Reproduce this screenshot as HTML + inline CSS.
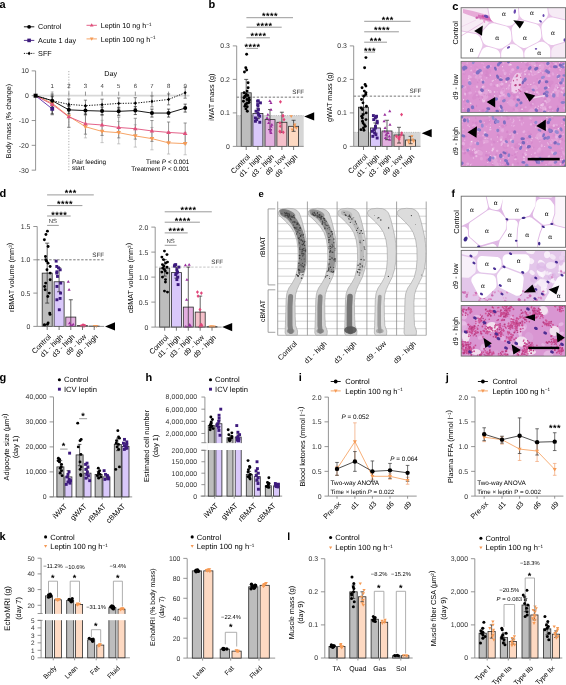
<!DOCTYPE html>
<html><head><meta charset="utf-8"><title>Figure</title>
<style>html,body{margin:0;padding:0;background:#fff;} svg{display:block;}</style></head>
<body><svg width="566" height="685" viewBox="0 0 566 685" font-family="'Liberation Sans', Arial, sans-serif" text-rendering="geometricPrecision">
<defs><filter id="soft" x="-5%" y="-5%" width="110%" height="110%"><feGaussianBlur stdDeviation="0.4"/></filter></defs>
<rect width="566" height="685" fill="#fff"/>
<text x="-0.6" y="7.7" font-size="11" font-weight="bold" fill="#000">a</text>
<line x1="23.9" y1="26.8" x2="34.3" y2="26.8" stroke="#000" stroke-width="0.9"/>
<circle cx="29.1" cy="26.8" r="1.9" fill="#000"/>
<text x="38.1" y="29.4" font-size="7.2">Control</text>
<line x1="23.9" y1="40.4" x2="34.3" y2="40.4" stroke="#3d1a7d" stroke-width="0.9"/>
<rect x="27.3" y="38.6" width="3.6" height="3.6" fill="#3d1a7d"/>
<text x="38.1" y="43" font-size="7.2">Acute 1 day</text>
<line x1="23.9" y1="53.4" x2="34.3" y2="53.4" stroke="#000" stroke-width="0.9" stroke-dasharray="1.2,1.2"/>
<polygon points="29.1,51.6 30.6,53.4 29.1,55.2 27.6,53.4" fill="#000"/>
<text x="38.1" y="56" font-size="7.2">SFF</text>
<line x1="86.5" y1="25.3" x2="96.9" y2="25.3" stroke="#e0507c" stroke-width="0.9"/>
<polygon points="91.7,23.35 93.57,26.57 89.83,26.57" fill="#e0507c"/>
<text x="100.7" y="27.9" font-size="7.2">Leptin 10 ng h<tspan dy="-2.2" font-size="4.6">−1</tspan></text>
<line x1="86.5" y1="38.9" x2="96.9" y2="38.9" stroke="#f59a55" stroke-width="0.9"/>
<polygon points="91.7,40.85 93.57,37.62 89.83,37.62" fill="#f59a55"/>
<text x="100.7" y="41.5" font-size="7.2">Leptin 100 ng h<tspan dy="-2.2" font-size="4.6">−1</tspan></text>
<line x1="35.6" y1="95.7" x2="189.5" y2="95.7" stroke="#d8d8d8" stroke-width="1.7"/>
<line x1="52.22" y1="91.6" x2="52.22" y2="95.7" stroke="#7a7a7a" stroke-width="0.8"/>
<text x="52.22" y="88.3" font-size="6" text-anchor="middle" fill="#333">1</text>
<line x1="68.84" y1="91.6" x2="68.84" y2="95.7" stroke="#7a7a7a" stroke-width="0.8"/>
<text x="68.84" y="88.3" font-size="6" text-anchor="middle" fill="#333">2</text>
<line x1="85.46" y1="91.6" x2="85.46" y2="95.7" stroke="#7a7a7a" stroke-width="0.8"/>
<text x="85.46" y="88.3" font-size="6" text-anchor="middle" fill="#333">3</text>
<line x1="102.08" y1="91.6" x2="102.08" y2="95.7" stroke="#7a7a7a" stroke-width="0.8"/>
<text x="102.08" y="88.3" font-size="6" text-anchor="middle" fill="#333">4</text>
<line x1="118.7" y1="91.6" x2="118.7" y2="95.7" stroke="#7a7a7a" stroke-width="0.8"/>
<text x="118.7" y="88.3" font-size="6" text-anchor="middle" fill="#333">5</text>
<line x1="135.32" y1="91.6" x2="135.32" y2="95.7" stroke="#7a7a7a" stroke-width="0.8"/>
<text x="135.32" y="88.3" font-size="6" text-anchor="middle" fill="#333">6</text>
<line x1="151.94" y1="91.6" x2="151.94" y2="95.7" stroke="#7a7a7a" stroke-width="0.8"/>
<text x="151.94" y="88.3" font-size="6" text-anchor="middle" fill="#333">7</text>
<line x1="168.56" y1="91.6" x2="168.56" y2="95.7" stroke="#7a7a7a" stroke-width="0.8"/>
<text x="168.56" y="88.3" font-size="6" text-anchor="middle" fill="#333">8</text>
<line x1="185.18" y1="91.6" x2="185.18" y2="95.7" stroke="#7a7a7a" stroke-width="0.8"/>
<text x="185.18" y="88.3" font-size="6" text-anchor="middle" fill="#333">9</text>
<text x="110.6" y="75.9" font-size="7.2" text-anchor="middle">Day</text>
<line x1="35.6" y1="70.9" x2="35.6" y2="170.4" stroke="#7a7a7a" stroke-width="0.8"/>
<line x1="31.7" y1="70.88" x2="35.6" y2="70.88" stroke="#7a7a7a" stroke-width="0.8"/>
<text x="28.8" y="73.33" font-size="6.9" text-anchor="end" fill="#333">10</text>
<line x1="31.7" y1="95.7" x2="35.6" y2="95.7" stroke="#7a7a7a" stroke-width="0.8"/>
<text x="28.8" y="98.15" font-size="6.9" text-anchor="end" fill="#333">0</text>
<line x1="31.7" y1="120.52" x2="35.6" y2="120.52" stroke="#7a7a7a" stroke-width="0.8"/>
<text x="28.8" y="122.97" font-size="6.9" text-anchor="end" fill="#333">-10</text>
<line x1="31.7" y1="145.34" x2="35.6" y2="145.34" stroke="#7a7a7a" stroke-width="0.8"/>
<text x="28.8" y="147.79" font-size="6.9" text-anchor="end" fill="#333">-20</text>
<line x1="31.7" y1="170.16" x2="35.6" y2="170.16" stroke="#7a7a7a" stroke-width="0.8"/>
<text x="28.8" y="172.61" font-size="6.9" text-anchor="end" fill="#333">-30</text>
<text x="10.7" y="121" font-size="7.2" text-anchor="middle" transform="rotate(-90 10.7 121)">Body mass (% change)</text>
<line x1="68.84" y1="71" x2="68.84" y2="170.5" stroke="#9a9a9a" stroke-width="0.8" stroke-dasharray="1.2,1.6"/>
<text x="72" y="163.9" font-size="6.4">Pair feeding</text>
<text x="72" y="170.2" font-size="6.4">start</text>
<text x="189.4" y="164" font-size="6.4" text-anchor="end">Time <tspan font-style="italic">P</tspan> &lt; 0.001</text>
<text x="189.4" y="170.8" font-size="6.4" text-anchor="end">Treatment <tspan font-style="italic">P</tspan> &lt; 0.001</text>
<line x1="52.22" y1="114.31" x2="52.22" y2="91.98" stroke="#b0b0b0" stroke-width="0.7"/>
<line x1="50.62" y1="114.31" x2="53.82" y2="114.31" stroke="#b0b0b0" stroke-width="0.7"/>
<line x1="50.62" y1="91.98" x2="53.82" y2="91.98" stroke="#b0b0b0" stroke-width="0.7"/>
<line x1="52.22" y1="114.81" x2="52.22" y2="93.96" stroke="#6a6a6a" stroke-width="0.7"/>
<line x1="50.62" y1="114.81" x2="53.82" y2="114.81" stroke="#6a6a6a" stroke-width="0.7"/>
<line x1="50.62" y1="93.96" x2="53.82" y2="93.96" stroke="#6a6a6a" stroke-width="0.7"/>
<line x1="52.22" y1="106.12" x2="52.22" y2="95.2" stroke="#555" stroke-width="0.7"/>
<line x1="50.62" y1="106.12" x2="53.82" y2="106.12" stroke="#555" stroke-width="0.7"/>
<line x1="50.62" y1="95.2" x2="53.82" y2="95.2" stroke="#555" stroke-width="0.7"/>
<line x1="52.22" y1="104.64" x2="52.22" y2="96.69" stroke="#222" stroke-width="0.7"/>
<line x1="50.62" y1="104.64" x2="53.82" y2="104.64" stroke="#222" stroke-width="0.7"/>
<line x1="50.62" y1="96.69" x2="53.82" y2="96.69" stroke="#222" stroke-width="0.7"/>
<line x1="68.84" y1="127.47" x2="68.84" y2="105.13" stroke="#b0b0b0" stroke-width="0.7"/>
<line x1="67.24" y1="127.47" x2="70.44" y2="127.47" stroke="#b0b0b0" stroke-width="0.7"/>
<line x1="67.24" y1="105.13" x2="70.44" y2="105.13" stroke="#b0b0b0" stroke-width="0.7"/>
<line x1="68.84" y1="127.22" x2="68.84" y2="106.37" stroke="#6a6a6a" stroke-width="0.7"/>
<line x1="67.24" y1="127.22" x2="70.44" y2="127.22" stroke="#6a6a6a" stroke-width="0.7"/>
<line x1="67.24" y1="106.37" x2="70.44" y2="106.37" stroke="#6a6a6a" stroke-width="0.7"/>
<line x1="68.84" y1="109.85" x2="68.84" y2="98.93" stroke="#555" stroke-width="0.7"/>
<line x1="67.24" y1="109.85" x2="70.44" y2="109.85" stroke="#555" stroke-width="0.7"/>
<line x1="67.24" y1="98.93" x2="70.44" y2="98.93" stroke="#555" stroke-width="0.7"/>
<line x1="68.84" y1="113.82" x2="68.84" y2="105.88" stroke="#222" stroke-width="0.7"/>
<line x1="67.24" y1="113.82" x2="70.44" y2="113.82" stroke="#222" stroke-width="0.7"/>
<line x1="67.24" y1="105.88" x2="70.44" y2="105.88" stroke="#222" stroke-width="0.7"/>
<line x1="85.46" y1="137.89" x2="85.46" y2="115.56" stroke="#b0b0b0" stroke-width="0.7"/>
<line x1="83.86" y1="137.89" x2="87.06" y2="137.89" stroke="#b0b0b0" stroke-width="0.7"/>
<line x1="83.86" y1="115.56" x2="87.06" y2="115.56" stroke="#b0b0b0" stroke-width="0.7"/>
<line x1="85.46" y1="134.17" x2="85.46" y2="113.32" stroke="#6a6a6a" stroke-width="0.7"/>
<line x1="83.86" y1="134.17" x2="87.06" y2="134.17" stroke="#6a6a6a" stroke-width="0.7"/>
<line x1="83.86" y1="113.32" x2="87.06" y2="113.32" stroke="#6a6a6a" stroke-width="0.7"/>
<line x1="85.46" y1="111.09" x2="85.46" y2="100.17" stroke="#555" stroke-width="0.7"/>
<line x1="83.86" y1="111.09" x2="87.06" y2="111.09" stroke="#555" stroke-width="0.7"/>
<line x1="83.86" y1="100.17" x2="87.06" y2="100.17" stroke="#555" stroke-width="0.7"/>
<line x1="85.46" y1="114.56" x2="85.46" y2="106.62" stroke="#222" stroke-width="0.7"/>
<line x1="83.86" y1="114.56" x2="87.06" y2="114.56" stroke="#222" stroke-width="0.7"/>
<line x1="83.86" y1="106.62" x2="87.06" y2="106.62" stroke="#222" stroke-width="0.7"/>
<line x1="102.08" y1="142.61" x2="102.08" y2="120.27" stroke="#b0b0b0" stroke-width="0.7"/>
<line x1="100.48" y1="142.61" x2="103.68" y2="142.61" stroke="#b0b0b0" stroke-width="0.7"/>
<line x1="100.48" y1="120.27" x2="103.68" y2="120.27" stroke="#b0b0b0" stroke-width="0.7"/>
<line x1="102.08" y1="135.41" x2="102.08" y2="114.56" stroke="#6a6a6a" stroke-width="0.7"/>
<line x1="100.48" y1="135.41" x2="103.68" y2="135.41" stroke="#6a6a6a" stroke-width="0.7"/>
<line x1="100.48" y1="114.56" x2="103.68" y2="114.56" stroke="#6a6a6a" stroke-width="0.7"/>
<line x1="102.08" y1="110.1" x2="102.08" y2="99.17" stroke="#555" stroke-width="0.7"/>
<line x1="100.48" y1="110.1" x2="103.68" y2="110.1" stroke="#555" stroke-width="0.7"/>
<line x1="100.48" y1="99.17" x2="103.68" y2="99.17" stroke="#555" stroke-width="0.7"/>
<line x1="102.08" y1="115.06" x2="102.08" y2="107.12" stroke="#222" stroke-width="0.7"/>
<line x1="100.48" y1="115.06" x2="103.68" y2="115.06" stroke="#222" stroke-width="0.7"/>
<line x1="100.48" y1="107.12" x2="103.68" y2="107.12" stroke="#222" stroke-width="0.7"/>
<line x1="118.7" y1="143.85" x2="118.7" y2="121.51" stroke="#b0b0b0" stroke-width="0.7"/>
<line x1="117.1" y1="143.85" x2="120.3" y2="143.85" stroke="#b0b0b0" stroke-width="0.7"/>
<line x1="117.1" y1="121.51" x2="120.3" y2="121.51" stroke="#b0b0b0" stroke-width="0.7"/>
<line x1="118.7" y1="137.89" x2="118.7" y2="117.05" stroke="#6a6a6a" stroke-width="0.7"/>
<line x1="117.1" y1="137.89" x2="120.3" y2="137.89" stroke="#6a6a6a" stroke-width="0.7"/>
<line x1="117.1" y1="117.05" x2="120.3" y2="117.05" stroke="#6a6a6a" stroke-width="0.7"/>
<line x1="118.7" y1="108.85" x2="118.7" y2="97.93" stroke="#555" stroke-width="0.7"/>
<line x1="117.1" y1="108.85" x2="120.3" y2="108.85" stroke="#555" stroke-width="0.7"/>
<line x1="117.1" y1="97.93" x2="120.3" y2="97.93" stroke="#555" stroke-width="0.7"/>
<line x1="118.7" y1="115.31" x2="118.7" y2="107.37" stroke="#222" stroke-width="0.7"/>
<line x1="117.1" y1="115.31" x2="120.3" y2="115.31" stroke="#222" stroke-width="0.7"/>
<line x1="117.1" y1="107.37" x2="120.3" y2="107.37" stroke="#222" stroke-width="0.7"/>
<line x1="135.32" y1="147.08" x2="135.32" y2="124.74" stroke="#b0b0b0" stroke-width="0.7"/>
<line x1="133.72" y1="147.08" x2="136.92" y2="147.08" stroke="#b0b0b0" stroke-width="0.7"/>
<line x1="133.72" y1="124.74" x2="136.92" y2="124.74" stroke="#b0b0b0" stroke-width="0.7"/>
<line x1="135.32" y1="139.13" x2="135.32" y2="118.29" stroke="#6a6a6a" stroke-width="0.7"/>
<line x1="133.72" y1="139.13" x2="136.92" y2="139.13" stroke="#6a6a6a" stroke-width="0.7"/>
<line x1="133.72" y1="118.29" x2="136.92" y2="118.29" stroke="#6a6a6a" stroke-width="0.7"/>
<line x1="135.32" y1="108.61" x2="135.32" y2="97.69" stroke="#555" stroke-width="0.7"/>
<line x1="133.72" y1="108.61" x2="136.92" y2="108.61" stroke="#555" stroke-width="0.7"/>
<line x1="133.72" y1="97.69" x2="136.92" y2="97.69" stroke="#555" stroke-width="0.7"/>
<line x1="135.32" y1="114.56" x2="135.32" y2="106.62" stroke="#222" stroke-width="0.7"/>
<line x1="133.72" y1="114.56" x2="136.92" y2="114.56" stroke="#222" stroke-width="0.7"/>
<line x1="133.72" y1="106.62" x2="136.92" y2="106.62" stroke="#222" stroke-width="0.7"/>
<line x1="151.94" y1="149.81" x2="151.94" y2="127.47" stroke="#b0b0b0" stroke-width="0.7"/>
<line x1="150.34" y1="149.81" x2="153.54" y2="149.81" stroke="#b0b0b0" stroke-width="0.7"/>
<line x1="150.34" y1="127.47" x2="153.54" y2="127.47" stroke="#b0b0b0" stroke-width="0.7"/>
<line x1="151.94" y1="141.37" x2="151.94" y2="120.52" stroke="#6a6a6a" stroke-width="0.7"/>
<line x1="150.34" y1="141.37" x2="153.54" y2="141.37" stroke="#6a6a6a" stroke-width="0.7"/>
<line x1="150.34" y1="120.52" x2="153.54" y2="120.52" stroke="#6a6a6a" stroke-width="0.7"/>
<line x1="151.94" y1="106.87" x2="151.94" y2="95.95" stroke="#555" stroke-width="0.7"/>
<line x1="150.34" y1="106.87" x2="153.54" y2="106.87" stroke="#555" stroke-width="0.7"/>
<line x1="150.34" y1="95.95" x2="153.54" y2="95.95" stroke="#555" stroke-width="0.7"/>
<line x1="151.94" y1="117.05" x2="151.94" y2="109.1" stroke="#222" stroke-width="0.7"/>
<line x1="150.34" y1="117.05" x2="153.54" y2="117.05" stroke="#222" stroke-width="0.7"/>
<line x1="150.34" y1="109.1" x2="153.54" y2="109.1" stroke="#222" stroke-width="0.7"/>
<line x1="168.56" y1="154.03" x2="168.56" y2="131.69" stroke="#b0b0b0" stroke-width="0.7"/>
<line x1="166.96" y1="154.03" x2="170.16" y2="154.03" stroke="#b0b0b0" stroke-width="0.7"/>
<line x1="166.96" y1="131.69" x2="170.16" y2="131.69" stroke="#b0b0b0" stroke-width="0.7"/>
<line x1="168.56" y1="142.86" x2="168.56" y2="122.01" stroke="#6a6a6a" stroke-width="0.7"/>
<line x1="166.96" y1="142.86" x2="170.16" y2="142.86" stroke="#6a6a6a" stroke-width="0.7"/>
<line x1="166.96" y1="122.01" x2="170.16" y2="122.01" stroke="#6a6a6a" stroke-width="0.7"/>
<line x1="168.56" y1="104.88" x2="168.56" y2="93.96" stroke="#555" stroke-width="0.7"/>
<line x1="166.96" y1="104.88" x2="170.16" y2="104.88" stroke="#555" stroke-width="0.7"/>
<line x1="166.96" y1="93.96" x2="170.16" y2="93.96" stroke="#555" stroke-width="0.7"/>
<line x1="168.56" y1="117.05" x2="168.56" y2="109.1" stroke="#222" stroke-width="0.7"/>
<line x1="166.96" y1="117.05" x2="170.16" y2="117.05" stroke="#222" stroke-width="0.7"/>
<line x1="166.96" y1="109.1" x2="170.16" y2="109.1" stroke="#222" stroke-width="0.7"/>
<line x1="185.18" y1="154.77" x2="185.18" y2="132.43" stroke="#b0b0b0" stroke-width="0.7"/>
<line x1="183.58" y1="154.77" x2="186.78" y2="154.77" stroke="#b0b0b0" stroke-width="0.7"/>
<line x1="183.58" y1="132.43" x2="186.78" y2="132.43" stroke="#b0b0b0" stroke-width="0.7"/>
<line x1="185.18" y1="143.85" x2="185.18" y2="123" stroke="#6a6a6a" stroke-width="0.7"/>
<line x1="183.58" y1="143.85" x2="186.78" y2="143.85" stroke="#6a6a6a" stroke-width="0.7"/>
<line x1="183.58" y1="123" x2="186.78" y2="123" stroke="#6a6a6a" stroke-width="0.7"/>
<line x1="185.18" y1="98.18" x2="185.18" y2="87.26" stroke="#555" stroke-width="0.7"/>
<line x1="183.58" y1="98.18" x2="186.78" y2="98.18" stroke="#555" stroke-width="0.7"/>
<line x1="183.58" y1="87.26" x2="186.78" y2="87.26" stroke="#555" stroke-width="0.7"/>
<line x1="185.18" y1="112.08" x2="185.18" y2="104.14" stroke="#222" stroke-width="0.7"/>
<line x1="183.58" y1="112.08" x2="186.78" y2="112.08" stroke="#222" stroke-width="0.7"/>
<line x1="183.58" y1="104.14" x2="186.78" y2="104.14" stroke="#222" stroke-width="0.7"/>
<line x1="52.22" y1="113.82" x2="52.22" y2="103.89" stroke="#222" stroke-width="0.7"/>
<line x1="50.62" y1="113.82" x2="53.82" y2="113.82" stroke="#222" stroke-width="0.7"/>
<line x1="50.62" y1="103.89" x2="53.82" y2="103.89" stroke="#222" stroke-width="0.7"/>
<polyline points="35.6,95.7 52.22,103.15 68.84,116.3 85.46,126.73 102.08,131.44 118.7,132.68 135.32,135.91 151.94,138.64 168.56,142.86 185.18,143.6" fill="none" stroke="#f59a55" stroke-width="0.9" stroke-linejoin="round"/>
<polyline points="35.6,95.7 52.22,104.39 68.84,116.8 85.46,123.75 102.08,124.99 118.7,127.47 135.32,128.71 151.94,130.94 168.56,132.43 185.18,133.43" fill="none" stroke="#e0507c" stroke-width="0.9" stroke-linejoin="round"/>
<polyline points="35.6,95.7 52.22,108.85" fill="none" stroke="#5a2aa8" stroke-width="0.9" stroke-linejoin="round"/>
<polyline points="35.6,95.7 52.22,100.66 68.84,104.39 85.46,105.63 102.08,104.64 118.7,103.39 135.32,103.15 151.94,101.41 168.56,99.42 185.18,92.72" fill="none" stroke="#000" stroke-width="0.9" stroke-linejoin="round" stroke-dasharray="1.3,1.3"/>
<polyline points="35.6,95.7 52.22,100.66 68.84,109.85 85.46,110.59 102.08,111.09 118.7,111.34 135.32,110.59 151.94,113.07 168.56,113.07 185.18,108.11" fill="none" stroke="#000" stroke-width="0.9" stroke-linejoin="round"/>
<polygon points="52.22,105.56 54.53,101.57 49.91,101.57" fill="#f59a55"/>
<polygon points="52.22,101.97 54.53,105.96 49.91,105.96" fill="#e0507c"/>
<polygon points="52.22,98.86 53.72,100.66 52.22,102.46 50.72,100.66" fill="#000"/>
<circle cx="52.22" cy="100.66" r="2" fill="#000"/>
<polygon points="68.84,118.72 71.15,114.73 66.53,114.73" fill="#f59a55"/>
<polygon points="68.84,114.38 71.15,118.37 66.53,118.37" fill="#e0507c"/>
<polygon points="68.84,102.59 70.34,104.39 68.84,106.19 67.34,104.39" fill="#000"/>
<circle cx="68.84" cy="109.85" r="2" fill="#000"/>
<polygon points="85.46,129.14 87.77,125.15 83.15,125.15" fill="#f59a55"/>
<polygon points="85.46,121.33 87.77,125.32 83.15,125.32" fill="#e0507c"/>
<polygon points="85.46,103.83 86.96,105.63 85.46,107.43 83.96,105.63" fill="#000"/>
<circle cx="85.46" cy="110.59" r="2" fill="#000"/>
<polygon points="102.08,133.86 104.39,129.87 99.77,129.87" fill="#f59a55"/>
<polygon points="102.08,122.57 104.39,126.56 99.77,126.56" fill="#e0507c"/>
<polygon points="102.08,102.84 103.58,104.64 102.08,106.44 100.58,104.64" fill="#000"/>
<circle cx="102.08" cy="111.09" r="2" fill="#000"/>
<polygon points="118.7,135.1 121.01,131.11 116.39,131.11" fill="#f59a55"/>
<polygon points="118.7,125.05 121.01,129.04 116.39,129.04" fill="#e0507c"/>
<polygon points="118.7,101.59 120.2,103.39 118.7,105.19 117.2,103.39" fill="#000"/>
<circle cx="118.7" cy="111.34" r="2" fill="#000"/>
<polygon points="135.32,138.32 137.63,134.33 133.01,134.33" fill="#f59a55"/>
<polygon points="135.32,126.3 137.63,130.29 133.01,130.29" fill="#e0507c"/>
<polygon points="135.32,101.35 136.82,103.15 135.32,104.95 133.82,103.15" fill="#000"/>
<circle cx="135.32" cy="110.59" r="2" fill="#000"/>
<polygon points="151.94,141.05 154.25,137.06 149.63,137.06" fill="#f59a55"/>
<polygon points="151.94,128.53 154.25,132.52 149.63,132.52" fill="#e0507c"/>
<polygon points="151.94,99.61 153.44,101.41 151.94,103.21 150.44,101.41" fill="#000"/>
<circle cx="151.94" cy="113.07" r="2" fill="#000"/>
<polygon points="168.56,145.27 170.87,141.28 166.25,141.28" fill="#f59a55"/>
<polygon points="168.56,130.02 170.87,134.01 166.25,134.01" fill="#e0507c"/>
<polygon points="168.56,97.62 170.06,99.42 168.56,101.22 167.06,99.42" fill="#000"/>
<circle cx="168.56" cy="113.07" r="2" fill="#000"/>
<polygon points="185.18,146.02 187.49,142.03 182.87,142.03" fill="#f59a55"/>
<polygon points="185.18,131.01 187.49,135 182.87,135" fill="#e0507c"/>
<polygon points="185.18,90.92 186.68,92.72 185.18,94.52 183.68,92.72" fill="#000"/>
<circle cx="185.18" cy="108.11" r="2" fill="#000"/>
<rect x="50.32" y="106.95" width="3.8" height="3.8" fill="#3d1a7d"/>
<rect x="33.6" y="93.7" width="4" height="4" fill="#000"/>
<text x="208.6" y="7.7" font-size="11" font-weight="bold" fill="#000">b</text>
<rect x="236.7" y="115.58" width="67" height="30.82" fill="#d6d6d6"/>
<line x1="236.7" y1="115.58" x2="303.7" y2="115.58" stroke="#8a8a8a" stroke-width="0.7" stroke-dasharray="0.7,1.1"/>
<rect x="241.2" y="92.8" width="10" height="53.6" fill="#bdbdbd" stroke="#2a2a2a" stroke-width="0.8"/>
<rect x="252.9" y="113.57" width="10" height="32.83" fill="#d9c8fa" stroke="#2a2a2a" stroke-width="0.8"/>
<rect x="265" y="119.6" width="10" height="26.8" fill="#e3afe0" stroke="#2a2a2a" stroke-width="0.8"/>
<rect x="276.9" y="122.28" width="10" height="24.12" fill="#f5c0ca" stroke="#2a2a2a" stroke-width="0.8"/>
<rect x="288.6" y="126.3" width="10" height="20.1" fill="#fdd9c2" stroke="#2a2a2a" stroke-width="0.8"/>
<line x1="236.7" y1="97.16" x2="303.7" y2="97.16" stroke="#4a4a4a" stroke-width="0.75" stroke-dasharray="2.4,1.6"/>
<text x="292.3" y="93.95" font-size="6.3" fill="#333">SFF</text>
<line x1="246.2" y1="105.53" x2="246.2" y2="79.4" stroke="#222" stroke-width="0.7"/>
<line x1="244.2" y1="105.53" x2="248.2" y2="105.53" stroke="#222" stroke-width="0.7"/>
<line x1="244.2" y1="79.4" x2="248.2" y2="79.4" stroke="#222" stroke-width="0.7"/>
<circle cx="246.63" cy="54.27" r="1.45" fill="#000"/>
<circle cx="245.77" cy="67.68" r="1.45" fill="#000"/>
<circle cx="246.67" cy="70.02" r="1.45" fill="#000"/>
<circle cx="244.44" cy="72.03" r="1.45" fill="#000"/>
<circle cx="248.08" cy="82.75" r="1.45" fill="#000"/>
<circle cx="248.14" cy="87.78" r="1.45" fill="#000"/>
<circle cx="247.12" cy="91.12" r="1.45" fill="#000"/>
<circle cx="244.16" cy="92.8" r="1.45" fill="#000"/>
<circle cx="246.32" cy="94.48" r="1.45" fill="#000"/>
<circle cx="245.17" cy="96.15" r="1.45" fill="#000"/>
<circle cx="244.7" cy="96.82" r="1.45" fill="#000"/>
<circle cx="248.92" cy="97.83" r="1.45" fill="#000"/>
<circle cx="249.18" cy="99.5" r="1.45" fill="#000"/>
<circle cx="243.47" cy="101.18" r="1.45" fill="#000"/>
<circle cx="248.36" cy="102.85" r="1.45" fill="#000"/>
<circle cx="246.82" cy="103.52" r="1.45" fill="#000"/>
<circle cx="245.49" cy="104.53" r="1.45" fill="#000"/>
<circle cx="244.9" cy="106.2" r="1.45" fill="#000"/>
<circle cx="247.25" cy="106.87" r="1.45" fill="#000"/>
<circle cx="245.94" cy="108.88" r="1.45" fill="#000"/>
<circle cx="247.32" cy="111.23" r="1.45" fill="#000"/>
<circle cx="247.17" cy="99.5" r="1.45" fill="#000"/>
<circle cx="244" cy="97.83" r="1.45" fill="#000"/>
<circle cx="247.81" cy="95.48" r="1.45" fill="#000"/>
<circle cx="249.09" cy="100.17" r="1.45" fill="#000"/>
<circle cx="249.02" cy="102.18" r="1.45" fill="#000"/>
<line x1="257.9" y1="118.59" x2="257.9" y2="108.88" stroke="#222" stroke-width="0.7"/>
<line x1="255.9" y1="118.59" x2="259.9" y2="118.59" stroke="#222" stroke-width="0.7"/>
<line x1="255.9" y1="108.88" x2="259.9" y2="108.88" stroke="#222" stroke-width="0.7"/>
<rect x="256.16" y="99.73" width="2.9" height="2.9" fill="#3d1a7d"/>
<rect x="256.81" y="99.39" width="2.9" height="2.9" fill="#3d1a7d"/>
<rect x="259" y="101.4" width="2.9" height="2.9" fill="#3d1a7d"/>
<rect x="256.24" y="103.08" width="2.9" height="2.9" fill="#3d1a7d"/>
<rect x="256.5" y="104.75" width="2.9" height="2.9" fill="#3d1a7d"/>
<rect x="256.97" y="108.1" width="2.9" height="2.9" fill="#3d1a7d"/>
<rect x="254.56" y="109.78" width="2.9" height="2.9" fill="#3d1a7d"/>
<rect x="256.52" y="111.45" width="2.9" height="2.9" fill="#3d1a7d"/>
<rect x="257.23" y="113.12" width="2.9" height="2.9" fill="#3d1a7d"/>
<rect x="258.21" y="114.8" width="2.9" height="2.9" fill="#3d1a7d"/>
<rect x="254.01" y="116.48" width="2.9" height="2.9" fill="#3d1a7d"/>
<rect x="255.27" y="118.15" width="2.9" height="2.9" fill="#3d1a7d"/>
<rect x="253.99" y="119.83" width="2.9" height="2.9" fill="#3d1a7d"/>
<rect x="258.31" y="120.83" width="2.9" height="2.9" fill="#3d1a7d"/>
<line x1="270" y1="129.65" x2="270" y2="109.55" stroke="#222" stroke-width="0.7"/>
<line x1="268" y1="129.65" x2="272" y2="129.65" stroke="#222" stroke-width="0.7"/>
<line x1="268" y1="109.55" x2="272" y2="109.55" stroke="#222" stroke-width="0.7"/>
<polygon points="269.85,99.17 271.44,101.93 268.25,101.93" fill="#992f9c"/>
<polygon points="270.94,101.18 272.54,103.94 269.35,103.94" fill="#992f9c"/>
<polygon points="271,107.88 272.59,110.64 269.4,110.64" fill="#992f9c"/>
<polygon points="267.86,112.91 269.45,115.66 266.26,115.66" fill="#992f9c"/>
<polygon points="267.07,116.26 268.66,119.01 265.47,119.01" fill="#992f9c"/>
<polygon points="269.25,117.93 270.84,120.69 267.65,120.69" fill="#992f9c"/>
<polygon points="268.64,121.28 270.24,124.04 267.05,124.04" fill="#992f9c"/>
<polygon points="271.86,122.96 273.46,125.71 270.27,125.71" fill="#992f9c"/>
<polygon points="271.14,124.63 272.74,127.39 269.55,127.39" fill="#992f9c"/>
<polygon points="270.61,127.98 272.2,130.74 269.01,130.74" fill="#992f9c"/>
<polygon points="270.35,129.66 271.94,132.41 268.75,132.41" fill="#992f9c"/>
<polygon points="270.97,131.33 272.56,134.09 269.37,134.09" fill="#992f9c"/>
<line x1="281.9" y1="132.33" x2="281.9" y2="112.23" stroke="#222" stroke-width="0.7"/>
<line x1="279.9" y1="132.33" x2="283.9" y2="132.33" stroke="#222" stroke-width="0.7"/>
<line x1="279.9" y1="112.23" x2="283.9" y2="112.23" stroke="#222" stroke-width="0.7"/>
<polygon points="280.45,100.05 281.95,101.84 280.45,103.64 278.95,101.84" fill="#e2457a"/>
<polygon points="283.01,113.78 284.51,115.58 283.01,117.38 281.51,115.58" fill="#e2457a"/>
<polygon points="283,114.45 284.5,116.25 283,118.05 281.5,116.25" fill="#e2457a"/>
<polygon points="284,117.8 285.5,119.6 284,121.4 282.5,119.6" fill="#e2457a"/>
<polygon points="280.01,121.15 281.51,122.95 280.01,124.75 278.51,122.95" fill="#e2457a"/>
<polygon points="280.28,124.5 281.78,126.3 280.28,128.1 278.78,126.3" fill="#e2457a"/>
<polygon points="279.78,129.53 281.28,131.33 279.78,133.13 278.28,131.33" fill="#e2457a"/>
<polygon points="280.25,130.19 281.75,132 280.25,133.8 278.75,132" fill="#e2457a"/>
<polygon points="283.3,130.53 284.8,132.33 283.3,134.13 281.8,132.33" fill="#e2457a"/>
<line x1="293.6" y1="131.33" x2="293.6" y2="120.27" stroke="#222" stroke-width="0.7"/>
<line x1="291.6" y1="131.33" x2="295.6" y2="131.33" stroke="#222" stroke-width="0.7"/>
<line x1="291.6" y1="120.27" x2="295.6" y2="120.27" stroke="#222" stroke-width="0.7"/>
<polygon points="291.24,117.92 292.84,115.16 289.65,115.16" fill="#f59a55"/>
<polygon points="294.82,126.29 296.41,123.54 293.22,123.54" fill="#f59a55"/>
<polygon points="294.51,127.97 296.11,125.21 292.92,125.21" fill="#f59a55"/>
<polygon points="296.24,129.64 297.84,126.89 294.65,126.89" fill="#f59a55"/>
<polygon points="292.23,131.32 293.82,128.56 290.63,128.56" fill="#f59a55"/>
<line x1="236.7" y1="146.4" x2="303.7" y2="146.4" stroke="#7a7a7a" stroke-width="0.8"/>
<line x1="236.7" y1="45.9" x2="236.7" y2="146.4" stroke="#7a7a7a" stroke-width="0.8"/>
<line x1="232.8" y1="45.9" x2="236.7" y2="45.9" stroke="#7a7a7a" stroke-width="0.8"/>
<text x="229.9" y="48.35" font-size="6.9" text-anchor="end" fill="#333">0.3</text>
<line x1="232.8" y1="79.4" x2="236.7" y2="79.4" stroke="#7a7a7a" stroke-width="0.8"/>
<text x="229.9" y="81.85" font-size="6.9" text-anchor="end" fill="#333">0.2</text>
<line x1="232.8" y1="112.9" x2="236.7" y2="112.9" stroke="#7a7a7a" stroke-width="0.8"/>
<text x="229.9" y="115.35" font-size="6.9" text-anchor="end" fill="#333">0.1</text>
<line x1="232.8" y1="146.4" x2="236.7" y2="146.4" stroke="#7a7a7a" stroke-width="0.8"/>
<text x="229.9" y="148.85" font-size="6.9" text-anchor="end" fill="#333">0</text>
<line x1="246.2" y1="146.4" x2="246.2" y2="150" stroke="#555" stroke-width="0.8"/>
<line x1="257.9" y1="146.4" x2="257.9" y2="150" stroke="#555" stroke-width="0.8"/>
<line x1="270" y1="146.4" x2="270" y2="150" stroke="#555" stroke-width="0.8"/>
<line x1="281.9" y1="146.4" x2="281.9" y2="150" stroke="#555" stroke-width="0.8"/>
<line x1="293.6" y1="146.4" x2="293.6" y2="150" stroke="#555" stroke-width="0.8"/>
<text x="214.5" y="97.15" font-size="7.3" text-anchor="middle" transform="rotate(-90 214.5 97.15)">iWAT mass (g)</text>
<polygon points="304.2,116.38 314.2,112.18 314.2,120.58" fill="#000"/>
<line x1="246.4" y1="48.4" x2="258" y2="48.4" stroke="#8e8e8e" stroke-width="0.9"/>
<text x="252.57" y="49.9" font-size="9" text-anchor="middle" font-weight="bold" letter-spacing="0.5">****</text>
<line x1="246.4" y1="37.8" x2="269.9" y2="37.8" stroke="#8e8e8e" stroke-width="0.9"/>
<text x="258.52" y="39.3" font-size="9" text-anchor="middle" font-weight="bold" letter-spacing="0.5">****</text>
<line x1="246.4" y1="27.2" x2="281.7" y2="27.2" stroke="#8e8e8e" stroke-width="0.9"/>
<text x="264.43" y="28.7" font-size="9" text-anchor="middle" font-weight="bold" letter-spacing="0.5">****</text>
<line x1="246.4" y1="17.7" x2="293" y2="17.7" stroke="#8e8e8e" stroke-width="0.9"/>
<text x="270.07" y="19.2" font-size="9" text-anchor="middle" font-weight="bold" letter-spacing="0.5">****</text>
<text x="250.5" y="157.3" font-size="7.4" text-anchor="end" transform="rotate(-45 250.5 157.3)">Control</text>
<text x="262.2" y="157.3" font-size="7.4" text-anchor="end" transform="rotate(-45 262.2 157.3)">d1 - high</text>
<text x="274.3" y="157.3" font-size="7.4" text-anchor="end" transform="rotate(-45 274.3 157.3)">d3 - high</text>
<text x="286.2" y="157.3" font-size="7.4" text-anchor="end" transform="rotate(-45 286.2 157.3)">d9 - low</text>
<text x="297.9" y="157.3" font-size="7.4" text-anchor="end" transform="rotate(-45 297.9 157.3)">d9 - high</text>
<rect x="353.7" y="132.33" width="66.8" height="14.07" fill="#d6d6d6"/>
<line x1="353.7" y1="132.33" x2="420.5" y2="132.33" stroke="#8a8a8a" stroke-width="0.7" stroke-dasharray="0.7,1.1"/>
<rect x="358.5" y="107.21" width="10" height="39.19" fill="#bdbdbd" stroke="#2a2a2a" stroke-width="0.8"/>
<rect x="370.4" y="127.98" width="10" height="18.42" fill="#d9c8fa" stroke="#2a2a2a" stroke-width="0.8"/>
<rect x="382" y="130.99" width="10" height="15.41" fill="#e3afe0" stroke="#2a2a2a" stroke-width="0.8"/>
<rect x="394" y="135.01" width="10" height="11.39" fill="#f5c0ca" stroke="#2a2a2a" stroke-width="0.8"/>
<rect x="405.6" y="140.03" width="10" height="6.37" fill="#fdd9c2" stroke="#2a2a2a" stroke-width="0.8"/>
<line x1="353.7" y1="96.15" x2="420.5" y2="96.15" stroke="#4a4a4a" stroke-width="0.75" stroke-dasharray="2.4,1.6"/>
<text x="409.5" y="92.95" font-size="6.3" fill="#333">SFF</text>
<line x1="363.5" y1="113.57" x2="363.5" y2="95.15" stroke="#222" stroke-width="0.7"/>
<line x1="361.5" y1="113.57" x2="365.5" y2="113.57" stroke="#222" stroke-width="0.7"/>
<line x1="361.5" y1="95.15" x2="365.5" y2="95.15" stroke="#222" stroke-width="0.7"/>
<circle cx="365.93" cy="57.62" r="1.45" fill="#000"/>
<circle cx="364.62" cy="67.68" r="1.45" fill="#000"/>
<circle cx="365.1" cy="84.43" r="1.45" fill="#000"/>
<circle cx="365.93" cy="86.1" r="1.45" fill="#000"/>
<circle cx="362.06" cy="87.78" r="1.45" fill="#000"/>
<circle cx="364.31" cy="91.12" r="1.45" fill="#000"/>
<circle cx="365.93" cy="92.8" r="1.45" fill="#000"/>
<circle cx="365.73" cy="94.48" r="1.45" fill="#000"/>
<circle cx="363.94" cy="96.15" r="1.45" fill="#000"/>
<circle cx="361.52" cy="99.5" r="1.45" fill="#000"/>
<circle cx="362.97" cy="102.85" r="1.45" fill="#000"/>
<circle cx="366.46" cy="106.2" r="1.45" fill="#000"/>
<circle cx="361.12" cy="107.88" r="1.45" fill="#000"/>
<circle cx="362.41" cy="109.55" r="1.45" fill="#000"/>
<circle cx="366.2" cy="112.9" r="1.45" fill="#000"/>
<circle cx="363.2" cy="114.58" r="1.45" fill="#000"/>
<circle cx="361.75" cy="116.25" r="1.45" fill="#000"/>
<circle cx="362.4" cy="117.93" r="1.45" fill="#000"/>
<circle cx="365.95" cy="119.6" r="1.45" fill="#000"/>
<circle cx="362.51" cy="121.28" r="1.45" fill="#000"/>
<circle cx="363.06" cy="122.95" r="1.45" fill="#000"/>
<circle cx="364.27" cy="124.62" r="1.45" fill="#000"/>
<circle cx="365.33" cy="126.3" r="1.45" fill="#000"/>
<circle cx="363.45" cy="127.98" r="1.45" fill="#000"/>
<circle cx="360.99" cy="129.65" r="1.45" fill="#000"/>
<circle cx="363.94" cy="130.32" r="1.45" fill="#000"/>
<line x1="375.4" y1="133" x2="375.4" y2="122.95" stroke="#222" stroke-width="0.7"/>
<line x1="373.4" y1="133" x2="377.4" y2="133" stroke="#222" stroke-width="0.7"/>
<line x1="373.4" y1="122.95" x2="377.4" y2="122.95" stroke="#222" stroke-width="0.7"/>
<rect x="371.94" y="114.13" width="2.9" height="2.9" fill="#3d1a7d"/>
<rect x="375.09" y="114.8" width="2.9" height="2.9" fill="#3d1a7d"/>
<rect x="374.76" y="115.47" width="2.9" height="2.9" fill="#3d1a7d"/>
<rect x="373.82" y="116.48" width="2.9" height="2.9" fill="#3d1a7d"/>
<rect x="372.25" y="118.15" width="2.9" height="2.9" fill="#3d1a7d"/>
<rect x="375.71" y="119.83" width="2.9" height="2.9" fill="#3d1a7d"/>
<rect x="375.8" y="121.5" width="2.9" height="2.9" fill="#3d1a7d"/>
<rect x="374.02" y="124.85" width="2.9" height="2.9" fill="#3d1a7d"/>
<rect x="373.98" y="126.53" width="2.9" height="2.9" fill="#3d1a7d"/>
<rect x="372.37" y="128.2" width="2.9" height="2.9" fill="#3d1a7d"/>
<rect x="370.97" y="129.88" width="2.9" height="2.9" fill="#3d1a7d"/>
<rect x="373.18" y="131.55" width="2.9" height="2.9" fill="#3d1a7d"/>
<rect x="374.46" y="133.23" width="2.9" height="2.9" fill="#3d1a7d"/>
<rect x="371.37" y="134.9" width="2.9" height="2.9" fill="#3d1a7d"/>
<rect x="375.71" y="136.58" width="2.9" height="2.9" fill="#3d1a7d"/>
<line x1="387" y1="139.7" x2="387" y2="120.27" stroke="#222" stroke-width="0.7"/>
<line x1="385" y1="139.7" x2="389" y2="139.7" stroke="#222" stroke-width="0.7"/>
<line x1="385" y1="120.27" x2="389" y2="120.27" stroke="#222" stroke-width="0.7"/>
<polygon points="389.75,109.56 391.34,112.31 388.15,112.31" fill="#992f9c"/>
<polygon points="384.84,112.91 386.44,115.66 383.25,115.66" fill="#992f9c"/>
<polygon points="384.14,119.61 385.74,122.36 382.55,122.36" fill="#992f9c"/>
<polygon points="389.99,122.96 391.59,125.71 388.4,125.71" fill="#992f9c"/>
<polygon points="385.11,126.31 386.7,129.06 383.51,129.06" fill="#992f9c"/>
<polygon points="384.72,129.66 386.32,132.41 383.13,132.41" fill="#992f9c"/>
<polygon points="387.91,131.33 389.5,134.09 386.31,134.09" fill="#992f9c"/>
<polygon points="386.07,133.01 387.67,135.76 384.48,135.76" fill="#992f9c"/>
<polygon points="389.34,134.68 390.93,137.44 387.74,137.44" fill="#992f9c"/>
<polygon points="385.39,136.36 386.99,139.11 383.8,139.11" fill="#992f9c"/>
<polygon points="389.76,138.03 391.35,140.79 388.16,140.79" fill="#992f9c"/>
<line x1="399" y1="143.05" x2="399" y2="127.31" stroke="#222" stroke-width="0.7"/>
<line x1="397" y1="143.05" x2="401" y2="143.05" stroke="#222" stroke-width="0.7"/>
<line x1="397" y1="127.31" x2="401" y2="127.31" stroke="#222" stroke-width="0.7"/>
<polygon points="401.55,112.78 403.05,114.58 401.55,116.38 400.05,114.58" fill="#e2457a"/>
<polygon points="401.69,131.2 403.19,133 401.69,134.8 400.19,133" fill="#e2457a"/>
<polygon points="401.35,132.88 402.85,134.68 401.35,136.48 399.85,134.68" fill="#e2457a"/>
<polygon points="396.5,134.55 398,136.35 396.5,138.15 395,136.35" fill="#e2457a"/>
<polygon points="399.55,135.22 401.05,137.02 399.55,138.82 398.05,137.02" fill="#e2457a"/>
<polygon points="398.54,136.22 400.04,138.03 398.54,139.83 397.04,138.03" fill="#e2457a"/>
<polygon points="399.18,137.23 400.68,139.03 399.18,140.83 397.68,139.03" fill="#e2457a"/>
<line x1="410.6" y1="143.72" x2="410.6" y2="136.35" stroke="#222" stroke-width="0.7"/>
<line x1="408.6" y1="143.72" x2="412.6" y2="143.72" stroke="#222" stroke-width="0.7"/>
<line x1="408.6" y1="136.35" x2="412.6" y2="136.35" stroke="#222" stroke-width="0.7"/>
<polygon points="411.87,138.02 413.47,135.26 410.28,135.26" fill="#f59a55"/>
<polygon points="412.64,141.37 414.23,138.61 411.04,138.61" fill="#f59a55"/>
<polygon points="408.7,142.04 410.29,139.28 407.1,139.28" fill="#f59a55"/>
<polygon points="413.59,143.04 415.18,140.29 411.99,140.29" fill="#f59a55"/>
<polygon points="408.76,144.05 410.36,141.29 407.17,141.29" fill="#f59a55"/>
<line x1="353.7" y1="146.4" x2="420.5" y2="146.4" stroke="#7a7a7a" stroke-width="0.8"/>
<line x1="353.7" y1="45.9" x2="353.7" y2="146.4" stroke="#7a7a7a" stroke-width="0.8"/>
<line x1="349.8" y1="45.9" x2="353.7" y2="45.9" stroke="#7a7a7a" stroke-width="0.8"/>
<text x="346.9" y="48.35" font-size="6.9" text-anchor="end" fill="#333">0.3</text>
<line x1="349.8" y1="79.4" x2="353.7" y2="79.4" stroke="#7a7a7a" stroke-width="0.8"/>
<text x="346.9" y="81.85" font-size="6.9" text-anchor="end" fill="#333">0.2</text>
<line x1="349.8" y1="112.9" x2="353.7" y2="112.9" stroke="#7a7a7a" stroke-width="0.8"/>
<text x="346.9" y="115.35" font-size="6.9" text-anchor="end" fill="#333">0.1</text>
<line x1="349.8" y1="146.4" x2="353.7" y2="146.4" stroke="#7a7a7a" stroke-width="0.8"/>
<text x="346.9" y="148.85" font-size="6.9" text-anchor="end" fill="#333">0</text>
<line x1="363.5" y1="146.4" x2="363.5" y2="150" stroke="#555" stroke-width="0.8"/>
<line x1="375.4" y1="146.4" x2="375.4" y2="150" stroke="#555" stroke-width="0.8"/>
<line x1="387" y1="146.4" x2="387" y2="150" stroke="#555" stroke-width="0.8"/>
<line x1="399" y1="146.4" x2="399" y2="150" stroke="#555" stroke-width="0.8"/>
<line x1="410.6" y1="146.4" x2="410.6" y2="150" stroke="#555" stroke-width="0.8"/>
<text x="331.8" y="97.15" font-size="7.3" text-anchor="middle" transform="rotate(-90 331.8 97.15)">gWAT mass (g)</text>
<polygon points="421.7,133.13 431.7,128.93 431.7,137.33" fill="#000"/>
<line x1="364.2" y1="52.1" x2="375.1" y2="52.1" stroke="#8e8e8e" stroke-width="0.9"/>
<text x="369.9" y="53.6" font-size="9" text-anchor="middle" font-weight="bold" letter-spacing="0.5">***</text>
<line x1="364.2" y1="42.2" x2="387" y2="42.2" stroke="#8e8e8e" stroke-width="0.9"/>
<text x="375.85" y="43.7" font-size="9" text-anchor="middle" font-weight="bold" letter-spacing="0.5">***</text>
<line x1="364.2" y1="31.8" x2="398.9" y2="31.8" stroke="#8e8e8e" stroke-width="0.9"/>
<text x="381.92" y="33.3" font-size="9" text-anchor="middle" font-weight="bold" letter-spacing="0.5">****</text>
<line x1="364.2" y1="21.3" x2="410.6" y2="21.3" stroke="#8e8e8e" stroke-width="0.9"/>
<text x="387.65" y="22.8" font-size="9" text-anchor="middle" font-weight="bold" letter-spacing="0.5">***</text>
<text x="367.8" y="157.3" font-size="7.4" text-anchor="end" transform="rotate(-45 367.8 157.3)">Control</text>
<text x="379.7" y="157.3" font-size="7.4" text-anchor="end" transform="rotate(-45 379.7 157.3)">d1 - high</text>
<text x="391.3" y="157.3" font-size="7.4" text-anchor="end" transform="rotate(-45 391.3 157.3)">d3 - high</text>
<text x="403.3" y="157.3" font-size="7.4" text-anchor="end" transform="rotate(-45 403.3 157.3)">d9 - low</text>
<text x="414.9" y="157.3" font-size="7.4" text-anchor="end" transform="rotate(-45 414.9 157.3)">d9 - high</text>
<text x="452.2" y="9.5" font-size="11" font-weight="bold" fill="#000">c</text>
<clipPath id="cp1"><rect x="461.1" y="7.7" width="104.5" height="50.3"/></clipPath><g clip-path="url(#cp1)"><g filter="url(#soft)">
<rect x="461.1" y="7.7" width="104.5" height="50.3" fill="#e8c4e8"/>
<path d="M475.37,32.96 L476.08,33.05 L476.79,33.06 L477.5,33 L478.2,32.87 L478.88,32.67 L479.54,32.41 L480.17,32.07 L480.76,31.67 L481.31,31.22 L481.81,30.71 L487.51,24.29 L487.95,23.74 L488.33,23.15 L488.65,22.52 L488.91,21.86 L489.1,21.18 L489.22,20.49 L489.27,19.78 L489.25,19.08 L489.15,18.38 L480.95,-26.07 L480.79,-26.75 L480.56,-27.4 L480.28,-28.03 L479.92,-28.63 L479.52,-29.19 L479.05,-29.71 L478.54,-30.18 L477.99,-30.6 L477.4,-30.96 L476.77,-31.26 L476.12,-31.49 L475.45,-31.66 L474.76,-31.77 L474.07,-31.8 L428.6,-31.8 L427.91,-31.77 L427.23,-31.67 L426.57,-31.5 L425.92,-31.27 L425.3,-30.97 L424.71,-30.62 L424.16,-30.21 L423.65,-29.75 L423.19,-29.24 L422.78,-28.69 L422.43,-28.1 L422.13,-27.48 L421.9,-26.83 L421.73,-26.17 L421.63,-25.49 L421.6,-24.8 L421.6,17.69 L421.63,18.39 L421.74,19.08 L421.91,19.76 L422.15,20.41 L422.45,21.04 L422.82,21.64 L423.24,22.19 L423.72,22.71 L424.24,23.17 L424.81,23.57 L425.41,23.92 L426.05,24.21 L426.71,24.43 L427.4,24.59 L475.37,32.96Z " fill="#f7ecf5"/>
<path d="M463,9 C470,10 476,12 482,13.5 C490,15.5 500,18.5 512,21.5 L512,24.5 C502,24 492,22.5 484,20.5 C476,18 469,15 463,13 Z" fill="#e29ad0" opacity="0.8"/>
<path d="M478,14.5 C486,16 496,19 510,22 L510,23.8 C498,22.8 488,21 478,17.5 Z" fill="#cf5eae" opacity="0.75"/>
<ellipse cx="495.93" cy="19.93" rx="1.34" ry="1.3" fill="#e08cc8" opacity="0.8" transform="rotate(133.18 495.93 19.93)"/>
<ellipse cx="476.93" cy="17.72" rx="1.45" ry="1.2" fill="#c54aa2" opacity="0.8" transform="rotate(162.16 476.93 17.72)"/>
<ellipse cx="487.9" cy="20.95" rx="1" ry="0.55" fill="#e08cc8" opacity="0.8" transform="rotate(44.88 487.9 20.95)"/>
<ellipse cx="482.94" cy="16.24" rx="1.43" ry="1.27" fill="#c54aa2" opacity="0.8" transform="rotate(28.73 482.94 16.24)"/>
<ellipse cx="480.44" cy="18.94" rx="0.8" ry="0.4" fill="#c54aa2" opacity="0.8" transform="rotate(156.85 480.44 18.94)"/>
<ellipse cx="500.75" cy="21.68" rx="0.83" ry="0.49" fill="#c54aa2" opacity="0.8" transform="rotate(56.46 500.75 21.68)"/>
<ellipse cx="493.26" cy="19.42" rx="0.86" ry="0.84" fill="#cc5aab" opacity="0.8" transform="rotate(124.32 493.26 19.42)"/>
<ellipse cx="485.56" cy="16.89" rx="0.83" ry="0.48" fill="#cc5aab" opacity="0.8" transform="rotate(11.73 485.56 16.89)"/>
<ellipse cx="502.16" cy="18.69" rx="1.18" ry="1" fill="#cc5aab" opacity="0.8" transform="rotate(11.88 502.16 18.69)"/>
<ellipse cx="502.19" cy="17.85" rx="0.95" ry="0.71" fill="#c54aa2" opacity="0.8" transform="rotate(126.84 502.19 17.85)"/>
<ellipse cx="484.2" cy="21.51" rx="1.46" ry="0.99" fill="#e08cc8" opacity="0.8" transform="rotate(72.77 484.2 21.51)"/>
<ellipse cx="501.21" cy="16.93" rx="1.16" ry="0.59" fill="#c54aa2" opacity="0.8" transform="rotate(8.41 501.21 16.93)"/>
<path d="M489.93,17.09 L490.08,17.73 L490.29,18.36 L490.56,18.97 L490.89,19.54 L491.27,20.09 L491.7,20.59 L492.17,21.06 L492.69,21.47 L493.24,21.84 L493.82,22.15 L494.44,22.4 L495.07,22.6 L506.91,25.65 L507.55,25.78 L508.2,25.86 L508.86,25.87 L509.51,25.82 L510.16,25.71 L510.79,25.54 L511.41,25.31 L512,25.02 L512.56,24.68 L513.09,24.29 L513.57,23.85 L516.42,21.04 L516.88,20.55 L517.28,20.02 L517.63,19.45 L517.93,18.85 L518.16,18.22 L518.34,17.58 L518.45,16.92 L518.5,16.26 L518.49,15.59 L515.74,-25.27 L515.66,-25.97 L515.51,-26.65 L515.29,-27.32 L515,-27.96 L514.66,-28.57 L514.25,-29.14 L513.79,-29.67 L513.27,-30.15 L512.72,-30.57 L512.12,-30.94 L511.49,-31.24 L510.83,-31.49 L510.15,-31.66 L509.46,-31.76 L508.76,-31.8 L489.32,-31.8 L488.64,-31.77 L487.96,-31.67 L487.3,-31.5 L486.66,-31.28 L486.04,-30.99 L485.46,-30.64 L484.91,-30.23 L484.4,-29.78 L483.94,-29.28 L483.53,-28.73 L483.17,-28.15 L482.88,-27.54 L482.64,-26.9 L482.47,-26.24 L482.36,-25.57 L482.32,-24.89 L482.34,-24.2 L482.44,-23.53 L489.93,17.09Z " fill="#fff"/>
<path d="M519.36,13.66 L519.44,14.32 L519.58,14.97 L519.78,15.6 L520.03,16.21 L520.35,16.79 L520.71,17.34 L521.13,17.86 L521.6,18.33 L522.1,18.75 L522.65,19.13 L523.23,19.45 L523.83,19.72 L524.46,19.93 L536.34,23.26 L537.02,23.41 L537.7,23.5 L538.4,23.51 L539.09,23.46 L539.78,23.34 L540.45,23.15 L541.09,22.9 L541.71,22.58 L542.3,22.21 L542.84,21.78 L543.34,21.29 L546.03,18.42 L546.47,17.9 L546.86,17.34 L547.19,16.75 L547.46,16.12 L547.67,15.48 L547.82,14.81 L547.9,14.14 L547.91,13.46 L547.86,12.78 L543.14,-25.65 L543.03,-26.32 L542.85,-26.97 L542.61,-27.6 L542.31,-28.21 L541.95,-28.78 L541.54,-29.32 L541.08,-29.81 L540.58,-30.26 L540.03,-30.66 L539.45,-31 L538.83,-31.28 L538.2,-31.51 L537.54,-31.67 L536.87,-31.77 L536.2,-31.8 L523.79,-31.8 L523.12,-31.77 L522.45,-31.67 L521.79,-31.51 L521.16,-31.29 L520.55,-31 L519.96,-30.66 L519.42,-30.27 L518.91,-29.82 L518.45,-29.33 L518.04,-28.79 L517.68,-28.22 L517.38,-27.62 L517.14,-26.99 L516.96,-26.34 L516.84,-25.68 L516.79,-25 L516.81,-24.33 L519.36,13.66Z " fill="#fff"/>
<path d="M482.68,41.3 L482.97,41.95 L483.33,42.57 L483.75,43.16 L484.22,43.69 L484.75,44.18 L485.32,44.6 L485.94,44.97 L486.59,45.27 L487.26,45.51 L497.36,48.44 L498.02,48.6 L498.68,48.69 L499.35,48.72 L500.02,48.68 L500.68,48.59 L501.33,48.42 L501.96,48.2 L502.57,47.92 L503.15,47.58 L508.33,44.19 L508.89,43.78 L509.41,43.32 L509.88,42.81 L510.3,42.25 L510.66,41.66 L510.96,41.03 L511.19,40.37 L511.36,39.7 L511.47,39.01 L511.5,38.32 L511.46,37.62 L510.93,32.44 L510.83,31.74 L510.65,31.05 L510.4,30.39 L510.09,29.75 L509.71,29.15 L509.28,28.59 L508.79,28.07 L508.25,27.61 L507.67,27.21 L507.05,26.86 L506.39,26.59 L505.72,26.37 L494.62,23.51 L493.94,23.37 L493.25,23.3 L492.55,23.3 L491.85,23.37 L491.17,23.51 L490.5,23.71 L489.86,23.98 L489.24,24.31 L488.67,24.7 L488.13,25.15 L487.64,25.65 L482.81,31.09 L482.37,31.64 L481.99,32.22 L481.67,32.84 L481.42,33.48 L481.23,34.15 L481.1,34.83 L481.05,35.53 L481.06,36.22 L481.14,36.91 L481.29,37.59 L481.51,38.25 L482.68,41.3Z " fill="#fff"/>
<path d="M512.57,38.59 L512.67,39.26 L512.83,39.92 L513.06,40.55 L513.35,41.17 L513.7,41.75 L514.1,42.29 L514.55,42.8 L515.05,43.26 L515.59,43.66 L520.06,46.71 L520.64,47.06 L521.25,47.36 L521.89,47.6 L522.55,47.77 L523.22,47.88 L523.9,47.92 L524.58,47.9 L525.26,47.81 L525.92,47.65 L526.57,47.43 L527.19,47.15 L537.48,41.89 L538.09,41.53 L538.66,41.12 L539.19,40.65 L539.67,40.13 L540.1,39.56 L540.46,38.95 L540.76,38.31 L541,37.65 L541.17,36.96 L541.26,36.26 L541.29,35.55 L541.24,34.84 L540.68,30.02 L540.56,29.34 L540.39,28.68 L540.14,28.03 L539.83,27.41 L539.47,26.83 L539.05,26.28 L538.57,25.78 L538.06,25.33 L537.49,24.93 L536.9,24.59 L536.27,24.31 L535.61,24.09 L523.28,20.64 L522.63,20.49 L521.96,20.4 L521.29,20.38 L520.63,20.42 L519.97,20.52 L519.32,20.69 L518.69,20.92 L518.08,21.21 L517.51,21.55 L516.97,21.95 L516.47,22.4 L513.81,25.02 L513.34,25.54 L512.92,26.09 L512.56,26.69 L512.27,27.31 L512.03,27.97 L511.86,28.64 L511.76,29.33 L511.73,30.02 L511.76,30.72 L512.57,38.59Z " fill="#fff"/>
<path d="M542.47,36.73 L542.58,37.42 L542.77,38.1 L543.02,38.76 L543.34,39.39 L543.72,39.98 L544.16,40.53 L544.65,41.04 L545.19,41.49 L548.01,43.64 L548.56,44.02 L549.13,44.34 L549.74,44.6 L550.36,44.81 L551,44.96 L551.66,45.04 L552.31,45.07 L552.97,45.03 L553.62,44.93 L554.26,44.77 L580.09,37.03 L580.73,36.8 L581.35,36.51 L581.94,36.16 L582.49,35.76 L583,35.3 L583.46,34.8 L583.87,34.25 L584.22,33.67 L584.52,33.06 L584.76,32.42 L584.93,31.76 L585.04,31.08 L585.08,30.4 L585.05,29.72 L584.96,29.04 L584.8,28.38 L584.58,27.73 L584.3,27.11 L583.96,26.52 L583.56,25.97 L583.11,25.45 L582.61,24.99 L582.07,24.57 L581.49,24.21 L580.88,23.91 L580.24,23.66 L579.58,23.48 L552.85,17.6 L552.2,17.49 L551.55,17.44 L550.89,17.46 L550.23,17.53 L549.59,17.67 L548.96,17.86 L548.35,18.12 L547.77,18.43 L547.22,18.79 L546.71,19.2 L546.24,19.66 L543.33,22.77 L542.89,23.28 L542.51,23.84 L542.18,24.43 L541.91,25.04 L541.7,25.68 L541.55,26.34 L541.46,27.01 L541.45,27.69 L541.49,28.36 L542.47,36.73Z " fill="#fff"/>
<path d="M550.25,50.07 L550.21,49.36 L550.1,48.65 L549.92,47.95 L549.67,47.28 L549.35,46.64 L548.97,46.04 L548.53,45.47 L548.03,44.96 L547.49,44.5 L545.79,43.21 L545.2,42.81 L544.58,42.47 L543.92,42.19 L543.23,41.99 L542.53,41.85 L541.82,41.79 L541.11,41.8 L540.4,41.88 L539.7,42.04 L539.02,42.26 L538.37,42.55 L528.11,47.8 L527.52,48.14 L526.96,48.54 L526.45,48.99 L525.98,49.48 L525.56,50.02 L525.2,50.6 L524.89,51.21 L524.65,51.85 L524.47,52.51 L524.35,53.18 L524.3,53.87 L524.32,54.55 L527.02,91.02 L527.11,91.71 L527.26,92.39 L527.48,93.05 L527.77,93.69 L528.12,94.29 L528.53,94.86 L528.99,95.39 L529.5,95.86 L530.06,96.28 L530.65,96.65 L531.28,96.95 L531.94,97.19 L532.61,97.36 L533.3,97.47 L534,97.5 L543.25,97.5 L543.94,97.47 L544.62,97.37 L545.28,97.2 L545.93,96.97 L546.55,96.67 L547.14,96.32 L547.69,95.91 L548.2,95.45 L548.66,94.94 L549.07,94.39 L549.42,93.8 L549.72,93.18 L549.95,92.53 L550.12,91.87 L550.22,91.19 L550.25,90.5 L550.25,50.07Z " fill="#fff"/>
<path d="M481.83,47.59 L482.08,46.95 L482.26,46.28 L482.38,45.61 L482.43,44.92 L482.42,44.23 L482.33,43.55 L482.18,42.88 L481.97,42.23 L480.46,38.32 L480.17,37.66 L479.81,37.03 L479.39,36.45 L478.91,35.91 L478.38,35.42 L477.8,35 L477.18,34.63 L476.52,34.33 L475.84,34.1 L475.13,33.94 L429.8,26.02 L429.13,25.94 L428.45,25.92 L427.78,25.97 L427.11,26.08 L426.45,26.25 L425.82,26.49 L425.21,26.79 L424.64,27.15 L424.1,27.56 L423.6,28.02 L423.15,28.53 L422.75,29.07 L422.41,29.66 L422.12,30.27 L421.89,30.91 L421.73,31.57 L421.63,32.24 L421.6,32.92 L421.6,90.5 L421.63,91.19 L421.73,91.87 L421.9,92.53 L422.13,93.18 L422.43,93.8 L422.78,94.39 L423.19,94.94 L423.65,95.45 L424.16,95.91 L424.71,96.32 L425.3,96.67 L425.92,96.97 L426.57,97.2 L427.23,97.37 L427.91,97.47 L428.6,97.5 L455.1,97.5 L455.77,97.47 L456.43,97.37 L457.09,97.21 L457.72,96.99 L458.33,96.71 L458.91,96.37 L459.46,95.98 L459.96,95.53 L460.42,95.04 L460.83,94.51 L461.19,93.94 L461.49,93.34 L481.83,47.59Z " fill="#fff"/>
<path d="M523.22,53.27 L523.14,52.57 L522.98,51.89 L522.76,51.23 L522.47,50.59 L522.12,49.99 L521.71,49.42 L521.25,48.9 L520.74,48.42 L520.18,48 L516.28,45.34 L515.69,44.98 L515.08,44.69 L514.43,44.45 L513.77,44.28 L513.09,44.17 L512.4,44.13 L511.72,44.16 L511.04,44.25 L510.37,44.41 L509.72,44.64 L509.1,44.92 L508.51,45.27 L504.31,48.01 L503.73,48.43 L503.21,48.91 L502.73,49.44 L502.3,50.01 L501.94,50.62 L501.64,51.27 L501.41,51.94 L501.25,52.63 L501.16,53.34 L501.14,54.05 L502.08,90.68 L502.13,91.35 L502.25,92.02 L502.42,92.67 L502.66,93.3 L502.97,93.91 L503.32,94.48 L503.73,95.02 L504.19,95.51 L504.7,95.96 L505.25,96.36 L505.83,96.7 L506.44,96.98 L507.08,97.21 L507.74,97.37 L508.4,97.47 L509.08,97.5 L518.96,97.5 L519.64,97.47 L520.31,97.37 L520.96,97.21 L521.6,96.98 L522.22,96.7 L522.8,96.35 L523.35,95.96 L523.85,95.51 L524.31,95.01 L524.73,94.47 L525.08,93.9 L525.38,93.29 L525.62,92.66 L525.8,92 L525.91,91.33 L525.96,90.66 L525.94,89.98 L523.22,53.27Z " fill="#fff"/>
<path d="M500.18,55.38 L500.13,54.7 L500.01,54.03 L499.83,53.38 L499.59,52.74 L499.28,52.13 L498.92,51.56 L498.51,51.02 L498.04,50.52 L497.53,50.08 L496.98,49.68 L496.39,49.34 L495.77,49.06 L495.13,48.83 L489.7,47.26 L489.05,47.1 L488.38,47.01 L487.71,46.98 L487.05,47.01 L486.38,47.11 L485.73,47.27 L485.1,47.5 L484.5,47.78 L483.92,48.12 L483.38,48.51 L482.87,48.95 L482.41,49.44 L482.01,49.97 L481.65,50.54 L481.35,51.14 L465.12,87.66 L464.87,88.31 L464.68,88.98 L464.56,89.66 L464.51,90.36 L464.53,91.05 L464.62,91.74 L464.78,92.42 L465.01,93.08 L465.29,93.71 L465.64,94.31 L466.05,94.88 L466.51,95.4 L467.02,95.87 L467.58,96.29 L468.17,96.65 L468.8,96.95 L469.46,97.19 L470.13,97.36 L470.82,97.47 L471.51,97.5 L494.07,97.5 L494.77,97.47 L495.46,97.36 L496.14,97.19 L496.79,96.95 L497.42,96.65 L498.02,96.28 L498.58,95.86 L499.09,95.39 L499.55,94.86 L499.96,94.3 L500.31,93.69 L500.59,93.05 L500.81,92.39 L500.97,91.71 L501.06,91.02 L501.07,90.32 L500.18,55.38Z " fill="#fff"/>
<path d="M556.24,45.23 L555.59,45.46 L554.97,45.75 L554.37,46.1 L553.82,46.51 L553.31,46.97 L552.85,47.48 L552.44,48.03 L552.08,48.62 L551.79,49.25 L551.55,49.89 L551.39,50.56 L551.28,51.24 L551.25,51.93 L551.25,90.5 L551.28,91.19 L551.38,91.87 L551.55,92.53 L551.78,93.18 L552.08,93.8 L552.43,94.39 L552.84,94.94 L553.3,95.45 L553.81,95.91 L554.36,96.32 L554.95,96.67 L555.57,96.97 L556.22,97.2 L556.88,97.37 L557.56,97.47 L558.25,97.5 L598.1,97.5 L598.79,97.47 L599.47,97.37 L600.13,97.2 L600.78,96.97 L601.4,96.67 L601.99,96.32 L602.54,95.91 L603.05,95.45 L603.51,94.94 L603.92,94.39 L604.27,93.8 L604.57,93.18 L604.8,92.53 L604.97,91.87 L605.07,91.19 L605.1,90.5 L605.1,39.98 L605.07,39.29 L604.97,38.61 L604.8,37.95 L604.57,37.3 L604.28,36.68 L603.92,36.09 L603.52,35.54 L603.06,35.03 L602.55,34.57 L602,34.16 L601.41,33.81 L600.79,33.51 L600.15,33.28 L599.48,33.11 L598.8,33.01 L598.12,32.98 L597.43,33.01 L596.75,33.11 L596.09,33.27 L556.24,45.23Z " fill="#f6eaf5"/>
<path d="M548.64,10.87 L548.75,11.52 L548.92,12.16 L549.15,12.78 L549.45,13.38 L549.79,13.94 L550.19,14.47 L550.64,14.96 L551.13,15.41 L551.66,15.81 L552.22,16.15 L552.82,16.44 L553.44,16.68 L554.08,16.85 L596.6,26.2 L597.28,26.32 L597.97,26.37 L598.67,26.34 L599.36,26.25 L600.03,26.1 L600.69,25.87 L601.32,25.58 L601.92,25.23 L602.49,24.82 L603.01,24.36 L603.48,23.85 L603.89,23.3 L604.25,22.7 L604.56,22.08 L604.79,21.42 L604.96,20.75 L605.07,20.06 L605.1,19.37 L605.1,-24.8 L605.07,-25.49 L604.97,-26.17 L604.8,-26.83 L604.57,-27.48 L604.27,-28.1 L603.92,-28.69 L603.51,-29.24 L603.05,-29.75 L602.54,-30.21 L601.99,-30.62 L601.4,-30.97 L600.78,-31.27 L600.13,-31.5 L599.47,-31.67 L598.79,-31.77 L598.1,-31.8 L551.31,-31.8 L550.61,-31.77 L549.92,-31.66 L549.25,-31.49 L548.59,-31.25 L547.97,-30.95 L547.37,-30.59 L546.81,-30.17 L546.3,-29.69 L545.84,-29.17 L545.43,-28.61 L545.08,-28 L544.8,-27.37 L544.57,-26.71 L544.42,-26.03 L544.33,-25.34 L544.31,-24.64 L544.36,-23.95 L548.64,10.87Z " fill="#f6ebf5"/>
<path d="M461,36 L483,22.5" stroke="#e6b8e0" stroke-width="0.8" fill="none"/>
<path d="M461,27 L476,20" stroke="#eed0ea" stroke-width="0.7" fill="none"/>
<ellipse cx="486.2" cy="16.4" rx="2.4" ry="1.5" fill="#6a48b0" transform="rotate(20 486.2 16.4)"/>
<ellipse cx="514.8" cy="11.5" rx="1.2" ry="2.2" fill="#6a48b0" transform="rotate(10 514.8 11.5)"/>
<ellipse cx="540.5" cy="21.3" rx="1.6" ry="1.0" fill="#6a48b0" transform="rotate(40 540.5 21.3)"/>
<ellipse cx="508.5" cy="47.4" rx="1.7" ry="1.1" fill="#6a48b0" transform="rotate(-30 508.5 47.4)"/>
<ellipse cx="543.5" cy="15.5" rx="1.0" ry="1.6" fill="#6a48b0" transform="rotate(0 543.5 15.5)"/>
<ellipse cx="536" cy="48.8" rx="1.2" ry="0.9" fill="#6a48b0" transform="rotate(0 536 48.8)"/>
<ellipse cx="564.5" cy="40" rx="1.0" ry="1.8" fill="#6a48b0" transform="rotate(0 564.5 40)"/>
<text x="503.8" y="16.4" font-size="7.2" text-anchor="middle" font-family="'Liberation Serif', serif">α</text>
<text x="532" y="15.2" font-size="7.2" text-anchor="middle" font-family="'Liberation Serif', serif">α</text>
<text x="497.1" y="40" font-size="7.2" text-anchor="middle" font-family="'Liberation Serif', serif">α</text>
<text x="524.8" y="40" font-size="7.2" text-anchor="middle" font-family="'Liberation Serif', serif">α</text>
<text x="552.8" y="34.9" font-size="7.2" text-anchor="middle" font-family="'Liberation Serif', serif">α</text>
<text x="539.1" y="54.9" font-size="7.2" text-anchor="middle" font-family="'Liberation Serif', serif">α</text>
<text x="471.7" y="51.5" font-size="7.2" text-anchor="middle" font-family="'Liberation Serif', serif">α</text>
<polygon points="474.2,31 482.8,25.5 482,35.8" fill="#000"/>
<polygon points="513.3,20.3 524.2,21.5 519.8,28.5" fill="#000"/>
</g></g>
<rect x="461.1" y="7.7" width="104.5" height="50.3" fill="none" stroke="#6b6b6b" stroke-width="0.9"/>
<clipPath id="cp2"><rect x="461.1" y="61.4" width="104.5" height="51"/></clipPath><g clip-path="url(#cp2)"><g filter="url(#soft)">
<rect x="461.1" y="61.4" width="104.5" height="51" fill="#dc94d2"/>
<ellipse cx="539.19" cy="71.74" rx="2.01" ry="1.61" fill="#d68ccc" opacity="0.4" transform="rotate(10.22 539.19 71.74)"/>
<ellipse cx="465.46" cy="96.25" rx="2.76" ry="2.25" fill="#d68ccc" opacity="0.4" transform="rotate(171.67 465.46 96.25)"/>
<ellipse cx="536.05" cy="71.7" rx="3.23" ry="3" fill="#e8b0e2" opacity="0.4" transform="rotate(120 536.05 71.7)"/>
<ellipse cx="476.17" cy="72.44" rx="2.71" ry="2.39" fill="#e8b0e2" opacity="0.4" transform="rotate(69.96 476.17 72.44)"/>
<ellipse cx="547.59" cy="62.97" rx="3.92" ry="2.54" fill="#eab8e4" opacity="0.4" transform="rotate(97.83 547.59 62.97)"/>
<ellipse cx="514.34" cy="94.26" rx="2.66" ry="2.21" fill="#d282c8" opacity="0.4" transform="rotate(56.45 514.34 94.26)"/>
<ellipse cx="550.04" cy="83" rx="3.62" ry="2.17" fill="#d282c8" opacity="0.4" transform="rotate(158.56 550.04 83)"/>
<ellipse cx="481.73" cy="93.24" rx="3.67" ry="2.95" fill="#eab8e4" opacity="0.4" transform="rotate(28.08 481.73 93.24)"/>
<ellipse cx="468.93" cy="89.19" rx="3.29" ry="1.72" fill="#d282c8" opacity="0.4" transform="rotate(73.22 468.93 89.19)"/>
<ellipse cx="523.4" cy="111.95" rx="3.78" ry="3.51" fill="#d68ccc" opacity="0.4" transform="rotate(58.82 523.4 111.95)"/>
<ellipse cx="543" cy="109.45" rx="3.27" ry="2.58" fill="#eab8e4" opacity="0.4" transform="rotate(7.29 543 109.45)"/>
<ellipse cx="531.69" cy="101.86" rx="3.9" ry="3.28" fill="#d68ccc" opacity="0.4" transform="rotate(49.76 531.69 101.86)"/>
<ellipse cx="497.43" cy="85.35" rx="2.48" ry="1.28" fill="#eab8e4" opacity="0.4" transform="rotate(7.94 497.43 85.35)"/>
<ellipse cx="515.73" cy="110.99" rx="3.05" ry="2.77" fill="#e8b0e2" opacity="0.4" transform="rotate(85.77 515.73 110.99)"/>
<ellipse cx="546.32" cy="63.14" rx="1.55" ry="1.11" fill="#d68ccc" opacity="0.4" transform="rotate(52.6 546.32 63.14)"/>
<ellipse cx="478.23" cy="76.28" rx="3.75" ry="2" fill="#eab8e4" opacity="0.4" transform="rotate(156.29 478.23 76.28)"/>
<ellipse cx="549.35" cy="108.26" rx="2.86" ry="2.59" fill="#d282c8" opacity="0.4" transform="rotate(49.8 549.35 108.26)"/>
<ellipse cx="528.87" cy="89.29" rx="2.49" ry="1.37" fill="#d68ccc" opacity="0.4" transform="rotate(173.85 528.87 89.29)"/>
<ellipse cx="485.96" cy="73.35" rx="3.6" ry="2.7" fill="#d282c8" opacity="0.4" transform="rotate(69.46 485.96 73.35)"/>
<ellipse cx="534.23" cy="87.67" rx="3.13" ry="2.71" fill="#eab8e4" opacity="0.4" transform="rotate(167.1 534.23 87.67)"/>
<ellipse cx="463.58" cy="81.65" rx="2.31" ry="1.39" fill="#d68ccc" opacity="0.4" transform="rotate(58.29 463.58 81.65)"/>
<ellipse cx="483.92" cy="86.87" rx="1.52" ry="1.45" fill="#eab8e4" opacity="0.4" transform="rotate(128.62 483.92 86.87)"/>
<ellipse cx="463.53" cy="72.21" rx="1.75" ry="1.36" fill="#e8b0e2" opacity="0.4" transform="rotate(24.18 463.53 72.21)"/>
<ellipse cx="544.14" cy="109.32" rx="3.96" ry="2.09" fill="#eab8e4" opacity="0.4" transform="rotate(87.22 544.14 109.32)"/>
<ellipse cx="504.68" cy="98.97" rx="2.36" ry="1.45" fill="#d282c8" opacity="0.4" transform="rotate(98.57 504.68 98.97)"/>
<ellipse cx="488.42" cy="71.36" rx="2.81" ry="2.56" fill="#d282c8" opacity="0.4" transform="rotate(129.79 488.42 71.36)"/>
<ellipse cx="562.18" cy="100.24" rx="3.47" ry="3.3" fill="#d68ccc" opacity="0.4" transform="rotate(52.56 562.18 100.24)"/>
<ellipse cx="543.55" cy="103.93" rx="2.51" ry="2.37" fill="#d282c8" opacity="0.4" transform="rotate(140.53 543.55 103.93)"/>
<ellipse cx="480.54" cy="76.53" rx="3.94" ry="3.09" fill="#d68ccc" opacity="0.4" transform="rotate(90.75 480.54 76.53)"/>
<ellipse cx="533.62" cy="62.83" rx="3.27" ry="2.88" fill="#eab8e4" opacity="0.4" transform="rotate(84.23 533.62 62.83)"/>
<ellipse cx="547.97" cy="100.26" rx="2.79" ry="2.56" fill="#eab8e4" opacity="0.4" transform="rotate(155.94 547.97 100.26)"/>
<ellipse cx="475.17" cy="96.23" rx="3.89" ry="2.11" fill="#d282c8" opacity="0.4" transform="rotate(126.03 475.17 96.23)"/>
<ellipse cx="473.46" cy="81.59" rx="3.87" ry="3.18" fill="#d68ccc" opacity="0.4" transform="rotate(34.22 473.46 81.59)"/>
<ellipse cx="487.42" cy="91.87" rx="3.39" ry="2.77" fill="#eab8e4" opacity="0.4" transform="rotate(88.57 487.42 91.87)"/>
<ellipse cx="499.66" cy="85.22" rx="2.17" ry="1.83" fill="#e8b0e2" opacity="0.4" transform="rotate(54.16 499.66 85.22)"/>
<ellipse cx="557.5" cy="94.92" rx="2.38" ry="1.35" fill="#eab8e4" opacity="0.4" transform="rotate(89.54 557.5 94.92)"/>
<ellipse cx="522.63" cy="92.97" rx="1.77" ry="1.31" fill="#d68ccc" opacity="0.4" transform="rotate(40.15 522.63 92.97)"/>
<ellipse cx="538.99" cy="85.97" rx="1.91" ry="1.22" fill="#e8b0e2" opacity="0.4" transform="rotate(107.83 538.99 85.97)"/>
<ellipse cx="541.64" cy="66.81" rx="3.44" ry="2.83" fill="#eab8e4" opacity="0.4" transform="rotate(102.69 541.64 66.81)"/>
<ellipse cx="479.64" cy="79.38" rx="2.53" ry="2.39" fill="#e8b0e2" opacity="0.4" transform="rotate(76.14 479.64 79.38)"/>
<ellipse cx="489.89" cy="96.27" rx="3.88" ry="3.15" fill="#d68ccc" opacity="0.4" transform="rotate(166.04 489.89 96.27)"/>
<ellipse cx="492.25" cy="94.15" rx="1.67" ry="1.66" fill="#eab8e4" opacity="0.4" transform="rotate(90.58 492.25 94.15)"/>
<ellipse cx="559.99" cy="68.85" rx="3.12" ry="3.04" fill="#d68ccc" opacity="0.4" transform="rotate(112.86 559.99 68.85)"/>
<ellipse cx="514.22" cy="90.65" rx="3.68" ry="3.16" fill="#eab8e4" opacity="0.4" transform="rotate(101.83 514.22 90.65)"/>
<ellipse cx="531.5" cy="111.58" rx="3.4" ry="2.91" fill="#eab8e4" opacity="0.4" transform="rotate(133.82 531.5 111.58)"/>
<ellipse cx="499.02" cy="99.04" rx="2.37" ry="1.62" fill="#eab8e4" opacity="0.4" transform="rotate(106.34 499.02 99.04)"/>
<ellipse cx="557.68" cy="91.3" rx="2.38" ry="1.86" fill="#eab8e4" opacity="0.4" transform="rotate(135.53 557.68 91.3)"/>
<ellipse cx="485.49" cy="97.33" rx="3.03" ry="2.26" fill="#eab8e4" opacity="0.4" transform="rotate(140.99 485.49 97.33)"/>
<ellipse cx="545.83" cy="100.44" rx="2.48" ry="1.31" fill="#d282c8" opacity="0.4" transform="rotate(55.6 545.83 100.44)"/>
<ellipse cx="512.63" cy="81.69" rx="2.01" ry="1.46" fill="#e8b0e2" opacity="0.4" transform="rotate(28.84 512.63 81.69)"/>
<ellipse cx="476.65" cy="69.1" rx="3.84" ry="1.96" fill="#d68ccc" opacity="0.4" transform="rotate(63.79 476.65 69.1)"/>
<ellipse cx="526.03" cy="69.63" rx="2.39" ry="2.13" fill="#d68ccc" opacity="0.4" transform="rotate(152.02 526.03 69.63)"/>
<ellipse cx="511.73" cy="76.13" rx="2.56" ry="1.81" fill="#d68ccc" opacity="0.4" transform="rotate(169.24 511.73 76.13)"/>
<ellipse cx="491.02" cy="93.59" rx="3.53" ry="2.71" fill="#d282c8" opacity="0.4" transform="rotate(167.13 491.02 93.59)"/>
<ellipse cx="557.31" cy="86.28" rx="3.23" ry="2.7" fill="#d282c8" opacity="0.4" transform="rotate(106.22 557.31 86.28)"/>
<ellipse cx="502.79" cy="90.86" rx="3.5" ry="2.07" fill="#e8b0e2" opacity="0.4" transform="rotate(118.4 502.79 90.86)"/>
<ellipse cx="510.98" cy="71.71" rx="1.71" ry="1.17" fill="#e8b0e2" opacity="0.4" transform="rotate(27.83 510.98 71.71)"/>
<ellipse cx="511.47" cy="102.96" rx="3.9" ry="3.32" fill="#e8b0e2" opacity="0.4" transform="rotate(45.79 511.47 102.96)"/>
<ellipse cx="514.85" cy="83.19" rx="1.91" ry="1.74" fill="#eab8e4" opacity="0.4" transform="rotate(120.16 514.85 83.19)"/>
<ellipse cx="500.83" cy="110.18" rx="3.55" ry="1.88" fill="#d282c8" opacity="0.4" transform="rotate(127.66 500.83 110.18)"/>
<ellipse cx="478.34" cy="96.58" rx="1.36" ry="1.01" fill="#d282c8" opacity="0.55" transform="rotate(38.88 478.34 96.58)"/>
<ellipse cx="545.52" cy="87.54" rx="1.21" ry="0.75" fill="#f8dcf4" opacity="0.55" transform="rotate(0.57 545.52 87.54)"/>
<ellipse cx="558.58" cy="83.24" rx="0.77" ry="0.68" fill="#f2c4ec" opacity="0.55" transform="rotate(165.87 558.58 83.24)"/>
<ellipse cx="506.75" cy="112.16" rx="1.52" ry="1.07" fill="#f8dcf4" opacity="0.55" transform="rotate(79.53 506.75 112.16)"/>
<ellipse cx="517.55" cy="96.79" rx="1.38" ry="1.34" fill="#f2c4ec" opacity="0.55" transform="rotate(4.18 517.55 96.79)"/>
<ellipse cx="474.15" cy="108.73" rx="1.14" ry="0.89" fill="#d282c8" opacity="0.55" transform="rotate(61.73 474.15 108.73)"/>
<ellipse cx="476.89" cy="95.32" rx="1.16" ry="1.06" fill="#eab4e6" opacity="0.55" transform="rotate(13.43 476.89 95.32)"/>
<ellipse cx="482.89" cy="110.81" rx="1.67" ry="1.47" fill="#cf7cc4" opacity="0.55" transform="rotate(137.3 482.89 110.81)"/>
<ellipse cx="564.43" cy="65.02" rx="1.27" ry="0.99" fill="#f8dcf4" opacity="0.55" transform="rotate(69.84 564.43 65.02)"/>
<ellipse cx="557.57" cy="106.67" rx="1.09" ry="0.75" fill="#d282c8" opacity="0.55" transform="rotate(81.24 557.57 106.67)"/>
<ellipse cx="494.33" cy="86.11" rx="0.92" ry="0.84" fill="#d282c8" opacity="0.55" transform="rotate(28.61 494.33 86.11)"/>
<ellipse cx="461.4" cy="64.98" rx="1.32" ry="1" fill="#f8dcf4" opacity="0.55" transform="rotate(102.87 461.4 64.98)"/>
<ellipse cx="519.25" cy="93.15" rx="0.82" ry="0.48" fill="#f8dcf4" opacity="0.55" transform="rotate(62.68 519.25 93.15)"/>
<ellipse cx="497.32" cy="91.86" rx="0.97" ry="0.53" fill="#eab4e6" opacity="0.55" transform="rotate(11.82 497.32 91.86)"/>
<ellipse cx="542.3" cy="80.52" rx="1.42" ry="1.19" fill="#eab4e6" opacity="0.55" transform="rotate(161.77 542.3 80.52)"/>
<ellipse cx="503.63" cy="111.84" rx="1.75" ry="1.39" fill="#d282c8" opacity="0.55" transform="rotate(158.97 503.63 111.84)"/>
<ellipse cx="513.99" cy="95.41" rx="1.72" ry="1.07" fill="#d282c8" opacity="0.55" transform="rotate(101.13 513.99 95.41)"/>
<ellipse cx="545.25" cy="100.87" rx="1.18" ry="1.08" fill="#f8dcf4" opacity="0.55" transform="rotate(9.39 545.25 100.87)"/>
<ellipse cx="529.91" cy="63.17" rx="0.9" ry="0.63" fill="#eab4e6" opacity="0.55" transform="rotate(156.67 529.91 63.17)"/>
<ellipse cx="563.87" cy="99.44" rx="1.17" ry="0.74" fill="#cf7cc4" opacity="0.55" transform="rotate(172.6 563.87 99.44)"/>
<ellipse cx="556.35" cy="85.83" rx="1.74" ry="1.66" fill="#eab4e6" opacity="0.55" transform="rotate(65.83 556.35 85.83)"/>
<ellipse cx="553.21" cy="92.07" rx="1.11" ry="0.88" fill="#f8dcf4" opacity="0.55" transform="rotate(152.88 553.21 92.07)"/>
<ellipse cx="475.6" cy="91.41" rx="0.77" ry="0.66" fill="#eab4e6" opacity="0.55" transform="rotate(68.83 475.6 91.41)"/>
<ellipse cx="560.79" cy="62.6" rx="1.31" ry="1.08" fill="#cf7cc4" opacity="0.55" transform="rotate(153.3 560.79 62.6)"/>
<ellipse cx="505.1" cy="96.24" rx="1.5" ry="1.36" fill="#eab4e6" opacity="0.55" transform="rotate(24.93 505.1 96.24)"/>
<ellipse cx="471.01" cy="66.19" rx="0.63" ry="0.46" fill="#f2c4ec" opacity="0.55" transform="rotate(25.35 471.01 66.19)"/>
<ellipse cx="529.58" cy="67.85" rx="1.25" ry="0.83" fill="#eab4e6" opacity="0.55" transform="rotate(88.9 529.58 67.85)"/>
<ellipse cx="526.02" cy="70.66" rx="1.63" ry="0.98" fill="#f2c4ec" opacity="0.55" transform="rotate(133.96 526.02 70.66)"/>
<ellipse cx="524.21" cy="87.15" rx="1.49" ry="0.79" fill="#d282c8" opacity="0.55" transform="rotate(167.25 524.21 87.15)"/>
<ellipse cx="509.58" cy="64.64" rx="1.52" ry="0.89" fill="#f8dcf4" opacity="0.55" transform="rotate(128.07 509.58 64.64)"/>
<ellipse cx="561.84" cy="92.26" rx="1.49" ry="0.93" fill="#f8dcf4" opacity="0.55" transform="rotate(28.11 561.84 92.26)"/>
<ellipse cx="546.54" cy="102.36" rx="1.19" ry="0.93" fill="#f2c4ec" opacity="0.55" transform="rotate(98.18 546.54 102.36)"/>
<ellipse cx="514.21" cy="98.86" rx="1.76" ry="1.15" fill="#cf7cc4" opacity="0.55" transform="rotate(125.9 514.21 98.86)"/>
<ellipse cx="540.29" cy="71.07" rx="1.34" ry="0.89" fill="#f2c4ec" opacity="0.55" transform="rotate(36.24 540.29 71.07)"/>
<ellipse cx="494.34" cy="112.05" rx="0.73" ry="0.39" fill="#d282c8" opacity="0.55" transform="rotate(13.2 494.34 112.05)"/>
<ellipse cx="513.88" cy="109.7" rx="1.42" ry="1.21" fill="#cf7cc4" opacity="0.55" transform="rotate(84.76 513.88 109.7)"/>
<ellipse cx="501.79" cy="81.88" rx="0.87" ry="0.46" fill="#eab4e6" opacity="0.55" transform="rotate(78.1 501.79 81.88)"/>
<ellipse cx="489.9" cy="91.46" rx="1.09" ry="0.77" fill="#d282c8" opacity="0.55" transform="rotate(143.57 489.9 91.46)"/>
<ellipse cx="501.38" cy="86.23" rx="1.36" ry="1.33" fill="#d282c8" opacity="0.55" transform="rotate(15.37 501.38 86.23)"/>
<ellipse cx="479.16" cy="80.42" rx="1.33" ry="0.81" fill="#cf7cc4" opacity="0.55" transform="rotate(80.95 479.16 80.42)"/>
<ellipse cx="530.91" cy="105.2" rx="1.44" ry="1.21" fill="#d282c8" opacity="0.55" transform="rotate(44.16 530.91 105.2)"/>
<ellipse cx="501.43" cy="92.75" rx="1.59" ry="1.56" fill="#f2c4ec" opacity="0.55" transform="rotate(178.06 501.43 92.75)"/>
<ellipse cx="478.02" cy="71.7" rx="1.65" ry="1.42" fill="#eab4e6" opacity="0.55" transform="rotate(16.33 478.02 71.7)"/>
<ellipse cx="469.41" cy="76.83" rx="1.73" ry="1.51" fill="#f2c4ec" opacity="0.55" transform="rotate(83.22 469.41 76.83)"/>
<ellipse cx="564.64" cy="69.89" rx="1.12" ry="0.94" fill="#cf7cc4" opacity="0.55" transform="rotate(66.96 564.64 69.89)"/>
<ellipse cx="532.33" cy="74.7" rx="1.74" ry="1.15" fill="#eab4e6" opacity="0.55" transform="rotate(45.76 532.33 74.7)"/>
<ellipse cx="555.12" cy="87.26" rx="0.89" ry="0.75" fill="#eab4e6" opacity="0.55" transform="rotate(128.91 555.12 87.26)"/>
<ellipse cx="559.41" cy="85.22" rx="1.12" ry="0.91" fill="#eab4e6" opacity="0.55" transform="rotate(50.51 559.41 85.22)"/>
<ellipse cx="530.87" cy="93.11" rx="0.72" ry="0.71" fill="#f8dcf4" opacity="0.55" transform="rotate(38.73 530.87 93.11)"/>
<ellipse cx="545.79" cy="109.07" rx="1.45" ry="0.74" fill="#f2c4ec" opacity="0.55" transform="rotate(90.22 545.79 109.07)"/>
<ellipse cx="502.71" cy="83.9" rx="1.14" ry="1.13" fill="#eab4e6" opacity="0.55" transform="rotate(169.48 502.71 83.9)"/>
<ellipse cx="470.98" cy="77.16" rx="1.14" ry="1.08" fill="#eab4e6" opacity="0.55" transform="rotate(66.61 470.98 77.16)"/>
<ellipse cx="520.75" cy="107.91" rx="1.12" ry="1.03" fill="#d282c8" opacity="0.55" transform="rotate(55.56 520.75 107.91)"/>
<ellipse cx="503.21" cy="89.55" rx="0.87" ry="0.78" fill="#d282c8" opacity="0.55" transform="rotate(151.83 503.21 89.55)"/>
<ellipse cx="553.43" cy="62.3" rx="1.3" ry="0.7" fill="#eab4e6" opacity="0.55" transform="rotate(161.94 553.43 62.3)"/>
<ellipse cx="476.99" cy="86.77" rx="1.23" ry="0.95" fill="#f8dcf4" opacity="0.55" transform="rotate(88.45 476.99 86.77)"/>
<ellipse cx="477.06" cy="69.23" rx="0.95" ry="0.78" fill="#f2c4ec" opacity="0.55" transform="rotate(1.66 477.06 69.23)"/>
<ellipse cx="530.92" cy="70.9" rx="0.72" ry="0.66" fill="#f8dcf4" opacity="0.55" transform="rotate(64.83 530.92 70.9)"/>
<ellipse cx="467.24" cy="63.29" rx="1.19" ry="1" fill="#eab4e6" opacity="0.55" transform="rotate(117.57 467.24 63.29)"/>
<ellipse cx="464.49" cy="73.27" rx="1.03" ry="0.64" fill="#eab4e6" opacity="0.55" transform="rotate(35.81 464.49 73.27)"/>
<ellipse cx="537.16" cy="88.15" rx="0.69" ry="0.63" fill="#f2c4ec" opacity="0.55" transform="rotate(38.47 537.16 88.15)"/>
<ellipse cx="537.15" cy="92.34" rx="1.36" ry="1.12" fill="#f8dcf4" opacity="0.55" transform="rotate(3.79 537.15 92.34)"/>
<ellipse cx="512.7" cy="69.66" rx="1.62" ry="1.46" fill="#f2c4ec" opacity="0.55" transform="rotate(163.15 512.7 69.66)"/>
<ellipse cx="483.81" cy="101.06" rx="1.68" ry="1.29" fill="#f8dcf4" opacity="0.55" transform="rotate(163.52 483.81 101.06)"/>
<ellipse cx="501.87" cy="109.43" rx="1.72" ry="1.55" fill="#f8dcf4" opacity="0.55" transform="rotate(2.02 501.87 109.43)"/>
<ellipse cx="479.22" cy="74.92" rx="0.63" ry="0.43" fill="#eab4e6" opacity="0.55" transform="rotate(134.73 479.22 74.92)"/>
<ellipse cx="558.37" cy="88.75" rx="1.66" ry="1" fill="#cf7cc4" opacity="0.55" transform="rotate(179.65 558.37 88.75)"/>
<ellipse cx="490.98" cy="84.35" rx="1.52" ry="1.49" fill="#eab4e6" opacity="0.55" transform="rotate(163.83 490.98 84.35)"/>
<ellipse cx="503.48" cy="70.49" rx="1.25" ry="1.13" fill="#eab4e6" opacity="0.55" transform="rotate(65.2 503.48 70.49)"/>
<ellipse cx="564.99" cy="107.9" rx="1.75" ry="1.53" fill="#eab4e6" opacity="0.55" transform="rotate(177.17 564.99 107.9)"/>
<ellipse cx="538.61" cy="72.25" rx="1.24" ry="0.85" fill="#f8dcf4" opacity="0.55" transform="rotate(178.43 538.61 72.25)"/>
<ellipse cx="473.94" cy="73.64" rx="1.11" ry="0.91" fill="#eab4e6" opacity="0.55" transform="rotate(138.76 473.94 73.64)"/>
<ellipse cx="529.11" cy="74.3" rx="1.12" ry="0.77" fill="#f8dcf4" opacity="0.55" transform="rotate(88.12 529.11 74.3)"/>
<ellipse cx="465.33" cy="105.2" rx="0.85" ry="0.76" fill="#d282c8" opacity="0.55" transform="rotate(60.5 465.33 105.2)"/>
<ellipse cx="544.99" cy="98.96" rx="1.48" ry="1.47" fill="#d282c8" opacity="0.55" transform="rotate(67.84 544.99 98.96)"/>
<ellipse cx="464.52" cy="101.06" rx="1.64" ry="1.06" fill="#d282c8" opacity="0.55" transform="rotate(149.84 464.52 101.06)"/>
<ellipse cx="481.68" cy="72.99" rx="1.48" ry="1.34" fill="#f2c4ec" opacity="0.55" transform="rotate(86.91 481.68 72.99)"/>
<ellipse cx="463.93" cy="108.14" rx="0.76" ry="0.51" fill="#cf7cc4" opacity="0.55" transform="rotate(63.78 463.93 108.14)"/>
<ellipse cx="526.78" cy="91.92" rx="1.43" ry="1.34" fill="#f8dcf4" opacity="0.55" transform="rotate(135.23 526.78 91.92)"/>
<ellipse cx="529.64" cy="98.85" rx="1.15" ry="0.65" fill="#cf7cc4" opacity="0.55" transform="rotate(160.99 529.64 98.85)"/>
<ellipse cx="549.68" cy="106.82" rx="0.69" ry="0.45" fill="#eab4e6" opacity="0.55" transform="rotate(114.06 549.68 106.82)"/>
<ellipse cx="539.65" cy="109.09" rx="0.73" ry="0.59" fill="#cf7cc4" opacity="0.55" transform="rotate(116.28 539.65 109.09)"/>
<ellipse cx="482.73" cy="86.78" rx="1.46" ry="0.89" fill="#f8dcf4" opacity="0.55" transform="rotate(123.55 482.73 86.78)"/>
<ellipse cx="557.39" cy="88.05" rx="0.61" ry="0.56" fill="#f8dcf4" opacity="0.55" transform="rotate(51.07 557.39 88.05)"/>
<ellipse cx="533.87" cy="82.5" rx="0.75" ry="0.7" fill="#f2c4ec" opacity="0.55" transform="rotate(117.86 533.87 82.5)"/>
<ellipse cx="565.22" cy="73.26" rx="1.45" ry="1.08" fill="#cf7cc4" opacity="0.55" transform="rotate(96.75 565.22 73.26)"/>
<ellipse cx="500.17" cy="93.85" rx="1.36" ry="0.93" fill="#d282c8" opacity="0.55" transform="rotate(62.35 500.17 93.85)"/>
<ellipse cx="527.54" cy="84.7" rx="1.22" ry="0.74" fill="#f2c4ec" opacity="0.55" transform="rotate(142.09 527.54 84.7)"/>
<ellipse cx="550.16" cy="107.18" rx="1.61" ry="1.43" fill="#f2c4ec" opacity="0.55" transform="rotate(162.4 550.16 107.18)"/>
<ellipse cx="497.14" cy="69.27" rx="0.62" ry="0.39" fill="#f8dcf4" opacity="0.55" transform="rotate(124.63 497.14 69.27)"/>
<ellipse cx="483.61" cy="63.85" rx="0.82" ry="0.47" fill="#eab4e6" opacity="0.55" transform="rotate(112.35 483.61 63.85)"/>
<ellipse cx="484.2" cy="67.1" rx="1.24" ry="0.69" fill="#f2c4ec" opacity="0.55" transform="rotate(72.94 484.2 67.1)"/>
<ellipse cx="482.33" cy="97.08" rx="1.25" ry="0.68" fill="#cf7cc4" opacity="0.55" transform="rotate(43.66 482.33 97.08)"/>
<ellipse cx="520.46" cy="73.88" rx="1.12" ry="1" fill="#f2c4ec" opacity="0.55" transform="rotate(167.13 520.46 73.88)"/>
<ellipse cx="502.87" cy="110.34" rx="1.57" ry="1.32" fill="#d282c8" opacity="0.55" transform="rotate(159.21 502.87 110.34)"/>
<ellipse cx="464.69" cy="86.82" rx="1.67" ry="1.48" fill="#eab4e6" opacity="0.55" transform="rotate(104.34 464.69 86.82)"/>
<ellipse cx="465.07" cy="94.07" rx="1.53" ry="0.96" fill="#f8dcf4" opacity="0.55" transform="rotate(84.92 465.07 94.07)"/>
<ellipse cx="516.55" cy="69.76" rx="1.01" ry="0.84" fill="#d282c8" opacity="0.55" transform="rotate(118.08 516.55 69.76)"/>
<ellipse cx="556.87" cy="76.34" rx="0.74" ry="0.59" fill="#eab4e6" opacity="0.55" transform="rotate(87.61 556.87 76.34)"/>
<ellipse cx="539.84" cy="69.02" rx="0.97" ry="0.54" fill="#d282c8" opacity="0.55" transform="rotate(119.14 539.84 69.02)"/>
<ellipse cx="555.84" cy="63.9" rx="1.49" ry="1.37" fill="#f2c4ec" opacity="0.55" transform="rotate(92.28 555.84 63.9)"/>
<ellipse cx="526.7" cy="85.55" rx="1.27" ry="0.86" fill="#d282c8" opacity="0.55" transform="rotate(35.71 526.7 85.55)"/>
<ellipse cx="526.53" cy="92.42" rx="1.12" ry="0.99" fill="#cf7cc4" opacity="0.55" transform="rotate(3.37 526.53 92.42)"/>
<ellipse cx="482.03" cy="63.02" rx="0.86" ry="0.8" fill="#eab4e6" opacity="0.55" transform="rotate(60.64 482.03 63.02)"/>
<ellipse cx="549.95" cy="110.57" rx="0.9" ry="0.61" fill="#eab4e6" opacity="0.55" transform="rotate(152.26 549.95 110.57)"/>
<ellipse cx="490.37" cy="91.71" rx="1.6" ry="1.35" fill="#f8dcf4" opacity="0.55" transform="rotate(86.42 490.37 91.71)"/>
<ellipse cx="499.55" cy="107.44" rx="1.38" ry="0.89" fill="#f2c4ec" opacity="0.55" transform="rotate(135.01 499.55 107.44)"/>
<ellipse cx="552.96" cy="73.95" rx="1.8" ry="1.19" fill="#eab4e6" opacity="0.55" transform="rotate(68.37 552.96 73.95)"/>
<ellipse cx="536.5" cy="62.82" rx="1.29" ry="1.24" fill="#cf7cc4" opacity="0.55" transform="rotate(38.14 536.5 62.82)"/>
<ellipse cx="541.22" cy="73.16" rx="0.75" ry="0.38" fill="#d282c8" opacity="0.55" transform="rotate(37.84 541.22 73.16)"/>
<ellipse cx="563.35" cy="86.86" rx="1.44" ry="1.09" fill="#d282c8" opacity="0.55" transform="rotate(174.47 563.35 86.86)"/>
<ellipse cx="500.89" cy="108.76" rx="1.52" ry="1.16" fill="#f2c4ec" opacity="0.55" transform="rotate(8.71 500.89 108.76)"/>
<ellipse cx="539.93" cy="69.86" rx="0.73" ry="0.54" fill="#f8dcf4" opacity="0.55" transform="rotate(13.41 539.93 69.86)"/>
<ellipse cx="472.73" cy="87.43" rx="0.95" ry="0.69" fill="#d282c8" opacity="0.55" transform="rotate(128.15 472.73 87.43)"/>
<ellipse cx="541.24" cy="109.9" rx="1.26" ry="0.81" fill="#d282c8" opacity="0.55" transform="rotate(1 541.24 109.9)"/>
<ellipse cx="548.35" cy="111.35" rx="0.91" ry="0.74" fill="#f8dcf4" opacity="0.55" transform="rotate(56.27 548.35 111.35)"/>
<ellipse cx="549.53" cy="68.29" rx="1.01" ry="0.98" fill="#eab4e6" opacity="0.55" transform="rotate(63.43 549.53 68.29)"/>
<ellipse cx="546.63" cy="75.61" rx="1.54" ry="0.77" fill="#eab4e6" opacity="0.55" transform="rotate(61.28 546.63 75.61)"/>
<ellipse cx="543.56" cy="96.76" rx="1.21" ry="0.63" fill="#f8dcf4" opacity="0.55" transform="rotate(5.23 543.56 96.76)"/>
<ellipse cx="521" cy="89.66" rx="1.62" ry="1.5" fill="#eab4e6" opacity="0.55" transform="rotate(111.9 521 89.66)"/>
<ellipse cx="524.57" cy="71.53" rx="0.81" ry="0.7" fill="#f8dcf4" opacity="0.55" transform="rotate(74.22 524.57 71.53)"/>
<ellipse cx="483.74" cy="81.6" rx="1.55" ry="1.44" fill="#f2c4ec" opacity="0.55" transform="rotate(134.29 483.74 81.6)"/>
<ellipse cx="486.61" cy="77.78" rx="0.97" ry="0.69" fill="#f2c4ec" opacity="0.55" transform="rotate(157.41 486.61 77.78)"/>
<ellipse cx="525.67" cy="107.29" rx="1.16" ry="0.99" fill="#eab4e6" opacity="0.55" transform="rotate(168.05 525.67 107.29)"/>
<ellipse cx="480.63" cy="92.81" rx="1.78" ry="1.67" fill="#f2c4ec" opacity="0.55" transform="rotate(164.09 480.63 92.81)"/>
<ellipse cx="555.31" cy="89.73" rx="1.69" ry="1.63" fill="#f2c4ec" opacity="0.55" transform="rotate(147.09 555.31 89.73)"/>
<ellipse cx="525.5" cy="61.85" rx="1.52" ry="1.51" fill="#f2c4ec" opacity="0.55" transform="rotate(93.78 525.5 61.85)"/>
<ellipse cx="526.93" cy="64.6" rx="1.74" ry="1.71" fill="#cf7cc4" opacity="0.55" transform="rotate(79.32 526.93 64.6)"/>
<ellipse cx="503.68" cy="111.57" rx="1.64" ry="1.46" fill="#f8dcf4" opacity="0.55" transform="rotate(87.93 503.68 111.57)"/>
<ellipse cx="480.58" cy="76.61" rx="1.52" ry="0.93" fill="#eab4e6" opacity="0.55" transform="rotate(12.38 480.58 76.61)"/>
<ellipse cx="477.77" cy="82.36" rx="0.98" ry="0.62" fill="#cf7cc4" opacity="0.55" transform="rotate(63.44 477.77 82.36)"/>
<ellipse cx="538.92" cy="80.18" rx="1.21" ry="1.16" fill="#eab4e6" opacity="0.55" transform="rotate(115.46 538.92 80.18)"/>
<ellipse cx="509.18" cy="85.51" rx="1.22" ry="0.76" fill="#f8dcf4" opacity="0.55" transform="rotate(99.24 509.18 85.51)"/>
<ellipse cx="541.71" cy="96.38" rx="0.98" ry="0.79" fill="#cf7cc4" opacity="0.55" transform="rotate(134.18 541.71 96.38)"/>
<ellipse cx="505.01" cy="73.11" rx="1.68" ry="1.57" fill="#eab4e6" opacity="0.55" transform="rotate(36.65 505.01 73.11)"/>
<ellipse cx="563.18" cy="88.33" rx="1.69" ry="0.92" fill="#f8dcf4" opacity="0.55" transform="rotate(130.24 563.18 88.33)"/>
<ellipse cx="548.1" cy="85.93" rx="1.32" ry="0.84" fill="#f2c4ec" opacity="0.55" transform="rotate(90.36 548.1 85.93)"/>
<ellipse cx="551.54" cy="94.21" rx="1.35" ry="0.76" fill="#f2c4ec" opacity="0.55" transform="rotate(52.76 551.54 94.21)"/>
<ellipse cx="482.34" cy="88.83" rx="1.44" ry="1.08" fill="#eab4e6" opacity="0.55" transform="rotate(99.77 482.34 88.83)"/>
<ellipse cx="528.03" cy="97.03" rx="1.8" ry="1.66" fill="#cf7cc4" opacity="0.55" transform="rotate(71.41 528.03 97.03)"/>
<ellipse cx="533.46" cy="83.39" rx="0.62" ry="0.4" fill="#eab4e6" opacity="0.55" transform="rotate(67.84 533.46 83.39)"/>
<ellipse cx="554.29" cy="94.9" rx="0.91" ry="0.79" fill="#d282c8" opacity="0.55" transform="rotate(119.68 554.29 94.9)"/>
<ellipse cx="512.48" cy="91.32" rx="1.67" ry="0.89" fill="#f8dcf4" opacity="0.55" transform="rotate(65.22 512.48 91.32)"/>
<ellipse cx="561.5" cy="88.41" rx="1.22" ry="0.77" fill="#eab4e6" opacity="0.55" transform="rotate(28.89 561.5 88.41)"/>
<ellipse cx="551.36" cy="66.67" rx="1.39" ry="1.32" fill="#cf7cc4" opacity="0.55" transform="rotate(30.8 551.36 66.67)"/>
<ellipse cx="479.15" cy="91.75" rx="1.47" ry="1.23" fill="#f2c4ec" opacity="0.55" transform="rotate(15.2 479.15 91.75)"/>
<ellipse cx="549.71" cy="85.93" rx="1.63" ry="1.31" fill="#d282c8" opacity="0.55" transform="rotate(30.34 549.71 85.93)"/>
<ellipse cx="500.49" cy="76.83" rx="1.54" ry="1.53" fill="#cf7cc4" opacity="0.55" transform="rotate(26.29 500.49 76.83)"/>
<ellipse cx="500.81" cy="93.32" rx="0.8" ry="0.72" fill="#f2c4ec" opacity="0.55" transform="rotate(68.98 500.81 93.32)"/>
<ellipse cx="531.33" cy="71.83" rx="1.22" ry="0.72" fill="#f8dcf4" opacity="0.55" transform="rotate(20.4 531.33 71.83)"/>
<ellipse cx="465.24" cy="110.68" rx="1.56" ry="1.04" fill="#d282c8" opacity="0.55" transform="rotate(72.23 465.24 110.68)"/>
<ellipse cx="489.64" cy="102.81" rx="1.7" ry="0.89" fill="#cf7cc4" opacity="0.55" transform="rotate(137.89 489.64 102.81)"/>
<ellipse cx="521.28" cy="68.9" rx="1.22" ry="0.66" fill="#d282c8" opacity="0.55" transform="rotate(151.72 521.28 68.9)"/>
<ellipse cx="502.74" cy="94.86" rx="1.58" ry="1.39" fill="#f2c4ec" opacity="0.55" transform="rotate(159.13 502.74 94.86)"/>
<ellipse cx="504.09" cy="94.26" rx="0.66" ry="0.6" fill="#f8dcf4" opacity="0.55" transform="rotate(127.44 504.09 94.26)"/>
<ellipse cx="486.32" cy="74.85" rx="1.29" ry="1.01" fill="#d282c8" opacity="0.55" transform="rotate(41.85 486.32 74.85)"/>
<ellipse cx="500.82" cy="78.86" rx="1.73" ry="1.65" fill="#f8dcf4" opacity="0.55" transform="rotate(34.14 500.82 78.86)"/>
<ellipse cx="548.99" cy="75.89" rx="1.59" ry="1.34" fill="#f2c4ec" opacity="0.55" transform="rotate(4.71 548.99 75.89)"/>
<ellipse cx="563.66" cy="64.96" rx="0.74" ry="0.55" fill="#f8dcf4" opacity="0.55" transform="rotate(117.67 563.66 64.96)"/>
<ellipse cx="543.69" cy="110.99" rx="1" ry="0.61" fill="#eab4e6" opacity="0.55" transform="rotate(46.72 543.69 110.99)"/>
<ellipse cx="479.6" cy="99.65" rx="0.69" ry="0.48" fill="#cf7cc4" opacity="0.55" transform="rotate(72.8 479.6 99.65)"/>
<ellipse cx="562.08" cy="87.59" rx="1.19" ry="1.13" fill="#eab4e6" opacity="0.55" transform="rotate(135.42 562.08 87.59)"/>
<ellipse cx="470.18" cy="92.91" rx="1.74" ry="1.49" fill="#eab4e6" opacity="0.55" transform="rotate(168.71 470.18 92.91)"/>
<ellipse cx="504.58" cy="72.98" rx="0.93" ry="0.56" fill="#eab4e6" opacity="0.55" transform="rotate(30.27 504.58 72.98)"/>
<ellipse cx="466.47" cy="91.94" rx="1.32" ry="1.14" fill="#d282c8" opacity="0.55" transform="rotate(102.14 466.47 91.94)"/>
<ellipse cx="490.49" cy="66.15" rx="1.3" ry="0.82" fill="#f2c4ec" opacity="0.55" transform="rotate(177.86 490.49 66.15)"/>
<ellipse cx="532.95" cy="103.92" rx="0.89" ry="0.66" fill="#f8dcf4" opacity="0.55" transform="rotate(68.91 532.95 103.92)"/>
<ellipse cx="467.54" cy="111.51" rx="1.49" ry="0.95" fill="#eab4e6" opacity="0.55" transform="rotate(3.52 467.54 111.51)"/>
<ellipse cx="464.54" cy="86.12" rx="1.74" ry="1.21" fill="#d282c8" opacity="0.55" transform="rotate(170.16 464.54 86.12)"/>
<ellipse cx="535.3" cy="107.81" rx="1.3" ry="0.82" fill="#f2c4ec" opacity="0.55" transform="rotate(113.14 535.3 107.81)"/>
<ellipse cx="488.48" cy="77.59" rx="0.82" ry="0.43" fill="#eab4e6" opacity="0.55" transform="rotate(172.64 488.48 77.59)"/>
<ellipse cx="520.57" cy="103.63" rx="1.21" ry="0.71" fill="#eab4e6" opacity="0.55" transform="rotate(110.97 520.57 103.63)"/>
<ellipse cx="543.69" cy="111.3" rx="0.91" ry="0.77" fill="#cf7cc4" opacity="0.55" transform="rotate(140.73 543.69 111.3)"/>
<ellipse cx="497.34" cy="85.59" rx="1.54" ry="0.96" fill="#f8dcf4" opacity="0.55" transform="rotate(87.43 497.34 85.59)"/>
<ellipse cx="486.58" cy="95.33" rx="0.86" ry="0.5" fill="#d282c8" opacity="0.55" transform="rotate(85.87 486.58 95.33)"/>
<ellipse cx="560.17" cy="69.78" rx="1.24" ry="0.91" fill="#f2c4ec" opacity="0.55" transform="rotate(46.6 560.17 69.78)"/>
<ellipse cx="476.13" cy="74.69" rx="0.65" ry="0.53" fill="#eab4e6" opacity="0.55" transform="rotate(118.38 476.13 74.69)"/>
<ellipse cx="511.06" cy="93.97" rx="1.6" ry="0.96" fill="#d282c8" opacity="0.55" transform="rotate(65.9 511.06 93.97)"/>
<ellipse cx="493.89" cy="105.51" rx="0.76" ry="0.51" fill="#f8dcf4" opacity="0.55" transform="rotate(75.39 493.89 105.51)"/>
<ellipse cx="492.32" cy="81.07" rx="0.85" ry="0.77" fill="#f8dcf4" opacity="0.55" transform="rotate(33.03 492.32 81.07)"/>
<ellipse cx="552.26" cy="63.08" rx="1.54" ry="0.96" fill="#cf7cc4" opacity="0.55" transform="rotate(46.57 552.26 63.08)"/>
<ellipse cx="521.47" cy="82.18" rx="1.38" ry="0.9" fill="#f2c4ec" opacity="0.55" transform="rotate(27.91 521.47 82.18)"/>
<ellipse cx="538.74" cy="63.87" rx="0.64" ry="0.47" fill="#d282c8" opacity="0.55" transform="rotate(88.81 538.74 63.87)"/>
<ellipse cx="508.47" cy="88.18" rx="1.6" ry="1.21" fill="#eab4e6" opacity="0.55" transform="rotate(78.42 508.47 88.18)"/>
<ellipse cx="476.55" cy="105.91" rx="1.22" ry="0.64" fill="#cf7cc4" opacity="0.55" transform="rotate(86.66 476.55 105.91)"/>
<ellipse cx="563.38" cy="83.14" rx="0.92" ry="0.89" fill="#f2c4ec" opacity="0.55" transform="rotate(51.19 563.38 83.14)"/>
<ellipse cx="488.47" cy="76.96" rx="1.59" ry="0.94" fill="#d282c8" opacity="0.55" transform="rotate(59.16 488.47 76.96)"/>
<ellipse cx="537.14" cy="78.96" rx="0.81" ry="0.69" fill="#d282c8" opacity="0.55" transform="rotate(78.58 537.14 78.96)"/>
<ellipse cx="484.33" cy="94.63" rx="0.82" ry="0.66" fill="#cf7cc4" opacity="0.55" transform="rotate(43.92 484.33 94.63)"/>
<ellipse cx="512.34" cy="92.49" rx="1.05" ry="0.57" fill="#d282c8" opacity="0.55" transform="rotate(159.24 512.34 92.49)"/>
<ellipse cx="541.25" cy="105.22" rx="1.26" ry="1.26" fill="#f8dcf4" opacity="0.55" transform="rotate(85.18 541.25 105.22)"/>
<ellipse cx="469.53" cy="80.7" rx="1.29" ry="1.17" fill="#f8dcf4" opacity="0.55" transform="rotate(93.74 469.53 80.7)"/>
<ellipse cx="500.16" cy="95.93" rx="1.56" ry="1.24" fill="#f2c4ec" opacity="0.55" transform="rotate(3.75 500.16 95.93)"/>
<ellipse cx="501.68" cy="84.18" rx="1.55" ry="1.42" fill="#f2c4ec" opacity="0.55" transform="rotate(123.38 501.68 84.18)"/>
<ellipse cx="464.35" cy="73.52" rx="1.41" ry="1.01" fill="#d282c8" opacity="0.55" transform="rotate(175.27 464.35 73.52)"/>
<ellipse cx="477.69" cy="71.78" rx="1.13" ry="0.89" fill="#d282c8" opacity="0.55" transform="rotate(140.96 477.69 71.78)"/>
<ellipse cx="503.59" cy="63.19" rx="1.18" ry="0.84" fill="#eab4e6" opacity="0.55" transform="rotate(106.28 503.59 63.19)"/>
<ellipse cx="542.67" cy="104.67" rx="1.79" ry="1.4" fill="#f8dcf4" opacity="0.55" transform="rotate(116.1 542.67 104.67)"/>
<ellipse cx="474.56" cy="71.45" rx="1.53" ry="1.47" fill="#cf7cc4" opacity="0.55" transform="rotate(136.76 474.56 71.45)"/>
<ellipse cx="471.12" cy="70.43" rx="1.03" ry="0.72" fill="#f8dcf4" opacity="0.55" transform="rotate(129.02 471.12 70.43)"/>
<ellipse cx="561.23" cy="68.56" rx="0.41" ry="0.41" fill="#fbe8f8" opacity="0.7" transform="rotate(33.17 561.23 68.56)"/>
<ellipse cx="538.39" cy="106.21" rx="0.8" ry="0.43" fill="#fbe8f8" opacity="0.7" transform="rotate(48.47 538.39 106.21)"/>
<ellipse cx="494.48" cy="92.06" rx="0.87" ry="0.73" fill="#fbe8f8" opacity="0.7" transform="rotate(166.29 494.48 92.06)"/>
<ellipse cx="521.41" cy="62.49" rx="0.53" ry="0.38" fill="#fbe8f8" opacity="0.7" transform="rotate(32.5 521.41 62.49)"/>
<ellipse cx="522.01" cy="109.24" rx="0.79" ry="0.77" fill="#ffffff" opacity="0.7" transform="rotate(101.94 522.01 109.24)"/>
<ellipse cx="525.09" cy="74.58" rx="0.88" ry="0.58" fill="#fbe8f8" opacity="0.7" transform="rotate(140.6 525.09 74.58)"/>
<ellipse cx="490.31" cy="75.2" rx="0.75" ry="0.53" fill="#fbe8f8" opacity="0.7" transform="rotate(61.64 490.31 75.2)"/>
<ellipse cx="504.93" cy="74.23" rx="0.54" ry="0.51" fill="#fbe8f8" opacity="0.7" transform="rotate(71.51 504.93 74.23)"/>
<ellipse cx="493.21" cy="80.46" rx="0.69" ry="0.45" fill="#ffffff" opacity="0.7" transform="rotate(107.21 493.21 80.46)"/>
<ellipse cx="540.26" cy="107.26" rx="0.61" ry="0.33" fill="#fbe8f8" opacity="0.7" transform="rotate(79.87 540.26 107.26)"/>
<ellipse cx="506.22" cy="81.94" rx="0.86" ry="0.84" fill="#ffffff" opacity="0.7" transform="rotate(92.16 506.22 81.94)"/>
<ellipse cx="461.81" cy="84.81" rx="0.5" ry="0.26" fill="#fbe8f8" opacity="0.7" transform="rotate(67.73 461.81 84.81)"/>
<ellipse cx="495.41" cy="79.62" rx="0.5" ry="0.26" fill="#fbe8f8" opacity="0.7" transform="rotate(96.38 495.41 79.62)"/>
<ellipse cx="529.61" cy="66.55" rx="0.5" ry="0.28" fill="#ffffff" opacity="0.7" transform="rotate(26.56 529.61 66.55)"/>
<ellipse cx="465.62" cy="67.52" rx="0.75" ry="0.43" fill="#ffffff" opacity="0.7" transform="rotate(51.16 465.62 67.52)"/>
<ellipse cx="510.86" cy="64.76" rx="0.76" ry="0.74" fill="#ffffff" opacity="0.7" transform="rotate(19.94 510.86 64.76)"/>
<ellipse cx="559.62" cy="62.33" rx="0.65" ry="0.53" fill="#fbe8f8" opacity="0.7" transform="rotate(61.3 559.62 62.33)"/>
<ellipse cx="526.83" cy="91.84" rx="0.75" ry="0.44" fill="#fbe8f8" opacity="0.7" transform="rotate(13.76 526.83 91.84)"/>
<ellipse cx="497.91" cy="67.42" rx="0.51" ry="0.32" fill="#fbe8f8" opacity="0.7" transform="rotate(155.92 497.91 67.42)"/>
<ellipse cx="463.54" cy="99.78" rx="0.69" ry="0.56" fill="#fbe8f8" opacity="0.7" transform="rotate(72.5 463.54 99.78)"/>
<ellipse cx="537.9" cy="108.58" rx="0.82" ry="0.42" fill="#fbe8f8" opacity="0.7" transform="rotate(68 537.9 108.58)"/>
<ellipse cx="482.54" cy="99.84" rx="0.72" ry="0.38" fill="#ffffff" opacity="0.7" transform="rotate(123.99 482.54 99.84)"/>
<ellipse cx="509.64" cy="74.1" rx="0.52" ry="0.33" fill="#fbe8f8" opacity="0.7" transform="rotate(11.74 509.64 74.1)"/>
<ellipse cx="479.73" cy="110.45" rx="0.56" ry="0.29" fill="#ffffff" opacity="0.7" transform="rotate(28.5 479.73 110.45)"/>
<ellipse cx="465.52" cy="86.22" rx="0.41" ry="0.37" fill="#ffffff" opacity="0.7" transform="rotate(0.73 465.52 86.22)"/>
<ellipse cx="549.55" cy="73.3" rx="0.67" ry="0.38" fill="#fbe8f8" opacity="0.7" transform="rotate(61.61 549.55 73.3)"/>
<ellipse cx="534.55" cy="92.43" rx="0.45" ry="0.42" fill="#ffffff" opacity="0.7" transform="rotate(171.8 534.55 92.43)"/>
<ellipse cx="490.24" cy="104.47" rx="0.53" ry="0.33" fill="#ffffff" opacity="0.7" transform="rotate(94.58 490.24 104.47)"/>
<ellipse cx="548.75" cy="87.4" rx="0.75" ry="0.68" fill="#fbe8f8" opacity="0.7" transform="rotate(175.28 548.75 87.4)"/>
<ellipse cx="513.26" cy="78.91" rx="0.84" ry="0.45" fill="#fbe8f8" opacity="0.7" transform="rotate(119.88 513.26 78.91)"/>
<ellipse cx="534.98" cy="65.77" rx="0.86" ry="0.58" fill="#fbe8f8" opacity="0.7" transform="rotate(9.78 534.98 65.77)"/>
<ellipse cx="481.67" cy="79.86" rx="0.88" ry="0.44" fill="#fbe8f8" opacity="0.7" transform="rotate(57.79 481.67 79.86)"/>
<ellipse cx="472.95" cy="87.24" rx="0.43" ry="0.35" fill="#fbe8f8" opacity="0.7" transform="rotate(11.72 472.95 87.24)"/>
<ellipse cx="557.38" cy="74.54" rx="0.55" ry="0.36" fill="#ffffff" opacity="0.7" transform="rotate(164.27 557.38 74.54)"/>
<ellipse cx="494.77" cy="95.88" rx="0.8" ry="0.42" fill="#ffffff" opacity="0.7" transform="rotate(42.18 494.77 95.88)"/>
<ellipse cx="532.07" cy="61.57" rx="0.52" ry="0.29" fill="#fbe8f8" opacity="0.7" transform="rotate(56.63 532.07 61.57)"/>
<ellipse cx="558.99" cy="67.15" rx="0.85" ry="0.78" fill="#fbe8f8" opacity="0.7" transform="rotate(165.39 558.99 67.15)"/>
<ellipse cx="510.92" cy="82.56" rx="0.58" ry="0.52" fill="#fbe8f8" opacity="0.7" transform="rotate(55.22 510.92 82.56)"/>
<ellipse cx="552.85" cy="110.31" rx="0.59" ry="0.31" fill="#fbe8f8" opacity="0.7" transform="rotate(171.08 552.85 110.31)"/>
<ellipse cx="470.8" cy="103.35" rx="0.78" ry="0.6" fill="#ffffff" opacity="0.7" transform="rotate(80.06 470.8 103.35)"/>
<ellipse cx="565.02" cy="103.23" rx="0.46" ry="0.34" fill="#ffffff" opacity="0.7" transform="rotate(144.25 565.02 103.23)"/>
<ellipse cx="468.33" cy="78.72" rx="0.59" ry="0.57" fill="#ffffff" opacity="0.7" transform="rotate(104.92 468.33 78.72)"/>
<ellipse cx="506.44" cy="88.87" rx="0.6" ry="0.44" fill="#ffffff" opacity="0.7" transform="rotate(153.44 506.44 88.87)"/>
<ellipse cx="498.81" cy="75.98" rx="0.41" ry="0.22" fill="#ffffff" opacity="0.7" transform="rotate(27.82 498.81 75.98)"/>
<ellipse cx="539.86" cy="65.46" rx="0.68" ry="0.61" fill="#fbe8f8" opacity="0.7" transform="rotate(48.13 539.86 65.46)"/>
<ellipse cx="463.25" cy="108.35" rx="0.69" ry="0.45" fill="#fbe8f8" opacity="0.7" transform="rotate(43.08 463.25 108.35)"/>
<ellipse cx="558.57" cy="78.6" rx="0.6" ry="0.47" fill="#ffffff" opacity="0.7" transform="rotate(31.49 558.57 78.6)"/>
<ellipse cx="530.86" cy="84.41" rx="0.8" ry="0.57" fill="#fbe8f8" opacity="0.7" transform="rotate(139.95 530.86 84.41)"/>
<ellipse cx="542.89" cy="72.9" rx="0.66" ry="0.56" fill="#fbe8f8" opacity="0.7" transform="rotate(103.12 542.89 72.9)"/>
<ellipse cx="524.93" cy="73.71" rx="0.63" ry="0.57" fill="#fbe8f8" opacity="0.7" transform="rotate(176.81 524.93 73.71)"/>
<ellipse cx="521.76" cy="73.02" rx="0.61" ry="0.34" fill="#fbe8f8" opacity="0.7" transform="rotate(132.55 521.76 73.02)"/>
<ellipse cx="518.62" cy="87.1" rx="0.73" ry="0.4" fill="#fbe8f8" opacity="0.7" transform="rotate(145.23 518.62 87.1)"/>
<ellipse cx="502.49" cy="66.61" rx="0.65" ry="0.57" fill="#fbe8f8" opacity="0.7" transform="rotate(2.27 502.49 66.61)"/>
<ellipse cx="507.23" cy="102.64" rx="0.48" ry="0.46" fill="#fbe8f8" opacity="0.7" transform="rotate(91.48 507.23 102.64)"/>
<ellipse cx="534.88" cy="74.73" rx="0.46" ry="0.27" fill="#ffffff" opacity="0.7" transform="rotate(128.63 534.88 74.73)"/>
<ellipse cx="532.79" cy="88.83" rx="0.56" ry="0.5" fill="#fbe8f8" opacity="0.7" transform="rotate(57.97 532.79 88.83)"/>
<ellipse cx="538.86" cy="93.92" rx="0.71" ry="0.48" fill="#ffffff" opacity="0.7" transform="rotate(1.8 538.86 93.92)"/>
<ellipse cx="526.55" cy="78.51" rx="0.62" ry="0.53" fill="#ffffff" opacity="0.7" transform="rotate(41.62 526.55 78.51)"/>
<ellipse cx="488.66" cy="90.44" rx="0.71" ry="0.45" fill="#ffffff" opacity="0.7" transform="rotate(130.54 488.66 90.44)"/>
<ellipse cx="557.88" cy="87.48" rx="0.85" ry="0.72" fill="#fbe8f8" opacity="0.7" transform="rotate(96.85 557.88 87.48)"/>
<ellipse cx="557.75" cy="109.78" rx="2.3" ry="1.25" fill="#7a66bc" transform="rotate(106.56 557.75 109.78)"/>
<ellipse cx="500.72" cy="79.66" rx="2.15" ry="1.36" fill="#7a66bc" transform="rotate(2.53 500.72 79.66)"/>
<ellipse cx="555.32" cy="66.8" rx="2.38" ry="1.5" fill="#7a66bc" transform="rotate(3.52 555.32 66.8)"/>
<ellipse cx="498.62" cy="64.34" rx="2.2" ry="1.55" fill="#8070c4" transform="rotate(118.42 498.62 64.34)"/>
<ellipse cx="562.54" cy="79.9" rx="2.18" ry="1.42" fill="#9888d2" transform="rotate(102.97 562.54 79.9)"/>
<ellipse cx="520.98" cy="102.93" rx="1.66" ry="1.49" fill="#8070c4" transform="rotate(142.47 520.98 102.93)"/>
<ellipse cx="480.12" cy="70.51" rx="1.79" ry="1.69" fill="#8e7cca" transform="rotate(35.21 480.12 70.51)"/>
<ellipse cx="469.7" cy="83.13" rx="2.01" ry="1.76" fill="#9888d2" transform="rotate(50.5 469.7 83.13)"/>
<ellipse cx="472.5" cy="107.31" rx="1.99" ry="1.74" fill="#8070c4" transform="rotate(81.85 472.5 107.31)"/>
<ellipse cx="488.1" cy="66.86" rx="2.21" ry="1.62" fill="#8070c4" transform="rotate(149.14 488.1 66.86)"/>
<ellipse cx="495.4" cy="68.66" rx="2.17" ry="1.26" fill="#7a66bc" transform="rotate(68.95 495.4 68.66)"/>
<ellipse cx="562.99" cy="64.25" rx="1.87" ry="1.21" fill="#8e7cca" transform="rotate(145.72 562.99 64.25)"/>
<ellipse cx="562.86" cy="102.45" rx="2.35" ry="1.52" fill="#8e7cca" transform="rotate(177.88 562.86 102.45)"/>
<ellipse cx="497.27" cy="111.09" rx="1.84" ry="1.32" fill="#7a66bc" transform="rotate(13.66 497.27 111.09)"/>
<ellipse cx="518.39" cy="99.9" rx="1.91" ry="1.38" fill="#8070c4" transform="rotate(16.5 518.39 99.9)"/>
<ellipse cx="533.27" cy="89.86" rx="1.71" ry="1.26" fill="#8e7cca" transform="rotate(29.69 533.27 89.86)"/>
<ellipse cx="507.57" cy="78.88" rx="2.3" ry="1.69" fill="#7a66bc" transform="rotate(161.13 507.57 78.88)"/>
<ellipse cx="468.37" cy="110.39" rx="2.31" ry="1.65" fill="#7a66bc" transform="rotate(98.24 468.37 110.39)"/>
<ellipse cx="503.9" cy="100.75" rx="2" ry="1.53" fill="#8e7cca" transform="rotate(148.78 503.9 100.75)"/>
<ellipse cx="463.74" cy="68.5" rx="2.37" ry="1.64" fill="#8070c4" transform="rotate(77.48 463.74 68.5)"/>
<ellipse cx="560.53" cy="65.41" rx="2.01" ry="1.53" fill="#7a66bc" transform="rotate(42.31 560.53 65.41)"/>
<ellipse cx="544.65" cy="111.8" rx="1.74" ry="1.4" fill="#8070c4" transform="rotate(4.26 544.65 111.8)"/>
<ellipse cx="539.39" cy="81.89" rx="2.21" ry="1.22" fill="#7a66bc" transform="rotate(117.83 539.39 81.89)"/>
<ellipse cx="560.87" cy="82.82" rx="1.75" ry="1.56" fill="#8070c4" transform="rotate(178.56 560.87 82.82)"/>
<ellipse cx="516.08" cy="76.59" rx="2.31" ry="1.25" fill="#7a66bc" transform="rotate(157.79 516.08 76.59)"/>
<ellipse cx="500.53" cy="62.31" rx="1.91" ry="1.45" fill="#7a66bc" transform="rotate(122.62 500.53 62.31)"/>
<ellipse cx="497.61" cy="76.81" rx="2.36" ry="1.4" fill="#7a66bc" transform="rotate(69.76 497.61 76.81)"/>
<ellipse cx="553.78" cy="95.46" rx="2.18" ry="1.73" fill="#8e7cca" transform="rotate(96.98 553.78 95.46)"/>
<ellipse cx="501.23" cy="106.95" rx="2.39" ry="1.29" fill="#7a66bc" transform="rotate(66.79 501.23 106.95)"/>
<ellipse cx="564.53" cy="75.55" rx="2.19" ry="1.2" fill="#8e7cca" transform="rotate(6.67 564.53 75.55)"/>
<ellipse cx="486.97" cy="111.51" rx="2.07" ry="1.23" fill="#9888d2" transform="rotate(145.29 486.97 111.51)"/>
<ellipse cx="482.04" cy="90.23" rx="2.06" ry="1.67" fill="#7a66bc" transform="rotate(32.46 482.04 90.23)"/>
<ellipse cx="524.93" cy="79.82" rx="2.39" ry="1.57" fill="#8070c4" transform="rotate(125.35 524.93 79.82)"/>
<ellipse cx="465.39" cy="67.53" rx="2.17" ry="1.79" fill="#8070c4" transform="rotate(24.5 465.39 67.53)"/>
<ellipse cx="558.52" cy="76.42" rx="2.31" ry="1.38" fill="#8e7cca" transform="rotate(143.08 558.52 76.42)"/>
<ellipse cx="546.96" cy="92.15" rx="2.03" ry="1.4" fill="#8e7cca" transform="rotate(24.14 546.96 92.15)"/>
<ellipse cx="477.82" cy="72.33" rx="2.37" ry="1.8" fill="#8070c4" transform="rotate(136.35 477.82 72.33)"/>
<ellipse cx="516.83" cy="105.21" rx="1.89" ry="1.42" fill="#9888d2" transform="rotate(117.22 516.83 105.21)"/>
<ellipse cx="508.8" cy="95.04" rx="2.36" ry="1.58" fill="#9888d2" transform="rotate(64.19 508.8 95.04)"/>
<ellipse cx="547.94" cy="63.42" rx="1.86" ry="1.63" fill="#8070c4" transform="rotate(136.49 547.94 63.42)"/>
<ellipse cx="483.1" cy="82.15" rx="1.55" ry="1.39" fill="#8070c4" transform="rotate(76.93 483.1 82.15)"/>
<ellipse cx="522.69" cy="82.53" rx="1.72" ry="1.39" fill="#7a66bc" transform="rotate(120.74 522.69 82.53)"/>
<ellipse cx="546.63" cy="81.74" rx="1.83" ry="1.5" fill="#7a66bc" transform="rotate(2.94 546.63 81.74)"/>
<ellipse cx="546.14" cy="70.67" rx="1.9" ry="1.31" fill="#8e7cca" transform="rotate(139.18 546.14 70.67)"/>
<ellipse cx="508.79" cy="61.56" rx="2.07" ry="1.35" fill="#7a66bc" transform="rotate(132.67 508.79 61.56)"/>
<ellipse cx="501.91" cy="111.11" rx="2.17" ry="1.63" fill="#9888d2" transform="rotate(120.32 501.91 111.11)"/>
<ellipse cx="536.26" cy="68.72" rx="2.39" ry="1.65" fill="#7a66bc" transform="rotate(146.09 536.26 68.72)"/>
<ellipse cx="517.79" cy="67.59" rx="1.56" ry="1.48" fill="#9888d2" transform="rotate(26.2 517.79 67.59)"/>
<ellipse cx="473.36" cy="62.3" rx="1.97" ry="1.33" fill="#9888d2" transform="rotate(116.2 473.36 62.3)"/>
<ellipse cx="542.91" cy="77.32" rx="2.13" ry="1.46" fill="#9888d2" transform="rotate(164.2 542.91 77.32)"/>
<ellipse cx="496.44" cy="99.09" rx="1.7" ry="1.6" fill="#8070c4" transform="rotate(141.76 496.44 99.09)"/>
<ellipse cx="467.72" cy="101.21" rx="1.63" ry="1.76" fill="#9888d2" transform="rotate(125.38 467.72 101.21)"/>
<ellipse cx="562.43" cy="67.05" rx="2.24" ry="1.25" fill="#8e7cca" transform="rotate(14.63 562.43 67.05)"/>
<ellipse cx="536.33" cy="110.22" rx="2.07" ry="1.51" fill="#7a66bc" transform="rotate(48.97 536.33 110.22)"/>
<ellipse cx="564.81" cy="94.38" rx="2.29" ry="1.32" fill="#8e7cca" transform="rotate(132.29 564.81 94.38)"/>
<ellipse cx="529.75" cy="68.12" rx="2.25" ry="1.49" fill="#8070c4" transform="rotate(132.56 529.75 68.12)"/>
<ellipse cx="488.27" cy="108.65" rx="2.04" ry="1.43" fill="#7a66bc" transform="rotate(8.2 488.27 108.65)"/>
<ellipse cx="544.49" cy="93.85" rx="1.63" ry="1.68" fill="#7a66bc" transform="rotate(63.7 544.49 93.85)"/>
<ellipse cx="461.98" cy="86.73" rx="1.91" ry="1.37" fill="#8e7cca" transform="rotate(129.26 461.98 86.73)"/>
<ellipse cx="548.08" cy="72" rx="2.22" ry="1.68" fill="#8070c4" transform="rotate(25.73 548.08 72)"/>
<ellipse cx="546.81" cy="95.53" rx="1.6" ry="1.7" fill="#8070c4" transform="rotate(135.39 546.81 95.53)"/>
<ellipse cx="545.7" cy="88.04" rx="1.98" ry="1.56" fill="#8070c4" transform="rotate(167.78 545.7 88.04)"/>
<ellipse cx="516.5" cy="83" rx="5" ry="10.5" fill="#f2d4ee" opacity="0.85" transform="rotate(12 516.5 83)"/>
<ellipse cx="520.67" cy="77.39" rx="0.71" ry="0.71" fill="#c8509a" opacity="0.9" transform="rotate(33.17 520.67 77.39)"/>
<ellipse cx="518.92" cy="89.94" rx="1.18" ry="0.63" fill="#c8509a" opacity="0.9" transform="rotate(48.47 518.92 89.94)"/>
<ellipse cx="515.56" cy="85.22" rx="1.26" ry="1.06" fill="#b8407f" opacity="0.9" transform="rotate(166.29 515.56 85.22)"/>
<ellipse cx="520.07" cy="84.81" rx="0.71" ry="0.45" fill="#c8509a" opacity="0.9" transform="rotate(75.87 520.07 84.81)"/>
<ellipse cx="519.8" cy="84.91" rx="1.26" ry="1.12" fill="#b8407f" opacity="0.9" transform="rotate(173.01 519.8 84.91)"/>
<ellipse cx="513.49" cy="80.55" rx="0.9" ry="0.53" fill="#b8407f" opacity="0.9" transform="rotate(70.77 513.49 80.55)"/>
<ellipse cx="517.12" cy="79.75" rx="0.86" ry="0.73" fill="#d0609f" opacity="0.9" transform="rotate(77.74 517.12 79.75)"/>
<ellipse cx="517.25" cy="75.55" rx="1.26" ry="0.95" fill="#d0609f" opacity="0.9" transform="rotate(93.12 517.25 75.55)"/>
<ellipse cx="516.18" cy="90.72" rx="0.81" ry="0.63" fill="#c8509a" opacity="0.9" transform="rotate(71.5 516.18 90.72)"/>
<ellipse cx="515.38" cy="85.13" rx="1.03" ry="0.74" fill="#b8407f" opacity="0.9" transform="rotate(121.18 515.38 85.13)"/>
<ellipse cx="516.42" cy="76.54" rx="0.97" ry="0.53" fill="#c8509a" opacity="0.9" transform="rotate(140.62 516.42 76.54)"/>
<ellipse cx="520.44" cy="91.19" rx="1.01" ry="0.71" fill="#c8509a" opacity="0.9" transform="rotate(17.38 520.44 91.19)"/>
<path d="M527,99 L545,95.5" stroke="#f6e6f4" stroke-width="1.6" opacity="0.8"/>
<polygon points="486.6,102 495.2,97 495.2,107.6" fill="#000"/>
<polygon points="523.8,92.3 535.3,95.5 529.5,101.8" fill="#000"/>
</g></g>
<rect x="461.1" y="61.4" width="104.5" height="51" fill="none" stroke="#6b6b6b" stroke-width="0.9"/>
<clipPath id="cp3"><rect x="461.1" y="115.8" width="104.5" height="50.6"/></clipPath><g clip-path="url(#cp3)"><g filter="url(#soft)">
<rect x="461.1" y="115.8" width="104.5" height="50.6" fill="#dc94d2"/>
<ellipse cx="495.45" cy="165.55" rx="3.9" ry="3.74" fill="#eab8e4" opacity="0.4" transform="rotate(142.18 495.45 165.55)"/>
<ellipse cx="461.14" cy="147.53" rx="2.12" ry="1.83" fill="#d282c8" opacity="0.4" transform="rotate(77.83 461.14 147.53)"/>
<ellipse cx="517.82" cy="144.95" rx="3.57" ry="3.54" fill="#d68ccc" opacity="0.4" transform="rotate(62.2 517.82 144.95)"/>
<ellipse cx="554.03" cy="135.64" rx="1.81" ry="1.35" fill="#d282c8" opacity="0.4" transform="rotate(137.64 554.03 135.64)"/>
<ellipse cx="480.38" cy="151.5" rx="2.31" ry="2.18" fill="#d68ccc" opacity="0.4" transform="rotate(30.33 480.38 151.5)"/>
<ellipse cx="555.22" cy="140.83" rx="3.39" ry="2.07" fill="#e8b0e2" opacity="0.4" transform="rotate(161.45 555.22 140.83)"/>
<ellipse cx="551.79" cy="163.03" rx="3.32" ry="2.91" fill="#eab8e4" opacity="0.4" transform="rotate(46.11 551.79 163.03)"/>
<ellipse cx="485.77" cy="141.47" rx="3.12" ry="2.02" fill="#eab8e4" opacity="0.4" transform="rotate(177.64 485.77 141.47)"/>
<ellipse cx="549.52" cy="131.07" rx="2.92" ry="1.72" fill="#d282c8" opacity="0.4" transform="rotate(130.54 549.52 131.07)"/>
<ellipse cx="506.43" cy="151.93" rx="1.54" ry="1.06" fill="#d282c8" opacity="0.4" transform="rotate(87.99 506.43 151.93)"/>
<ellipse cx="469.99" cy="148.66" rx="2.02" ry="1.71" fill="#e8b0e2" opacity="0.4" transform="rotate(63.96 469.99 148.66)"/>
<ellipse cx="541.88" cy="161.84" rx="1.95" ry="1.6" fill="#d282c8" opacity="0.4" transform="rotate(85.29 541.88 161.84)"/>
<ellipse cx="553.96" cy="130.73" rx="2.85" ry="2.41" fill="#eab8e4" opacity="0.4" transform="rotate(171.41 553.96 130.73)"/>
<ellipse cx="492.33" cy="140.98" rx="1.7" ry="1.43" fill="#d68ccc" opacity="0.4" transform="rotate(54 492.33 140.98)"/>
<ellipse cx="480.54" cy="132.16" rx="3.69" ry="2.22" fill="#d68ccc" opacity="0.4" transform="rotate(50.8 480.54 132.16)"/>
<ellipse cx="472.27" cy="153.77" rx="3.77" ry="2.12" fill="#d282c8" opacity="0.4" transform="rotate(122.88 472.27 153.77)"/>
<ellipse cx="518.42" cy="117.42" rx="1.93" ry="1.04" fill="#e8b0e2" opacity="0.4" transform="rotate(9.72 518.42 117.42)"/>
<ellipse cx="512.94" cy="133.85" rx="2.56" ry="1.46" fill="#eab8e4" opacity="0.4" transform="rotate(64.4 512.94 133.85)"/>
<ellipse cx="509.79" cy="137.09" rx="3.11" ry="2.18" fill="#d282c8" opacity="0.4" transform="rotate(16.35 509.79 137.09)"/>
<ellipse cx="563.98" cy="124.18" rx="1.58" ry="1.35" fill="#d282c8" opacity="0.4" transform="rotate(134.77 563.98 124.18)"/>
<ellipse cx="558.83" cy="152.52" rx="3.18" ry="2.67" fill="#d68ccc" opacity="0.4" transform="rotate(127.57 558.83 152.52)"/>
<ellipse cx="471.31" cy="142.98" rx="2.94" ry="1.5" fill="#eab8e4" opacity="0.4" transform="rotate(112.57 471.31 142.98)"/>
<ellipse cx="505.77" cy="144.33" rx="3.13" ry="2.18" fill="#e8b0e2" opacity="0.4" transform="rotate(103.42 505.77 144.33)"/>
<ellipse cx="537.46" cy="157.72" rx="2.54" ry="1.27" fill="#e8b0e2" opacity="0.4" transform="rotate(42.2 537.46 157.72)"/>
<ellipse cx="479.19" cy="152.55" rx="3.81" ry="2.44" fill="#eab8e4" opacity="0.4" transform="rotate(25.38 479.19 152.55)"/>
<ellipse cx="539.12" cy="150.86" rx="2.52" ry="2.33" fill="#eab8e4" opacity="0.4" transform="rotate(146.04 539.12 150.86)"/>
<ellipse cx="505.42" cy="146.09" rx="2.78" ry="2.56" fill="#d282c8" opacity="0.4" transform="rotate(0.78 505.42 146.09)"/>
<ellipse cx="494.81" cy="159.96" rx="2.78" ry="2.36" fill="#eab8e4" opacity="0.4" transform="rotate(34.19 494.81 159.96)"/>
<ellipse cx="539.97" cy="140.92" rx="1.71" ry="1.05" fill="#e8b0e2" opacity="0.4" transform="rotate(132.42 539.97 140.92)"/>
<ellipse cx="556.26" cy="126.92" rx="3.37" ry="2.22" fill="#d282c8" opacity="0.4" transform="rotate(169.87 556.26 126.92)"/>
<ellipse cx="502.06" cy="129.26" rx="3.36" ry="2.2" fill="#e8b0e2" opacity="0.4" transform="rotate(87.4 502.06 129.26)"/>
<ellipse cx="501.17" cy="138.49" rx="2.89" ry="1.53" fill="#eab8e4" opacity="0.4" transform="rotate(107.79 501.17 138.49)"/>
<ellipse cx="479.86" cy="138.97" rx="3.3" ry="2" fill="#d282c8" opacity="0.4" transform="rotate(159.58 479.86 138.97)"/>
<ellipse cx="535.69" cy="157.34" rx="1.66" ry="1.27" fill="#e8b0e2" opacity="0.4" transform="rotate(108.56 535.69 157.34)"/>
<ellipse cx="504.42" cy="159.1" rx="3.44" ry="2.99" fill="#d68ccc" opacity="0.4" transform="rotate(17.9 504.42 159.1)"/>
<ellipse cx="537.23" cy="124.87" rx="2.57" ry="2.01" fill="#d282c8" opacity="0.4" transform="rotate(159.25 537.23 124.87)"/>
<ellipse cx="493.04" cy="149.12" rx="2.43" ry="1.36" fill="#eab8e4" opacity="0.4" transform="rotate(120.28 493.04 149.12)"/>
<ellipse cx="469.62" cy="152.29" rx="2.92" ry="2.17" fill="#d282c8" opacity="0.4" transform="rotate(61.4 469.62 152.29)"/>
<ellipse cx="472.4" cy="130.04" rx="2.23" ry="1.88" fill="#e8b0e2" opacity="0.4" transform="rotate(65.74 472.4 130.04)"/>
<ellipse cx="466.89" cy="149.86" rx="3.3" ry="1.96" fill="#d68ccc" opacity="0.4" transform="rotate(29.56 466.89 149.86)"/>
<ellipse cx="487.09" cy="121.85" rx="3.17" ry="2.36" fill="#d282c8" opacity="0.4" transform="rotate(129.37 487.09 121.85)"/>
<ellipse cx="530.55" cy="117.91" rx="2.09" ry="2.02" fill="#e8b0e2" opacity="0.4" transform="rotate(45.07 530.55 117.91)"/>
<ellipse cx="539.47" cy="136.27" rx="3.93" ry="3.49" fill="#eab8e4" opacity="0.4" transform="rotate(119.21 539.47 136.27)"/>
<ellipse cx="468.01" cy="120.11" rx="2.47" ry="1.55" fill="#d282c8" opacity="0.4" transform="rotate(87.92 468.01 120.11)"/>
<ellipse cx="474.6" cy="128.32" rx="3.01" ry="1.68" fill="#d68ccc" opacity="0.4" transform="rotate(28.95 474.6 128.32)"/>
<ellipse cx="557.33" cy="135.57" rx="3.02" ry="1.92" fill="#eab8e4" opacity="0.4" transform="rotate(61.75 557.33 135.57)"/>
<ellipse cx="497.71" cy="164.79" rx="1.56" ry="1.38" fill="#e8b0e2" opacity="0.4" transform="rotate(93.44 497.71 164.79)"/>
<ellipse cx="463.39" cy="151.74" rx="2.3" ry="1.16" fill="#d68ccc" opacity="0.4" transform="rotate(100.56 463.39 151.74)"/>
<ellipse cx="481.42" cy="158.69" rx="1.83" ry="1.52" fill="#eab8e4" opacity="0.4" transform="rotate(89.42 481.42 158.69)"/>
<ellipse cx="534.23" cy="125.46" rx="1.54" ry="1.17" fill="#d282c8" opacity="0.4" transform="rotate(12.69 534.23 125.46)"/>
<ellipse cx="540.97" cy="153.09" rx="2.62" ry="2.41" fill="#d68ccc" opacity="0.4" transform="rotate(155.27 540.97 153.09)"/>
<ellipse cx="545.19" cy="126.27" rx="3.96" ry="2.41" fill="#eab8e4" opacity="0.4" transform="rotate(33.85 545.19 126.27)"/>
<ellipse cx="563.33" cy="152.54" rx="1.92" ry="1.29" fill="#eab8e4" opacity="0.4" transform="rotate(64.59 563.33 152.54)"/>
<ellipse cx="516.93" cy="145.63" rx="3.77" ry="2.26" fill="#d282c8" opacity="0.4" transform="rotate(136.59 516.93 145.63)"/>
<ellipse cx="515.73" cy="161.19" rx="3.04" ry="2.23" fill="#d68ccc" opacity="0.4" transform="rotate(136.45 515.73 161.19)"/>
<ellipse cx="528.9" cy="133.64" rx="2.81" ry="1.63" fill="#d68ccc" opacity="0.4" transform="rotate(73.6 528.9 133.64)"/>
<ellipse cx="551.26" cy="128.45" rx="3.7" ry="2.22" fill="#d282c8" opacity="0.4" transform="rotate(163.01 551.26 128.45)"/>
<ellipse cx="564.12" cy="154.39" rx="1.62" ry="1.12" fill="#eab8e4" opacity="0.4" transform="rotate(40.03 564.12 154.39)"/>
<ellipse cx="479.69" cy="143.42" rx="3.87" ry="3.32" fill="#d68ccc" opacity="0.4" transform="rotate(64.53 479.69 143.42)"/>
<ellipse cx="547.39" cy="138.28" rx="1.71" ry="1.44" fill="#d282c8" opacity="0.4" transform="rotate(16.02 547.39 138.28)"/>
<ellipse cx="462.38" cy="121.49" rx="1.07" ry="0.9" fill="#f2c4ec" opacity="0.55" transform="rotate(24.96 462.38 121.49)"/>
<ellipse cx="517.03" cy="151.8" rx="0.77" ry="0.76" fill="#f2c4ec" opacity="0.55" transform="rotate(5.96 517.03 151.8)"/>
<ellipse cx="475.37" cy="142.9" rx="1.14" ry="0.8" fill="#f2c4ec" opacity="0.55" transform="rotate(179.34 475.37 142.9)"/>
<ellipse cx="473.45" cy="154.77" rx="1.67" ry="1.12" fill="#d282c8" opacity="0.55" transform="rotate(37.07 473.45 154.77)"/>
<ellipse cx="499.23" cy="164.13" rx="0.85" ry="0.52" fill="#cf7cc4" opacity="0.55" transform="rotate(105.28 499.23 164.13)"/>
<ellipse cx="467.38" cy="118.41" rx="0.82" ry="0.46" fill="#d282c8" opacity="0.55" transform="rotate(26.57 467.38 118.41)"/>
<ellipse cx="464.27" cy="152.99" rx="1.64" ry="1.36" fill="#d282c8" opacity="0.55" transform="rotate(39.3 464.27 152.99)"/>
<ellipse cx="537.37" cy="125.61" rx="1.37" ry="0.83" fill="#f8dcf4" opacity="0.55" transform="rotate(7.45 537.37 125.61)"/>
<ellipse cx="491.76" cy="144.74" rx="1.18" ry="0.97" fill="#eab4e6" opacity="0.55" transform="rotate(56.95 491.76 144.74)"/>
<ellipse cx="563.14" cy="166.07" rx="1.55" ry="1.01" fill="#cf7cc4" opacity="0.55" transform="rotate(31.73 563.14 166.07)"/>
<ellipse cx="558.91" cy="158.22" rx="0.95" ry="0.56" fill="#cf7cc4" opacity="0.55" transform="rotate(5.18 558.91 158.22)"/>
<ellipse cx="500.26" cy="164.23" rx="1.4" ry="0.9" fill="#eab4e6" opacity="0.55" transform="rotate(55 500.26 164.23)"/>
<ellipse cx="473.01" cy="126.05" rx="1" ry="0.7" fill="#f2c4ec" opacity="0.55" transform="rotate(8.74 473.01 126.05)"/>
<ellipse cx="489.07" cy="159.98" rx="1.36" ry="1.34" fill="#eab4e6" opacity="0.55" transform="rotate(36.2 489.07 159.98)"/>
<ellipse cx="535.66" cy="159.02" rx="1.17" ry="0.88" fill="#f8dcf4" opacity="0.55" transform="rotate(141.92 535.66 159.02)"/>
<ellipse cx="551.01" cy="165.46" rx="1.19" ry="0.95" fill="#d282c8" opacity="0.55" transform="rotate(153.82 551.01 165.46)"/>
<ellipse cx="475.51" cy="152.49" rx="1.43" ry="1.41" fill="#f8dcf4" opacity="0.55" transform="rotate(138.16 475.51 152.49)"/>
<ellipse cx="512.28" cy="155.35" rx="1.16" ry="0.72" fill="#cf7cc4" opacity="0.55" transform="rotate(17.42 512.28 155.35)"/>
<ellipse cx="490.62" cy="124.71" rx="0.65" ry="0.37" fill="#f2c4ec" opacity="0.55" transform="rotate(155.73 490.62 124.71)"/>
<ellipse cx="557.59" cy="160.67" rx="1.55" ry="1.51" fill="#eab4e6" opacity="0.55" transform="rotate(155.97 557.59 160.67)"/>
<ellipse cx="519.04" cy="144.06" rx="1.22" ry="1.04" fill="#eab4e6" opacity="0.55" transform="rotate(90.62 519.04 144.06)"/>
<ellipse cx="515.86" cy="152.09" rx="1.15" ry="0.99" fill="#eab4e6" opacity="0.55" transform="rotate(84.04 515.86 152.09)"/>
<ellipse cx="499.93" cy="142.25" rx="1.02" ry="0.61" fill="#d282c8" opacity="0.55" transform="rotate(52.69 499.93 142.25)"/>
<ellipse cx="521.68" cy="124.21" rx="1.62" ry="0.91" fill="#eab4e6" opacity="0.55" transform="rotate(76.48 521.68 124.21)"/>
<ellipse cx="486.76" cy="160.45" rx="0.85" ry="0.8" fill="#cf7cc4" opacity="0.55" transform="rotate(55.25 486.76 160.45)"/>
<ellipse cx="486.47" cy="155.21" rx="1.48" ry="1.35" fill="#cf7cc4" opacity="0.55" transform="rotate(5.94 486.47 155.21)"/>
<ellipse cx="547.61" cy="129.67" rx="1.24" ry="0.89" fill="#eab4e6" opacity="0.55" transform="rotate(126.38 547.61 129.67)"/>
<ellipse cx="503.03" cy="157.17" rx="1.06" ry="0.64" fill="#f8dcf4" opacity="0.55" transform="rotate(38.59 503.03 157.17)"/>
<ellipse cx="492.14" cy="164.35" rx="0.73" ry="0.45" fill="#cf7cc4" opacity="0.55" transform="rotate(174.44 492.14 164.35)"/>
<ellipse cx="533.58" cy="160.75" rx="1.14" ry="0.94" fill="#d282c8" opacity="0.55" transform="rotate(118.48 533.58 160.75)"/>
<ellipse cx="464.63" cy="140.21" rx="0.96" ry="0.7" fill="#f2c4ec" opacity="0.55" transform="rotate(1 464.63 140.21)"/>
<ellipse cx="490.07" cy="129.59" rx="0.94" ry="0.89" fill="#f8dcf4" opacity="0.55" transform="rotate(44.29 490.07 129.59)"/>
<ellipse cx="503.26" cy="155.12" rx="0.88" ry="0.71" fill="#cf7cc4" opacity="0.55" transform="rotate(152.37 503.26 155.12)"/>
<ellipse cx="541.39" cy="158.8" rx="1.4" ry="1.2" fill="#cf7cc4" opacity="0.55" transform="rotate(3.71 541.39 158.8)"/>
<ellipse cx="512.56" cy="131.29" rx="1.16" ry="1.13" fill="#d282c8" opacity="0.55" transform="rotate(46.74 512.56 131.29)"/>
<ellipse cx="502.69" cy="126.6" rx="1.66" ry="1.47" fill="#cf7cc4" opacity="0.55" transform="rotate(8.69 502.69 126.6)"/>
<ellipse cx="486.42" cy="151.51" rx="0.66" ry="0.64" fill="#f8dcf4" opacity="0.55" transform="rotate(123.13 486.42 151.51)"/>
<ellipse cx="489.62" cy="121.26" rx="1.26" ry="0.84" fill="#d282c8" opacity="0.55" transform="rotate(131.3 489.62 121.26)"/>
<ellipse cx="475.8" cy="118.21" rx="0.98" ry="0.51" fill="#cf7cc4" opacity="0.55" transform="rotate(73.61 475.8 118.21)"/>
<ellipse cx="551.12" cy="143.43" rx="0.69" ry="0.52" fill="#f8dcf4" opacity="0.55" transform="rotate(85.2 551.12 143.43)"/>
<ellipse cx="511.27" cy="139.99" rx="1.42" ry="1.35" fill="#f8dcf4" opacity="0.55" transform="rotate(148.88 511.27 139.99)"/>
<ellipse cx="485.67" cy="166.05" rx="1.16" ry="0.79" fill="#d282c8" opacity="0.55" transform="rotate(168.55 485.67 166.05)"/>
<ellipse cx="556.17" cy="132.11" rx="1.07" ry="0.76" fill="#d282c8" opacity="0.55" transform="rotate(170 556.17 132.11)"/>
<ellipse cx="465.16" cy="152.76" rx="1.14" ry="0.8" fill="#cf7cc4" opacity="0.55" transform="rotate(146.99 465.16 152.76)"/>
<ellipse cx="556.2" cy="137.46" rx="1.27" ry="1.13" fill="#eab4e6" opacity="0.55" transform="rotate(81.65 556.2 137.46)"/>
<ellipse cx="552.13" cy="131.32" rx="1.45" ry="0.87" fill="#d282c8" opacity="0.55" transform="rotate(116.04 552.13 131.32)"/>
<ellipse cx="484.99" cy="133.05" rx="1.75" ry="1.24" fill="#f8dcf4" opacity="0.55" transform="rotate(56.38 484.99 133.05)"/>
<ellipse cx="523.57" cy="157.33" rx="1.1" ry="0.59" fill="#f8dcf4" opacity="0.55" transform="rotate(117.26 523.57 157.33)"/>
<ellipse cx="546.06" cy="164.64" rx="0.74" ry="0.68" fill="#f8dcf4" opacity="0.55" transform="rotate(127.5 546.06 164.64)"/>
<ellipse cx="488.9" cy="155.25" rx="1.12" ry="0.6" fill="#cf7cc4" opacity="0.55" transform="rotate(17.01 488.9 155.25)"/>
<ellipse cx="552.05" cy="139.92" rx="0.77" ry="0.55" fill="#f8dcf4" opacity="0.55" transform="rotate(28.04 552.05 139.92)"/>
<ellipse cx="523.9" cy="131.67" rx="1.62" ry="1.25" fill="#f2c4ec" opacity="0.55" transform="rotate(139.28 523.9 131.67)"/>
<ellipse cx="533.2" cy="158.5" rx="1.58" ry="1.34" fill="#cf7cc4" opacity="0.55" transform="rotate(41.08 533.2 158.5)"/>
<ellipse cx="522.97" cy="154.61" rx="0.92" ry="0.71" fill="#cf7cc4" opacity="0.55" transform="rotate(141.63 522.97 154.61)"/>
<ellipse cx="507.23" cy="131.88" rx="1.33" ry="1.11" fill="#cf7cc4" opacity="0.55" transform="rotate(134.71 507.23 131.88)"/>
<ellipse cx="478.68" cy="150.61" rx="0.77" ry="0.76" fill="#eab4e6" opacity="0.55" transform="rotate(129.79 478.68 150.61)"/>
<ellipse cx="505.6" cy="164.71" rx="0.81" ry="0.61" fill="#cf7cc4" opacity="0.55" transform="rotate(122.82 505.6 164.71)"/>
<ellipse cx="498.27" cy="135.5" rx="1.68" ry="1.53" fill="#d282c8" opacity="0.55" transform="rotate(60.48 498.27 135.5)"/>
<ellipse cx="499.96" cy="154.38" rx="1.46" ry="1.09" fill="#eab4e6" opacity="0.55" transform="rotate(55.43 499.96 154.38)"/>
<ellipse cx="535.07" cy="153.14" rx="1.31" ry="0.88" fill="#f2c4ec" opacity="0.55" transform="rotate(154.39 535.07 153.14)"/>
<ellipse cx="539.86" cy="161.68" rx="1.32" ry="1.2" fill="#f2c4ec" opacity="0.55" transform="rotate(11.71 539.86 161.68)"/>
<ellipse cx="545.89" cy="158.7" rx="1.02" ry="0.6" fill="#d282c8" opacity="0.55" transform="rotate(13.19 545.89 158.7)"/>
<ellipse cx="504.49" cy="141.9" rx="1.76" ry="1.23" fill="#f2c4ec" opacity="0.55" transform="rotate(17.69 504.49 141.9)"/>
<ellipse cx="503.32" cy="141.82" rx="0.79" ry="0.41" fill="#eab4e6" opacity="0.55" transform="rotate(13.36 503.32 141.82)"/>
<ellipse cx="502.42" cy="130.35" rx="1.52" ry="1.32" fill="#eab4e6" opacity="0.55" transform="rotate(18.19 502.42 130.35)"/>
<ellipse cx="487.16" cy="159.82" rx="1.33" ry="1.28" fill="#d282c8" opacity="0.55" transform="rotate(64.62 487.16 159.82)"/>
<ellipse cx="505.76" cy="166.03" rx="1.38" ry="1.36" fill="#cf7cc4" opacity="0.55" transform="rotate(128.02 505.76 166.03)"/>
<ellipse cx="486.28" cy="126.65" rx="0.62" ry="0.54" fill="#f2c4ec" opacity="0.55" transform="rotate(108.21 486.28 126.65)"/>
<ellipse cx="554.9" cy="130.01" rx="0.83" ry="0.51" fill="#f8dcf4" opacity="0.55" transform="rotate(82.18 554.9 130.01)"/>
<ellipse cx="509.98" cy="134.31" rx="0.88" ry="0.72" fill="#f8dcf4" opacity="0.55" transform="rotate(119.12 509.98 134.31)"/>
<ellipse cx="562.31" cy="139.38" rx="1.46" ry="1" fill="#cf7cc4" opacity="0.55" transform="rotate(78.02 562.31 139.38)"/>
<ellipse cx="517.45" cy="152.57" rx="0.62" ry="0.48" fill="#cf7cc4" opacity="0.55" transform="rotate(95.39 517.45 152.57)"/>
<ellipse cx="560.43" cy="139.69" rx="0.7" ry="0.55" fill="#d282c8" opacity="0.55" transform="rotate(105.75 560.43 139.69)"/>
<ellipse cx="512.43" cy="142.37" rx="1.26" ry="0.63" fill="#f2c4ec" opacity="0.55" transform="rotate(90.65 512.43 142.37)"/>
<ellipse cx="563.26" cy="163.53" rx="0.94" ry="0.93" fill="#d282c8" opacity="0.55" transform="rotate(50.22 563.26 163.53)"/>
<ellipse cx="486.72" cy="138.34" rx="0.89" ry="0.53" fill="#eab4e6" opacity="0.55" transform="rotate(88.68 486.72 138.34)"/>
<ellipse cx="474.45" cy="149.06" rx="1.32" ry="0.84" fill="#f8dcf4" opacity="0.55" transform="rotate(6.34 474.45 149.06)"/>
<ellipse cx="533.74" cy="147.44" rx="0.72" ry="0.69" fill="#d282c8" opacity="0.55" transform="rotate(71.83 533.74 147.44)"/>
<ellipse cx="531.3" cy="120.59" rx="0.74" ry="0.56" fill="#d282c8" opacity="0.55" transform="rotate(115.08 531.3 120.59)"/>
<ellipse cx="541.86" cy="163" rx="0.8" ry="0.54" fill="#cf7cc4" opacity="0.55" transform="rotate(170.99 541.86 163)"/>
<ellipse cx="491.15" cy="129.54" rx="0.75" ry="0.43" fill="#f2c4ec" opacity="0.55" transform="rotate(102.56 491.15 129.54)"/>
<ellipse cx="531.17" cy="140.43" rx="0.97" ry="0.69" fill="#f2c4ec" opacity="0.55" transform="rotate(45.59 531.17 140.43)"/>
<ellipse cx="540.49" cy="135.11" rx="1.64" ry="0.86" fill="#eab4e6" opacity="0.55" transform="rotate(101.82 540.49 135.11)"/>
<ellipse cx="487.97" cy="138.42" rx="0.7" ry="0.37" fill="#f8dcf4" opacity="0.55" transform="rotate(151.14 487.97 138.42)"/>
<ellipse cx="500.44" cy="157.81" rx="0.95" ry="0.53" fill="#cf7cc4" opacity="0.55" transform="rotate(138.17 500.44 157.81)"/>
<ellipse cx="565.2" cy="118.29" rx="0.8" ry="0.57" fill="#cf7cc4" opacity="0.55" transform="rotate(178.44 565.2 118.29)"/>
<ellipse cx="565.59" cy="140.93" rx="1.38" ry="1.24" fill="#cf7cc4" opacity="0.55" transform="rotate(159.98 565.59 140.93)"/>
<ellipse cx="515.69" cy="157.54" rx="1.58" ry="1.34" fill="#cf7cc4" opacity="0.55" transform="rotate(149.19 515.69 157.54)"/>
<ellipse cx="515.35" cy="147.37" rx="0.78" ry="0.57" fill="#cf7cc4" opacity="0.55" transform="rotate(26.17 515.35 147.37)"/>
<ellipse cx="524.09" cy="159.96" rx="1.43" ry="0.99" fill="#f2c4ec" opacity="0.55" transform="rotate(105.42 524.09 159.96)"/>
<ellipse cx="539.94" cy="140.18" rx="1.23" ry="0.8" fill="#d282c8" opacity="0.55" transform="rotate(98.61 539.94 140.18)"/>
<ellipse cx="513.95" cy="120.71" rx="1.27" ry="0.73" fill="#eab4e6" opacity="0.55" transform="rotate(0.32 513.95 120.71)"/>
<ellipse cx="546.28" cy="128.41" rx="1.2" ry="1.05" fill="#f8dcf4" opacity="0.55" transform="rotate(36.03 546.28 128.41)"/>
<ellipse cx="548.98" cy="156.39" rx="1.44" ry="0.97" fill="#f8dcf4" opacity="0.55" transform="rotate(147.8 548.98 156.39)"/>
<ellipse cx="531.03" cy="135.91" rx="0.95" ry="0.88" fill="#eab4e6" opacity="0.55" transform="rotate(128.08 531.03 135.91)"/>
<ellipse cx="553.81" cy="125.76" rx="1.44" ry="1.21" fill="#f8dcf4" opacity="0.55" transform="rotate(103.91 553.81 125.76)"/>
<ellipse cx="517.92" cy="163.33" rx="1.39" ry="1.23" fill="#d282c8" opacity="0.55" transform="rotate(43.14 517.92 163.33)"/>
<ellipse cx="536.05" cy="159.47" rx="0.65" ry="0.42" fill="#cf7cc4" opacity="0.55" transform="rotate(63.99 536.05 159.47)"/>
<ellipse cx="496.21" cy="154.46" rx="0.91" ry="0.88" fill="#cf7cc4" opacity="0.55" transform="rotate(78.35 496.21 154.46)"/>
<ellipse cx="461.98" cy="146.38" rx="1.57" ry="1.55" fill="#cf7cc4" opacity="0.55" transform="rotate(179.3 461.98 146.38)"/>
<ellipse cx="494.23" cy="142.1" rx="1.38" ry="1.3" fill="#d282c8" opacity="0.55" transform="rotate(58.72 494.23 142.1)"/>
<ellipse cx="560.48" cy="152.33" rx="1.07" ry="0.91" fill="#f2c4ec" opacity="0.55" transform="rotate(0.05 560.48 152.33)"/>
<ellipse cx="523.34" cy="153.61" rx="0.86" ry="0.61" fill="#d282c8" opacity="0.55" transform="rotate(163.89 523.34 153.61)"/>
<ellipse cx="525.08" cy="153.34" rx="1.6" ry="0.89" fill="#f2c4ec" opacity="0.55" transform="rotate(149.15 525.08 153.34)"/>
<ellipse cx="484.84" cy="120.05" rx="0.83" ry="0.45" fill="#d282c8" opacity="0.55" transform="rotate(102.67 484.84 120.05)"/>
<ellipse cx="531.93" cy="142.76" rx="1.42" ry="0.78" fill="#d282c8" opacity="0.55" transform="rotate(116.55 531.93 142.76)"/>
<ellipse cx="556.29" cy="136.96" rx="1.78" ry="1.35" fill="#eab4e6" opacity="0.55" transform="rotate(45.66 556.29 136.96)"/>
<ellipse cx="552.88" cy="152.85" rx="1.64" ry="1.29" fill="#f8dcf4" opacity="0.55" transform="rotate(17.59 552.88 152.85)"/>
<ellipse cx="503.14" cy="141.63" rx="1.47" ry="1.2" fill="#eab4e6" opacity="0.55" transform="rotate(65.33 503.14 141.63)"/>
<ellipse cx="539.47" cy="148.27" rx="1.37" ry="0.98" fill="#eab4e6" opacity="0.55" transform="rotate(153.68 539.47 148.27)"/>
<ellipse cx="507.04" cy="152.82" rx="1.27" ry="1.18" fill="#cf7cc4" opacity="0.55" transform="rotate(99.07 507.04 152.82)"/>
<ellipse cx="491.09" cy="139.27" rx="1.15" ry="0.6" fill="#f8dcf4" opacity="0.55" transform="rotate(83.27 491.09 139.27)"/>
<ellipse cx="556.58" cy="125.01" rx="1.48" ry="1.11" fill="#eab4e6" opacity="0.55" transform="rotate(18.95 556.58 125.01)"/>
<ellipse cx="494.96" cy="157.15" rx="1.41" ry="1.36" fill="#f8dcf4" opacity="0.55" transform="rotate(0.76 494.96 157.15)"/>
<ellipse cx="512.7" cy="165.04" rx="1.54" ry="1" fill="#f8dcf4" opacity="0.55" transform="rotate(87.08 512.7 165.04)"/>
<ellipse cx="471.64" cy="164.01" rx="0.89" ry="0.62" fill="#eab4e6" opacity="0.55" transform="rotate(150.89 471.64 164.01)"/>
<ellipse cx="529.67" cy="157.89" rx="1.74" ry="1.11" fill="#f8dcf4" opacity="0.55" transform="rotate(170.27 529.67 157.89)"/>
<ellipse cx="512.74" cy="122.66" rx="1.24" ry="0.93" fill="#eab4e6" opacity="0.55" transform="rotate(179.32 512.74 122.66)"/>
<ellipse cx="497.21" cy="130.29" rx="1.6" ry="1.26" fill="#f8dcf4" opacity="0.55" transform="rotate(143.04 497.21 130.29)"/>
<ellipse cx="513.77" cy="148.87" rx="0.9" ry="0.89" fill="#eab4e6" opacity="0.55" transform="rotate(49.51 513.77 148.87)"/>
<ellipse cx="468.04" cy="125.2" rx="1.03" ry="0.81" fill="#f2c4ec" opacity="0.55" transform="rotate(144.84 468.04 125.2)"/>
<ellipse cx="508.05" cy="118.66" rx="1.63" ry="0.99" fill="#d282c8" opacity="0.55" transform="rotate(177.88 508.05 118.66)"/>
<ellipse cx="552.5" cy="118.48" rx="1.07" ry="1.02" fill="#d282c8" opacity="0.55" transform="rotate(31.87 552.5 118.48)"/>
<ellipse cx="525.97" cy="154.78" rx="1.31" ry="0.89" fill="#f8dcf4" opacity="0.55" transform="rotate(139.32 525.97 154.78)"/>
<ellipse cx="523.52" cy="122.68" rx="0.76" ry="0.62" fill="#f2c4ec" opacity="0.55" transform="rotate(110.64 523.52 122.68)"/>
<ellipse cx="501.8" cy="143.81" rx="1.65" ry="1.26" fill="#f2c4ec" opacity="0.55" transform="rotate(101.84 501.8 143.81)"/>
<ellipse cx="497.64" cy="141.63" rx="0.66" ry="0.48" fill="#f8dcf4" opacity="0.55" transform="rotate(161.54 497.64 141.63)"/>
<ellipse cx="538.79" cy="162.49" rx="1.35" ry="1.17" fill="#eab4e6" opacity="0.55" transform="rotate(82.2 538.79 162.49)"/>
<ellipse cx="561.92" cy="161.36" rx="1.77" ry="1.24" fill="#cf7cc4" opacity="0.55" transform="rotate(123.49 561.92 161.36)"/>
<ellipse cx="521.96" cy="118.41" rx="1.4" ry="1.26" fill="#cf7cc4" opacity="0.55" transform="rotate(115.64 521.96 118.41)"/>
<ellipse cx="561.78" cy="148.2" rx="1.03" ry="0.77" fill="#eab4e6" opacity="0.55" transform="rotate(32.74 561.78 148.2)"/>
<ellipse cx="505.06" cy="125.15" rx="0.89" ry="0.55" fill="#eab4e6" opacity="0.55" transform="rotate(141.57 505.06 125.15)"/>
<ellipse cx="465.76" cy="136.66" rx="1.24" ry="0.77" fill="#cf7cc4" opacity="0.55" transform="rotate(137.67 465.76 136.66)"/>
<ellipse cx="501.14" cy="139.76" rx="1.18" ry="1" fill="#f8dcf4" opacity="0.55" transform="rotate(104.35 501.14 139.76)"/>
<ellipse cx="463.21" cy="129.61" rx="0.85" ry="0.59" fill="#f2c4ec" opacity="0.55" transform="rotate(130.87 463.21 129.61)"/>
<ellipse cx="515.43" cy="159.31" rx="1.33" ry="1" fill="#f8dcf4" opacity="0.55" transform="rotate(169.07 515.43 159.31)"/>
<ellipse cx="512.21" cy="147.45" rx="1.47" ry="0.85" fill="#eab4e6" opacity="0.55" transform="rotate(175.83 512.21 147.45)"/>
<ellipse cx="494.06" cy="157.19" rx="1.69" ry="1.57" fill="#f2c4ec" opacity="0.55" transform="rotate(69.83 494.06 157.19)"/>
<ellipse cx="536.91" cy="123.09" rx="1.57" ry="1.09" fill="#eab4e6" opacity="0.55" transform="rotate(14.43 536.91 123.09)"/>
<ellipse cx="480.54" cy="120.92" rx="0.61" ry="0.41" fill="#f2c4ec" opacity="0.55" transform="rotate(110.34 480.54 120.92)"/>
<ellipse cx="517.28" cy="133.51" rx="0.74" ry="0.54" fill="#f2c4ec" opacity="0.55" transform="rotate(107.18 517.28 133.51)"/>
<ellipse cx="514.89" cy="154.23" rx="1.06" ry="0.84" fill="#cf7cc4" opacity="0.55" transform="rotate(121.34 514.89 154.23)"/>
<ellipse cx="507.98" cy="145.69" rx="1.42" ry="1" fill="#f2c4ec" opacity="0.55" transform="rotate(109.21 507.98 145.69)"/>
<ellipse cx="463.36" cy="143.67" rx="1.8" ry="1.69" fill="#f2c4ec" opacity="0.55" transform="rotate(45.11 463.36 143.67)"/>
<ellipse cx="556.58" cy="136.52" rx="1.26" ry="0.82" fill="#eab4e6" opacity="0.55" transform="rotate(179.51 556.58 136.52)"/>
<ellipse cx="541.73" cy="145.74" rx="1.62" ry="1.03" fill="#f2c4ec" opacity="0.55" transform="rotate(98.77 541.73 145.74)"/>
<ellipse cx="559.15" cy="159.19" rx="1.1" ry="0.76" fill="#f8dcf4" opacity="0.55" transform="rotate(59.15 559.15 159.19)"/>
<ellipse cx="489.58" cy="116.13" rx="1.35" ry="1.13" fill="#f8dcf4" opacity="0.55" transform="rotate(148.59 489.58 116.13)"/>
<ellipse cx="506.1" cy="166.29" rx="1.79" ry="1.54" fill="#d282c8" opacity="0.55" transform="rotate(131.27 506.1 166.29)"/>
<ellipse cx="472.66" cy="127.88" rx="1.33" ry="1.14" fill="#cf7cc4" opacity="0.55" transform="rotate(22.24 472.66 127.88)"/>
<ellipse cx="483.11" cy="135.47" rx="1.01" ry="0.84" fill="#f2c4ec" opacity="0.55" transform="rotate(83.52 483.11 135.47)"/>
<ellipse cx="476.36" cy="156.15" rx="1.15" ry="1.12" fill="#f8dcf4" opacity="0.55" transform="rotate(148.13 476.36 156.15)"/>
<ellipse cx="561.88" cy="123.44" rx="0.85" ry="0.49" fill="#f8dcf4" opacity="0.55" transform="rotate(46.13 561.88 123.44)"/>
<ellipse cx="507.06" cy="116.68" rx="1.39" ry="0.71" fill="#cf7cc4" opacity="0.55" transform="rotate(17.76 507.06 116.68)"/>
<ellipse cx="560.24" cy="141.43" rx="1.78" ry="1.16" fill="#f2c4ec" opacity="0.55" transform="rotate(99.39 560.24 141.43)"/>
<ellipse cx="473.56" cy="126.23" rx="0.73" ry="0.64" fill="#d282c8" opacity="0.55" transform="rotate(88.9 473.56 126.23)"/>
<ellipse cx="537.23" cy="125.76" rx="0.88" ry="0.64" fill="#d282c8" opacity="0.55" transform="rotate(77.92 537.23 125.76)"/>
<ellipse cx="532.4" cy="148.03" rx="0.82" ry="0.82" fill="#eab4e6" opacity="0.55" transform="rotate(0.56 532.4 148.03)"/>
<ellipse cx="551.91" cy="115.95" rx="1.64" ry="0.95" fill="#f8dcf4" opacity="0.55" transform="rotate(33.54 551.91 115.95)"/>
<ellipse cx="508.62" cy="155.06" rx="1.08" ry="0.92" fill="#d282c8" opacity="0.55" transform="rotate(32.91 508.62 155.06)"/>
<ellipse cx="539.86" cy="141.6" rx="0.7" ry="0.51" fill="#f2c4ec" opacity="0.55" transform="rotate(71.3 539.86 141.6)"/>
<ellipse cx="463.49" cy="134.36" rx="1.44" ry="1.07" fill="#eab4e6" opacity="0.55" transform="rotate(132.39 463.49 134.36)"/>
<ellipse cx="465.88" cy="151.04" rx="0.89" ry="0.73" fill="#eab4e6" opacity="0.55" transform="rotate(34.21 465.88 151.04)"/>
<ellipse cx="501.85" cy="116.55" rx="0.91" ry="0.68" fill="#f8dcf4" opacity="0.55" transform="rotate(57.32 501.85 116.55)"/>
<ellipse cx="467.7" cy="163.82" rx="1.55" ry="1.36" fill="#f2c4ec" opacity="0.55" transform="rotate(14.11 467.7 163.82)"/>
<ellipse cx="559.24" cy="127.69" rx="0.82" ry="0.58" fill="#eab4e6" opacity="0.55" transform="rotate(22.75 559.24 127.69)"/>
<ellipse cx="478.3" cy="141.03" rx="1.09" ry="0.67" fill="#eab4e6" opacity="0.55" transform="rotate(59.58 478.3 141.03)"/>
<ellipse cx="466.69" cy="165.65" rx="0.67" ry="0.35" fill="#f8dcf4" opacity="0.55" transform="rotate(92.26 466.69 165.65)"/>
<ellipse cx="513.86" cy="125.9" rx="1.21" ry="0.7" fill="#f2c4ec" opacity="0.55" transform="rotate(151.4 513.86 125.9)"/>
<ellipse cx="463.04" cy="151.33" rx="1.59" ry="0.99" fill="#eab4e6" opacity="0.55" transform="rotate(24.65 463.04 151.33)"/>
<ellipse cx="511.81" cy="137.6" rx="0.77" ry="0.71" fill="#d282c8" opacity="0.55" transform="rotate(85.22 511.81 137.6)"/>
<ellipse cx="472.96" cy="122.37" rx="0.84" ry="0.81" fill="#d282c8" opacity="0.55" transform="rotate(3.2 472.96 122.37)"/>
<ellipse cx="530.8" cy="134.52" rx="1.17" ry="1.11" fill="#cf7cc4" opacity="0.55" transform="rotate(167.42 530.8 134.52)"/>
<ellipse cx="484.24" cy="122.58" rx="0.74" ry="0.58" fill="#f8dcf4" opacity="0.55" transform="rotate(136.03 484.24 122.58)"/>
<ellipse cx="527.76" cy="137.93" rx="1.7" ry="0.99" fill="#cf7cc4" opacity="0.55" transform="rotate(166.21 527.76 137.93)"/>
<ellipse cx="475.53" cy="137.32" rx="1.42" ry="1.29" fill="#cf7cc4" opacity="0.55" transform="rotate(168.06 475.53 137.32)"/>
<ellipse cx="511.68" cy="125.34" rx="1" ry="0.66" fill="#eab4e6" opacity="0.55" transform="rotate(123.69 511.68 125.34)"/>
<ellipse cx="506.26" cy="139.33" rx="1.49" ry="1.26" fill="#cf7cc4" opacity="0.55" transform="rotate(32.69 506.26 139.33)"/>
<ellipse cx="476.23" cy="123.04" rx="1.62" ry="1.48" fill="#d282c8" opacity="0.55" transform="rotate(43.93 476.23 123.04)"/>
<ellipse cx="492.98" cy="165.44" rx="1.66" ry="1.32" fill="#cf7cc4" opacity="0.55" transform="rotate(8.2 492.98 165.44)"/>
<ellipse cx="542.11" cy="121.73" rx="1.58" ry="0.92" fill="#f8dcf4" opacity="0.55" transform="rotate(50.22 542.11 121.73)"/>
<ellipse cx="512.76" cy="137.24" rx="1.66" ry="1.54" fill="#eab4e6" opacity="0.55" transform="rotate(53.67 512.76 137.24)"/>
<ellipse cx="484.17" cy="142.77" rx="1.27" ry="0.82" fill="#f2c4ec" opacity="0.55" transform="rotate(133.85 484.17 142.77)"/>
<ellipse cx="512.89" cy="132.26" rx="0.81" ry="0.63" fill="#d282c8" opacity="0.55" transform="rotate(34.97 512.89 132.26)"/>
<ellipse cx="544.85" cy="138.1" rx="1.19" ry="0.6" fill="#f2c4ec" opacity="0.55" transform="rotate(2.71 544.85 138.1)"/>
<ellipse cx="560.49" cy="152.12" rx="1.42" ry="1" fill="#cf7cc4" opacity="0.55" transform="rotate(54.6 560.49 152.12)"/>
<ellipse cx="543.68" cy="119.98" rx="0.74" ry="0.4" fill="#d282c8" opacity="0.55" transform="rotate(126.93 543.68 119.98)"/>
<ellipse cx="474.3" cy="125.34" rx="1.59" ry="1.06" fill="#eab4e6" opacity="0.55" transform="rotate(0.63 474.3 125.34)"/>
<ellipse cx="530.99" cy="124.43" rx="1.17" ry="1.17" fill="#f2c4ec" opacity="0.55" transform="rotate(22.2 530.99 124.43)"/>
<ellipse cx="551.29" cy="151.19" rx="0.79" ry="0.58" fill="#f2c4ec" opacity="0.55" transform="rotate(109.27 551.29 151.19)"/>
<ellipse cx="510.3" cy="119.04" rx="0.64" ry="0.41" fill="#f8dcf4" opacity="0.55" transform="rotate(169.09 510.3 119.04)"/>
<ellipse cx="497.24" cy="120.76" rx="1.8" ry="1.55" fill="#f2c4ec" opacity="0.55" transform="rotate(170.8 497.24 120.76)"/>
<ellipse cx="550.72" cy="141.92" rx="1.38" ry="1.07" fill="#eab4e6" opacity="0.55" transform="rotate(53.43 550.72 141.92)"/>
<ellipse cx="502.63" cy="115.96" rx="0.84" ry="0.48" fill="#d282c8" opacity="0.55" transform="rotate(26 502.63 115.96)"/>
<ellipse cx="548.01" cy="137.28" rx="1.24" ry="0.85" fill="#d282c8" opacity="0.55" transform="rotate(83.55 548.01 137.28)"/>
<ellipse cx="477.29" cy="129.21" rx="1.38" ry="1.04" fill="#f2c4ec" opacity="0.55" transform="rotate(96.8 477.29 129.21)"/>
<ellipse cx="489.09" cy="152.76" rx="0.82" ry="0.67" fill="#eab4e6" opacity="0.55" transform="rotate(120.18 489.09 152.76)"/>
<ellipse cx="505.7" cy="125.3" rx="1.1" ry="0.88" fill="#cf7cc4" opacity="0.55" transform="rotate(132.49 505.7 125.3)"/>
<ellipse cx="476.87" cy="151.83" rx="1.12" ry="0.97" fill="#f2c4ec" opacity="0.55" transform="rotate(63.34 476.87 151.83)"/>
<ellipse cx="497.15" cy="150.98" rx="1.27" ry="1.12" fill="#f2c4ec" opacity="0.55" transform="rotate(5.31 497.15 150.98)"/>
<ellipse cx="469.19" cy="126.61" rx="0.55" ry="0.52" fill="#fbe8f8" opacity="0.7" transform="rotate(89.33 469.19 126.61)"/>
<ellipse cx="471.57" cy="141.55" rx="0.82" ry="0.63" fill="#ffffff" opacity="0.7" transform="rotate(170.05 471.57 141.55)"/>
<ellipse cx="499.87" cy="115.84" rx="0.78" ry="0.44" fill="#fbe8f8" opacity="0.7" transform="rotate(1.69 499.87 115.84)"/>
<ellipse cx="548.52" cy="164.04" rx="0.5" ry="0.27" fill="#fbe8f8" opacity="0.7" transform="rotate(21.74 548.52 164.04)"/>
<ellipse cx="537.14" cy="138.01" rx="0.62" ry="0.59" fill="#fbe8f8" opacity="0.7" transform="rotate(100 537.14 138.01)"/>
<ellipse cx="478.16" cy="131.47" rx="0.86" ry="0.5" fill="#ffffff" opacity="0.7" transform="rotate(146.58 478.16 131.47)"/>
<ellipse cx="520.51" cy="144.93" rx="0.79" ry="0.62" fill="#ffffff" opacity="0.7" transform="rotate(41.27 520.51 144.93)"/>
<ellipse cx="469.32" cy="149.35" rx="0.82" ry="0.53" fill="#ffffff" opacity="0.7" transform="rotate(125.39 469.32 149.35)"/>
<ellipse cx="462.05" cy="124.92" rx="0.48" ry="0.48" fill="#fbe8f8" opacity="0.7" transform="rotate(155.4 462.05 124.92)"/>
<ellipse cx="530.25" cy="118.24" rx="0.55" ry="0.38" fill="#fbe8f8" opacity="0.7" transform="rotate(34.83 530.25 118.24)"/>
<ellipse cx="512.27" cy="141.32" rx="0.66" ry="0.44" fill="#ffffff" opacity="0.7" transform="rotate(64.9 512.27 141.32)"/>
<ellipse cx="560.84" cy="159.44" rx="0.71" ry="0.54" fill="#fbe8f8" opacity="0.7" transform="rotate(91.56 560.84 159.44)"/>
<ellipse cx="501.18" cy="145.18" rx="0.59" ry="0.54" fill="#fbe8f8" opacity="0.7" transform="rotate(172.45 501.18 145.18)"/>
<ellipse cx="524.24" cy="157.38" rx="0.72" ry="0.41" fill="#fbe8f8" opacity="0.7" transform="rotate(44.6 524.24 157.38)"/>
<ellipse cx="513.27" cy="121.25" rx="0.4" ry="0.37" fill="#ffffff" opacity="0.7" transform="rotate(30.04 513.27 121.25)"/>
<ellipse cx="542.37" cy="136.89" rx="0.51" ry="0.36" fill="#ffffff" opacity="0.7" transform="rotate(176.07 542.37 136.89)"/>
<ellipse cx="478.48" cy="134.3" rx="0.44" ry="0.38" fill="#fbe8f8" opacity="0.7" transform="rotate(176.32 478.48 134.3)"/>
<ellipse cx="474.66" cy="150.8" rx="0.53" ry="0.45" fill="#fbe8f8" opacity="0.7" transform="rotate(65.97 474.66 150.8)"/>
<ellipse cx="546.9" cy="117.56" rx="0.88" ry="0.52" fill="#fbe8f8" opacity="0.7" transform="rotate(0.67 546.9 117.56)"/>
<ellipse cx="531.62" cy="154.56" rx="0.59" ry="0.33" fill="#fbe8f8" opacity="0.7" transform="rotate(57.27 531.62 154.56)"/>
<ellipse cx="485.14" cy="138.18" rx="0.63" ry="0.6" fill="#ffffff" opacity="0.7" transform="rotate(0.99 485.14 138.18)"/>
<ellipse cx="462.78" cy="119.26" rx="0.57" ry="0.5" fill="#fbe8f8" opacity="0.7" transform="rotate(21.71 462.78 119.26)"/>
<ellipse cx="562.66" cy="159.56" rx="0.78" ry="0.42" fill="#fbe8f8" opacity="0.7" transform="rotate(106.07 562.66 159.56)"/>
<ellipse cx="513.66" cy="119.13" rx="0.49" ry="0.49" fill="#fbe8f8" opacity="0.7" transform="rotate(175.83 513.66 119.13)"/>
<ellipse cx="563.09" cy="134.25" rx="0.72" ry="0.49" fill="#fbe8f8" opacity="0.7" transform="rotate(110.84 563.09 134.25)"/>
<ellipse cx="525.96" cy="134.28" rx="0.41" ry="0.31" fill="#fbe8f8" opacity="0.7" transform="rotate(135.36 525.96 134.28)"/>
<ellipse cx="472.35" cy="150.29" rx="0.72" ry="0.44" fill="#fbe8f8" opacity="0.7" transform="rotate(102.17 472.35 150.29)"/>
<ellipse cx="527.61" cy="142.11" rx="0.46" ry="0.3" fill="#fbe8f8" opacity="0.7" transform="rotate(37.1 527.61 142.11)"/>
<ellipse cx="492.91" cy="149.06" rx="0.78" ry="0.72" fill="#ffffff" opacity="0.7" transform="rotate(7.02 492.91 149.06)"/>
<ellipse cx="561.75" cy="156.84" rx="0.53" ry="0.31" fill="#ffffff" opacity="0.7" transform="rotate(102.98 561.75 156.84)"/>
<ellipse cx="492.68" cy="163.46" rx="0.41" ry="0.28" fill="#fbe8f8" opacity="0.7" transform="rotate(140.5 492.68 163.46)"/>
<ellipse cx="487.77" cy="162.47" rx="0.55" ry="0.55" fill="#fbe8f8" opacity="0.7" transform="rotate(123.97 487.77 162.47)"/>
<ellipse cx="533.9" cy="123.54" rx="0.42" ry="0.26" fill="#fbe8f8" opacity="0.7" transform="rotate(43.86 533.9 123.54)"/>
<ellipse cx="544.62" cy="146.55" rx="0.68" ry="0.37" fill="#ffffff" opacity="0.7" transform="rotate(176.85 544.62 146.55)"/>
<ellipse cx="500.36" cy="160.93" rx="0.58" ry="0.46" fill="#ffffff" opacity="0.7" transform="rotate(101.43 500.36 160.93)"/>
<ellipse cx="558.32" cy="128.75" rx="0.76" ry="0.72" fill="#ffffff" opacity="0.7" transform="rotate(26.67 558.32 128.75)"/>
<ellipse cx="497.63" cy="121.1" rx="0.57" ry="0.46" fill="#fbe8f8" opacity="0.7" transform="rotate(141.64 497.63 121.1)"/>
<ellipse cx="526.9" cy="146.2" rx="0.73" ry="0.58" fill="#ffffff" opacity="0.7" transform="rotate(2.74 526.9 146.2)"/>
<ellipse cx="490.34" cy="127.45" rx="0.84" ry="0.61" fill="#fbe8f8" opacity="0.7" transform="rotate(75.39 490.34 127.45)"/>
<ellipse cx="526.48" cy="150.28" rx="0.84" ry="0.71" fill="#fbe8f8" opacity="0.7" transform="rotate(14.32 526.48 150.28)"/>
<ellipse cx="497.51" cy="136.88" rx="0.74" ry="0.43" fill="#fbe8f8" opacity="0.7" transform="rotate(112.87 497.51 136.88)"/>
<ellipse cx="547.33" cy="142.74" rx="0.48" ry="0.43" fill="#fbe8f8" opacity="0.7" transform="rotate(147.37 547.33 142.74)"/>
<ellipse cx="548.14" cy="143.98" rx="0.75" ry="0.44" fill="#ffffff" opacity="0.7" transform="rotate(73.62 548.14 143.98)"/>
<ellipse cx="564.53" cy="125.22" rx="0.72" ry="0.52" fill="#fbe8f8" opacity="0.7" transform="rotate(100.29 564.53 125.22)"/>
<ellipse cx="473.46" cy="158.06" rx="0.77" ry="0.49" fill="#fbe8f8" opacity="0.7" transform="rotate(21.6 473.46 158.06)"/>
<ellipse cx="497.2" cy="122.79" rx="0.68" ry="0.57" fill="#ffffff" opacity="0.7" transform="rotate(64.54 497.2 122.79)"/>
<ellipse cx="535.85" cy="127" rx="0.63" ry="0.53" fill="#fbe8f8" opacity="0.7" transform="rotate(83.2 535.85 127)"/>
<ellipse cx="490.74" cy="155.38" rx="0.57" ry="0.36" fill="#ffffff" opacity="0.7" transform="rotate(7.32 490.74 155.38)"/>
<ellipse cx="519.78" cy="120.07" rx="0.66" ry="0.56" fill="#fbe8f8" opacity="0.7" transform="rotate(80.56 519.78 120.07)"/>
<ellipse cx="470.59" cy="164.95" rx="0.58" ry="0.52" fill="#fbe8f8" opacity="0.7" transform="rotate(137.84 470.59 164.95)"/>
<ellipse cx="467.8" cy="149.41" rx="0.88" ry="0.75" fill="#fbe8f8" opacity="0.7" transform="rotate(80.92 467.8 149.41)"/>
<ellipse cx="560.35" cy="163.95" rx="0.78" ry="0.76" fill="#ffffff" opacity="0.7" transform="rotate(137.12 560.35 163.95)"/>
<ellipse cx="508.74" cy="157.85" rx="0.62" ry="0.58" fill="#fbe8f8" opacity="0.7" transform="rotate(139.27 508.74 157.85)"/>
<ellipse cx="492.21" cy="150.58" rx="0.86" ry="0.71" fill="#fbe8f8" opacity="0.7" transform="rotate(89.98 492.21 150.58)"/>
<ellipse cx="502.85" cy="164.79" rx="0.51" ry="0.27" fill="#ffffff" opacity="0.7" transform="rotate(8.8 502.85 164.79)"/>
<ellipse cx="469.17" cy="119.1" rx="0.87" ry="0.52" fill="#fbe8f8" opacity="0.7" transform="rotate(86.37 469.17 119.1)"/>
<ellipse cx="489.33" cy="120.27" rx="0.48" ry="0.29" fill="#ffffff" opacity="0.7" transform="rotate(42 489.33 120.27)"/>
<ellipse cx="499.74" cy="126.29" rx="0.41" ry="0.38" fill="#ffffff" opacity="0.7" transform="rotate(153.68 499.74 126.29)"/>
<ellipse cx="535.25" cy="137.69" rx="0.56" ry="0.34" fill="#ffffff" opacity="0.7" transform="rotate(79.25 535.25 137.69)"/>
<ellipse cx="532.07" cy="138.26" rx="0.67" ry="0.58" fill="#fbe8f8" opacity="0.7" transform="rotate(55.47 532.07 138.26)"/>
<ellipse cx="520.7" cy="147.79" rx="2.24" ry="1.37" fill="#8070c4" transform="rotate(117.33 520.7 147.79)"/>
<ellipse cx="563.43" cy="161.6" rx="2.35" ry="1.39" fill="#7a66bc" transform="rotate(123.66 563.43 161.6)"/>
<ellipse cx="507.63" cy="163.54" rx="2.07" ry="1.38" fill="#7a66bc" transform="rotate(55.67 507.63 163.54)"/>
<ellipse cx="555.03" cy="153.4" rx="2.27" ry="1.61" fill="#9888d2" transform="rotate(146.74 555.03 153.4)"/>
<ellipse cx="558.07" cy="143.91" rx="2.11" ry="1.27" fill="#9888d2" transform="rotate(10.08 558.07 143.91)"/>
<ellipse cx="565.1" cy="165.92" rx="1.56" ry="1.42" fill="#8070c4" transform="rotate(117.63 565.1 165.92)"/>
<ellipse cx="514.69" cy="132" rx="1.82" ry="1.6" fill="#7a66bc" transform="rotate(99.91 514.69 132)"/>
<ellipse cx="480.48" cy="121.37" rx="1.53" ry="1.72" fill="#8e7cca" transform="rotate(134.53 480.48 121.37)"/>
<ellipse cx="467.72" cy="120.52" rx="2.23" ry="1.2" fill="#9888d2" transform="rotate(73.8 467.72 120.52)"/>
<ellipse cx="482.3" cy="125.56" rx="2.09" ry="1.47" fill="#9888d2" transform="rotate(85.23 482.3 125.56)"/>
<ellipse cx="522.72" cy="138.79" rx="2.27" ry="1.49" fill="#7a66bc" transform="rotate(1.75 522.72 138.79)"/>
<ellipse cx="500.72" cy="155.29" rx="1.6" ry="1.72" fill="#7a66bc" transform="rotate(2.67 500.72 155.29)"/>
<ellipse cx="536.66" cy="159.96" rx="2.26" ry="1.72" fill="#7a66bc" transform="rotate(163.77 536.66 159.96)"/>
<ellipse cx="464.6" cy="120.23" rx="2.04" ry="1.64" fill="#7a66bc" transform="rotate(83.28 464.6 120.23)"/>
<ellipse cx="560.04" cy="136.36" rx="1.93" ry="1.57" fill="#7a66bc" transform="rotate(136.36 560.04 136.36)"/>
<ellipse cx="463.25" cy="135.89" rx="2.22" ry="1.39" fill="#8070c4" transform="rotate(19 463.25 135.89)"/>
<ellipse cx="556.72" cy="131.98" rx="2.36" ry="1.74" fill="#9888d2" transform="rotate(31.05 556.72 131.98)"/>
<ellipse cx="547.97" cy="137.76" rx="2.23" ry="1.76" fill="#8e7cca" transform="rotate(156.41 547.97 137.76)"/>
<ellipse cx="549.95" cy="147.43" rx="2.15" ry="1.34" fill="#9888d2" transform="rotate(16.59 549.95 147.43)"/>
<ellipse cx="549.7" cy="119.76" rx="1.61" ry="1.72" fill="#8e7cca" transform="rotate(35.83 549.7 119.76)"/>
<ellipse cx="467.84" cy="150.2" rx="1.51" ry="1.46" fill="#9888d2" transform="rotate(95.06 467.84 150.2)"/>
<ellipse cx="461.81" cy="163.32" rx="1.87" ry="1.75" fill="#8070c4" transform="rotate(146.49 461.81 163.32)"/>
<ellipse cx="508.86" cy="155.29" rx="2.03" ry="1.33" fill="#8e7cca" transform="rotate(100.17 508.86 155.29)"/>
<ellipse cx="496.06" cy="120.29" rx="2.3" ry="1.5" fill="#8e7cca" transform="rotate(55.68 496.06 120.29)"/>
<ellipse cx="539.97" cy="158.08" rx="1.51" ry="1.2" fill="#9888d2" transform="rotate(155.25 539.97 158.08)"/>
<ellipse cx="495.25" cy="122.29" rx="1.8" ry="1.4" fill="#7a66bc" transform="rotate(89.23 495.25 122.29)"/>
<ellipse cx="489.44" cy="159.7" rx="1.98" ry="1.7" fill="#8070c4" transform="rotate(46.51 489.44 159.7)"/>
<ellipse cx="504.42" cy="122.38" rx="2.22" ry="1.53" fill="#8070c4" transform="rotate(82.82 504.42 122.38)"/>
<ellipse cx="461.85" cy="116.99" rx="1.63" ry="1.31" fill="#8070c4" transform="rotate(132.5 461.85 116.99)"/>
<ellipse cx="493.12" cy="157.99" rx="1.51" ry="1.47" fill="#9888d2" transform="rotate(68.94 493.12 157.99)"/>
<ellipse cx="561.16" cy="129.42" rx="2.19" ry="1.37" fill="#8e7cca" transform="rotate(70.88 561.16 129.42)"/>
<ellipse cx="497.23" cy="121.72" rx="2.37" ry="1.59" fill="#9888d2" transform="rotate(172.16 497.23 121.72)"/>
<ellipse cx="486.23" cy="135.03" rx="2.27" ry="1.6" fill="#8070c4" transform="rotate(23.24 486.23 135.03)"/>
<ellipse cx="543.59" cy="135.32" rx="2.29" ry="1.25" fill="#8070c4" transform="rotate(112.23 543.59 135.32)"/>
<ellipse cx="542.55" cy="159.99" rx="2.24" ry="1.71" fill="#9888d2" transform="rotate(127.49 542.55 159.99)"/>
<ellipse cx="537.41" cy="161.72" rx="2.06" ry="1.34" fill="#7a66bc" transform="rotate(120.29 537.41 161.72)"/>
<ellipse cx="544.82" cy="138.26" rx="1.86" ry="1.26" fill="#8070c4" transform="rotate(138.33 544.82 138.26)"/>
<ellipse cx="490.34" cy="157.55" rx="1.59" ry="1.31" fill="#8070c4" transform="rotate(59.31 490.34 157.55)"/>
<ellipse cx="548.3" cy="122.46" rx="1.71" ry="1.68" fill="#7a66bc" transform="rotate(170.4 548.3 122.46)"/>
<ellipse cx="555.56" cy="162.24" rx="2.01" ry="1.25" fill="#8e7cca" transform="rotate(157.27 555.56 162.24)"/>
<ellipse cx="555.08" cy="142.67" rx="1.84" ry="1.55" fill="#7a66bc" transform="rotate(142.29 555.08 142.67)"/>
<ellipse cx="512.68" cy="141.44" rx="1.78" ry="1.52" fill="#9888d2" transform="rotate(97.86 512.68 141.44)"/>
<ellipse cx="523.41" cy="162.33" rx="2.11" ry="1.45" fill="#8070c4" transform="rotate(2.52 523.41 162.33)"/>
<ellipse cx="550.81" cy="131.14" rx="2.24" ry="1.76" fill="#8070c4" transform="rotate(157.63 550.81 131.14)"/>
<ellipse cx="493.07" cy="117.79" rx="2.37" ry="1.35" fill="#9888d2" transform="rotate(78.14 493.07 117.79)"/>
<ellipse cx="497.74" cy="121.83" rx="1.53" ry="1.39" fill="#9888d2" transform="rotate(98.49 497.74 121.83)"/>
<ellipse cx="526.72" cy="165.72" rx="2.17" ry="1.78" fill="#9888d2" transform="rotate(106.2 526.72 165.72)"/>
<ellipse cx="497.76" cy="130.44" rx="1.6" ry="1.67" fill="#8e7cca" transform="rotate(162.07 497.76 130.44)"/>
<ellipse cx="549.88" cy="130.36" rx="2.24" ry="1.51" fill="#8e7cca" transform="rotate(57.67 549.88 130.36)"/>
<ellipse cx="506.35" cy="141.64" rx="1.82" ry="1.35" fill="#8e7cca" transform="rotate(43.79 506.35 141.64)"/>
<ellipse cx="523.36" cy="142.71" rx="1.92" ry="1.71" fill="#7a66bc" transform="rotate(16.12 523.36 142.71)"/>
<ellipse cx="564.38" cy="119.79" rx="1.89" ry="1.4" fill="#8070c4" transform="rotate(32.28 564.38 119.79)"/>
<ellipse cx="535.83" cy="122.45" rx="1.66" ry="1.69" fill="#9888d2" transform="rotate(67.05 535.83 122.45)"/>
<ellipse cx="539.48" cy="130.32" rx="2.1" ry="1.2" fill="#8e7cca" transform="rotate(28.5 539.48 130.32)"/>
<ellipse cx="504.48" cy="152.84" rx="2.27" ry="1.31" fill="#7a66bc" transform="rotate(27.01 504.48 152.84)"/>
<ellipse cx="529.77" cy="136.63" rx="1.65" ry="1.58" fill="#8070c4" transform="rotate(52.03 529.77 136.63)"/>
<ellipse cx="506.01" cy="160.73" rx="2.11" ry="1.49" fill="#8070c4" transform="rotate(22.24 506.01 160.73)"/>
<ellipse cx="477.64" cy="143.59" rx="1.75" ry="1.57" fill="#9888d2" transform="rotate(85.77 477.64 143.59)"/>
<ellipse cx="479.05" cy="129.73" rx="2.14" ry="1.71" fill="#8e7cca" transform="rotate(20.19 479.05 129.73)"/>
<ellipse cx="538.76" cy="162.01" rx="2.19" ry="1.53" fill="#8e7cca" transform="rotate(72.01 538.76 162.01)"/>
<ellipse cx="528.85" cy="146.73" rx="2.14" ry="1.65" fill="#7a66bc" transform="rotate(168.67 528.85 146.73)"/>
<ellipse cx="500.82" cy="156.41" rx="1.83" ry="1.7" fill="#8070c4" transform="rotate(158.23 500.82 156.41)"/>
<polygon points="467.5,132.3 477,126.3 476.5,137.8" fill="#000"/>
<polygon points="536.2,126 545.8,119.6 545.8,131" fill="#000"/>
<rect x="527.7" y="157.8" width="32" height="2.6" fill="#000"/>
</g></g>
<rect x="461.1" y="115.8" width="104.5" height="50.6" fill="none" stroke="#6b6b6b" stroke-width="0.9"/>
<text x="458.5" y="32.8" font-size="7.3" text-anchor="middle" transform="rotate(-90 458.5 32.8)">Control</text>
<text x="458.5" y="86.9" font-size="7.3" text-anchor="middle" transform="rotate(-90 458.5 86.9)">d9 - low</text>
<text x="458.5" y="141.1" font-size="7.3" text-anchor="middle" transform="rotate(-90 458.5 141.1)">d9 - high</text>
<text x="-0.6" y="197.2" font-size="11" font-weight="bold" fill="#000">d</text>
<rect x="42.2" y="273.12" width="10" height="53.28" fill="#bdbdbd" stroke="#2a2a2a" stroke-width="0.8"/>
<rect x="54.1" y="281.78" width="10" height="44.62" fill="#d9c8fa" stroke="#2a2a2a" stroke-width="0.8"/>
<rect x="65.8" y="317.08" width="10" height="9.32" fill="#e3afe0" stroke="#2a2a2a" stroke-width="0.8"/>
<rect x="77.5" y="325.6" width="10" height="0.8" fill="#f5c0ca" stroke="#2a2a2a" stroke-width="0.8"/>
<rect x="89.2" y="326.13" width="10" height="0.27" fill="#fdd9c2" stroke="#2a2a2a" stroke-width="0.8"/>
<line x1="37.2" y1="259.8" x2="104.2" y2="259.8" stroke="#4a4a4a" stroke-width="0.75" stroke-dasharray="2.4,1.6"/>
<text x="92.3" y="256.6" font-size="6.3" fill="#333">SFF</text>
<line x1="47.2" y1="303.09" x2="47.2" y2="243.15" stroke="#222" stroke-width="0.7"/>
<line x1="45.2" y1="303.09" x2="49.2" y2="303.09" stroke="#222" stroke-width="0.7"/>
<line x1="45.2" y1="243.15" x2="49.2" y2="243.15" stroke="#222" stroke-width="0.7"/>
<circle cx="47.43" cy="231.16" r="1.45" fill="#000"/>
<circle cx="45.94" cy="234.49" r="1.45" fill="#000"/>
<circle cx="44.38" cy="239.82" r="1.45" fill="#000"/>
<circle cx="48.12" cy="246.48" r="1.45" fill="#000"/>
<circle cx="45.46" cy="256.47" r="1.45" fill="#000"/>
<circle cx="45.74" cy="259.8" r="1.45" fill="#000"/>
<circle cx="46.58" cy="261.13" r="1.45" fill="#000"/>
<circle cx="48.05" cy="263.13" r="1.45" fill="#000"/>
<circle cx="50.13" cy="266.46" r="1.45" fill="#000"/>
<circle cx="46.97" cy="269.79" r="1.45" fill="#000"/>
<circle cx="50.16" cy="273.12" r="1.45" fill="#000"/>
<circle cx="50.16" cy="279.78" r="1.45" fill="#000"/>
<circle cx="45.66" cy="283.11" r="1.45" fill="#000"/>
<circle cx="44.64" cy="286.44" r="1.45" fill="#000"/>
<circle cx="45.16" cy="289.77" r="1.45" fill="#000"/>
<circle cx="49.25" cy="293.1" r="1.45" fill="#000"/>
<circle cx="47.8" cy="296.43" r="1.45" fill="#000"/>
<circle cx="49.7" cy="313.08" r="1.45" fill="#000"/>
<circle cx="50.03" cy="314.41" r="1.45" fill="#000"/>
<circle cx="48.13" cy="323.07" r="1.45" fill="#000"/>
<circle cx="47.41" cy="324.4" r="1.45" fill="#000"/>
<circle cx="44.61" cy="325.07" r="1.45" fill="#000"/>
<circle cx="44.34" cy="325.07" r="1.45" fill="#000"/>
<line x1="59.1" y1="291.77" x2="59.1" y2="267.79" stroke="#222" stroke-width="0.7"/>
<line x1="57.1" y1="291.77" x2="61.1" y2="291.77" stroke="#222" stroke-width="0.7"/>
<line x1="57.1" y1="267.79" x2="61.1" y2="267.79" stroke="#222" stroke-width="0.7"/>
<rect x="54.72" y="259.68" width="2.9" height="2.9" fill="#3d1a7d"/>
<rect x="55.32" y="265.01" width="2.9" height="2.9" fill="#3d1a7d"/>
<rect x="57.01" y="266.34" width="2.9" height="2.9" fill="#3d1a7d"/>
<rect x="58.75" y="268.34" width="2.9" height="2.9" fill="#3d1a7d"/>
<rect x="55.48" y="270.34" width="2.9" height="2.9" fill="#3d1a7d"/>
<rect x="55.32" y="271.67" width="2.9" height="2.9" fill="#3d1a7d"/>
<rect x="56.04" y="275" width="2.9" height="2.9" fill="#3d1a7d"/>
<rect x="59.2" y="281.66" width="2.9" height="2.9" fill="#3d1a7d"/>
<rect x="55.53" y="284.99" width="2.9" height="2.9" fill="#3d1a7d"/>
<rect x="59.09" y="291.65" width="2.9" height="2.9" fill="#3d1a7d"/>
<rect x="58.62" y="296.98" width="2.9" height="2.9" fill="#3d1a7d"/>
<rect x="55.47" y="298.31" width="2.9" height="2.9" fill="#3d1a7d"/>
<rect x="57.86" y="308.3" width="2.9" height="2.9" fill="#3d1a7d"/>
<line x1="70.8" y1="326.4" x2="70.8" y2="299.76" stroke="#222" stroke-width="0.7"/>
<line x1="68.8" y1="326.4" x2="72.8" y2="326.4" stroke="#222" stroke-width="0.7"/>
<line x1="68.8" y1="299.76" x2="72.8" y2="299.76" stroke="#222" stroke-width="0.7"/>
<polygon points="68.26,280.11 69.86,282.87 66.67,282.87" fill="#992f9c"/>
<polygon points="69.08,288.1 70.68,290.86 67.49,290.86" fill="#992f9c"/>
<polygon points="69.62,321.4 71.21,324.16 68.02,324.16" fill="#992f9c"/>
<polygon points="73.2,322.73 74.8,325.49 71.61,325.49" fill="#992f9c"/>
<polygon points="70.78,323.4 72.37,326.16 69.18,326.16" fill="#992f9c"/>
<polygon points="72.12,324.07 73.72,326.82 70.53,326.82" fill="#992f9c"/>
<polygon points="82.92,323.27 84.42,325.07 82.92,326.87 81.42,325.07" fill="#e2457a"/>
<polygon points="83.29,323.6 84.79,325.4 83.29,327.2 81.79,325.4" fill="#e2457a"/>
<polygon points="84.4,323.93 85.9,325.73 84.4,327.53 82.9,325.73" fill="#e2457a"/>
<polygon points="81.16,323.93 82.66,325.73 81.16,327.53 79.66,325.73" fill="#e2457a"/>
<polygon points="83.41,324.27 84.91,326.07 83.41,327.87 81.91,326.07" fill="#e2457a"/>
<polygon points="84.84,323.8 86.34,325.6 84.84,327.4 83.34,325.6" fill="#e2457a"/>
<polygon points="94.37,327.73 95.97,324.98 92.78,324.98" fill="#f59a55"/>
<polygon points="94.71,327.8 96.31,325.05 93.12,325.05" fill="#f59a55"/>
<polygon points="96.26,327.67 97.85,324.91 94.66,324.91" fill="#f59a55"/>
<polygon points="96.59,327.87 98.19,325.11 95,325.11" fill="#f59a55"/>
<line x1="37.2" y1="326.4" x2="104.2" y2="326.4" stroke="#7a7a7a" stroke-width="0.8"/>
<line x1="37.2" y1="226.5" x2="37.2" y2="326.4" stroke="#7a7a7a" stroke-width="0.8"/>
<line x1="33.3" y1="226.5" x2="37.2" y2="226.5" stroke="#7a7a7a" stroke-width="0.8"/>
<text x="30.4" y="228.95" font-size="6.9" text-anchor="end" fill="#333">1.5</text>
<line x1="33.3" y1="259.8" x2="37.2" y2="259.8" stroke="#7a7a7a" stroke-width="0.8"/>
<text x="30.4" y="262.25" font-size="6.9" text-anchor="end" fill="#333">1.0</text>
<line x1="33.3" y1="293.1" x2="37.2" y2="293.1" stroke="#7a7a7a" stroke-width="0.8"/>
<text x="30.4" y="295.55" font-size="6.9" text-anchor="end" fill="#333">0.5</text>
<line x1="33.3" y1="326.4" x2="37.2" y2="326.4" stroke="#7a7a7a" stroke-width="0.8"/>
<text x="30.4" y="328.85" font-size="6.9" text-anchor="end" fill="#333">0</text>
<line x1="47.2" y1="326.4" x2="47.2" y2="330" stroke="#555" stroke-width="0.8"/>
<line x1="59.1" y1="326.4" x2="59.1" y2="330" stroke="#555" stroke-width="0.8"/>
<line x1="70.8" y1="326.4" x2="70.8" y2="330" stroke="#555" stroke-width="0.8"/>
<line x1="82.5" y1="326.4" x2="82.5" y2="330" stroke="#555" stroke-width="0.8"/>
<line x1="94.2" y1="326.4" x2="94.2" y2="330" stroke="#555" stroke-width="0.8"/>
<text x="14.5" y="277.45" font-size="7.3" text-anchor="middle" transform="rotate(-90 14.5 277.45)">rBMAT volume (mm<tspan dy="-2.2" font-size="4.6">3</tspan>)</text>
<polygon points="105,326.4 115,322.2 115,330.6" fill="#000"/>
<line x1="47.1" y1="225.4" x2="58.8" y2="225.4" stroke="#8e8e8e" stroke-width="0.9"/>
<text x="52.95" y="223" font-size="6.0" text-anchor="middle" fill="#333">NS</text>
<line x1="47.1" y1="216" x2="70.7" y2="216" stroke="#8e8e8e" stroke-width="0.9"/>
<text x="59.28" y="217.5" font-size="9" text-anchor="middle" font-weight="bold" letter-spacing="0.5">****</text>
<line x1="47.1" y1="205.6" x2="82.4" y2="205.6" stroke="#8e8e8e" stroke-width="0.9"/>
<text x="65.12" y="207.1" font-size="9" text-anchor="middle" font-weight="bold" letter-spacing="0.5">****</text>
<line x1="47.1" y1="194.9" x2="93.8" y2="194.9" stroke="#8e8e8e" stroke-width="0.9"/>
<text x="70.7" y="196.4" font-size="9" text-anchor="middle" font-weight="bold" letter-spacing="0.5">***</text>
<text x="51.5" y="337.3" font-size="7.4" text-anchor="end" transform="rotate(-45 51.5 337.3)">Control</text>
<text x="63.4" y="337.3" font-size="7.4" text-anchor="end" transform="rotate(-45 63.4 337.3)">d1 - high</text>
<text x="75.1" y="337.3" font-size="7.4" text-anchor="end" transform="rotate(-45 75.1 337.3)">d3 - high</text>
<text x="86.8" y="337.3" font-size="7.4" text-anchor="end" transform="rotate(-45 86.8 337.3)">d9 - low</text>
<text x="98.5" y="337.3" font-size="7.4" text-anchor="end" transform="rotate(-45 98.5 337.3)">d9 - high</text>
<rect x="159.7" y="268.1" width="10" height="59" fill="#bdbdbd" stroke="#2a2a2a" stroke-width="0.8"/>
<rect x="171.4" y="272.6" width="10" height="54.5" fill="#d9c8fa" stroke="#2a2a2a" stroke-width="0.8"/>
<rect x="183.3" y="307.1" width="10" height="20" fill="#e3afe0" stroke="#2a2a2a" stroke-width="0.8"/>
<rect x="195.2" y="312.1" width="10" height="15" fill="#f5c0ca" stroke="#2a2a2a" stroke-width="0.8"/>
<rect x="207" y="326.6" width="10" height="0.5" fill="#fdd9c2" stroke="#2a2a2a" stroke-width="0.8"/>
<line x1="155.2" y1="267.1" x2="221.7" y2="267.1" stroke="#b0b0b0" stroke-width="0.75" stroke-dasharray="2.4,1.6"/>
<text x="211.3" y="263.9" font-size="6.3" fill="#333">SFF</text>
<line x1="164.7" y1="276.1" x2="164.7" y2="259.6" stroke="#222" stroke-width="0.7"/>
<line x1="162.7" y1="276.1" x2="166.7" y2="276.1" stroke="#222" stroke-width="0.7"/>
<line x1="162.7" y1="259.6" x2="166.7" y2="259.6" stroke="#222" stroke-width="0.7"/>
<circle cx="164.45" cy="251.1" r="1.45" fill="#000"/>
<circle cx="166.97" cy="254.6" r="1.45" fill="#000"/>
<circle cx="161.89" cy="257.1" r="1.45" fill="#000"/>
<circle cx="163.39" cy="259.6" r="1.45" fill="#000"/>
<circle cx="167.47" cy="262.1" r="1.45" fill="#000"/>
<circle cx="165.69" cy="263.1" r="1.45" fill="#000"/>
<circle cx="162.47" cy="264.6" r="1.45" fill="#000"/>
<circle cx="163.79" cy="266.1" r="1.45" fill="#000"/>
<circle cx="166.98" cy="267.1" r="1.45" fill="#000"/>
<circle cx="164.34" cy="269.6" r="1.45" fill="#000"/>
<circle cx="161.87" cy="272.1" r="1.45" fill="#000"/>
<circle cx="167.08" cy="273.1" r="1.45" fill="#000"/>
<circle cx="162.48" cy="277.1" r="1.45" fill="#000"/>
<circle cx="165.55" cy="279.6" r="1.45" fill="#000"/>
<circle cx="165.42" cy="282.1" r="1.45" fill="#000"/>
<circle cx="164.46" cy="291.1" r="1.45" fill="#000"/>
<circle cx="167.47" cy="292.1" r="1.45" fill="#000"/>
<circle cx="162.76" cy="268.1" r="1.45" fill="#000"/>
<circle cx="165.33" cy="271.1" r="1.45" fill="#000"/>
<line x1="176.4" y1="278.1" x2="176.4" y2="267.1" stroke="#222" stroke-width="0.7"/>
<line x1="174.4" y1="278.1" x2="178.4" y2="278.1" stroke="#222" stroke-width="0.7"/>
<line x1="174.4" y1="267.1" x2="178.4" y2="267.1" stroke="#222" stroke-width="0.7"/>
<rect x="174.24" y="263.15" width="2.9" height="2.9" fill="#3d1a7d"/>
<rect x="173.33" y="263.65" width="2.9" height="2.9" fill="#3d1a7d"/>
<rect x="172.95" y="264.65" width="2.9" height="2.9" fill="#3d1a7d"/>
<rect x="177.43" y="265.65" width="2.9" height="2.9" fill="#3d1a7d"/>
<rect x="175.42" y="268.15" width="2.9" height="2.9" fill="#3d1a7d"/>
<rect x="176.09" y="270.65" width="2.9" height="2.9" fill="#3d1a7d"/>
<rect x="175.27" y="271.65" width="2.9" height="2.9" fill="#3d1a7d"/>
<rect x="174.25" y="273.15" width="2.9" height="2.9" fill="#3d1a7d"/>
<rect x="176.34" y="275.65" width="2.9" height="2.9" fill="#3d1a7d"/>
<rect x="175.41" y="278.15" width="2.9" height="2.9" fill="#3d1a7d"/>
<rect x="176.64" y="283.15" width="2.9" height="2.9" fill="#3d1a7d"/>
<line x1="188.3" y1="327.1" x2="188.3" y2="267.1" stroke="#222" stroke-width="0.7"/>
<line x1="186.3" y1="327.1" x2="190.3" y2="327.1" stroke="#222" stroke-width="0.7"/>
<line x1="186.3" y1="267.1" x2="190.3" y2="267.1" stroke="#222" stroke-width="0.7"/>
<polygon points="189.14,262.93 190.73,265.69 187.54,265.69" fill="#992f9c"/>
<polygon points="185.45,263.43 187.05,266.19 183.86,266.19" fill="#992f9c"/>
<polygon points="186.95,277.93 188.55,280.69 185.36,280.69" fill="#992f9c"/>
<polygon points="186.64,297.93 188.23,300.69 185.04,300.69" fill="#992f9c"/>
<polygon points="189.72,322.93 191.31,325.69 188.12,325.69" fill="#992f9c"/>
<polygon points="189.36,323.93 190.96,326.69 187.77,326.69" fill="#992f9c"/>
<polygon points="190.65,324.43 192.25,327.19 189.06,327.19" fill="#992f9c"/>
<polygon points="185.82,324.93 187.42,327.69 184.23,327.69" fill="#992f9c"/>
<line x1="200.2" y1="327.1" x2="200.2" y2="296.1" stroke="#222" stroke-width="0.7"/>
<line x1="198.2" y1="327.1" x2="202.2" y2="327.1" stroke="#222" stroke-width="0.7"/>
<line x1="198.2" y1="296.1" x2="202.2" y2="296.1" stroke="#222" stroke-width="0.7"/>
<polygon points="197.43,290.3 198.93,292.1 197.43,293.9 195.93,292.1" fill="#e2457a"/>
<polygon points="201.38,291.3 202.88,293.1 201.38,294.9 199.88,293.1" fill="#e2457a"/>
<polygon points="198.06,294.3 199.56,296.1 198.06,297.9 196.56,296.1" fill="#e2457a"/>
<polygon points="199.98,307.8 201.48,309.6 199.98,311.4 198.48,309.6" fill="#e2457a"/>
<polygon points="201.23,322.8 202.73,324.6 201.23,326.4 199.73,324.6" fill="#e2457a"/>
<polygon points="201.96,324.3 203.46,326.1 201.96,327.9 200.46,326.1" fill="#e2457a"/>
<polygon points="199.92,324.8 201.42,326.6 199.92,328.4 198.42,326.6" fill="#e2457a"/>
<polygon points="211.45,328.27 213.05,325.51 209.86,325.51" fill="#f59a55"/>
<polygon points="212.25,328.17 213.85,325.41 210.66,325.41" fill="#f59a55"/>
<polygon points="214.17,328.37 215.77,325.61 212.58,325.61" fill="#f59a55"/>
<polygon points="210.06,328.27 211.65,325.51 208.46,325.51" fill="#f59a55"/>
<line x1="155.2" y1="327.1" x2="221.7" y2="327.1" stroke="#7a7a7a" stroke-width="0.8"/>
<line x1="155.2" y1="227.1" x2="155.2" y2="327.1" stroke="#7a7a7a" stroke-width="0.8"/>
<line x1="151.3" y1="227.1" x2="155.2" y2="227.1" stroke="#7a7a7a" stroke-width="0.8"/>
<text x="148.4" y="229.55" font-size="6.9" text-anchor="end" fill="#333">2.0</text>
<line x1="151.3" y1="252.1" x2="155.2" y2="252.1" stroke="#7a7a7a" stroke-width="0.8"/>
<text x="148.4" y="254.55" font-size="6.9" text-anchor="end" fill="#333">1.5</text>
<line x1="151.3" y1="277.1" x2="155.2" y2="277.1" stroke="#7a7a7a" stroke-width="0.8"/>
<text x="148.4" y="279.55" font-size="6.9" text-anchor="end" fill="#333">1.0</text>
<line x1="151.3" y1="302.1" x2="155.2" y2="302.1" stroke="#7a7a7a" stroke-width="0.8"/>
<text x="148.4" y="304.55" font-size="6.9" text-anchor="end" fill="#333">0.5</text>
<line x1="151.3" y1="327.1" x2="155.2" y2="327.1" stroke="#7a7a7a" stroke-width="0.8"/>
<text x="148.4" y="329.55" font-size="6.9" text-anchor="end" fill="#333">0</text>
<line x1="164.7" y1="327.1" x2="164.7" y2="330.7" stroke="#555" stroke-width="0.8"/>
<line x1="176.4" y1="327.1" x2="176.4" y2="330.7" stroke="#555" stroke-width="0.8"/>
<line x1="188.3" y1="327.1" x2="188.3" y2="330.7" stroke="#555" stroke-width="0.8"/>
<line x1="200.2" y1="327.1" x2="200.2" y2="330.7" stroke="#555" stroke-width="0.8"/>
<line x1="212" y1="327.1" x2="212" y2="330.7" stroke="#555" stroke-width="0.8"/>
<text x="133.5" y="278.1" font-size="7.3" text-anchor="middle" transform="rotate(-90 133.5 278.1)">cBMAT volume (mm<tspan dy="-2.2" font-size="4.6">3</tspan>)</text>
<polygon points="222.2,327.1 232.2,322.9 232.2,331.3" fill="#000"/>
<line x1="164.7" y1="245.3" x2="176.6" y2="245.3" stroke="#8e8e8e" stroke-width="0.9"/>
<text x="170.65" y="242.9" font-size="6.0" text-anchor="middle" fill="#333">NS</text>
<line x1="164.7" y1="232.9" x2="187.7" y2="232.9" stroke="#8e8e8e" stroke-width="0.9"/>
<text x="176.57" y="234.4" font-size="9" text-anchor="middle" font-weight="bold" letter-spacing="0.5">****</text>
<line x1="164.7" y1="222.2" x2="199.9" y2="222.2" stroke="#8e8e8e" stroke-width="0.9"/>
<text x="182.68" y="223.7" font-size="9" text-anchor="middle" font-weight="bold" letter-spacing="0.5">****</text>
<line x1="164.7" y1="211.8" x2="211.8" y2="211.8" stroke="#8e8e8e" stroke-width="0.9"/>
<text x="188.62" y="213.3" font-size="9" text-anchor="middle" font-weight="bold" letter-spacing="0.5">****</text>
<text x="169" y="338" font-size="7.4" text-anchor="end" transform="rotate(-45 169 338)">Control</text>
<text x="180.7" y="338" font-size="7.4" text-anchor="end" transform="rotate(-45 180.7 338)">d1 - high</text>
<text x="192.6" y="338" font-size="7.4" text-anchor="end" transform="rotate(-45 192.6 338)">d3 - high</text>
<text x="204.5" y="338" font-size="7.4" text-anchor="end" transform="rotate(-45 204.5 338)">d9 - low</text>
<text x="216.3" y="338" font-size="7.4" text-anchor="end" transform="rotate(-45 216.3 338)">d9 - high</text>
<text x="258.5" y="197.3" font-size="9.5" font-weight="bold" fill="#000">e</text>
<line x1="277.7" y1="208.7" x2="426.2" y2="208.7" stroke="#b5b5b5" stroke-width="0.6"/>
<line x1="277.7" y1="216.2" x2="426.2" y2="216.2" stroke="#b5b5b5" stroke-width="0.6"/>
<line x1="277.7" y1="223.7" x2="426.2" y2="223.7" stroke="#b5b5b5" stroke-width="0.6"/>
<line x1="277.7" y1="231.2" x2="426.2" y2="231.2" stroke="#b5b5b5" stroke-width="0.6"/>
<line x1="277.7" y1="238.7" x2="426.2" y2="238.7" stroke="#b5b5b5" stroke-width="0.6"/>
<line x1="277.7" y1="246.2" x2="426.2" y2="246.2" stroke="#b5b5b5" stroke-width="0.6"/>
<line x1="277.7" y1="253.7" x2="426.2" y2="253.7" stroke="#b5b5b5" stroke-width="0.6"/>
<line x1="277.7" y1="261.2" x2="426.2" y2="261.2" stroke="#b5b5b5" stroke-width="0.6"/>
<line x1="277.7" y1="268.7" x2="426.2" y2="268.7" stroke="#b5b5b5" stroke-width="0.6"/>
<line x1="277.7" y1="276.2" x2="426.2" y2="276.2" stroke="#b5b5b5" stroke-width="0.6"/>
<line x1="277.7" y1="283.7" x2="426.2" y2="283.7" stroke="#b5b5b5" stroke-width="0.6"/>
<line x1="277.7" y1="291.2" x2="426.2" y2="291.2" stroke="#b5b5b5" stroke-width="0.6"/>
<line x1="277.7" y1="298.7" x2="426.2" y2="298.7" stroke="#b5b5b5" stroke-width="0.6"/>
<line x1="277.7" y1="306.2" x2="426.2" y2="306.2" stroke="#b5b5b5" stroke-width="0.6"/>
<line x1="277.7" y1="313.7" x2="426.2" y2="313.7" stroke="#b5b5b5" stroke-width="0.6"/>
<line x1="277.7" y1="321.2" x2="426.2" y2="321.2" stroke="#b5b5b5" stroke-width="0.6"/>
<line x1="277.7" y1="328.7" x2="426.2" y2="328.7" stroke="#b5b5b5" stroke-width="0.6"/>
<line x1="277.7" y1="201.5" x2="277.7" y2="335.3" stroke="#7d7d7d" stroke-width="0.7"/>
<line x1="307.4" y1="201.5" x2="307.4" y2="335.3" stroke="#7d7d7d" stroke-width="0.7"/>
<line x1="337.1" y1="201.5" x2="337.1" y2="335.3" stroke="#7d7d7d" stroke-width="0.7"/>
<line x1="366.9" y1="201.5" x2="366.9" y2="335.3" stroke="#7d7d7d" stroke-width="0.7"/>
<line x1="396.6" y1="201.5" x2="396.6" y2="335.3" stroke="#7d7d7d" stroke-width="0.7"/>
<line x1="426.2" y1="201.5" x2="426.2" y2="335.3" stroke="#7d7d7d" stroke-width="0.7"/>
<line x1="277.7" y1="335.3" x2="426.2" y2="335.3" stroke="#9a9a9a" stroke-width="0.7"/>
<line x1="268.1" y1="208.9" x2="268.1" y2="284.9" stroke="#8a8a8a" stroke-width="0.8"/>
<line x1="268.1" y1="208.9" x2="275.3" y2="208.9" stroke="#8a8a8a" stroke-width="0.8"/>
<line x1="268.1" y1="284.9" x2="275.3" y2="284.9" stroke="#8a8a8a" stroke-width="0.8"/>
<line x1="268.1" y1="289.8" x2="268.1" y2="332.3" stroke="#8a8a8a" stroke-width="0.8"/>
<line x1="268.1" y1="289.8" x2="275.3" y2="289.8" stroke="#8a8a8a" stroke-width="0.8"/>
<line x1="268.1" y1="332.3" x2="275.3" y2="332.3" stroke="#8a8a8a" stroke-width="0.8"/>
<text x="264.6" y="246.9" font-size="6.8" text-anchor="middle" transform="rotate(-90 264.6 246.9)">rBMAT</text>
<text x="264.6" y="311" font-size="6.8" text-anchor="middle" transform="rotate(-90 264.6 311)">cBMAT</text>
<polygon points="278.1,213 279.3,210.5 282.3,208.9 287.8,208.3 293.3,208.7 296.8,210.3 299.3,213 301.6,219.5 303.6,227.5 305.4,235.5 306.6,243.5 307,251.5 306.6,261.5 305.3,269.5 302.8,277.5 299.3,284.5 297.1,289.5 295.6,294.5 295,302.5 295.2,316.5 295.6,325.5 297.6,331 297.3,335.1 286.4,335.3 285.1,333 285.4,325.5 285.8,311.5 286.1,299.5 286.8,293.5 288.8,288.1 292.3,283 295.3,277.5 297.3,269.5 298.2,259.5 298,248.5 296.8,240 294.3,232.5 290.8,227 286.3,222 281.8,217.7 279,215.3" fill="#d3d3d3" stroke="#a8a8a8" stroke-width="0.7"/>
<polyline points="283.8,213 287.8,215 290.8,217.5 294.3,222 297.1,227 299.6,232.5 301.4,240 302.4,248.5 302.5,259.5 301.3,269.5" fill="none" stroke="#7a7a7a" stroke-width="7.2" stroke-linecap="round" stroke-linejoin="round" opacity="0.9"/>
<ellipse cx="287.3" cy="213.5" rx="8.5" ry="3.8" fill="#7a7a7a" opacity="0.9" transform="rotate(20 287.3 213.5)"/>
<polyline points="290.6,296.5 290,306.5 290,325.5 290.8,331.5" fill="none" stroke="#7a7a7a" stroke-width="5.0" stroke-linecap="round" opacity="0.9"/>
<ellipse cx="290.6" cy="331" rx="3.8" ry="2.2" fill="#7a7a7a" opacity="0.7"/>
<circle cx="288.86" cy="216.95" r="0.63" fill="#3a3a3a"/>
<circle cx="301.98" cy="252.92" r="0.56" fill="#3a3a3a"/>
<circle cx="286.71" cy="213.25" r="0.72" fill="#3a3a3a"/>
<circle cx="299.1" cy="272.69" r="0.66" fill="#3a3a3a"/>
<circle cx="288.75" cy="216.74" r="0.49" fill="#3a3a3a"/>
<circle cx="304.81" cy="241.37" r="0.73" fill="#3a3a3a"/>
<circle cx="303.33" cy="237.61" r="0.41" fill="#3a3a3a"/>
<circle cx="299.33" cy="242.64" r="0.51" fill="#3a3a3a"/>
<circle cx="302.92" cy="255.66" r="0.69" fill="#3a3a3a"/>
<circle cx="299.2" cy="270.45" r="0.61" fill="#3a3a3a"/>
<circle cx="298.71" cy="269.85" r="0.74" fill="#3a3a3a"/>
<circle cx="302.97" cy="241.6" r="0.55" fill="#3a3a3a"/>
<circle cx="294.56" cy="221.63" r="0.49" fill="#3a3a3a"/>
<circle cx="300.92" cy="264.87" r="0.65" fill="#3a3a3a"/>
<circle cx="304.99" cy="261.34" r="0.45" fill="#3a3a3a"/>
<circle cx="304.71" cy="264.88" r="0.66" fill="#3a3a3a"/>
<circle cx="299.8" cy="233.77" r="0.41" fill="#3a3a3a"/>
<circle cx="304.62" cy="245.45" r="0.65" fill="#3a3a3a"/>
<circle cx="299.83" cy="247.83" r="0.59" fill="#3a3a3a"/>
<circle cx="290.18" cy="218.73" r="0.61" fill="#3a3a3a"/>
<circle cx="302.91" cy="253.36" r="0.36" fill="#3a3a3a"/>
<circle cx="286.13" cy="215.43" r="0.64" fill="#3a3a3a"/>
<circle cx="290.37" cy="219.22" r="0.51" fill="#3a3a3a"/>
<circle cx="303.22" cy="250.43" r="0.54" fill="#3a3a3a"/>
<circle cx="301.78" cy="234.86" r="0.67" fill="#3a3a3a"/>
<circle cx="298.55" cy="265.88" r="0.45" fill="#3a3a3a"/>
<circle cx="285.13" cy="215.31" r="0.4" fill="#3a3a3a"/>
<circle cx="289.5" cy="214.04" r="0.57" fill="#3a3a3a"/>
<circle cx="297.89" cy="230.94" r="0.43" fill="#3a3a3a"/>
<circle cx="299.34" cy="237.42" r="0.43" fill="#3a3a3a"/>
<circle cx="300.34" cy="227.99" r="0.74" fill="#3a3a3a"/>
<circle cx="295.49" cy="227.68" r="0.43" fill="#3a3a3a"/>
<circle cx="298.3" cy="276.66" r="0.46" fill="#3a3a3a"/>
<circle cx="297.39" cy="223.7" r="0.57" fill="#3a3a3a"/>
<circle cx="288.59" cy="217.68" r="0.47" fill="#3a3a3a"/>
<circle cx="302.69" cy="244.7" r="0.68" fill="#3a3a3a"/>
<circle cx="296.96" cy="224.46" r="0.64" fill="#3a3a3a"/>
<circle cx="293.57" cy="215.68" r="0.6" fill="#3a3a3a"/>
<circle cx="297.81" cy="223.55" r="0.71" fill="#3a3a3a"/>
<circle cx="285.53" cy="213.67" r="0.55" fill="#3a3a3a"/>
<circle cx="289.23" cy="216.7" r="0.44" fill="#3a3a3a"/>
<circle cx="291.96" cy="216.67" r="0.46" fill="#3a3a3a"/>
<circle cx="302.56" cy="241.07" r="0.58" fill="#3a3a3a"/>
<circle cx="298.47" cy="238.23" r="0.7" fill="#3a3a3a"/>
<circle cx="299.14" cy="238.11" r="0.53" fill="#3a3a3a"/>
<circle cx="304.86" cy="248.17" r="0.37" fill="#3a3a3a"/>
<circle cx="294.87" cy="228.25" r="0.39" fill="#3a3a3a"/>
<circle cx="288.19" cy="213.56" r="0.58" fill="#3a3a3a"/>
<circle cx="297.33" cy="275.57" r="0.58" fill="#3a3a3a"/>
<circle cx="292.97" cy="217.47" r="0.5" fill="#3a3a3a"/>
<circle cx="298.75" cy="269.34" r="0.69" fill="#3a3a3a"/>
<circle cx="291.1" cy="216.25" r="0.72" fill="#3a3a3a"/>
<circle cx="295.27" cy="222.01" r="0.49" fill="#3a3a3a"/>
<circle cx="281.9" cy="213.72" r="0.57" fill="#3a3a3a"/>
<circle cx="289.44" cy="214.28" r="0.54" fill="#3a3a3a"/>
<circle cx="297.78" cy="231.94" r="0.71" fill="#3a3a3a"/>
<circle cx="302.47" cy="263.33" r="0.56" fill="#3a3a3a"/>
<circle cx="301.67" cy="275.1" r="0.37" fill="#3a3a3a"/>
<circle cx="299.19" cy="239.84" r="0.35" fill="#3a3a3a"/>
<circle cx="294.18" cy="217.38" r="0.47" fill="#3a3a3a"/>
<circle cx="297.07" cy="222.91" r="0.72" fill="#3a3a3a"/>
<circle cx="287.76" cy="216.83" r="0.66" fill="#3a3a3a"/>
<circle cx="304.55" cy="242.26" r="0.38" fill="#3a3a3a"/>
<circle cx="292.71" cy="222.06" r="0.62" fill="#3a3a3a"/>
<circle cx="299.94" cy="227.95" r="0.71" fill="#3a3a3a"/>
<circle cx="291.32" cy="217.59" r="0.37" fill="#3a3a3a"/>
<circle cx="303.59" cy="234.2" r="0.55" fill="#3a3a3a"/>
<circle cx="296.93" cy="227.47" r="0.42" fill="#3a3a3a"/>
<circle cx="291.19" cy="219.85" r="0.71" fill="#3a3a3a"/>
<circle cx="298.54" cy="272" r="0.46" fill="#3a3a3a"/>
<circle cx="299.62" cy="265.64" r="0.39" fill="#3a3a3a"/>
<circle cx="293.52" cy="224.97" r="0.5" fill="#3a3a3a"/>
<circle cx="302.6" cy="256.33" r="0.36" fill="#3a3a3a"/>
<circle cx="298.9" cy="263.36" r="0.75" fill="#3a3a3a"/>
<circle cx="301.51" cy="259.76" r="0.45" fill="#3a3a3a"/>
<circle cx="301.58" cy="239.28" r="0.47" fill="#3a3a3a"/>
<circle cx="295.84" cy="228.14" r="0.65" fill="#3a3a3a"/>
<circle cx="297.28" cy="224.35" r="0.45" fill="#3a3a3a"/>
<circle cx="296.84" cy="231.58" r="0.38" fill="#3a3a3a"/>
<circle cx="287.82" cy="215.6" r="0.68" fill="#3a3a3a"/>
<circle cx="294.52" cy="217.87" r="0.63" fill="#3a3a3a"/>
<circle cx="301.16" cy="240.23" r="0.71" fill="#3a3a3a"/>
<circle cx="302.42" cy="249.24" r="0.65" fill="#3a3a3a"/>
<circle cx="299.64" cy="225.43" r="0.37" fill="#3a3a3a"/>
<circle cx="302.85" cy="274.7" r="0.65" fill="#3a3a3a"/>
<circle cx="299.63" cy="249.05" r="0.6" fill="#3a3a3a"/>
<circle cx="299.65" cy="274.06" r="0.66" fill="#3a3a3a"/>
<circle cx="303.09" cy="235.1" r="0.62" fill="#3a3a3a"/>
<circle cx="298.92" cy="269.05" r="0.55" fill="#3a3a3a"/>
<circle cx="302.83" cy="244.63" r="0.49" fill="#3a3a3a"/>
<circle cx="305.73" cy="249.68" r="0.51" fill="#3a3a3a"/>
<circle cx="297.52" cy="275.2" r="0.69" fill="#3a3a3a"/>
<circle cx="304.18" cy="259" r="0.53" fill="#3a3a3a"/>
<circle cx="296.4" cy="274.54" r="0.53" fill="#3a3a3a"/>
<circle cx="300.97" cy="249.57" r="0.53" fill="#3a3a3a"/>
<circle cx="301.96" cy="244.2" r="0.54" fill="#3a3a3a"/>
<circle cx="291.94" cy="217.4" r="0.36" fill="#3a3a3a"/>
<circle cx="294.48" cy="227.48" r="0.71" fill="#3a3a3a"/>
<circle cx="305.54" cy="251.03" r="0.68" fill="#3a3a3a"/>
<circle cx="300.7" cy="255.41" r="0.42" fill="#3a3a3a"/>
<circle cx="294.73" cy="222.13" r="0.51" fill="#3a3a3a"/>
<circle cx="303.62" cy="248.57" r="0.58" fill="#3a3a3a"/>
<circle cx="299.3" cy="257.78" r="0.36" fill="#3a3a3a"/>
<circle cx="297" cy="227.11" r="0.38" fill="#3a3a3a"/>
<circle cx="300.52" cy="246.02" r="0.42" fill="#3a3a3a"/>
<circle cx="304.52" cy="242.09" r="0.5" fill="#3a3a3a"/>
<circle cx="298.95" cy="273.47" r="0.52" fill="#3a3a3a"/>
<circle cx="298.58" cy="275.67" r="0.57" fill="#3a3a3a"/>
<circle cx="303.52" cy="243.72" r="0.62" fill="#3a3a3a"/>
<circle cx="296.98" cy="229.09" r="0.55" fill="#3a3a3a"/>
<circle cx="301.5" cy="253.72" r="0.51" fill="#3a3a3a"/>
<circle cx="299.31" cy="233.27" r="0.41" fill="#3a3a3a"/>
<circle cx="287.19" cy="214.08" r="0.68" fill="#3a3a3a"/>
<circle cx="303.46" cy="266.74" r="0.71" fill="#3a3a3a"/>
<circle cx="303.16" cy="271.8" r="0.49" fill="#3a3a3a"/>
<circle cx="301.75" cy="278.16" r="0.69" fill="#3a3a3a"/>
<circle cx="302.95" cy="253.66" r="0.72" fill="#3a3a3a"/>
<circle cx="294.82" cy="222.71" r="0.46" fill="#3a3a3a"/>
<circle cx="288.21" cy="216.24" r="0.55" fill="#3a3a3a"/>
<circle cx="290.21" cy="217.94" r="0.54" fill="#3a3a3a"/>
<circle cx="288.05" cy="215.06" r="0.6" fill="#3a3a3a"/>
<circle cx="299.76" cy="243.21" r="0.46" fill="#3a3a3a"/>
<circle cx="299.78" cy="270.22" r="0.59" fill="#3a3a3a"/>
<circle cx="299.91" cy="239.25" r="0.6" fill="#3a3a3a"/>
<circle cx="300.57" cy="236.4" r="0.51" fill="#3a3a3a"/>
<circle cx="303.86" cy="253.79" r="0.64" fill="#3a3a3a"/>
<circle cx="298.02" cy="276.18" r="0.75" fill="#3a3a3a"/>
<circle cx="298.29" cy="229.52" r="0.4" fill="#3a3a3a"/>
<circle cx="288.15" cy="214.58" r="0.37" fill="#3a3a3a"/>
<circle cx="302.76" cy="249.72" r="0.61" fill="#3a3a3a"/>
<circle cx="293.74" cy="221.77" r="0.61" fill="#3a3a3a"/>
<circle cx="299.09" cy="230.36" r="0.58" fill="#3a3a3a"/>
<circle cx="287.52" cy="215.13" r="0.38" fill="#3a3a3a"/>
<circle cx="302.93" cy="253.9" r="0.36" fill="#3a3a3a"/>
<circle cx="285.5" cy="213.86" r="0.39" fill="#3a3a3a"/>
<circle cx="299.74" cy="258.07" r="0.67" fill="#3a3a3a"/>
<circle cx="304.85" cy="250.49" r="0.59" fill="#3a3a3a"/>
<circle cx="286.4" cy="212.49" r="0.37" fill="#3a3a3a"/>
<circle cx="299.48" cy="255.58" r="0.73" fill="#3a3a3a"/>
<circle cx="300.65" cy="236.31" r="0.65" fill="#3a3a3a"/>
<circle cx="296.55" cy="233.94" r="0.64" fill="#3a3a3a"/>
<circle cx="300.19" cy="230.54" r="0.44" fill="#3a3a3a"/>
<circle cx="284.66" cy="213.98" r="0.39" fill="#3a3a3a"/>
<circle cx="289.6" cy="215.63" r="0.67" fill="#3a3a3a"/>
<circle cx="292.41" cy="216.75" r="0.47" fill="#3a3a3a"/>
<circle cx="287.54" cy="213.11" r="0.48" fill="#3a3a3a"/>
<circle cx="301.29" cy="277.96" r="0.58" fill="#3a3a3a"/>
<circle cx="303.25" cy="242.72" r="0.39" fill="#3a3a3a"/>
<circle cx="304.59" cy="269.3" r="0.48" fill="#3a3a3a"/>
<circle cx="284.83" cy="212.65" r="0.62" fill="#3a3a3a"/>
<circle cx="302.88" cy="240.72" r="0.48" fill="#3a3a3a"/>
<circle cx="304.08" cy="254.17" r="0.38" fill="#3a3a3a"/>
<circle cx="302.06" cy="265.88" r="0.69" fill="#3a3a3a"/>
<circle cx="285.11" cy="215.9" r="0.64" fill="#3a3a3a"/>
<circle cx="300.53" cy="235.54" r="0.68" fill="#3a3a3a"/>
<circle cx="303.47" cy="244.12" r="0.42" fill="#3a3a3a"/>
<circle cx="299.42" cy="258.49" r="0.58" fill="#3a3a3a"/>
<circle cx="298.83" cy="224.77" r="0.55" fill="#3a3a3a"/>
<circle cx="292.8" cy="216.8" r="0.64" fill="#3a3a3a"/>
<circle cx="302.09" cy="251.27" r="0.74" fill="#3a3a3a"/>
<polygon points="307.8,213 309,210.5 312,208.9 317.5,208.3 323,208.7 326.5,210.3 329,213 331.3,219.5 333.3,227.5 335.1,235.5 336.3,243.5 336.7,251.5 336.3,261.5 335,269.5 332.5,277.5 329,284.5 326.8,289.5 325.3,294.5 324.7,302.5 324.9,316.5 325.3,325.5 327.3,331 327,335.1 316.1,335.3 314.8,333 315.1,325.5 315.5,311.5 315.8,299.5 316.5,293.5 318.5,288.1 322,283 325,277.5 327,269.5 327.9,259.5 327.7,248.5 326.5,240 324,232.5 320.5,227 316,222 311.5,217.7 308.7,215.3" fill="#d3d3d3" stroke="#a8a8a8" stroke-width="0.7"/>
<polyline points="313.5,213 317.5,215 320.5,217.5 324,222 326.8,227 329.3,232.5 331.1,240 332.1,248.5 332.2,259.5 331,269.5" fill="none" stroke="#8e8e8e" stroke-width="6.2" stroke-linecap="round" stroke-linejoin="round" opacity="0.9"/>
<ellipse cx="317" cy="213.5" rx="8" ry="3.5" fill="#8e8e8e" opacity="0.9" transform="rotate(20 317 213.5)"/>
<polyline points="320.3,296.5 319.7,306.5 319.7,325.5 320.5,331.5" fill="none" stroke="#7e7e7e" stroke-width="4.6" stroke-linecap="round" opacity="0.9"/>
<ellipse cx="320.3" cy="331" rx="3.8" ry="2.2" fill="#7e7e7e" opacity="0.7"/>
<circle cx="328.69" cy="239.98" r="0.72" fill="#3a3a3a"/>
<circle cx="329.59" cy="229.84" r="0.44" fill="#3a3a3a"/>
<circle cx="324.91" cy="220.62" r="0.74" fill="#3a3a3a"/>
<circle cx="314.23" cy="213.17" r="0.66" fill="#3a3a3a"/>
<circle cx="325.67" cy="224.8" r="0.6" fill="#3a3a3a"/>
<circle cx="324.91" cy="227" r="0.47" fill="#3a3a3a"/>
<circle cx="320.02" cy="215.81" r="0.62" fill="#3a3a3a"/>
<circle cx="330.49" cy="267.38" r="0.52" fill="#3a3a3a"/>
<circle cx="328.06" cy="225.77" r="0.54" fill="#3a3a3a"/>
<circle cx="328.88" cy="233.7" r="0.63" fill="#3a3a3a"/>
<circle cx="314.32" cy="212.15" r="0.36" fill="#3a3a3a"/>
<circle cx="316.97" cy="215.97" r="0.62" fill="#3a3a3a"/>
<circle cx="331.2" cy="252.07" r="0.54" fill="#3a3a3a"/>
<circle cx="331.82" cy="231.85" r="0.7" fill="#3a3a3a"/>
<circle cx="333.26" cy="246.26" r="0.38" fill="#3a3a3a"/>
<circle cx="313.73" cy="214.98" r="0.7" fill="#3a3a3a"/>
<circle cx="329.15" cy="263.97" r="0.66" fill="#3a3a3a"/>
<circle cx="334.08" cy="259.35" r="0.42" fill="#3a3a3a"/>
<circle cx="333.81" cy="259.86" r="0.53" fill="#3a3a3a"/>
<circle cx="328.67" cy="269.83" r="0.7" fill="#3a3a3a"/>
<circle cx="322.11" cy="224.02" r="0.63" fill="#3a3a3a"/>
<circle cx="322.4" cy="223.85" r="0.68" fill="#3a3a3a"/>
<circle cx="320.1" cy="214.06" r="0.43" fill="#3a3a3a"/>
<circle cx="321.14" cy="216.51" r="0.48" fill="#3a3a3a"/>
<circle cx="318.37" cy="216.08" r="0.35" fill="#3a3a3a"/>
<circle cx="333.86" cy="242.69" r="0.58" fill="#3a3a3a"/>
<circle cx="330.37" cy="259.25" r="0.61" fill="#3a3a3a"/>
<circle cx="330.48" cy="235.93" r="0.72" fill="#3a3a3a"/>
<circle cx="324.8" cy="222.65" r="0.51" fill="#3a3a3a"/>
<circle cx="313.77" cy="212.79" r="0.41" fill="#3a3a3a"/>
<circle cx="317.04" cy="215.12" r="0.53" fill="#3a3a3a"/>
<circle cx="332.95" cy="246.09" r="0.5" fill="#3a3a3a"/>
<circle cx="332.07" cy="244.23" r="0.57" fill="#3a3a3a"/>
<circle cx="325.71" cy="223.62" r="0.45" fill="#3a3a3a"/>
<circle cx="327.37" cy="228.32" r="0.37" fill="#3a3a3a"/>
<circle cx="318.84" cy="214.71" r="0.53" fill="#3a3a3a"/>
<circle cx="330.2" cy="246.3" r="0.73" fill="#3a3a3a"/>
<circle cx="331.94" cy="258" r="0.72" fill="#3a3a3a"/>
<circle cx="315.23" cy="214.02" r="0.46" fill="#3a3a3a"/>
<circle cx="328.84" cy="242.14" r="0.69" fill="#3a3a3a"/>
<circle cx="317.27" cy="213.53" r="0.61" fill="#3a3a3a"/>
<circle cx="335.25" cy="248.65" r="0.49" fill="#3a3a3a"/>
<circle cx="329.73" cy="252.44" r="0.52" fill="#3a3a3a"/>
<circle cx="321" cy="219.58" r="0.67" fill="#3a3a3a"/>
<circle cx="315.52" cy="214" r="0.41" fill="#3a3a3a"/>
<circle cx="332.72" cy="252.29" r="0.71" fill="#3a3a3a"/>
<circle cx="324.88" cy="228.75" r="0.56" fill="#3a3a3a"/>
<circle cx="334.96" cy="250.22" r="0.44" fill="#3a3a3a"/>
<circle cx="333.92" cy="238.95" r="0.72" fill="#3a3a3a"/>
<circle cx="331.44" cy="269.75" r="0.4" fill="#3a3a3a"/>
<circle cx="314.69" cy="215.6" r="0.64" fill="#3a3a3a"/>
<circle cx="329.55" cy="278.45" r="0.51" fill="#3a3a3a"/>
<circle cx="315.52" cy="215.21" r="0.56" fill="#3a3a3a"/>
<circle cx="327.64" cy="275.6" r="0.64" fill="#3a3a3a"/>
<circle cx="326.87" cy="225.38" r="0.69" fill="#3a3a3a"/>
<circle cx="332.29" cy="272.36" r="0.48" fill="#3a3a3a"/>
<circle cx="313.47" cy="214.84" r="0.54" fill="#3a3a3a"/>
<circle cx="318.14" cy="216.51" r="0.53" fill="#3a3a3a"/>
<circle cx="333.02" cy="272.33" r="0.65" fill="#3a3a3a"/>
<circle cx="322.11" cy="216.44" r="0.56" fill="#3a3a3a"/>
<circle cx="317.51" cy="212.56" r="0.59" fill="#3a3a3a"/>
<circle cx="332.7" cy="245.84" r="0.5" fill="#3a3a3a"/>
<circle cx="335.17" cy="259" r="0.74" fill="#3a3a3a"/>
<circle cx="328.58" cy="265" r="0.39" fill="#3a3a3a"/>
<circle cx="330.84" cy="246.27" r="0.37" fill="#3a3a3a"/>
<circle cx="326.83" cy="271.89" r="0.35" fill="#3a3a3a"/>
<circle cx="321.57" cy="216.64" r="0.72" fill="#3a3a3a"/>
<circle cx="321.37" cy="218.04" r="0.64" fill="#3a3a3a"/>
<circle cx="326.14" cy="221.32" r="0.62" fill="#3a3a3a"/>
<circle cx="322.76" cy="222.08" r="0.56" fill="#3a3a3a"/>
<circle cx="331.85" cy="231.6" r="0.69" fill="#3a3a3a"/>
<circle cx="315.58" cy="214.57" r="0.35" fill="#3a3a3a"/>
<circle cx="330.61" cy="248.57" r="0.6" fill="#3a3a3a"/>
<circle cx="321.61" cy="215.14" r="0.4" fill="#3a3a3a"/>
<circle cx="324.9" cy="228.15" r="0.65" fill="#3a3a3a"/>
<circle cx="317.68" cy="216.11" r="0.53" fill="#3a3a3a"/>
<circle cx="334.27" cy="259.94" r="0.38" fill="#3a3a3a"/>
<circle cx="334.68" cy="258.82" r="0.64" fill="#3a3a3a"/>
<circle cx="332.59" cy="233.96" r="0.66" fill="#3a3a3a"/>
<circle cx="327.7" cy="271.15" r="0.58" fill="#3a3a3a"/>
<circle cx="312.34" cy="213.9" r="0.56" fill="#3a3a3a"/>
<circle cx="328.98" cy="237.38" r="0.7" fill="#3a3a3a"/>
<circle cx="329.52" cy="276.59" r="0.38" fill="#3a3a3a"/>
<circle cx="319.12" cy="216.99" r="0.4" fill="#3a3a3a"/>
<circle cx="318.92" cy="215.6" r="0.41" fill="#3a3a3a"/>
<circle cx="318.74" cy="217.34" r="0.42" fill="#3a3a3a"/>
<circle cx="329.24" cy="259.34" r="0.62" fill="#3a3a3a"/>
<circle cx="312.57" cy="212.11" r="0.44" fill="#3a3a3a"/>
<circle cx="328.84" cy="268.83" r="0.71" fill="#3a3a3a"/>
<circle cx="324.58" cy="219.03" r="0.66" fill="#3a3a3a"/>
<circle cx="329.74" cy="239.73" r="0.63" fill="#3a3a3a"/>
<circle cx="325.04" cy="222.34" r="0.46" fill="#3a3a3a"/>
<circle cx="333.35" cy="271.54" r="0.72" fill="#3a3a3a"/>
<circle cx="328.79" cy="248.85" r="0.52" fill="#3a3a3a"/>
<circle cx="333.69" cy="267.49" r="0.53" fill="#3a3a3a"/>
<circle cx="328.44" cy="270.34" r="0.52" fill="#3a3a3a"/>
<circle cx="334.44" cy="247.99" r="0.35" fill="#3a3a3a"/>
<circle cx="317.24" cy="217.17" r="0.51" fill="#3a3a3a"/>
<circle cx="331.27" cy="271.64" r="0.62" fill="#3a3a3a"/>
<circle cx="323.36" cy="218.8" r="0.68" fill="#3a3a3a"/>
<circle cx="329.96" cy="256.23" r="0.5" fill="#3a3a3a"/>
<circle cx="330.08" cy="251.47" r="0.69" fill="#3a3a3a"/>
<circle cx="331.96" cy="247.17" r="0.67" fill="#3a3a3a"/>
<circle cx="319.65" cy="217.59" r="0.6" fill="#3a3a3a"/>
<circle cx="324.33" cy="218.58" r="0.52" fill="#3a3a3a"/>
<circle cx="329.13" cy="227.73" r="0.61" fill="#3a3a3a"/>
<circle cx="331.04" cy="231.42" r="0.58" fill="#3a3a3a"/>
<circle cx="326.44" cy="275.78" r="0.54" fill="#3a3a3a"/>
<circle cx="322.46" cy="221.15" r="0.69" fill="#3a3a3a"/>
<circle cx="323.73" cy="217.67" r="0.46" fill="#3a3a3a"/>
<circle cx="332.74" cy="258.8" r="0.41" fill="#3a3a3a"/>
<circle cx="328.81" cy="246.87" r="0.52" fill="#3a3a3a"/>
<circle cx="322.89" cy="222.87" r="0.65" fill="#3a3a3a"/>
<circle cx="327.26" cy="228.72" r="0.44" fill="#3a3a3a"/>
<circle cx="325.51" cy="276.94" r="0.68" fill="#3a3a3a"/>
<circle cx="320.58" cy="218.1" r="0.74" fill="#3a3a3a"/>
<circle cx="328.44" cy="267.22" r="0.41" fill="#3a3a3a"/>
<circle cx="312.33" cy="213.97" r="0.56" fill="#3a3a3a"/>
<circle cx="324.1" cy="220.18" r="0.49" fill="#3a3a3a"/>
<circle cx="319.63" cy="214.61" r="0.64" fill="#3a3a3a"/>
<circle cx="324.42" cy="224" r="0.45" fill="#3a3a3a"/>
<circle cx="332" cy="234.76" r="0.43" fill="#3a3a3a"/>
<circle cx="314.24" cy="212.24" r="0.56" fill="#3a3a3a"/>
<circle cx="319.51" cy="215.87" r="0.65" fill="#3a3a3a"/>
<circle cx="335.14" cy="260.94" r="0.71" fill="#3a3a3a"/>
<circle cx="330.34" cy="267.12" r="0.73" fill="#3a3a3a"/>
<circle cx="320.93" cy="217" r="0.6" fill="#3a3a3a"/>
<circle cx="330.6" cy="250.71" r="0.64" fill="#3a3a3a"/>
<polygon points="337.5,213 338.7,210.5 341.7,208.9 347.2,208.3 352.7,208.7 356.2,210.3 358.7,213 361,219.5 363,227.5 364.8,235.5 366,243.5 366.4,251.5 366,261.5 364.7,269.5 362.2,277.5 358.7,284.5 356.5,289.5 355,294.5 354.4,302.5 354.6,316.5 355,325.5 357,331 356.7,335.1 345.8,335.3 344.5,333 344.8,325.5 345.2,311.5 345.5,299.5 346.2,293.5 348.2,288.1 351.7,283 354.7,277.5 356.7,269.5 357.6,259.5 357.4,248.5 356.2,240 353.7,232.5 350.2,227 345.7,222 341.2,217.7 338.4,215.3" fill="#d3d3d3" stroke="#a8a8a8" stroke-width="0.7"/>
<polyline points="343.2,213 347.2,215 350.2,217.5 353.7,222 356.5,227 359,232.5 360.8,240 361.8,248.5 361.9,259.5 360.7,269.5" fill="none" stroke="#b8b8b8" stroke-width="4.2" stroke-linecap="round" stroke-linejoin="round" opacity="0.9"/>
<ellipse cx="346.7" cy="213.5" rx="6" ry="2.8" fill="#b8b8b8" opacity="0.9" transform="rotate(20 346.7 213.5)"/>
<polyline points="350,296.5 349.4,306.5 349.4,325.5 350.2,331.5" fill="none" stroke="#6a6a6a" stroke-width="5.6" stroke-linecap="round" opacity="0.9"/>
<ellipse cx="350.4" cy="330" rx="6.2" ry="3.8" fill="#555" opacity="0.9"/>
<circle cx="349.43" cy="215.21" r="0.64" fill="#3a3a3a"/>
<circle cx="360.09" cy="241.02" r="0.58" fill="#3a3a3a"/>
<circle cx="345.13" cy="214.22" r="0.56" fill="#3a3a3a"/>
<circle cx="362.55" cy="267.08" r="0.44" fill="#3a3a3a"/>
<circle cx="350.15" cy="216.27" r="0.59" fill="#3a3a3a"/>
<circle cx="357.55" cy="228.46" r="0.56" fill="#3a3a3a"/>
<circle cx="349.38" cy="216.52" r="0.62" fill="#3a3a3a"/>
<circle cx="349.05" cy="219.09" r="0.63" fill="#3a3a3a"/>
<circle cx="360.86" cy="233.04" r="0.51" fill="#3a3a3a"/>
<circle cx="358.26" cy="269.23" r="0.59" fill="#3a3a3a"/>
<circle cx="360.66" cy="242.84" r="0.53" fill="#3a3a3a"/>
<circle cx="364.13" cy="246.81" r="0.61" fill="#3a3a3a"/>
<circle cx="361.3" cy="230.7" r="0.6" fill="#3a3a3a"/>
<circle cx="362.33" cy="266.02" r="0.65" fill="#3a3a3a"/>
<circle cx="363.62" cy="240.39" r="0.56" fill="#3a3a3a"/>
<circle cx="359.19" cy="275.12" r="0.73" fill="#3a3a3a"/>
<circle cx="357.46" cy="271.74" r="0.69" fill="#3a3a3a"/>
<circle cx="360.12" cy="267.04" r="0.62" fill="#3a3a3a"/>
<circle cx="357.83" cy="272.55" r="0.62" fill="#3a3a3a"/>
<circle cx="350.35" cy="217.37" r="0.54" fill="#3a3a3a"/>
<circle cx="348.4" cy="218.51" r="0.41" fill="#3a3a3a"/>
<circle cx="345.39" cy="215.22" r="0.48" fill="#3a3a3a"/>
<circle cx="361.25" cy="250.84" r="0.43" fill="#3a3a3a"/>
<circle cx="355.25" cy="220.97" r="0.54" fill="#3a3a3a"/>
<circle cx="364.06" cy="260.06" r="0.69" fill="#3a3a3a"/>
<circle cx="359.37" cy="242.38" r="0.42" fill="#3a3a3a"/>
<circle cx="361.14" cy="259.43" r="0.74" fill="#3a3a3a"/>
<circle cx="360.05" cy="269.57" r="0.46" fill="#3a3a3a"/>
<circle cx="351.88" cy="218.96" r="0.72" fill="#3a3a3a"/>
<circle cx="364.93" cy="249.48" r="0.54" fill="#3a3a3a"/>
<circle cx="359.92" cy="264.01" r="0.64" fill="#3a3a3a"/>
<circle cx="358.11" cy="265.25" r="0.73" fill="#3a3a3a"/>
<circle cx="348.13" cy="216.36" r="0.54" fill="#3a3a3a"/>
<circle cx="364.05" cy="266.95" r="0.4" fill="#3a3a3a"/>
<circle cx="360.05" cy="269.91" r="0.41" fill="#3a3a3a"/>
<circle cx="344.12" cy="212.52" r="0.57" fill="#3a3a3a"/>
<circle cx="360.03" cy="272.81" r="0.38" fill="#3a3a3a"/>
<circle cx="363.59" cy="256.26" r="0.36" fill="#3a3a3a"/>
<circle cx="359.5" cy="233.29" r="0.54" fill="#3a3a3a"/>
<circle cx="355.49" cy="221.92" r="0.63" fill="#3a3a3a"/>
<circle cx="359.7" cy="272.97" r="0.63" fill="#3a3a3a"/>
<circle cx="349.05" cy="215.57" r="0.43" fill="#3a3a3a"/>
<circle cx="345.83" cy="215.34" r="0.74" fill="#3a3a3a"/>
<circle cx="353.79" cy="217.66" r="0.49" fill="#3a3a3a"/>
<circle cx="357.34" cy="232.37" r="0.45" fill="#3a3a3a"/>
<circle cx="356.59" cy="230.43" r="0.63" fill="#3a3a3a"/>
<circle cx="354.71" cy="224.53" r="0.39" fill="#3a3a3a"/>
<circle cx="346.65" cy="215.57" r="0.36" fill="#3a3a3a"/>
<circle cx="361.17" cy="230.87" r="0.75" fill="#3a3a3a"/>
<circle cx="362.73" cy="233.36" r="0.54" fill="#3a3a3a"/>
<circle cx="360.58" cy="264.11" r="0.53" fill="#3a3a3a"/>
<circle cx="358.06" cy="227.41" r="0.44" fill="#3a3a3a"/>
<circle cx="356.4" cy="223.86" r="0.68" fill="#3a3a3a"/>
<circle cx="364.44" cy="247.99" r="0.6" fill="#3a3a3a"/>
<circle cx="350.31" cy="222.34" r="0.69" fill="#3a3a3a"/>
<circle cx="359.2" cy="269.37" r="0.72" fill="#3a3a3a"/>
<polygon points="367.3,213 368.5,210.5 371.5,208.9 377,208.3 382.5,208.7 386,210.3 388.5,213 390.8,219.5 392.8,227.5 394.6,235.5 395.8,243.5 396.2,251.5 395.8,261.5 394.5,269.5 392,277.5 388.5,284.5 386.3,289.5 384.8,294.5 384.2,302.5 384.4,316.5 384.8,325.5 386.8,331 386.5,335.1 375.6,335.3 374.3,333 374.6,325.5 375,311.5 375.3,299.5 376,293.5 378,288.1 381.5,283 384.5,277.5 386.5,269.5 387.4,259.5 387.2,248.5 386,240 383.5,232.5 380,227 375.5,222 371,217.7 368.2,215.3" fill="#dcdcdc" stroke="#a8a8a8" stroke-width="0.7"/>
<polyline points="379.8,296.5 379.2,306.5 379.2,325.5 380,331.5" fill="none" stroke="#969696" stroke-width="3.6" stroke-linecap="round" opacity="0.9"/>
<ellipse cx="379.8" cy="331" rx="3.8" ry="2.2" fill="#969696" opacity="0.7"/>
<circle cx="388.38" cy="276.48" r="0.64" fill="#3a3a3a"/>
<circle cx="377.65" cy="218.48" r="0.4" fill="#3a3a3a"/>
<circle cx="388.45" cy="227.23" r="0.4" fill="#3a3a3a"/>
<circle cx="374.4" cy="215.63" r="0.36" fill="#3a3a3a"/>
<circle cx="378.21" cy="217.52" r="0.56" fill="#3a3a3a"/>
<circle cx="378.89" cy="217.79" r="0.64" fill="#3a3a3a"/>
<circle cx="388.62" cy="228.04" r="0.68" fill="#3a3a3a"/>
<circle cx="380.82" cy="219.94" r="0.73" fill="#3a3a3a"/>
<polygon points="397,213 398.2,210.5 401.2,208.9 406.7,208.3 412.2,208.7 415.7,210.3 418.2,213 420.5,219.5 422.5,227.5 424.3,235.5 425.5,243.5 425.9,251.5 425.5,261.5 424.2,269.5 421.7,277.5 418.2,284.5 416,289.5 414.5,294.5 413.9,302.5 414.1,316.5 414.5,325.5 416.5,331 416.2,335.1 405.3,335.3 404,333 404.3,325.5 404.7,311.5 405,299.5 405.7,293.5 407.7,288.1 411.2,283 414.2,277.5 416.2,269.5 417.1,259.5 416.9,248.5 415.7,240 413.2,232.5 409.7,227 405.2,222 400.7,217.7 397.9,215.3" fill="#dcdcdc" stroke="#a8a8a8" stroke-width="0.7"/>
<circle cx="421.35" cy="274.99" r="0.44" fill="#3a3a3a"/>
<circle cx="415.51" cy="224.45" r="0.36" fill="#3a3a3a"/>
<circle cx="411.39" cy="215.52" r="0.61" fill="#3a3a3a"/>
<text x="297.5" y="344" font-size="7.3" text-anchor="end" transform="rotate(-45 297.5 344)">Control</text>
<text x="327.2" y="344" font-size="7.3" text-anchor="end" transform="rotate(-45 327.2 344)">d1 - high</text>
<text x="356.9" y="344" font-size="7.3" text-anchor="end" transform="rotate(-45 356.9 344)">d3 - high</text>
<text x="386.7" y="344" font-size="7.3" text-anchor="end" transform="rotate(-45 386.7 344)">d9 - low</text>
<text x="416.4" y="344" font-size="7.3" text-anchor="end" transform="rotate(-45 416.4 344)">d9 - high</text>
<text x="451.4" y="197.4" font-size="10.5" font-weight="bold" fill="#000">f</text>
<clipPath id="cp4"><rect x="461.2" y="196.2" width="104.4" height="51.1"/></clipPath><g clip-path="url(#cp4)"><g filter="url(#soft)">
<rect x="461.2" y="196.2" width="104.4" height="51.1" fill="#e0b9e5"/>
<path d="M459.95,190.45 L459.51,190.47 L459.07,190.54 L458.64,190.64 L458.23,190.79 L457.83,190.98 L457.45,191.21 L457.1,191.47 L456.77,191.77 L456.47,192.1 L456.21,192.45 L455.98,192.83 L455.79,193.23 L455.64,193.64 L455.54,194.07 L455.47,194.51 L455.45,194.95 L455.45,221.83 L455.47,222.27 L455.54,222.7 L455.64,223.13 L455.79,223.54 L455.98,223.94 L456.2,224.32 L456.46,224.67 L456.76,225 L457.08,225.3 L457.43,225.56 L457.81,225.79 L458.21,225.98 L458.62,226.13 L459.04,226.24 L459.48,226.3 L459.92,226.33 L460.36,226.31 L460.79,226.25 L461.22,226.15 L461.63,226 L462.03,225.82 L467.94,222.73 L468.38,222.47 L485.97,210.51 L486.33,210.24 L486.66,209.94 L486.95,209.61 L487.21,209.25 L487.44,208.86 L487.62,208.45 L487.77,208.03 L487.87,207.6 L487.93,207.15 L487.94,206.71 L487.91,206.26 L487.84,205.82 L485.22,193.98 L485.1,193.56 L484.95,193.15 L484.76,192.76 L484.53,192.39 L484.26,192.05 L483.97,191.73 L483.64,191.44 L483.29,191.19 L482.92,190.97 L482.52,190.78 L482.11,190.64 L481.69,190.53 L481.26,190.47 L480.82,190.45 L459.95,190.45Z " fill="#fff"/>
<path d="M490.96,190.45 L490.52,190.47 L490.08,190.54 L489.64,190.65 L489.22,190.8 L488.82,190.99 L488.44,191.23 L488.08,191.5 L487.75,191.8 L487.46,192.13 L487.19,192.49 L486.97,192.88 L486.78,193.29 L486.64,193.71 L486.54,194.14 L486.48,194.59 L486.46,195.03 L486.5,195.48 L486.57,195.92 L488.75,205.79 L488.86,206.21 L489.02,206.61 L489.2,206.99 L489.43,207.36 L489.69,207.7 L489.98,208.02 L490.29,208.3 L490.64,208.56 L491.01,208.78 L491.39,208.97 L491.79,209.11 L492.21,209.22 L495.45,209.91 L495.89,209.99 L496.34,210.01 L496.78,210 L497.22,209.94 L497.66,209.83 L498.08,209.69 L498.48,209.5 L498.86,209.27 L499.22,209.01 L499.55,208.71 L499.86,208.38 L500.12,208.03 L500.35,207.65 L500.54,207.25 L500.69,206.83 L503.92,196.26 L504.03,195.83 L504.09,195.4 L504.11,194.96 L504.09,194.51 L504.03,194.08 L503.92,193.65 L503.77,193.23 L503.58,192.83 L503.36,192.45 L503.09,192.1 L502.8,191.77 L502.47,191.47 L502.12,191.21 L501.74,190.98 L501.34,190.79 L500.92,190.64 L500.49,190.54 L500.06,190.47 L499.61,190.45 L490.96,190.45Z " fill="#fff"/>
<path d="M490.97,209.88 L490.52,209.81 L490.07,209.78 L489.62,209.8 L489.17,209.87 L488.73,209.98 L488.3,210.13 L487.89,210.32 L487.51,210.56 L470.82,221.9 L470.47,222.16 L470.15,222.46 L469.86,222.79 L469.6,223.14 L469.37,223.52 L469.19,223.91 L469.04,224.32 L468.94,224.75 L468.87,225.18 L468.85,225.62 L468.85,233.8 L468.87,234.22 L468.93,234.63 L469.02,235.04 L469.16,235.43 L469.33,235.82 L469.53,236.18 L469.77,236.53 L470.04,236.85 L470.33,237.14 L477.95,244.02 L478.31,244.31 L478.69,244.56 L479.1,244.77 L479.52,244.94 L479.96,245.06 L480.41,245.14 L480.87,245.18 L481.33,245.16 L481.78,245.1 L482.22,245 L497.39,240.59 L497.83,240.43 L498.25,240.24 L498.64,240 L499.01,239.73 L499.35,239.42 L499.66,239.07 L499.92,238.7 L505.2,230.48 L505.44,230.07 L505.63,229.63 L505.77,229.18 L505.87,228.72 L505.91,228.25 L506.25,220.86 L506.25,220.41 L506.21,219.97 L506.12,219.53 L505.98,219.1 L505.81,218.69 L505.59,218.3 L505.34,217.93 L505.05,217.58 L500.53,212.75 L500.21,212.43 L499.85,212.15 L499.46,211.9 L499.05,211.7 L498.62,211.53 L498.18,211.42 L490.97,209.88Z " fill="#fff"/>
<path d="M507.89,190.45 L507.45,190.47 L507.02,190.53 L506.6,190.64 L506.19,190.78 L505.8,190.97 L505.42,191.19 L505.07,191.44 L504.74,191.73 L504.45,192.05 L504.18,192.39 L503.95,192.76 L503.76,193.15 L503.61,193.56 L503.49,193.98 L503.42,194.41 L501.81,207.68 L501.78,208.09 L501.79,208.5 L501.83,208.9 L501.91,209.3 L502.03,209.69 L502.18,210.07 L504.9,216.1 L505.09,216.48 L505.32,216.85 L505.59,217.18 L505.88,217.5 L506.21,217.78 L506.56,218.03 L506.93,218.25 L507.32,218.43 L507.72,218.57 L508.14,218.67 L508.57,218.73 L509,218.75 L520.08,218.75 L520.49,218.73 L520.9,218.67 L521.31,218.58 L521.7,218.45 L528.51,215.81 L528.91,215.63 L529.29,215.42 L529.64,215.17 L529.97,214.88 L530.28,214.57 L530.55,214.23 L530.78,213.86 L534.99,206.55 L535.19,206.16 L535.35,205.75 L535.48,205.32 L535.55,204.89 L535.59,204.45 L535.89,195.09 L535.88,194.64 L535.83,194.2 L535.73,193.76 L535.59,193.33 L535.4,192.92 L535.18,192.52 L534.92,192.16 L534.62,191.82 L534.29,191.51 L533.93,191.24 L533.55,191 L533.14,190.81 L532.72,190.65 L532.29,190.54 L531.84,190.47 L531.39,190.45 L507.89,190.45Z " fill="#fff"/>
<path d="M540.56,198.95 L540.12,198.97 L539.68,199.04 L539.25,199.14 L538.84,199.29 L538.44,199.48 L538.06,199.71 L537.71,199.97 L537.38,200.27 L537.08,200.59 L536.82,200.95 L536.59,201.33 L536.4,201.72 L536.25,202.14 L536.15,202.57 L535.44,206.12 L533.06,213.05 L532.93,213.5 L532.85,213.95 L532.81,214.41 L532.83,214.87 L532.88,215.32 L532.99,215.77 L533.14,216.2 L533.33,216.62 L533.57,217.01 L533.84,217.38 L534.15,217.72 L534.5,218.03 L541.7,223.8 L542.07,224.07 L542.48,224.3 L542.9,224.49 L543.34,224.63 L543.79,224.73 L544.25,224.78 L544.71,224.79 L545.17,224.74 L548.22,224.3 L548.66,224.21 L549.09,224.08 L549.51,223.9 L549.91,223.69 L550.28,223.43 L550.63,223.14 L550.94,222.82 L551.22,222.47 L551.47,222.09 L551.67,221.69 L551.84,221.27 L554.12,214.42 L554.25,213.95 L554.32,213.48 L554.35,213 L554.35,206.63 L554.32,206.15 L554.25,205.68 L554.12,205.22 L553.95,204.78 L553.73,204.35 L553.47,203.96 L551.12,200.78 L550.86,200.45 L550.56,200.15 L550.24,199.88 L549.9,199.64 L549.53,199.43 L549.15,199.26 L548.75,199.13 L548.34,199.03 L547.92,198.97 L547.5,198.95 L540.56,198.95Z " fill="#fff"/>
<path d="M559.75,190.45 L559.31,190.47 L558.87,190.54 L558.44,190.64 L558.03,190.79 L557.63,190.98 L557.25,191.21 L556.9,191.47 L556.57,191.77 L556.27,192.1 L556.01,192.45 L555.78,192.83 L555.59,193.23 L555.44,193.64 L555.34,194.07 L555.27,194.51 L555.25,194.95 L555.25,213.87 L553.42,219.38 L553.3,219.8 L553.22,220.23 L553.19,220.66 L553.19,221.1 L553.24,221.53 L553.33,221.95 L553.47,222.37 L553.64,222.77 L553.85,223.15 L554.09,223.51 L554.37,223.85 L554.68,224.15 L555.02,224.43 L555.38,224.67 L555.77,224.87 L556.17,225.04 L556.59,225.16 L565.95,227.52 L566.38,227.6 L566.8,227.65 L567.23,227.65 L567.66,227.61 L568.08,227.53 L568.5,227.41 L568.9,227.26 L569.28,227.06 L569.64,226.83 L569.98,226.56 L570.3,226.27 L570.58,225.95 L570.83,225.6 L571.05,225.22 L571.22,224.83 L571.37,224.43 L571.47,224.01 L571.53,223.58 L571.55,223.15 L571.55,194.95 L571.53,194.51 L571.46,194.07 L571.36,193.64 L571.21,193.23 L571.02,192.83 L570.79,192.45 L570.53,192.1 L570.23,191.77 L569.9,191.47 L569.55,191.21 L569.17,190.98 L568.77,190.79 L568.36,190.64 L567.93,190.54 L567.49,190.47 L567.05,190.45 L559.75,190.45Z " fill="#fbf6fb"/>
<path d="M541.45,180.45 L541.01,180.47 L540.57,180.54 L540.14,180.64 L539.73,180.79 L539.33,180.98 L538.95,181.21 L538.6,181.47 L538.27,181.77 L537.97,182.1 L537.71,182.45 L537.48,182.83 L537.29,183.23 L537.14,183.64 L537.04,184.07 L536.97,184.51 L536.95,184.95 L536.95,193.35 L536.97,193.79 L537.04,194.23 L537.14,194.66 L537.29,195.07 L537.48,195.47 L537.71,195.85 L537.97,196.2 L538.27,196.53 L538.6,196.83 L538.95,197.09 L539.33,197.32 L539.73,197.51 L540.14,197.66 L540.57,197.76 L541.01,197.83 L541.45,197.85 L549.85,197.85 L550.29,197.83 L550.73,197.76 L551.16,197.66 L551.57,197.51 L551.97,197.32 L552.35,197.09 L552.7,196.83 L553.03,196.53 L553.33,196.2 L553.59,195.85 L553.82,195.47 L554.01,195.07 L554.16,194.66 L554.26,194.23 L554.33,193.79 L554.35,193.35 L554.35,184.95 L554.33,184.51 L554.26,184.07 L554.16,183.64 L554.01,183.23 L553.82,182.83 L553.59,182.45 L553.33,182.1 L553.03,181.77 L552.7,181.47 L552.35,181.21 L551.97,180.98 L551.57,180.79 L551.16,180.64 L550.73,180.54 L550.29,180.47 L549.85,180.45 L541.45,180.45Z " fill="#f8eef8"/>
<path d="M510.99,219.65 L510.54,219.67 L510.09,219.74 L509.65,219.86 L509.22,220.01 L508.81,220.21 L508.43,220.45 L508.07,220.73 L507.74,221.05 L507.44,221.39 L507.18,221.76 L506.96,222.16 L506.78,222.58 L506.64,223.01 L506.55,223.46 L506.5,223.91 L506.5,224.37 L506.76,229.72 L500.12,240.05 L499.88,240.48 L499.68,240.93 L499.54,241.41 L495.95,255.97 L495.86,256.42 L495.82,256.87 L495.83,257.32 L495.88,257.77 L495.97,258.21 L496.11,258.65 L496.29,259.06 L496.52,259.46 L496.78,259.83 L497.07,260.17 L497.4,260.48 L497.76,260.75 L498.15,260.99 L498.55,261.19 L498.98,261.35 L499.42,261.46 L499.87,261.53 L500.32,261.55 L513.32,261.55 L513.75,261.53 L514.19,261.47 L514.61,261.36 L515.02,261.21 L515.42,261.03 L515.8,260.8 L516.15,260.55 L516.48,260.25 L516.77,259.93 L517.04,259.58 L517.27,259.21 L517.46,258.81 L517.61,258.4 L517.72,257.98 L517.79,257.55 L517.82,257.11 L517.8,256.67 L516.45,240.61 L517.05,228.95 L517.75,224.92 L517.8,224.49 L517.82,224.05 L517.79,223.62 L517.71,223.19 L517.6,222.77 L517.45,222.36 L517.25,221.97 L517.02,221.6 L516.76,221.25 L516.46,220.93 L516.14,220.64 L515.79,220.39 L515.41,220.17 L515.02,219.98 L514.61,219.84 L514.18,219.73 L513.75,219.67 L513.32,219.65 L510.99,219.65Z " fill="#fff"/>
<path d="M522.36,218.81 L521.96,218.94 L521.57,219.11 L521.19,219.31 L520.84,219.55 L520.51,219.82 L520.21,220.12 L519.94,220.45 L519.7,220.8 L519.5,221.18 L519.33,221.57 L519.2,221.97 L519.1,222.39 L517.99,228.78 L517.93,229.32 L517.37,240.29 L517.38,240.9 L518.77,257.43 L518.83,257.87 L518.93,258.3 L519.07,258.72 L519.26,259.13 L519.49,259.51 L519.75,259.87 L520.05,260.21 L520.37,260.51 L520.73,260.78 L521.11,261.01 L521.51,261.2 L521.93,261.35 L522.36,261.46 L522.81,261.53 L523.25,261.55 L532.49,261.55 L532.92,261.53 L533.35,261.47 L533.77,261.36 L534.18,261.22 L534.57,261.04 L534.95,260.82 L535.3,260.56 L535.62,260.28 L535.92,259.96 L536.18,259.62 L536.41,259.25 L536.61,258.86 L536.76,258.45 L536.88,258.04 L536.95,257.61 L536.99,257.18 L537.45,240.53 L539.77,232.35 L541.05,229.26 L541.21,228.84 L541.31,228.4 L541.38,227.95 L541.4,227.5 L541.37,227.05 L541.3,226.6 L541.18,226.16 L541.02,225.74 L540.82,225.34 L540.58,224.95 L540.3,224.6 L539.99,224.27 L539.65,223.98 L531.97,218.06 L531.59,217.79 L531.19,217.57 L530.76,217.39 L530.32,217.26 L529.87,217.17 L529.41,217.12 L528.95,217.13 L528.5,217.18 L528.05,217.28 L522.36,218.81Z " fill="#fff"/>
<path d="M545.95,225.54 L545.53,225.62 L545.13,225.74 L544.73,225.89 L544.36,226.09 L544,226.31 L543.67,226.57 L543.36,226.86 L543.08,227.18 L542.83,227.52 L542.62,227.89 L542.44,228.27 L540.73,232.41 L540.55,232.9 L538.49,240.16 L538.38,240.68 L538.33,241.2 L537.96,249.86 L537.97,250.32 L538.02,250.77 L538.11,251.21 L538.25,251.64 L538.43,252.06 L538.66,252.45 L538.92,252.82 L539.21,253.17 L539.54,253.48 L539.9,253.75 L540.29,253.99 L540.7,254.19 L541.12,254.35 L541.56,254.46 L542.01,254.53 L542.46,254.55 L567.05,254.55 L567.49,254.53 L567.93,254.46 L568.36,254.36 L568.77,254.21 L569.17,254.02 L569.55,253.79 L569.9,253.53 L570.23,253.23 L570.53,252.9 L570.79,252.55 L571.02,252.17 L571.21,251.77 L571.36,251.36 L571.46,250.93 L571.53,250.49 L571.55,250.05 L571.55,233.36 L571.53,232.9 L571.46,232.45 L571.34,232.01 L571.18,231.58 L570.98,231.17 L570.73,230.78 L570.45,230.42 L570.14,230.08 L569.79,229.79 L569.41,229.53 L569.01,229.31 L568.58,229.13 L568.15,229 L552.14,224.98 L551.71,224.89 L551.27,224.85 L550.83,224.84 L550.39,224.89 L545.95,225.54Z " fill="#fff"/>
<path d="M457.87,229.01 L457.48,229.24 L457.12,229.5 L456.79,229.8 L456.49,230.12 L456.22,230.48 L455.99,230.86 L455.8,231.26 L455.65,231.68 L455.54,232.11 L455.47,232.55 L455.45,233 L455.45,250.05 L455.47,250.49 L455.54,250.93 L455.64,251.36 L455.79,251.77 L455.98,252.17 L456.21,252.55 L456.47,252.9 L456.77,253.23 L457.1,253.53 L457.45,253.79 L457.83,254.02 L458.23,254.21 L458.64,254.36 L459.07,254.46 L459.51,254.53 L459.95,254.55 L474.75,254.55 L475.19,254.53 L475.63,254.46 L476.06,254.36 L476.47,254.21 L476.87,254.02 L477.25,253.79 L477.6,253.53 L477.93,253.23 L478.23,252.9 L478.49,252.55 L478.72,252.17 L478.91,251.77 L479.06,251.36 L479.16,250.93 L479.23,250.49 L479.25,250.05 L479.25,248.4 L479.23,247.98 L479.17,247.57 L479.08,247.16 L478.94,246.77 L478.77,246.38 L478.57,246.02 L478.33,245.67 L478.06,245.35 L477.77,245.06 L467.95,236.2 L467.95,231.17 L467.93,230.73 L467.86,230.3 L467.76,229.87 L467.61,229.46 L467.42,229.06 L467.2,228.68 L466.94,228.33 L466.64,228 L466.32,227.7 L465.97,227.44 L465.59,227.21 L465.19,227.02 L464.78,226.87 L464.36,226.76 L463.92,226.7 L463.48,226.67 L463.04,226.69 L462.61,226.75 L462.18,226.85 L461.77,227 L461.37,227.18 L457.87,229.01Z " fill="#fff"/>
<path d="M483.41,246.21 L482.99,246.35 L482.58,246.54 L482.2,246.76 L481.83,247.02 L481.5,247.32 L481.2,247.65 L480.93,248.01 L480.69,248.39 L480.5,248.79 L480.35,249.21 L480.24,249.64 L480.17,250.09 L480.15,250.53 L480.15,257.05 L480.17,257.49 L480.24,257.93 L480.34,258.36 L480.49,258.77 L480.68,259.17 L480.91,259.55 L481.17,259.9 L481.47,260.23 L481.8,260.53 L482.15,260.79 L482.53,261.02 L482.93,261.21 L483.34,261.36 L483.77,261.46 L484.21,261.53 L484.65,261.55 L490.15,261.55 L490.61,261.53 L491.06,261.46 L491.5,261.34 L491.93,261.18 L492.34,260.98 L492.73,260.74 L493.09,260.46 L493.42,260.14 L493.72,259.79 L493.98,259.42 L494.2,259.02 L494.38,258.6 L494.51,258.16 L496.74,249.44 L496.83,249 L496.87,248.55 L496.87,248.1 L496.83,247.65 L496.74,247.21 L496.6,246.78 L496.43,246.37 L496.21,245.97 L495.96,245.6 L495.67,245.26 L495.35,244.95 L494.99,244.67 L494.62,244.42 L494.22,244.22 L493.8,244.06 L493.36,243.94 L492.92,243.86 L492.47,243.83 L492.02,243.84 L491.58,243.9 L491.14,244 L483.41,246.21Z " fill="#fff"/>
<ellipse cx="506.8" cy="219.3" rx="1.5" ry="1.0" fill="#3e2a8c" transform="rotate(20 506.8 219.3)"/>
<ellipse cx="523.6" cy="217.8" rx="2.0" ry="1.1" fill="#3e2a8c" transform="rotate(-10 523.6 217.8)"/>
<ellipse cx="543.3" cy="226.8" rx="1.7" ry="1.0" fill="#3e2a8c" transform="rotate(30 543.3 226.8)"/>
<ellipse cx="551.8" cy="224" rx="1.5" ry="1.0" fill="#3e2a8c" transform="rotate(0 551.8 224)"/>
<ellipse cx="516.2" cy="240.8" rx="1.3" ry="1.0" fill="#3e2a8c" transform="rotate(0 516.2 240.8)"/>
<ellipse cx="539.2" cy="243.6" rx="1.2" ry="1.9" fill="#3e2a8c" transform="rotate(0 539.2 243.6)"/>
<ellipse cx="465.6" cy="239" rx="1.8" ry="2.6" fill="#3e2a8c" transform="rotate(30 465.6 239)"/>
<ellipse cx="478.7" cy="246.4" rx="1.6" ry="1.0" fill="#3e2a8c" transform="rotate(0 478.7 246.4)"/>
<text x="471.9" y="211.9" font-size="7.2" text-anchor="middle" font-family="'Liberation Serif', serif">α</text>
<text x="495.6" y="205.3" font-size="7.2" text-anchor="middle" font-family="'Liberation Serif', serif">α</text>
<text x="516.8" y="211.9" font-size="7.2" text-anchor="middle" font-family="'Liberation Serif', serif">α</text>
<text x="546.7" y="215.6" font-size="7.2" text-anchor="middle" font-family="'Liberation Serif', serif">α</text>
<text x="487" y="232.9" font-size="7.2" text-anchor="middle" font-family="'Liberation Serif', serif">α</text>
<text x="509.9" y="236.6" font-size="7.2" text-anchor="middle" font-family="'Liberation Serif', serif">α</text>
<text x="527.1" y="236.6" font-size="7.2" text-anchor="middle" font-family="'Liberation Serif', serif">α</text>
<text x="550.2" y="238.7" font-size="7.2" text-anchor="middle" font-family="'Liberation Serif', serif">α</text>
</g></g>
<rect x="461.2" y="196.2" width="104.4" height="51.1" fill="none" stroke="#6b6b6b" stroke-width="0.9"/>
<clipPath id="cp5"><rect x="461.2" y="250.4" width="104.4" height="51"/></clipPath><g clip-path="url(#cp5)"><g filter="url(#soft)">
<rect x="461.2" y="250.4" width="104.4" height="51" fill="#e3c6ea"/>
<ellipse cx="538.67" cy="271.29" rx="2.07" ry="1.88" fill="#fdf8fd" opacity="0.8" transform="rotate(41.65 538.67 271.29)"/>
<ellipse cx="562.98" cy="266.93" rx="4.89" ry="4.23" fill="#fdf8fd" opacity="0.8" transform="rotate(98.66 562.98 266.93)"/>
<ellipse cx="550.86" cy="265.39" rx="4.99" ry="3.5" fill="#f6ecf8" opacity="0.8" transform="rotate(177.09 550.86 265.39)"/>
<ellipse cx="531.01" cy="261.14" rx="3.17" ry="2.88" fill="#fdf8fd" opacity="0.8" transform="rotate(31.97 531.01 261.14)"/>
<ellipse cx="543.07" cy="283.08" rx="4.74" ry="4.18" fill="#f6ecf8" opacity="0.8" transform="rotate(34.79 543.07 283.08)"/>
<ellipse cx="545.6" cy="285.23" rx="3.15" ry="3" fill="#f6ecf8" opacity="0.8" transform="rotate(177.51 545.6 285.23)"/>
<ellipse cx="536.23" cy="291.43" rx="3.12" ry="1.59" fill="#dcb8e6" opacity="0.8" transform="rotate(78.2 536.23 291.43)"/>
<ellipse cx="562.45" cy="291.08" rx="2.79" ry="2.07" fill="#ecd6f2" opacity="0.8" transform="rotate(174.67 562.45 291.08)"/>
<ellipse cx="550.98" cy="291.58" rx="3.23" ry="2.46" fill="#f6ecf8" opacity="0.8" transform="rotate(79.19 550.98 291.58)"/>
<ellipse cx="564.97" cy="284.92" rx="4.25" ry="4.24" fill="#f6ecf8" opacity="0.8" transform="rotate(167.74 564.97 284.92)"/>
<ellipse cx="548.64" cy="284.26" rx="4.74" ry="4.34" fill="#f6ecf8" opacity="0.8" transform="rotate(151.05 548.64 284.26)"/>
<ellipse cx="541.66" cy="272.39" rx="4.58" ry="4.26" fill="#fdf8fd" opacity="0.8" transform="rotate(73.56 541.66 272.39)"/>
<ellipse cx="538.01" cy="280.72" rx="3.55" ry="2.15" fill="#f6ecf8" opacity="0.8" transform="rotate(176.13 538.01 280.72)"/>
<ellipse cx="541.49" cy="263.2" rx="3.83" ry="2.77" fill="#fdf8fd" opacity="0.8" transform="rotate(36.52 541.49 263.2)"/>
<ellipse cx="561.56" cy="262.65" rx="3.18" ry="1.83" fill="#dcb8e6" opacity="0.8" transform="rotate(115.14 561.56 262.65)"/>
<ellipse cx="561.51" cy="257.83" rx="2.54" ry="2.39" fill="#ecd6f2" opacity="0.8" transform="rotate(132.72 561.51 257.83)"/>
<ellipse cx="554.12" cy="280.6" rx="3.45" ry="2.59" fill="#fdf8fd" opacity="0.8" transform="rotate(172.71 554.12 280.6)"/>
<ellipse cx="550.61" cy="275.07" rx="3.03" ry="2.19" fill="#fdf8fd" opacity="0.8" transform="rotate(68.66 550.61 275.07)"/>
<ellipse cx="534.97" cy="278.95" rx="4.91" ry="3.44" fill="#dcb8e6" opacity="0.8" transform="rotate(162.77 534.97 278.95)"/>
<ellipse cx="541.3" cy="267.1" rx="4.95" ry="4.89" fill="#dcb8e6" opacity="0.8" transform="rotate(59.33 541.3 267.1)"/>
<ellipse cx="544.55" cy="281.29" rx="2.64" ry="2.12" fill="#ecd6f2" opacity="0.8" transform="rotate(0.98 544.55 281.29)"/>
<ellipse cx="543.95" cy="289.81" rx="4.33" ry="2.73" fill="#fdf8fd" opacity="0.8" transform="rotate(70.37 543.95 289.81)"/>
<ellipse cx="559.33" cy="272.42" rx="1.62" ry="1.07" fill="#fdf8fd" opacity="0.8" transform="rotate(166.88 559.33 272.42)"/>
<ellipse cx="563.95" cy="253.41" rx="3.19" ry="2.45" fill="#ecd6f2" opacity="0.8" transform="rotate(140.99 563.95 253.41)"/>
<ellipse cx="542.4" cy="288.24" rx="1.78" ry="1.32" fill="#f6ecf8" opacity="0.8" transform="rotate(90.69 542.4 288.24)"/>
<ellipse cx="538.59" cy="282.45" rx="2.15" ry="1.94" fill="#f6ecf8" opacity="0.8" transform="rotate(162.3 538.59 282.45)"/>
<ellipse cx="551.85" cy="275.98" rx="4.19" ry="2.43" fill="#dcb8e6" opacity="0.8" transform="rotate(154.71 551.85 275.98)"/>
<ellipse cx="552.65" cy="256.83" rx="3.33" ry="2.35" fill="#f6ecf8" opacity="0.8" transform="rotate(37.02 552.65 256.83)"/>
<ellipse cx="560.13" cy="269.49" rx="1.76" ry="1.75" fill="#f6ecf8" opacity="0.8" transform="rotate(21.18 560.13 269.49)"/>
<ellipse cx="550.12" cy="285.99" rx="3.8" ry="3.04" fill="#dcb8e6" opacity="0.8" transform="rotate(92.32 550.12 285.99)"/>
<ellipse cx="542.68" cy="283.47" rx="4.82" ry="3.58" fill="#f6ecf8" opacity="0.8" transform="rotate(15.27 542.68 283.47)"/>
<ellipse cx="547.15" cy="273.05" rx="2.09" ry="1.44" fill="#f6ecf8" opacity="0.8" transform="rotate(99.13 547.15 273.05)"/>
<ellipse cx="535.72" cy="284.32" rx="1.82" ry="1.34" fill="#f6ecf8" opacity="0.8" transform="rotate(145.58 535.72 284.32)"/>
<ellipse cx="530.33" cy="251.09" rx="4.41" ry="2.87" fill="#fdf8fd" opacity="0.8" transform="rotate(14.97 530.33 251.09)"/>
<ellipse cx="533.37" cy="250.77" rx="1.71" ry="1.48" fill="#f6ecf8" opacity="0.8" transform="rotate(58.6 533.37 250.77)"/>
<ellipse cx="557.09" cy="278.76" rx="3.45" ry="2.39" fill="#dcb8e6" opacity="0.8" transform="rotate(5.73 557.09 278.76)"/>
<ellipse cx="541.68" cy="274.9" rx="3.05" ry="1.6" fill="#fdf8fd" opacity="0.8" transform="rotate(54.66 541.68 274.9)"/>
<ellipse cx="532.11" cy="272.59" rx="3.03" ry="2.02" fill="#fdf8fd" opacity="0.8" transform="rotate(34.22 532.11 272.59)"/>
<ellipse cx="547.11" cy="254.65" rx="3.52" ry="3.11" fill="#fdf8fd" opacity="0.8" transform="rotate(87.87 547.11 254.65)"/>
<ellipse cx="559.85" cy="278.71" rx="1.59" ry="1.12" fill="#ecd6f2" opacity="0.8" transform="rotate(91.92 559.85 278.71)"/>
<ellipse cx="543.2" cy="291.57" rx="1.35" ry="1" fill="#c45aa6" opacity="0.85" transform="rotate(169.51 543.2 291.57)"/>
<ellipse cx="464.83" cy="292.46" rx="1.58" ry="1.42" fill="#cf6fb5" opacity="0.85" transform="rotate(149.5 464.83 292.46)"/>
<ellipse cx="498.48" cy="291.01" rx="1.19" ry="0.86" fill="#e59bd0" opacity="0.85" transform="rotate(42.7 498.48 291.01)"/>
<ellipse cx="476.13" cy="293.4" rx="0.95" ry="0.84" fill="#d77fbf" opacity="0.85" transform="rotate(74.88 476.13 293.4)"/>
<ellipse cx="536.58" cy="300.31" rx="1.55" ry="1.22" fill="#cf6fb5" opacity="0.85" transform="rotate(120.81 536.58 300.31)"/>
<ellipse cx="507.13" cy="292.48" rx="1.17" ry="0.89" fill="#d77fbf" opacity="0.85" transform="rotate(32.34 507.13 292.48)"/>
<ellipse cx="488.74" cy="299.19" rx="1.08" ry="0.84" fill="#d77fbf" opacity="0.85" transform="rotate(128.82 488.74 299.19)"/>
<ellipse cx="478.75" cy="293.13" rx="1.35" ry="1" fill="#d77fbf" opacity="0.85" transform="rotate(24.08 478.75 293.13)"/>
<ellipse cx="525.25" cy="291.91" rx="1.27" ry="0.77" fill="#c45aa6" opacity="0.85" transform="rotate(36.02 525.25 291.91)"/>
<ellipse cx="468.02" cy="292.76" rx="1.34" ry="0.81" fill="#e59bd0" opacity="0.85" transform="rotate(90.59 468.02 292.76)"/>
<ellipse cx="530.05" cy="295.71" rx="1.56" ry="1.41" fill="#c45aa6" opacity="0.85" transform="rotate(43.02 530.05 295.71)"/>
<ellipse cx="505.91" cy="297.98" rx="0.77" ry="0.64" fill="#d77fbf" opacity="0.85" transform="rotate(26.33 505.91 297.98)"/>
<ellipse cx="492.84" cy="291.73" rx="0.74" ry="0.56" fill="#c45aa6" opacity="0.85" transform="rotate(28.07 492.84 291.73)"/>
<ellipse cx="503.52" cy="297.98" rx="0.84" ry="0.61" fill="#e59bd0" opacity="0.85" transform="rotate(8.31 503.52 297.98)"/>
<ellipse cx="527.86" cy="292.6" rx="1.32" ry="1.32" fill="#e59bd0" opacity="0.85" transform="rotate(58.24 527.86 292.6)"/>
<ellipse cx="492.34" cy="293.02" rx="0.82" ry="0.72" fill="#d77fbf" opacity="0.85" transform="rotate(169.08 492.34 293.02)"/>
<ellipse cx="524.74" cy="300.23" rx="1.46" ry="0.87" fill="#cf6fb5" opacity="0.85" transform="rotate(98.64 524.74 300.23)"/>
<ellipse cx="492.08" cy="294.82" rx="0.71" ry="0.6" fill="#c45aa6" opacity="0.85" transform="rotate(46.51 492.08 294.82)"/>
<ellipse cx="480.49" cy="298.31" rx="0.99" ry="0.59" fill="#cf6fb5" opacity="0.85" transform="rotate(168.32 480.49 298.31)"/>
<ellipse cx="492.28" cy="295.49" rx="1.31" ry="0.97" fill="#c45aa6" opacity="0.85" transform="rotate(0.97 492.28 295.49)"/>
<ellipse cx="484.25" cy="297.82" rx="1.16" ry="1.11" fill="#c45aa6" opacity="0.85" transform="rotate(20.93 484.25 297.82)"/>
<ellipse cx="479.42" cy="300.17" rx="1.34" ry="0.84" fill="#d77fbf" opacity="0.85" transform="rotate(166.62 479.42 300.17)"/>
<ellipse cx="485.94" cy="299.82" rx="1.46" ry="0.85" fill="#e59bd0" opacity="0.85" transform="rotate(2.85 485.94 299.82)"/>
<ellipse cx="479.35" cy="297.75" rx="1.11" ry="0.68" fill="#e59bd0" opacity="0.85" transform="rotate(64.35 479.35 297.75)"/>
<ellipse cx="466.62" cy="296.49" rx="1.41" ry="1.26" fill="#cf6fb5" opacity="0.85" transform="rotate(47.71 466.62 296.49)"/>
<ellipse cx="505.19" cy="301.39" rx="1.52" ry="1.49" fill="#d77fbf" opacity="0.85" transform="rotate(22.53 505.19 301.39)"/>
<ellipse cx="490.96" cy="298.89" rx="0.87" ry="0.58" fill="#e59bd0" opacity="0.85" transform="rotate(174.96 490.96 298.89)"/>
<ellipse cx="463.12" cy="292.28" rx="1.35" ry="0.96" fill="#c45aa6" opacity="0.85" transform="rotate(27.72 463.12 292.28)"/>
<ellipse cx="489.36" cy="291.81" rx="1.07" ry="0.75" fill="#d77fbf" opacity="0.85" transform="rotate(116.39 489.36 291.81)"/>
<ellipse cx="519.07" cy="299.68" rx="1.54" ry="1.5" fill="#c45aa6" opacity="0.85" transform="rotate(124.15 519.07 299.68)"/>
<ellipse cx="528.75" cy="297.77" rx="0.8" ry="0.79" fill="#cf6fb5" opacity="0.85" transform="rotate(54.22 528.75 297.77)"/>
<ellipse cx="519.89" cy="299.91" rx="0.81" ry="0.78" fill="#c45aa6" opacity="0.85" transform="rotate(59.13 519.89 299.91)"/>
<ellipse cx="527.23" cy="297.72" rx="0.95" ry="0.78" fill="#cf6fb5" opacity="0.85" transform="rotate(90.16 527.23 297.72)"/>
<ellipse cx="522.71" cy="291.03" rx="1.1" ry="1.02" fill="#c45aa6" opacity="0.85" transform="rotate(173.24 522.71 291.03)"/>
<ellipse cx="476.34" cy="293.06" rx="1.46" ry="1.21" fill="#cf6fb5" opacity="0.85" transform="rotate(112.6 476.34 293.06)"/>
<ellipse cx="500.91" cy="292.27" rx="1.5" ry="1.07" fill="#e59bd0" opacity="0.85" transform="rotate(4.8 500.91 292.27)"/>
<ellipse cx="494.91" cy="292.33" rx="1.1" ry="0.89" fill="#d77fbf" opacity="0.85" transform="rotate(124.26 494.91 292.33)"/>
<ellipse cx="487.34" cy="300.68" rx="0.71" ry="0.39" fill="#c45aa6" opacity="0.85" transform="rotate(37.85 487.34 300.68)"/>
<ellipse cx="479.21" cy="291.38" rx="1.48" ry="0.89" fill="#e59bd0" opacity="0.85" transform="rotate(105.9 479.21 291.38)"/>
<ellipse cx="533.52" cy="301.14" rx="1.23" ry="0.68" fill="#d77fbf" opacity="0.85" transform="rotate(102.09 533.52 301.14)"/>
<ellipse cx="473.65" cy="295.25" rx="1.15" ry="1" fill="#e59bd0" opacity="0.85" transform="rotate(30.66 473.65 295.25)"/>
<ellipse cx="520.86" cy="294.98" rx="1.16" ry="0.65" fill="#cf6fb5" opacity="0.85" transform="rotate(140.89 520.86 294.98)"/>
<ellipse cx="540.86" cy="298.05" rx="1.56" ry="1.23" fill="#d77fbf" opacity="0.85" transform="rotate(55.51 540.86 298.05)"/>
<ellipse cx="467.11" cy="294.57" rx="1.19" ry="0.91" fill="#c45aa6" opacity="0.85" transform="rotate(52.57 467.11 294.57)"/>
<ellipse cx="490.66" cy="299.23" rx="1.45" ry="0.74" fill="#cf6fb5" opacity="0.85" transform="rotate(15.54 490.66 299.23)"/>
<ellipse cx="538.66" cy="297.58" rx="1.01" ry="0.88" fill="#d77fbf" opacity="0.85" transform="rotate(163.97 538.66 297.58)"/>
<ellipse cx="475.56" cy="294.95" rx="1.36" ry="0.94" fill="#e59bd0" opacity="0.85" transform="rotate(21.3 475.56 294.95)"/>
<ellipse cx="475.17" cy="292.71" rx="0.74" ry="0.54" fill="#c45aa6" opacity="0.85" transform="rotate(47.32 475.17 292.71)"/>
<ellipse cx="543.88" cy="294.9" rx="1.52" ry="1.27" fill="#d77fbf" opacity="0.85" transform="rotate(145.39 543.88 294.9)"/>
<ellipse cx="520.1" cy="301.2" rx="1.37" ry="0.68" fill="#d77fbf" opacity="0.85" transform="rotate(135.25 520.1 301.2)"/>
<ellipse cx="564.45" cy="273.02" rx="1.09" ry="0.81" fill="#cf6fb5" opacity="0.7" transform="rotate(172.62 564.45 273.02)"/>
<ellipse cx="551.94" cy="277.26" rx="1.21" ry="1.14" fill="#d77fbf" opacity="0.7" transform="rotate(176.09 551.94 277.26)"/>
<ellipse cx="561.03" cy="271.23" rx="1.39" ry="1.08" fill="#cf6fb5" opacity="0.7" transform="rotate(107.58 561.03 271.23)"/>
<ellipse cx="557.28" cy="290.48" rx="0.89" ry="0.51" fill="#cf6fb5" opacity="0.7" transform="rotate(179.94 557.28 290.48)"/>
<ellipse cx="565.03" cy="291.65" rx="1.11" ry="0.58" fill="#cf6fb5" opacity="0.7" transform="rotate(121.9 565.03 291.65)"/>
<ellipse cx="552.78" cy="275.04" rx="0.71" ry="0.68" fill="#d77fbf" opacity="0.7" transform="rotate(132.05 552.78 275.04)"/>
<ellipse cx="554.82" cy="290.76" rx="0.72" ry="0.43" fill="#d77fbf" opacity="0.7" transform="rotate(68.48 554.82 290.76)"/>
<ellipse cx="565.69" cy="275.26" rx="1.14" ry="0.58" fill="#d77fbf" opacity="0.7" transform="rotate(87.3 565.69 275.26)"/>
<ellipse cx="562.64" cy="291.26" rx="0.99" ry="0.69" fill="#d77fbf" opacity="0.7" transform="rotate(168.87 562.64 291.26)"/>
<ellipse cx="563.28" cy="280.43" rx="1.38" ry="1.01" fill="#cf6fb5" opacity="0.7" transform="rotate(38.87 563.28 280.43)"/>
<ellipse cx="561.79" cy="271.79" rx="0.74" ry="0.56" fill="#cf6fb5" opacity="0.7" transform="rotate(41.38 561.79 271.79)"/>
<ellipse cx="564.33" cy="290.45" rx="1.24" ry="0.99" fill="#cf6fb5" opacity="0.7" transform="rotate(90.39 564.33 290.45)"/>
<path d="M482.53,255.94 L482.05,255.93 L481.57,255.97 L481.1,256.05 L480.63,256.18 L480.18,256.35 L479.75,256.57 L479.35,256.82 L478.96,257.11 L478.61,257.44 L478.29,257.8 L478.01,258.19 L477.77,258.61 L477.57,259.05 L477.41,259.5 L477.29,259.97 L477.22,260.45 L477.2,260.93 L477.2,267.51 L477.22,268 L477.3,268.49 L477.42,268.96 L477.58,269.42 L477.79,269.87 L478.05,270.29 L478.34,270.69 L478.67,271.05 L479.04,271.38 L479.43,271.67 L479.85,271.92 L480.3,272.13 L480.76,272.3 L481.24,272.41 L481.73,272.49 L492.97,273.56 L493.48,273.58 L493.99,273.55 L494.49,273.47 L494.99,273.33 L495.46,273.15 L495.92,272.92 L496.35,272.65 L496.75,272.33 L497.11,271.97 L497.44,271.58 L500.55,267.43 L500.81,267.05 L501.03,266.65 L501.22,266.23 L501.36,265.79 L501.47,265.34 L501.53,264.89 L501.55,264.43 L501.53,263.97 L501.29,261.4 L501.22,260.9 L501.09,260.41 L500.92,259.94 L500.71,259.48 L500.44,259.05 L500.14,258.65 L499.8,258.28 L499.42,257.95 L499.01,257.66 L498.57,257.41 L498.11,257.2 L497.63,257.05 L497.14,256.94 L496.64,256.88 L482.53,255.94Z " fill="#fff"/>
<path d="M507.51,254.2 L507.02,254.22 L506.54,254.3 L506.06,254.41 L505.6,254.58 L505.16,254.79 L504.74,255.04 L504.34,255.33 L503.98,255.66 L503.65,256.02 L503.36,256.41 L503.11,256.83 L502.9,257.27 L502.73,257.73 L502.61,258.21 L502.54,258.69 L502.51,259.18 L502.53,259.67 L502.8,262.5 L502.87,263 L502.99,263.49 L503.16,263.96 L503.38,264.42 L503.65,264.85 L503.95,265.25 L504.3,265.62 L504.68,265.96 L505.09,266.25 L505.53,266.5 L505.99,266.7 L521.98,272.79 L522.43,272.94 L522.9,273.04 L523.38,273.1 L523.86,273.12 L524.34,273.08 L524.82,273 L525.28,272.88 L525.73,272.71 L526.16,272.5 L526.57,272.25 L526.96,271.96 L527.45,271.55 L527.81,271.21 L528.14,270.84 L528.43,270.44 L528.68,270.01 L528.89,269.56 L529.05,269.09 L529.16,268.6 L529.23,268.11 L529.91,259.6 L529.93,259.11 L529.89,258.63 L529.81,258.15 L529.69,257.68 L529.52,257.23 L529.31,256.79 L529.05,256.38 L528.76,255.99 L528.43,255.63 L528.07,255.31 L527.68,255.02 L527.26,254.78 L526.82,254.57 L526.36,254.41 L525.89,254.29 L525.41,254.22 L524.93,254.2 L507.51,254.2Z " fill="#fff"/>
<path d="M497.89,284.13 L497.97,284.62 L498.1,285.1 L498.28,285.56 L498.5,286.01 L498.76,286.43 L499.07,286.82 L499.41,287.18 L499.79,287.5 L500.19,287.79 L500.62,288.03 L515.14,295.29 L515.58,295.48 L516.04,295.63 L516.51,295.74 L516.99,295.8 L517.47,295.81 L517.95,295.78 L518.42,295.7 L518.89,295.58 L519.34,295.41 L519.77,295.2 L520.19,294.95 L520.57,294.66 L520.93,294.34 L521.25,293.98 L521.53,293.59 L521.78,293.18 L521.99,292.74 L522.15,292.29 L522.27,291.82 L522.35,291.35 L523.68,278.93 L523.71,278.42 L523.68,277.92 L523.61,277.42 L523.49,276.93 L523.32,276.45 L523.1,276 L522.83,275.57 L522.53,275.17 L522.18,274.8 L521.8,274.46 L521.39,274.17 L520.95,273.92 L520.49,273.72 L506.19,268.28 L505.72,268.12 L505.24,268.02 L504.74,267.96 L504.25,267.95 L503.75,267.99 L503.26,268.08 L502.79,268.22 L502.33,268.4 L501.89,268.63 L501.47,268.91 L501.08,269.22 L500.73,269.57 L500.41,269.95 L498.01,273.16 L497.74,273.55 L497.51,273.97 L497.33,274.4 L497.18,274.85 L497.08,275.31 L497.02,275.79 L497.01,276.26 L497.04,276.73 L497.89,284.13Z " fill="#fff"/>
<path d="M473.16,276.3 L472.79,276.63 L472.46,276.99 L472.16,277.38 L471.91,277.8 L471.69,278.24 L471.53,278.7 L471.4,279.18 L471.33,279.66 L471.3,280.15 L471.32,280.64 L471.39,281.13 L471.51,281.61 L471.67,282.07 L471.88,282.51 L478.66,295.4 L478.9,295.81 L479.19,296.2 L479.51,296.57 L479.87,296.89 L480.25,297.19 L480.66,297.44 L481.1,297.66 L481.55,297.83 L482.02,297.95 L482.5,298.03 L482.98,298.07 L483.46,298.05 L483.95,297.99 L484.42,297.88 L484.88,297.73 L485.32,297.54 L485.74,297.3 L486.14,297.02 L486.51,296.71 L494.99,288.73 L495.34,288.35 L495.66,287.95 L495.94,287.51 L496.16,287.04 L496.34,286.56 L496.47,286.06 L496.54,285.54 L496.56,285.03 L496.53,284.51 L495.92,279.22 L495.84,278.74 L495.71,278.27 L495.54,277.82 L495.33,277.38 L495.07,276.97 L494.78,276.58 L494.45,276.22 L494.09,275.9 L493.69,275.61 L493.28,275.37 L492.83,275.16 L492.38,275 L491.9,274.88 L491.42,274.81 L478.75,273.61 L478.27,273.59 L477.78,273.61 L477.3,273.68 L476.83,273.8 L476.38,273.96 L475.94,274.17 L475.52,274.41 L475.13,274.7 L473.16,276.3Z " fill="#fff"/>
<path d="M466.9,277.86 L467.37,277.86 L467.83,277.83 L468.29,277.75 L468.74,277.63 L469.18,277.47 L469.59,277.27 L469.99,277.03 L470.37,276.75 L473.95,273.86 L474.31,273.53 L474.65,273.16 L474.94,272.77 L475.2,272.34 L475.41,271.9 L475.58,271.43 L475.7,270.95 L475.78,270.46 L475.8,269.97 L475.8,262.88 L475.78,262.4 L475.71,261.93 L475.59,261.46 L475.44,261.01 L475.23,260.57 L474.99,260.16 L474.71,259.77 L474.4,259.41 L474.05,259.08 L473.67,258.78 L473.26,258.53 L472.83,258.31 L472.39,258.14 L471.92,258.01 L428.02,247.88 L427.53,247.79 L427.04,247.75 L426.54,247.76 L426.04,247.82 L425.55,247.93 L425.08,248.09 L424.63,248.3 L424.19,248.55 L423.79,248.84 L423.41,249.17 L423.07,249.53 L422.77,249.93 L422.51,250.36 L422.29,250.81 L422.12,251.27 L422,251.76 L421.92,252.25 L421.9,252.75 L421.9,270.27 L421.93,270.77 L422,271.26 L422.13,271.75 L422.3,272.22 L422.52,272.67 L422.78,273.1 L423.09,273.5 L423.43,273.86 L423.81,274.19 L424.22,274.48 L424.65,274.73 L425.11,274.93 L425.59,275.09 L426.08,275.2 L426.58,275.26 L466.9,277.86Z " fill="#f8f0fa"/>
<path d="M559.08,276.65 L558.66,276.89 L558.26,277.17 L557.9,277.49 L557.57,277.84 L557.27,278.22 L557.01,278.63 L533.42,320.37 L533.2,320.8 L533.03,321.25 L532.9,321.72 L532.82,322.19 L532.78,322.67 L532.79,323.16 L533.63,336.03 L533.69,336.53 L533.79,337.02 L533.95,337.49 L534.15,337.95 L534.4,338.39 L534.69,338.8 L535.02,339.17 L535.39,339.52 L535.79,339.82 L536.21,340.08 L536.67,340.3 L537.14,340.48 L537.62,340.6 L538.12,340.67 L538.62,340.7 L599.9,340.7 L600.39,340.68 L600.88,340.6 L601.35,340.48 L601.81,340.32 L602.26,340.11 L602.68,339.86 L603.07,339.57 L603.44,339.24 L603.77,338.87 L604.06,338.48 L604.31,338.06 L604.52,337.61 L604.68,337.15 L604.8,336.68 L604.88,336.19 L604.9,335.7 L604.9,261.28 L604.88,260.79 L604.81,260.31 L604.69,259.83 L604.53,259.38 L604.32,258.94 L604.07,258.52 L603.78,258.12 L603.46,257.76 L603.1,257.43 L602.71,257.14 L602.29,256.89 L601.86,256.67 L601.4,256.51 L600.93,256.38 L600.45,256.31 L599.96,256.28 L599.47,256.29 L598.99,256.36 L598.52,256.47 L598.06,256.63 L597.61,256.83 L559.08,276.65Z " fill="#fdf9fd"/>
<path d="M471.95,256.58 L472.43,256.66 L472.9,256.7 L473.38,256.7 L473.86,256.65 L474.33,256.55 L474.78,256.41 L475.22,256.22 L475.65,256 L476.04,255.73 L476.42,255.43 L476.76,255.09 L477.06,254.73 L477.33,254.33 L477.57,253.91 L477.76,253.48 L477.9,253.02 L478.01,252.55 L478.07,252.08 L478.08,251.6 L478.04,251.12 L473.86,215.52 L473.78,215.04 L473.65,214.57 L473.48,214.12 L473.27,213.68 L473.01,213.27 L472.72,212.88 L472.39,212.53 L472.03,212.21 L471.64,211.92 L471.22,211.68 L470.78,211.47 L470.32,211.31 L469.85,211.19 L469.37,211.12 L468.89,211.1 L426.9,211.1 L426.41,211.12 L425.92,211.2 L425.45,211.32 L424.99,211.48 L424.54,211.69 L424.12,211.94 L423.73,212.23 L423.36,212.56 L423.03,212.93 L422.74,213.32 L422.49,213.74 L422.28,214.19 L422.12,214.65 L422,215.12 L421.92,215.61 L421.9,216.1 L421.9,241.05 L421.92,241.53 L421.99,242 L422.11,242.47 L422.26,242.92 L422.47,243.36 L422.71,243.77 L422.99,244.16 L423.3,244.52 L423.65,244.85 L424.03,245.15 L424.44,245.4 L424.87,245.62 L425.31,245.79 L425.78,245.92 L471.95,256.58Z " fill="#f8f0fa"/>
<ellipse cx="474" cy="263" rx="1.7" ry="1.2" fill="#4a2f95" transform="rotate(30 474 263)"/>
<ellipse cx="494.6" cy="268.7" rx="1.7" ry="1.2" fill="#4a2f95" transform="rotate(30 494.6 268.7)"/>
<ellipse cx="504" cy="266.8" rx="1.7" ry="1.2" fill="#4a2f95" transform="rotate(30 504 266.8)"/>
<ellipse cx="510.6" cy="253.7" rx="1.7" ry="1.2" fill="#4a2f95" transform="rotate(30 510.6 253.7)"/>
<ellipse cx="522.7" cy="272.4" rx="1.7" ry="1.2" fill="#4a2f95" transform="rotate(30 522.7 272.4)"/>
<ellipse cx="535.8" cy="278" rx="1.7" ry="1.2" fill="#4a2f95" transform="rotate(30 535.8 278)"/>
<ellipse cx="500.3" cy="285.5" rx="1.7" ry="1.2" fill="#4a2f95" transform="rotate(30 500.3 285.5)"/>
<ellipse cx="481.5" cy="294" rx="1.7" ry="1.2" fill="#4a2f95" transform="rotate(30 481.5 294)"/>
<ellipse cx="502" cy="294" rx="1.7" ry="1.2" fill="#4a2f95" transform="rotate(30 502 294)"/>
<ellipse cx="535.8" cy="289.3" rx="1.7" ry="1.2" fill="#4a2f95" transform="rotate(30 535.8 289.3)"/>
<ellipse cx="542.4" cy="294" rx="1.7" ry="1.2" fill="#4a2f95" transform="rotate(30 542.4 294)"/>
<ellipse cx="535" cy="298.6" rx="1.7" ry="1.2" fill="#4a2f95" transform="rotate(30 535 298.6)"/>
<ellipse cx="562" cy="275.2" rx="1.7" ry="1.2" fill="#4a2f95" transform="rotate(30 562 275.2)"/>
<ellipse cx="556.4" cy="262.1" rx="1.7" ry="1.2" fill="#4a2f95" transform="rotate(30 556.4 262.1)"/>
<ellipse cx="471" cy="256" rx="1.7" ry="1.2" fill="#4a2f95" transform="rotate(30 471 256)"/>
<ellipse cx="548" cy="282" rx="1.7" ry="1.2" fill="#4a2f95" transform="rotate(30 548 282)"/>
<text x="487" y="266" font-size="7.2" text-anchor="middle" font-family="'Liberation Serif', serif">α</text>
<text x="518.7" y="262.9" font-size="7.2" text-anchor="middle" font-family="'Liberation Serif', serif">α</text>
<text x="509.1" y="282" font-size="7.2" text-anchor="middle" font-family="'Liberation Serif', serif">α</text>
<text x="482.8" y="287.9" font-size="7.2" text-anchor="middle" font-family="'Liberation Serif', serif">α</text>
<text x="558.6" y="297.5" font-size="7.2" text-anchor="middle" font-family="'Liberation Serif', serif">α</text>
<polygon points="523.8,292.5 532.5,284.6 535.8,292.2" fill="#000"/>
<polygon points="548.6,289.5 559.3,285.5 556.3,294.5" fill="#000"/>
</g></g>
<rect x="461.2" y="250.4" width="104.4" height="51" fill="none" stroke="#6b6b6b" stroke-width="0.9"/>
<clipPath id="cp6"><rect x="461.2" y="305.6" width="104.4" height="50.5"/></clipPath><g clip-path="url(#cp6)"><g filter="url(#soft)">
<rect x="461.2" y="305.6" width="104.4" height="50.5" fill="#d996d2"/>
<ellipse cx="512.82" cy="333.71" rx="4.43" ry="2.92" fill="#dca8dc" opacity="0.6" transform="rotate(57.77 512.82 333.71)"/>
<ellipse cx="464.09" cy="323.65" rx="2.2" ry="1.6" fill="#e6bce6" opacity="0.6" transform="rotate(175.34 464.09 323.65)"/>
<ellipse cx="527.16" cy="350.74" rx="4.07" ry="3.32" fill="#e6bce6" opacity="0.6" transform="rotate(60.76 527.16 350.74)"/>
<ellipse cx="545.4" cy="312.06" rx="3.21" ry="3.06" fill="#e6bce6" opacity="0.6" transform="rotate(132.88 545.4 312.06)"/>
<ellipse cx="507.2" cy="321.68" rx="3.12" ry="2.84" fill="#dca8dc" opacity="0.6" transform="rotate(112.5 507.2 321.68)"/>
<ellipse cx="525.4" cy="326.79" rx="2.7" ry="1.59" fill="#e6bce6" opacity="0.6" transform="rotate(97.4 525.4 326.79)"/>
<ellipse cx="462.67" cy="325.05" rx="4.55" ry="4.55" fill="#eccbec" opacity="0.6" transform="rotate(76.13 462.67 325.05)"/>
<ellipse cx="509.97" cy="341.64" rx="3.18" ry="1.77" fill="#e6bce6" opacity="0.6" transform="rotate(63.66 509.97 341.64)"/>
<ellipse cx="464.48" cy="330.22" rx="3.27" ry="2.28" fill="#e6bce6" opacity="0.6" transform="rotate(24.3 464.48 330.22)"/>
<ellipse cx="512.81" cy="352.96" rx="2.92" ry="2.17" fill="#eccbec" opacity="0.6" transform="rotate(175.35 512.81 352.96)"/>
<ellipse cx="561.09" cy="324.22" rx="2.61" ry="1.79" fill="#eccbec" opacity="0.6" transform="rotate(164.29 561.09 324.22)"/>
<ellipse cx="548.44" cy="354.18" rx="4.91" ry="3.69" fill="#eccbec" opacity="0.6" transform="rotate(169.99 548.44 354.18)"/>
<ellipse cx="552.19" cy="341.47" rx="4.42" ry="2.6" fill="#dca8dc" opacity="0.6" transform="rotate(109.48 552.19 341.47)"/>
<ellipse cx="502.73" cy="338.47" rx="2.79" ry="2.46" fill="#e6bce6" opacity="0.6" transform="rotate(81.73 502.73 338.47)"/>
<ellipse cx="511.93" cy="318.59" rx="2.74" ry="1.52" fill="#eccbec" opacity="0.6" transform="rotate(72.35 511.93 318.59)"/>
<ellipse cx="494.26" cy="352.06" rx="2.46" ry="1.57" fill="#dca8dc" opacity="0.6" transform="rotate(153.14 494.26 352.06)"/>
<ellipse cx="477.43" cy="324.36" rx="2.38" ry="1.79" fill="#e6bce6" opacity="0.6" transform="rotate(13.54 477.43 324.36)"/>
<ellipse cx="506.64" cy="327.61" rx="3.93" ry="3.3" fill="#dca8dc" opacity="0.6" transform="rotate(68.58 506.64 327.61)"/>
<ellipse cx="562.58" cy="345.22" rx="4.26" ry="3.85" fill="#dca8dc" opacity="0.6" transform="rotate(155.93 562.58 345.22)"/>
<ellipse cx="496.66" cy="352.59" rx="2.6" ry="1.47" fill="#dca8dc" opacity="0.6" transform="rotate(115.38 496.66 352.59)"/>
<ellipse cx="465.35" cy="330.23" rx="4.86" ry="4.57" fill="#dca8dc" opacity="0.6" transform="rotate(57.94 465.35 330.23)"/>
<ellipse cx="517.14" cy="352.97" rx="3.41" ry="2.2" fill="#e6bce6" opacity="0.6" transform="rotate(25.19 517.14 352.97)"/>
<ellipse cx="529.09" cy="336.74" rx="4.93" ry="4.03" fill="#dca8dc" opacity="0.6" transform="rotate(55.83 529.09 336.74)"/>
<ellipse cx="521.42" cy="353.7" rx="2.76" ry="2.18" fill="#eccbec" opacity="0.6" transform="rotate(137.92 521.42 353.7)"/>
<ellipse cx="514.25" cy="345.04" rx="3.47" ry="2.2" fill="#eccbec" opacity="0.6" transform="rotate(138.14 514.25 345.04)"/>
<ellipse cx="520.3" cy="335.18" rx="2.31" ry="1.59" fill="#eccbec" opacity="0.6" transform="rotate(86.04 520.3 335.18)"/>
<ellipse cx="482.65" cy="347.03" rx="3.37" ry="2.16" fill="#eccbec" opacity="0.6" transform="rotate(106.61 482.65 347.03)"/>
<ellipse cx="509.81" cy="352.64" rx="3.91" ry="2.97" fill="#eccbec" opacity="0.6" transform="rotate(34.23 509.81 352.64)"/>
<ellipse cx="519.64" cy="331.67" rx="3.61" ry="2.31" fill="#eccbec" opacity="0.6" transform="rotate(81.39 519.64 331.67)"/>
<ellipse cx="464.43" cy="335.59" rx="4.33" ry="4.19" fill="#e6bce6" opacity="0.6" transform="rotate(38.6 464.43 335.59)"/>
<ellipse cx="543.13" cy="344.77" rx="2.01" ry="1.51" fill="#e6bce6" opacity="0.6" transform="rotate(30.7 543.13 344.77)"/>
<ellipse cx="522.03" cy="327.89" rx="3.83" ry="2.89" fill="#eccbec" opacity="0.6" transform="rotate(37.34 522.03 327.89)"/>
<ellipse cx="467.09" cy="307.39" rx="2.88" ry="1.65" fill="#dca8dc" opacity="0.6" transform="rotate(67.24 467.09 307.39)"/>
<ellipse cx="522.3" cy="343.08" rx="4.43" ry="2.68" fill="#eccbec" opacity="0.6" transform="rotate(107.78 522.3 343.08)"/>
<ellipse cx="518.43" cy="346.31" rx="2.23" ry="2.15" fill="#e6bce6" opacity="0.6" transform="rotate(79.5 518.43 346.31)"/>
<ellipse cx="477.61" cy="317.96" rx="4.74" ry="3.05" fill="#eccbec" opacity="0.6" transform="rotate(13.72 477.61 317.96)"/>
<ellipse cx="480.02" cy="337.71" rx="2.26" ry="2.05" fill="#e6bce6" opacity="0.6" transform="rotate(174.46 480.02 337.71)"/>
<ellipse cx="463.95" cy="315.81" rx="3.64" ry="3.01" fill="#eccbec" opacity="0.6" transform="rotate(81.91 463.95 315.81)"/>
<ellipse cx="560.61" cy="334.04" rx="3.65" ry="1.86" fill="#eccbec" opacity="0.6" transform="rotate(149.47 560.61 334.04)"/>
<ellipse cx="520.1" cy="317.3" rx="2.38" ry="1.94" fill="#dca8dc" opacity="0.6" transform="rotate(124.98 520.1 317.3)"/>
<ellipse cx="466" cy="336" rx="4" ry="6" fill="#f6ecf4" opacity="0.85"/>
<ellipse cx="492" cy="327" rx="6" ry="5" fill="#f6ecf4" opacity="0.85"/>
<ellipse cx="521.5" cy="341.5" rx="6" ry="5" fill="#f6ecf4" opacity="0.85"/>
<ellipse cx="554.5" cy="331" rx="5" ry="5" fill="#f6ecf4" opacity="0.85"/>
<ellipse cx="543" cy="310.5" rx="5" ry="4.5" fill="#f6ecf4" opacity="0.85"/>
<ellipse cx="476" cy="352" rx="5" ry="3" fill="#f6ecf4" opacity="0.85"/>
<ellipse cx="530" cy="352" rx="6" ry="3" fill="#f6ecf4" opacity="0.85"/>
<circle cx="504.99" cy="341" r="0.61" fill="#b83a80"/>
<circle cx="509.27" cy="332.58" r="0.96" fill="#d0589a"/>
<circle cx="509.15" cy="332.82" r="1.04" fill="#c8488f"/>
<circle cx="513.13" cy="335.12" r="0.92" fill="#c8488f"/>
<circle cx="505.13" cy="340.96" r="1.02" fill="#d0589a"/>
<circle cx="511.68" cy="337.95" r="0.86" fill="#d0589a"/>
<circle cx="509.57" cy="337.13" r="0.61" fill="#cc5096"/>
<circle cx="509.14" cy="338.6" r="0.93" fill="#cc5096"/>
<circle cx="509.18" cy="339.29" r="0.76" fill="#cc5096"/>
<circle cx="509.89" cy="337.32" r="0.7" fill="#d0589a"/>
<circle cx="511.16" cy="338.35" r="0.73" fill="#d0589a"/>
<circle cx="511.29" cy="336.82" r="0.96" fill="#b83a80"/>
<circle cx="512.01" cy="336.46" r="0.67" fill="#d0589a"/>
<circle cx="508.3" cy="334.6" r="0.71" fill="#d0589a"/>
<circle cx="512.63" cy="336.92" r="0.72" fill="#cc5096"/>
<circle cx="509.95" cy="339.99" r="0.72" fill="#d0589a"/>
<circle cx="510.41" cy="338.82" r="0.65" fill="#c8488f"/>
<circle cx="514.34" cy="332.48" r="1.03" fill="#b83a80"/>
<circle cx="515.16" cy="330.97" r="0.81" fill="#cc5096"/>
<circle cx="509.32" cy="340.5" r="0.62" fill="#b83a80"/>
<circle cx="508.02" cy="332.68" r="0.97" fill="#c8488f"/>
<circle cx="508.17" cy="337.41" r="0.83" fill="#cc5096"/>
<circle cx="512.13" cy="334.94" r="0.75" fill="#c8488f"/>
<circle cx="507.73" cy="331.6" r="0.9" fill="#d0589a"/>
<circle cx="509.4" cy="338.64" r="0.84" fill="#d0589a"/>
<circle cx="506.83" cy="337.96" r="0.64" fill="#b83a80"/>
<circle cx="510.79" cy="340.37" r="1.02" fill="#c8488f"/>
<circle cx="510.99" cy="334.27" r="1.04" fill="#cc5096"/>
<circle cx="514.15" cy="339.39" r="0.9" fill="#c8488f"/>
<circle cx="516.01" cy="338.05" r="0.87" fill="#c8488f"/>
<circle cx="506.51" cy="315.29" r="0.97" fill="#b83a80"/>
<circle cx="504.92" cy="310.4" r="0.9" fill="#b83a80"/>
<circle cx="504.04" cy="312.97" r="0.97" fill="#c8488f"/>
<circle cx="507.61" cy="310.7" r="0.66" fill="#c8488f"/>
<circle cx="503.17" cy="313.77" r="0.94" fill="#cc5096"/>
<circle cx="506.49" cy="311.79" r="1" fill="#cc5096"/>
<circle cx="507.25" cy="309.05" r="0.81" fill="#b83a80"/>
<circle cx="506.34" cy="314.05" r="0.75" fill="#d0589a"/>
<circle cx="494.96" cy="312.15" r="0.97" fill="#b83a80"/>
<circle cx="501.35" cy="310.03" r="0.89" fill="#d0589a"/>
<circle cx="505.7" cy="317.09" r="0.92" fill="#cc5096"/>
<circle cx="501.81" cy="320.31" r="1.04" fill="#cc5096"/>
<circle cx="503.14" cy="314.36" r="0.83" fill="#c8488f"/>
<circle cx="504.06" cy="308.81" r="0.71" fill="#c8488f"/>
<circle cx="502.58" cy="306.83" r="0.63" fill="#cc5096"/>
<circle cx="507.81" cy="311.04" r="0.83" fill="#d0589a"/>
<circle cx="501.02" cy="313.41" r="0.8" fill="#c8488f"/>
<circle cx="498.89" cy="315.91" r="0.72" fill="#c8488f"/>
<circle cx="506.98" cy="314.49" r="0.79" fill="#cc5096"/>
<circle cx="497.58" cy="307.79" r="0.63" fill="#c8488f"/>
<circle cx="507.74" cy="310.76" r="0.67" fill="#d0589a"/>
<circle cx="501.81" cy="312.94" r="0.9" fill="#b83a80"/>
<circle cx="507.91" cy="308.99" r="0.83" fill="#d0589a"/>
<circle cx="510.49" cy="308.63" r="0.74" fill="#c8488f"/>
<circle cx="501.14" cy="313.59" r="1.03" fill="#d0589a"/>
<circle cx="500.39" cy="311.74" r="0.93" fill="#cc5096"/>
<circle cx="502.6" cy="313.84" r="0.88" fill="#cc5096"/>
<circle cx="500.62" cy="310.2" r="0.76" fill="#b83a80"/>
<circle cx="505.12" cy="312.03" r="0.6" fill="#d0589a"/>
<circle cx="507.24" cy="312.42" r="0.83" fill="#c8488f"/>
<circle cx="534.81" cy="308.78" r="1.02" fill="#c8488f"/>
<circle cx="538.88" cy="311.02" r="0.96" fill="#cc5096"/>
<circle cx="532.91" cy="310.26" r="0.62" fill="#d0589a"/>
<circle cx="530.1" cy="312.99" r="0.77" fill="#d0589a"/>
<circle cx="531.57" cy="306.52" r="0.87" fill="#d0589a"/>
<circle cx="539.64" cy="314.12" r="0.77" fill="#c8488f"/>
<circle cx="541.19" cy="312.77" r="0.62" fill="#d0589a"/>
<circle cx="532.67" cy="314.64" r="0.82" fill="#cc5096"/>
<circle cx="535.13" cy="317.98" r="0.94" fill="#d0589a"/>
<circle cx="533.25" cy="312.07" r="0.61" fill="#b83a80"/>
<circle cx="534.23" cy="313.33" r="0.92" fill="#d0589a"/>
<circle cx="533.71" cy="311.06" r="0.89" fill="#d0589a"/>
<circle cx="534.1" cy="315.06" r="1.04" fill="#b83a80"/>
<circle cx="533.1" cy="309.05" r="0.79" fill="#cc5096"/>
<circle cx="537.93" cy="311.61" r="0.89" fill="#b83a80"/>
<circle cx="537.51" cy="314.33" r="0.77" fill="#b83a80"/>
<circle cx="534.75" cy="313.37" r="0.76" fill="#cc5096"/>
<circle cx="538.13" cy="311.01" r="1.04" fill="#b83a80"/>
<circle cx="538.72" cy="308.42" r="0.97" fill="#b83a80"/>
<circle cx="540.06" cy="309.66" r="0.97" fill="#c8488f"/>
<circle cx="538.82" cy="312.02" r="0.93" fill="#d0589a"/>
<circle cx="537.39" cy="314.09" r="0.67" fill="#cc5096"/>
<circle cx="533.75" cy="311.91" r="0.84" fill="#b83a80"/>
<circle cx="536.95" cy="314.84" r="0.77" fill="#cc5096"/>
<circle cx="534.63" cy="308.6" r="0.86" fill="#d0589a"/>
<circle cx="533.97" cy="308.3" r="1.05" fill="#c8488f"/>
<circle cx="539.57" cy="309.4" r="0.63" fill="#c8488f"/>
<circle cx="531.42" cy="307.76" r="0.8" fill="#c8488f"/>
<circle cx="536.12" cy="311.2" r="0.62" fill="#b83a80"/>
<circle cx="534.73" cy="316.02" r="0.66" fill="#cc5096"/>
<circle cx="516.9" cy="328.27" r="0.91" fill="#d0589a"/>
<circle cx="517.73" cy="323.21" r="0.83" fill="#b83a80"/>
<circle cx="517.2" cy="324.68" r="0.77" fill="#cc5096"/>
<circle cx="520.43" cy="322.5" r="0.72" fill="#c8488f"/>
<circle cx="515.13" cy="325.9" r="0.87" fill="#d0589a"/>
<circle cx="517.03" cy="324.72" r="0.97" fill="#cc5096"/>
<circle cx="510.81" cy="327.7" r="0.87" fill="#b83a80"/>
<circle cx="516.89" cy="322.05" r="1.05" fill="#c8488f"/>
<circle cx="520.53" cy="323.11" r="0.71" fill="#b83a80"/>
<circle cx="519.65" cy="325.71" r="0.72" fill="#c8488f"/>
<circle cx="519.46" cy="324.88" r="0.81" fill="#d0589a"/>
<circle cx="522.39" cy="325.42" r="1.03" fill="#c8488f"/>
<circle cx="516.51" cy="327.68" r="0.99" fill="#cc5096"/>
<circle cx="515.17" cy="328.5" r="0.67" fill="#c8488f"/>
<circle cx="522.95" cy="328.49" r="0.77" fill="#c8488f"/>
<circle cx="520.8" cy="329.43" r="0.62" fill="#d0589a"/>
<circle cx="515.7" cy="328.01" r="0.86" fill="#d0589a"/>
<circle cx="515.66" cy="326.19" r="0.6" fill="#c8488f"/>
<circle cx="516.33" cy="323.13" r="0.92" fill="#cc5096"/>
<circle cx="520.48" cy="328.89" r="1" fill="#cc5096"/>
<circle cx="520.6" cy="331.59" r="0.83" fill="#b83a80"/>
<circle cx="517.41" cy="330.45" r="0.87" fill="#d0589a"/>
<circle cx="518.63" cy="324.41" r="0.81" fill="#c8488f"/>
<circle cx="518.59" cy="324.52" r="0.96" fill="#d0589a"/>
<circle cx="522.37" cy="323.96" r="0.97" fill="#d0589a"/>
<circle cx="521.58" cy="325.13" r="0.66" fill="#cc5096"/>
<circle cx="516.17" cy="323.82" r="0.99" fill="#d0589a"/>
<circle cx="517.59" cy="332.17" r="0.79" fill="#b83a80"/>
<circle cx="518.02" cy="324.77" r="0.88" fill="#cc5096"/>
<circle cx="516.81" cy="330.21" r="0.78" fill="#b83a80"/>
<circle cx="535.26" cy="314.68" r="0.78" fill="#c8488f"/>
<circle cx="535.65" cy="317.32" r="0.8" fill="#cc5096"/>
<circle cx="540" cy="318.12" r="0.86" fill="#d0589a"/>
<circle cx="540" cy="313.8" r="0.92" fill="#c8488f"/>
<circle cx="536.54" cy="310.28" r="0.7" fill="#cc5096"/>
<circle cx="535.83" cy="312.91" r="0.98" fill="#c8488f"/>
<circle cx="539.54" cy="312.62" r="0.85" fill="#c8488f"/>
<circle cx="542" cy="314.87" r="0.96" fill="#b83a80"/>
<circle cx="535.86" cy="313.43" r="0.6" fill="#b83a80"/>
<circle cx="540.56" cy="316.41" r="0.62" fill="#cc5096"/>
<circle cx="537" cy="313.62" r="0.82" fill="#cc5096"/>
<circle cx="542.54" cy="315.69" r="0.96" fill="#cc5096"/>
<circle cx="534.8" cy="310.67" r="0.93" fill="#b83a80"/>
<circle cx="538.61" cy="313.8" r="0.95" fill="#cc5096"/>
<circle cx="536.93" cy="316.45" r="0.68" fill="#cc5096"/>
<circle cx="532.95" cy="314.41" r="0.68" fill="#b83a80"/>
<circle cx="534.74" cy="314.1" r="0.93" fill="#cc5096"/>
<circle cx="536.16" cy="313.82" r="0.75" fill="#c8488f"/>
<circle cx="540.74" cy="314.69" r="0.72" fill="#c8488f"/>
<circle cx="540.93" cy="312.81" r="0.68" fill="#c8488f"/>
<circle cx="538.2" cy="316.08" r="0.83" fill="#cc5096"/>
<circle cx="533.44" cy="312.84" r="0.85" fill="#d0589a"/>
<circle cx="534.13" cy="315.11" r="0.84" fill="#d0589a"/>
<circle cx="539.55" cy="312.85" r="0.81" fill="#b83a80"/>
<circle cx="532.85" cy="310.47" r="0.99" fill="#b83a80"/>
<circle cx="534.47" cy="312.73" r="0.74" fill="#cc5096"/>
<circle cx="541.94" cy="316.18" r="0.82" fill="#cc5096"/>
<circle cx="538.11" cy="310.2" r="0.91" fill="#cc5096"/>
<circle cx="532.28" cy="315.41" r="0.76" fill="#c8488f"/>
<circle cx="536.56" cy="317.52" r="1.03" fill="#b83a80"/>
<circle cx="466.49" cy="344.69" r="0.83" fill="#c8488f"/>
<circle cx="462.42" cy="344.47" r="1.01" fill="#b83a80"/>
<circle cx="455.78" cy="347.11" r="0.62" fill="#cc5096"/>
<circle cx="464.29" cy="350.42" r="0.84" fill="#c8488f"/>
<circle cx="467.89" cy="342.42" r="0.93" fill="#c8488f"/>
<circle cx="468.16" cy="349.22" r="0.95" fill="#cc5096"/>
<circle cx="461.15" cy="348.19" r="0.98" fill="#b83a80"/>
<circle cx="457.6" cy="347.21" r="0.71" fill="#cc5096"/>
<circle cx="459.05" cy="349.7" r="0.85" fill="#d0589a"/>
<circle cx="463.14" cy="343.84" r="0.65" fill="#cc5096"/>
<circle cx="462.16" cy="348.13" r="0.81" fill="#cc5096"/>
<circle cx="465.55" cy="342.47" r="0.98" fill="#cc5096"/>
<circle cx="463.44" cy="345.5" r="1.01" fill="#b83a80"/>
<circle cx="461.19" cy="344.69" r="0.9" fill="#c8488f"/>
<circle cx="460.6" cy="345.48" r="0.73" fill="#cc5096"/>
<circle cx="464.01" cy="341.73" r="0.73" fill="#b83a80"/>
<circle cx="462.73" cy="345.96" r="0.81" fill="#d0589a"/>
<circle cx="459.84" cy="346.5" r="0.86" fill="#b83a80"/>
<circle cx="463.77" cy="344.32" r="0.81" fill="#d0589a"/>
<circle cx="465.52" cy="341.96" r="0.62" fill="#c8488f"/>
<circle cx="463.43" cy="349.25" r="0.86" fill="#d0589a"/>
<circle cx="465.81" cy="348.63" r="0.89" fill="#cc5096"/>
<circle cx="461.91" cy="341.74" r="1.01" fill="#c8488f"/>
<circle cx="458.57" cy="343.7" r="0.98" fill="#cc5096"/>
<circle cx="469.88" cy="344.47" r="0.86" fill="#c8488f"/>
<circle cx="460.3" cy="342.13" r="0.78" fill="#b83a80"/>
<circle cx="468.38" cy="345.44" r="0.77" fill="#c8488f"/>
<circle cx="462.33" cy="343.29" r="0.89" fill="#cc5096"/>
<circle cx="458.68" cy="346.72" r="0.89" fill="#b83a80"/>
<circle cx="465.52" cy="349.58" r="0.9" fill="#c8488f"/>
<circle cx="551.57" cy="341.48" r="0.9" fill="#b83a80"/>
<circle cx="554.97" cy="339.78" r="0.94" fill="#cc5096"/>
<circle cx="547.49" cy="342.98" r="1.02" fill="#b83a80"/>
<circle cx="550.49" cy="342.45" r="0.69" fill="#cc5096"/>
<circle cx="552.37" cy="342.83" r="0.81" fill="#c8488f"/>
<circle cx="554.09" cy="342.3" r="0.96" fill="#b83a80"/>
<circle cx="554.32" cy="344.19" r="0.66" fill="#b83a80"/>
<circle cx="549.06" cy="341.8" r="0.95" fill="#b83a80"/>
<circle cx="551.23" cy="339.38" r="0.72" fill="#b83a80"/>
<circle cx="551.62" cy="344.34" r="0.98" fill="#d0589a"/>
<circle cx="556.25" cy="342.63" r="0.68" fill="#c8488f"/>
<circle cx="556.87" cy="340.72" r="0.84" fill="#b83a80"/>
<circle cx="551.23" cy="346.55" r="0.66" fill="#cc5096"/>
<circle cx="551.29" cy="336.13" r="1.03" fill="#b83a80"/>
<circle cx="551.73" cy="335.77" r="0.77" fill="#c8488f"/>
<circle cx="561.55" cy="339.83" r="0.9" fill="#b83a80"/>
<circle cx="558.85" cy="336.59" r="0.78" fill="#d0589a"/>
<circle cx="556.52" cy="340.3" r="0.99" fill="#b83a80"/>
<circle cx="558.83" cy="340.94" r="0.92" fill="#c8488f"/>
<circle cx="555.99" cy="341.85" r="1.03" fill="#cc5096"/>
<circle cx="553.18" cy="338.66" r="1.01" fill="#c8488f"/>
<circle cx="546.53" cy="342.22" r="0.98" fill="#b83a80"/>
<circle cx="555.97" cy="340.14" r="0.64" fill="#cc5096"/>
<circle cx="559.85" cy="345.42" r="0.83" fill="#b83a80"/>
<circle cx="556.59" cy="339.59" r="0.83" fill="#c8488f"/>
<circle cx="552.64" cy="349.06" r="0.63" fill="#d0589a"/>
<circle cx="554.15" cy="340.88" r="1.04" fill="#b83a80"/>
<circle cx="554.95" cy="341.76" r="0.68" fill="#c8488f"/>
<circle cx="553.74" cy="340.16" r="0.98" fill="#cc5096"/>
<circle cx="551.87" cy="339.46" r="0.61" fill="#cc5096"/>
<circle cx="513.7" cy="323.68" r="0.85" fill="#d0589a"/>
<circle cx="517.26" cy="318.13" r="0.7" fill="#d0589a"/>
<circle cx="516.21" cy="323.01" r="0.99" fill="#b83a80"/>
<circle cx="514.02" cy="323.23" r="0.86" fill="#cc5096"/>
<circle cx="515.28" cy="322.59" r="0.83" fill="#d0589a"/>
<circle cx="513.51" cy="319.46" r="0.72" fill="#cc5096"/>
<circle cx="522.36" cy="321.82" r="1.03" fill="#b83a80"/>
<circle cx="514.09" cy="323.54" r="1.02" fill="#b83a80"/>
<circle cx="514" cy="319.84" r="0.66" fill="#c8488f"/>
<circle cx="515.81" cy="326.34" r="0.76" fill="#c8488f"/>
<circle cx="512.85" cy="322.24" r="0.96" fill="#b83a80"/>
<circle cx="513.02" cy="315.65" r="0.89" fill="#d0589a"/>
<circle cx="511.14" cy="324.72" r="0.96" fill="#d0589a"/>
<circle cx="511.89" cy="321.68" r="0.78" fill="#c8488f"/>
<circle cx="515.6" cy="321.76" r="0.62" fill="#cc5096"/>
<circle cx="516.72" cy="320.55" r="0.77" fill="#cc5096"/>
<circle cx="518.98" cy="323.08" r="0.74" fill="#b83a80"/>
<circle cx="512.34" cy="325.69" r="1.02" fill="#c8488f"/>
<circle cx="517.27" cy="321.53" r="0.91" fill="#d0589a"/>
<circle cx="513.53" cy="323.65" r="1.02" fill="#d0589a"/>
<circle cx="513.98" cy="323.58" r="0.81" fill="#cc5096"/>
<circle cx="516.17" cy="319.15" r="0.65" fill="#d0589a"/>
<circle cx="520.23" cy="323.01" r="0.89" fill="#b83a80"/>
<circle cx="517.67" cy="326.02" r="0.73" fill="#b83a80"/>
<circle cx="515.33" cy="324.2" r="0.95" fill="#cc5096"/>
<circle cx="511.37" cy="318.91" r="0.95" fill="#cc5096"/>
<circle cx="512.79" cy="319.61" r="0.98" fill="#cc5096"/>
<circle cx="512.35" cy="326.99" r="0.76" fill="#b83a80"/>
<circle cx="518.3" cy="319.02" r="0.9" fill="#d0589a"/>
<circle cx="513.55" cy="322.07" r="0.89" fill="#b83a80"/>
<circle cx="466.72" cy="330.98" r="1.01" fill="#cc5096"/>
<circle cx="467.8" cy="330.8" r="0.8" fill="#d0589a"/>
<circle cx="471.67" cy="327.42" r="1" fill="#c8488f"/>
<circle cx="471.74" cy="332.75" r="0.94" fill="#c8488f"/>
<circle cx="469.56" cy="331.6" r="0.83" fill="#d0589a"/>
<circle cx="473.19" cy="329.56" r="1.03" fill="#c8488f"/>
<circle cx="474.65" cy="328.23" r="1.02" fill="#d0589a"/>
<circle cx="470.12" cy="328.62" r="1.02" fill="#c8488f"/>
<circle cx="477.07" cy="327.25" r="0.63" fill="#d0589a"/>
<circle cx="469.84" cy="326.73" r="0.9" fill="#b83a80"/>
<circle cx="473.43" cy="327.7" r="0.87" fill="#c8488f"/>
<circle cx="467.72" cy="332.67" r="0.82" fill="#b83a80"/>
<circle cx="468.81" cy="336.2" r="0.93" fill="#cc5096"/>
<circle cx="468.8" cy="328.43" r="0.81" fill="#d0589a"/>
<circle cx="469.56" cy="331.33" r="0.81" fill="#cc5096"/>
<circle cx="477.68" cy="333.13" r="0.64" fill="#d0589a"/>
<circle cx="468.28" cy="324.45" r="0.76" fill="#b83a80"/>
<circle cx="472.29" cy="331.02" r="0.86" fill="#b83a80"/>
<circle cx="470.6" cy="325.91" r="0.71" fill="#cc5096"/>
<circle cx="467.53" cy="331.84" r="0.92" fill="#c8488f"/>
<circle cx="471.52" cy="330.65" r="0.67" fill="#d0589a"/>
<circle cx="476.21" cy="335.95" r="0.73" fill="#b83a80"/>
<circle cx="469.04" cy="334.2" r="0.77" fill="#cc5096"/>
<circle cx="466.13" cy="332.13" r="1" fill="#b83a80"/>
<circle cx="472.45" cy="326.84" r="0.89" fill="#c8488f"/>
<circle cx="471.93" cy="330.53" r="0.91" fill="#cc5096"/>
<circle cx="474.37" cy="331.49" r="0.79" fill="#cc5096"/>
<circle cx="469.15" cy="329.05" r="0.97" fill="#d0589a"/>
<circle cx="471.48" cy="331.29" r="0.99" fill="#d0589a"/>
<circle cx="468.58" cy="324.78" r="1.02" fill="#cc5096"/>
<circle cx="521.52" cy="313.24" r="0.84" fill="#b83a80"/>
<circle cx="524.53" cy="317.52" r="0.95" fill="#c8488f"/>
<circle cx="523.44" cy="318" r="1.03" fill="#c8488f"/>
<circle cx="519.86" cy="316.54" r="0.66" fill="#c8488f"/>
<circle cx="525.04" cy="312.75" r="0.79" fill="#d0589a"/>
<circle cx="522.61" cy="315.9" r="0.76" fill="#cc5096"/>
<circle cx="528.13" cy="317.22" r="0.92" fill="#c8488f"/>
<circle cx="516.85" cy="318.2" r="0.96" fill="#c8488f"/>
<circle cx="519.26" cy="318.12" r="0.73" fill="#d0589a"/>
<circle cx="522.18" cy="321.05" r="0.8" fill="#d0589a"/>
<circle cx="524.76" cy="322.6" r="0.8" fill="#cc5096"/>
<circle cx="526.66" cy="321.31" r="0.8" fill="#cc5096"/>
<circle cx="526" cy="319.77" r="0.86" fill="#c8488f"/>
<circle cx="528.03" cy="315.78" r="0.94" fill="#d0589a"/>
<circle cx="529.27" cy="321.78" r="0.77" fill="#c8488f"/>
<circle cx="520.2" cy="315" r="0.75" fill="#d0589a"/>
<circle cx="526.39" cy="314.73" r="0.78" fill="#c8488f"/>
<circle cx="526.29" cy="313.12" r="1.04" fill="#c8488f"/>
<circle cx="520.49" cy="317.03" r="0.82" fill="#c8488f"/>
<circle cx="525.26" cy="311.47" r="0.74" fill="#b83a80"/>
<circle cx="526.31" cy="317.52" r="0.8" fill="#b83a80"/>
<circle cx="527.81" cy="314.83" r="0.88" fill="#d0589a"/>
<circle cx="522.65" cy="312.15" r="0.64" fill="#b83a80"/>
<circle cx="522.82" cy="312.9" r="0.79" fill="#c8488f"/>
<circle cx="520.53" cy="317.64" r="0.86" fill="#cc5096"/>
<circle cx="524.93" cy="319.55" r="1.03" fill="#b83a80"/>
<circle cx="519.38" cy="316.25" r="0.61" fill="#d0589a"/>
<circle cx="521.21" cy="310.07" r="0.85" fill="#b83a80"/>
<circle cx="521.59" cy="317.04" r="0.8" fill="#d0589a"/>
<circle cx="528.14" cy="316.05" r="0.62" fill="#cc5096"/>
<circle cx="471.13" cy="351.01" r="1" fill="#b83a80"/>
<circle cx="468.54" cy="352.19" r="0.96" fill="#d0589a"/>
<circle cx="465.89" cy="348.23" r="0.87" fill="#b83a80"/>
<circle cx="466.64" cy="350.39" r="0.75" fill="#c8488f"/>
<circle cx="466.23" cy="350.83" r="0.81" fill="#b83a80"/>
<circle cx="472.32" cy="351.96" r="0.79" fill="#c8488f"/>
<circle cx="473.75" cy="347.87" r="1.01" fill="#c8488f"/>
<circle cx="469.39" cy="348.3" r="1.03" fill="#b83a80"/>
<circle cx="468.74" cy="346.7" r="0.91" fill="#d0589a"/>
<circle cx="471.39" cy="348.58" r="1.05" fill="#cc5096"/>
<circle cx="464.76" cy="352.6" r="0.92" fill="#cc5096"/>
<circle cx="465.01" cy="345.68" r="0.88" fill="#d0589a"/>
<circle cx="470.07" cy="352.35" r="0.86" fill="#c8488f"/>
<circle cx="470.16" cy="349.16" r="0.88" fill="#b83a80"/>
<circle cx="473.84" cy="346.89" r="0.8" fill="#d0589a"/>
<circle cx="465.88" cy="347.83" r="0.95" fill="#b83a80"/>
<circle cx="468.7" cy="347.53" r="0.76" fill="#d0589a"/>
<circle cx="468.12" cy="344.44" r="0.87" fill="#b83a80"/>
<circle cx="467.37" cy="348.38" r="0.64" fill="#d0589a"/>
<circle cx="465.92" cy="348.46" r="0.6" fill="#d0589a"/>
<circle cx="466.22" cy="345.94" r="0.72" fill="#d0589a"/>
<circle cx="465.66" cy="344.59" r="0.81" fill="#cc5096"/>
<circle cx="469.34" cy="352.12" r="0.62" fill="#cc5096"/>
<circle cx="466.94" cy="351" r="0.87" fill="#c8488f"/>
<circle cx="470.08" cy="347.97" r="0.69" fill="#b83a80"/>
<circle cx="471.24" cy="354.97" r="0.94" fill="#b83a80"/>
<circle cx="475.43" cy="345.45" r="0.86" fill="#c8488f"/>
<circle cx="470.71" cy="348.32" r="0.61" fill="#d0589a"/>
<circle cx="465.75" cy="342.56" r="0.9" fill="#cc5096"/>
<circle cx="470.1" cy="350.91" r="0.88" fill="#b83a80"/>
<circle cx="488.11" cy="315.42" r="0.89" fill="#b83a80"/>
<circle cx="483.11" cy="318.54" r="0.81" fill="#b83a80"/>
<circle cx="479.19" cy="319.15" r="0.62" fill="#c8488f"/>
<circle cx="478.73" cy="320.68" r="1.02" fill="#d0589a"/>
<circle cx="477.86" cy="318.18" r="0.65" fill="#b83a80"/>
<circle cx="481.49" cy="320.59" r="0.96" fill="#b83a80"/>
<circle cx="480.84" cy="318.95" r="0.71" fill="#c8488f"/>
<circle cx="480.06" cy="319.17" r="0.64" fill="#b83a80"/>
<circle cx="486.23" cy="322.85" r="0.69" fill="#cc5096"/>
<circle cx="485.17" cy="325.96" r="0.62" fill="#c8488f"/>
<circle cx="484.39" cy="320.71" r="0.92" fill="#c8488f"/>
<circle cx="478.04" cy="318.15" r="0.73" fill="#cc5096"/>
<circle cx="478.19" cy="325.56" r="0.71" fill="#b83a80"/>
<circle cx="479.25" cy="322.68" r="0.91" fill="#d0589a"/>
<circle cx="483.65" cy="324.17" r="0.75" fill="#b83a80"/>
<circle cx="478.95" cy="319.31" r="0.72" fill="#cc5096"/>
<circle cx="475.85" cy="321.24" r="0.78" fill="#c8488f"/>
<circle cx="480.37" cy="315.01" r="0.69" fill="#cc5096"/>
<circle cx="481.32" cy="317.64" r="0.94" fill="#cc5096"/>
<circle cx="485.45" cy="319.29" r="0.65" fill="#c8488f"/>
<circle cx="481.69" cy="316.97" r="0.62" fill="#b83a80"/>
<circle cx="480.2" cy="320.88" r="0.96" fill="#c8488f"/>
<circle cx="489.21" cy="319.23" r="0.78" fill="#c8488f"/>
<circle cx="482.35" cy="315.85" r="0.74" fill="#d0589a"/>
<circle cx="473.14" cy="317.1" r="0.62" fill="#c8488f"/>
<circle cx="480.67" cy="318.95" r="0.8" fill="#b83a80"/>
<circle cx="480.42" cy="321.53" r="1.02" fill="#cc5096"/>
<circle cx="481.88" cy="316.31" r="0.65" fill="#b83a80"/>
<circle cx="479.85" cy="319.02" r="1.03" fill="#cc5096"/>
<circle cx="475.58" cy="319.13" r="0.61" fill="#d0589a"/>
<circle cx="528.9" cy="343.38" r="0.78" fill="#cc5096"/>
<circle cx="531.09" cy="350.2" r="0.97" fill="#d0589a"/>
<circle cx="529.65" cy="348.47" r="0.61" fill="#d0589a"/>
<circle cx="525.79" cy="349.84" r="0.88" fill="#d0589a"/>
<circle cx="525.22" cy="349.18" r="0.77" fill="#d0589a"/>
<circle cx="528.2" cy="341.44" r="0.65" fill="#d0589a"/>
<circle cx="527.15" cy="347.51" r="0.99" fill="#c8488f"/>
<circle cx="533.47" cy="350.66" r="0.83" fill="#b83a80"/>
<circle cx="531.28" cy="343.97" r="0.74" fill="#cc5096"/>
<circle cx="528.26" cy="346.23" r="0.69" fill="#cc5096"/>
<circle cx="525.01" cy="342.91" r="0.74" fill="#c8488f"/>
<circle cx="530.83" cy="345.75" r="0.65" fill="#d0589a"/>
<circle cx="527.44" cy="348.09" r="0.89" fill="#c8488f"/>
<circle cx="527.6" cy="340.62" r="0.71" fill="#b83a80"/>
<circle cx="527.05" cy="347.39" r="0.79" fill="#b83a80"/>
<circle cx="529.07" cy="346.55" r="1.01" fill="#b83a80"/>
<circle cx="531.15" cy="353.19" r="0.88" fill="#b83a80"/>
<circle cx="528.93" cy="348.03" r="0.96" fill="#b83a80"/>
<circle cx="528.63" cy="346.31" r="0.83" fill="#cc5096"/>
<circle cx="531.34" cy="346.07" r="0.61" fill="#d0589a"/>
<circle cx="531.98" cy="342.94" r="0.99" fill="#cc5096"/>
<circle cx="524.15" cy="345.86" r="1.02" fill="#b83a80"/>
<circle cx="528.58" cy="346.76" r="0.76" fill="#b83a80"/>
<circle cx="530.98" cy="349.53" r="0.9" fill="#c8488f"/>
<circle cx="527.1" cy="348.75" r="0.97" fill="#d0589a"/>
<circle cx="526.96" cy="344.33" r="0.94" fill="#b83a80"/>
<circle cx="529.41" cy="347.7" r="1.01" fill="#b83a80"/>
<circle cx="524.7" cy="346.44" r="0.62" fill="#c8488f"/>
<circle cx="527.03" cy="348.11" r="0.88" fill="#cc5096"/>
<circle cx="536.88" cy="345.43" r="0.82" fill="#cc5096"/>
<circle cx="490.98" cy="327.75" r="0.68" fill="#d0589a"/>
<circle cx="485.23" cy="328.48" r="1.04" fill="#d0589a"/>
<circle cx="488.3" cy="327.49" r="0.69" fill="#d0589a"/>
<circle cx="488.94" cy="332.07" r="0.61" fill="#cc5096"/>
<circle cx="486.43" cy="326.45" r="0.77" fill="#cc5096"/>
<circle cx="491.45" cy="328.12" r="0.85" fill="#cc5096"/>
<circle cx="494.85" cy="333.86" r="0.79" fill="#cc5096"/>
<circle cx="485.9" cy="333.07" r="0.85" fill="#c8488f"/>
<circle cx="483.43" cy="330.68" r="1.02" fill="#cc5096"/>
<circle cx="489.24" cy="327.33" r="0.93" fill="#b83a80"/>
<circle cx="487.57" cy="331.28" r="0.66" fill="#d0589a"/>
<circle cx="486.53" cy="332.19" r="0.85" fill="#d0589a"/>
<circle cx="491.08" cy="327.87" r="0.93" fill="#d0589a"/>
<circle cx="489.95" cy="327.48" r="1" fill="#c8488f"/>
<circle cx="487.41" cy="333.47" r="1.03" fill="#cc5096"/>
<circle cx="490.08" cy="327.69" r="0.75" fill="#c8488f"/>
<circle cx="487.61" cy="332.18" r="0.98" fill="#d0589a"/>
<circle cx="488.21" cy="327.94" r="0.95" fill="#cc5096"/>
<circle cx="482.91" cy="336.93" r="0.94" fill="#d0589a"/>
<circle cx="492.72" cy="330.64" r="0.88" fill="#cc5096"/>
<circle cx="487.03" cy="331.33" r="0.72" fill="#b83a80"/>
<circle cx="486.26" cy="329.25" r="1.02" fill="#d0589a"/>
<circle cx="490.09" cy="326.88" r="0.78" fill="#d0589a"/>
<circle cx="489" cy="329.81" r="0.71" fill="#cc5096"/>
<circle cx="484.44" cy="331.34" r="1.02" fill="#c8488f"/>
<circle cx="488.52" cy="331.67" r="0.78" fill="#d0589a"/>
<circle cx="489.83" cy="331.43" r="0.77" fill="#cc5096"/>
<circle cx="487.67" cy="327.66" r="0.93" fill="#b83a80"/>
<circle cx="480.8" cy="332.17" r="0.84" fill="#d0589a"/>
<circle cx="491.26" cy="328.85" r="1.02" fill="#c8488f"/>
<circle cx="492.31" cy="328.19" r="0.63" fill="#cc5096"/>
<circle cx="497.66" cy="329.34" r="0.71" fill="#cc5096"/>
<circle cx="499.76" cy="325.21" r="0.97" fill="#c8488f"/>
<circle cx="497.22" cy="324.74" r="0.6" fill="#cc5096"/>
<circle cx="500.1" cy="323.76" r="0.79" fill="#b83a80"/>
<circle cx="502.94" cy="326.24" r="0.75" fill="#cc5096"/>
<circle cx="498.06" cy="324.52" r="0.69" fill="#d0589a"/>
<circle cx="495.07" cy="325.89" r="0.86" fill="#b83a80"/>
<circle cx="495.21" cy="330.66" r="0.79" fill="#c8488f"/>
<circle cx="503.33" cy="329.24" r="0.64" fill="#b83a80"/>
<circle cx="499.68" cy="329.43" r="0.84" fill="#b83a80"/>
<circle cx="498.43" cy="335.35" r="0.99" fill="#cc5096"/>
<circle cx="491.33" cy="329.49" r="1.03" fill="#d0589a"/>
<circle cx="494.74" cy="327.63" r="0.9" fill="#d0589a"/>
<circle cx="497.08" cy="320.57" r="0.74" fill="#cc5096"/>
<circle cx="501.52" cy="332.4" r="0.9" fill="#cc5096"/>
<circle cx="497.68" cy="332.18" r="0.61" fill="#cc5096"/>
<circle cx="504.88" cy="326.24" r="0.63" fill="#b83a80"/>
<circle cx="499.64" cy="327.38" r="0.89" fill="#c8488f"/>
<circle cx="500.27" cy="325.48" r="1" fill="#cc5096"/>
<circle cx="505.62" cy="327.65" r="0.84" fill="#c8488f"/>
<circle cx="498.82" cy="324.75" r="0.89" fill="#d0589a"/>
<circle cx="499.22" cy="327" r="0.75" fill="#cc5096"/>
<circle cx="498.18" cy="319.77" r="0.84" fill="#b83a80"/>
<circle cx="496.92" cy="325.52" r="0.68" fill="#b83a80"/>
<circle cx="495.83" cy="324.44" r="0.94" fill="#cc5096"/>
<circle cx="503.7" cy="330.83" r="0.9" fill="#c8488f"/>
<circle cx="497.21" cy="329.39" r="0.85" fill="#b83a80"/>
<circle cx="495.29" cy="331.07" r="0.88" fill="#d0589a"/>
<circle cx="500.56" cy="327.45" r="0.84" fill="#c8488f"/>
<circle cx="487.78" cy="315.59" r="1.02" fill="#c8488f"/>
<circle cx="491.23" cy="311.97" r="0.8" fill="#b83a80"/>
<circle cx="493.36" cy="307.88" r="0.84" fill="#d0589a"/>
<circle cx="487.43" cy="311.37" r="0.66" fill="#c8488f"/>
<circle cx="486.09" cy="308.97" r="0.68" fill="#d0589a"/>
<circle cx="492.63" cy="311.5" r="1.03" fill="#d0589a"/>
<circle cx="485.73" cy="309.65" r="0.94" fill="#b83a80"/>
<circle cx="492.09" cy="311.7" r="0.92" fill="#d0589a"/>
<circle cx="495.8" cy="312.57" r="0.97" fill="#c8488f"/>
<circle cx="492.92" cy="313.18" r="0.76" fill="#d0589a"/>
<circle cx="490.98" cy="311.85" r="0.85" fill="#c8488f"/>
<circle cx="492.39" cy="307.14" r="0.83" fill="#b83a80"/>
<circle cx="489.49" cy="314.26" r="0.97" fill="#cc5096"/>
<circle cx="488.59" cy="313.27" r="0.8" fill="#b83a80"/>
<circle cx="491.79" cy="310.91" r="1.03" fill="#cc5096"/>
<circle cx="490.01" cy="310.28" r="0.9" fill="#b83a80"/>
<circle cx="489.87" cy="311.33" r="0.8" fill="#b83a80"/>
<circle cx="486.98" cy="311.42" r="0.69" fill="#cc5096"/>
<circle cx="491.26" cy="311.84" r="1.03" fill="#d0589a"/>
<circle cx="494.5" cy="314.93" r="0.68" fill="#c8488f"/>
<circle cx="498.67" cy="307.49" r="0.86" fill="#cc5096"/>
<circle cx="490.45" cy="311.88" r="0.61" fill="#b83a80"/>
<circle cx="491.83" cy="311.82" r="0.75" fill="#d0589a"/>
<circle cx="494.33" cy="312.81" r="1.04" fill="#c8488f"/>
<circle cx="485.76" cy="313.4" r="1" fill="#d0589a"/>
<circle cx="490.76" cy="315.83" r="1" fill="#b83a80"/>
<circle cx="492.62" cy="311.14" r="1.04" fill="#d0589a"/>
<circle cx="490.87" cy="311.26" r="0.65" fill="#d0589a"/>
<circle cx="488.08" cy="311.12" r="0.98" fill="#c8488f"/>
<circle cx="489.59" cy="314.24" r="0.85" fill="#b83a80"/>
<circle cx="501.3" cy="354.03" r="0.6" fill="#cc5096"/>
<circle cx="506.03" cy="356.01" r="0.72" fill="#c8488f"/>
<circle cx="505.09" cy="356.99" r="0.75" fill="#cc5096"/>
<circle cx="500.34" cy="353.53" r="0.64" fill="#c8488f"/>
<circle cx="500.04" cy="359.06" r="0.77" fill="#d0589a"/>
<circle cx="502.75" cy="351.81" r="1" fill="#c8488f"/>
<circle cx="499.97" cy="356.8" r="0.74" fill="#cc5096"/>
<circle cx="500.4" cy="355.68" r="1.01" fill="#c8488f"/>
<circle cx="500.61" cy="352.54" r="0.63" fill="#b83a80"/>
<circle cx="501.72" cy="351.34" r="0.7" fill="#cc5096"/>
<circle cx="503.53" cy="357.55" r="1.05" fill="#d0589a"/>
<circle cx="507.62" cy="354.29" r="0.88" fill="#b83a80"/>
<circle cx="505.04" cy="354.34" r="0.83" fill="#c8488f"/>
<circle cx="506.55" cy="350.88" r="0.93" fill="#cc5096"/>
<circle cx="506.79" cy="355.6" r="0.65" fill="#d0589a"/>
<circle cx="504.19" cy="354.32" r="0.88" fill="#d0589a"/>
<circle cx="505.11" cy="358.43" r="0.79" fill="#c8488f"/>
<circle cx="506.02" cy="354.44" r="1" fill="#d0589a"/>
<circle cx="507.91" cy="356.31" r="0.85" fill="#c8488f"/>
<circle cx="505.32" cy="354.15" r="0.72" fill="#cc5096"/>
<circle cx="498.61" cy="353.84" r="0.84" fill="#cc5096"/>
<circle cx="502.61" cy="356.04" r="0.92" fill="#cc5096"/>
<circle cx="505.54" cy="355.07" r="0.61" fill="#d0589a"/>
<circle cx="498.4" cy="356.2" r="0.9" fill="#d0589a"/>
<circle cx="500.24" cy="356.37" r="0.83" fill="#c8488f"/>
<circle cx="506.07" cy="351.09" r="0.89" fill="#c8488f"/>
<circle cx="505.92" cy="351.32" r="0.99" fill="#b83a80"/>
<circle cx="507.28" cy="348.82" r="0.79" fill="#b83a80"/>
<circle cx="501.63" cy="354.4" r="0.77" fill="#c8488f"/>
<circle cx="501.18" cy="353.22" r="0.65" fill="#c8488f"/>
<circle cx="529.85" cy="349.56" r="0.9" fill="#cc5096"/>
<circle cx="525.76" cy="344.77" r="0.62" fill="#cc5096"/>
<circle cx="527.06" cy="351.84" r="0.85" fill="#cc5096"/>
<circle cx="523.59" cy="340.57" r="0.68" fill="#cc5096"/>
<circle cx="530.59" cy="347.12" r="1" fill="#b83a80"/>
<circle cx="525.7" cy="346" r="0.78" fill="#d0589a"/>
<circle cx="527.12" cy="346.94" r="0.96" fill="#d0589a"/>
<circle cx="524.71" cy="343.19" r="0.89" fill="#cc5096"/>
<circle cx="530.64" cy="349.66" r="0.96" fill="#cc5096"/>
<circle cx="523.47" cy="346.64" r="0.76" fill="#b83a80"/>
<circle cx="526.1" cy="343.92" r="0.8" fill="#c8488f"/>
<circle cx="533.41" cy="347.34" r="1.04" fill="#cc5096"/>
<circle cx="529.73" cy="346.67" r="0.88" fill="#d0589a"/>
<circle cx="529.19" cy="346.47" r="0.74" fill="#b83a80"/>
<circle cx="530.74" cy="344.89" r="0.89" fill="#b83a80"/>
<circle cx="529.26" cy="351.28" r="0.72" fill="#d0589a"/>
<circle cx="531.54" cy="345.43" r="1" fill="#d0589a"/>
<circle cx="527.15" cy="349.72" r="0.86" fill="#c8488f"/>
<circle cx="525.08" cy="347.59" r="0.61" fill="#d0589a"/>
<circle cx="529.48" cy="342.6" r="0.94" fill="#b83a80"/>
<circle cx="529.46" cy="345.99" r="0.82" fill="#cc5096"/>
<circle cx="529.24" cy="346" r="0.77" fill="#d0589a"/>
<circle cx="532.96" cy="344.93" r="0.74" fill="#cc5096"/>
<circle cx="528.34" cy="347.77" r="0.61" fill="#c8488f"/>
<circle cx="523.37" cy="341.36" r="0.76" fill="#d0589a"/>
<circle cx="526.06" cy="351.34" r="0.93" fill="#cc5096"/>
<circle cx="529.67" cy="345.74" r="1.02" fill="#cc5096"/>
<circle cx="523.9" cy="339.99" r="0.66" fill="#cc5096"/>
<circle cx="525.12" cy="345.88" r="0.75" fill="#b83a80"/>
<circle cx="526.79" cy="349.98" r="0.87" fill="#cc5096"/>
<circle cx="502.02" cy="320.48" r="0.64" fill="#c8488f"/>
<circle cx="504.52" cy="313.94" r="0.82" fill="#c8488f"/>
<circle cx="506.3" cy="315.7" r="0.81" fill="#cc5096"/>
<circle cx="506.35" cy="310.6" r="0.77" fill="#b83a80"/>
<circle cx="505.24" cy="316.34" r="0.81" fill="#cc5096"/>
<circle cx="508.9" cy="314.54" r="0.67" fill="#c8488f"/>
<circle cx="504.53" cy="316.06" r="0.67" fill="#d0589a"/>
<circle cx="508.42" cy="312.97" r="0.65" fill="#b83a80"/>
<circle cx="503.34" cy="312.41" r="0.89" fill="#c8488f"/>
<circle cx="505.59" cy="313.39" r="0.69" fill="#cc5096"/>
<circle cx="501.18" cy="314.62" r="0.88" fill="#b83a80"/>
<circle cx="502.68" cy="319.32" r="0.72" fill="#cc5096"/>
<circle cx="504" cy="316.75" r="1.04" fill="#b83a80"/>
<circle cx="506.49" cy="313.88" r="0.95" fill="#b83a80"/>
<circle cx="500.99" cy="315.14" r="1.02" fill="#d0589a"/>
<circle cx="503.69" cy="314.81" r="0.86" fill="#d0589a"/>
<circle cx="507.54" cy="316.17" r="0.78" fill="#d0589a"/>
<circle cx="504.1" cy="313.06" r="1.01" fill="#c8488f"/>
<circle cx="500.47" cy="316.16" r="0.95" fill="#c8488f"/>
<circle cx="497.93" cy="311.3" r="0.92" fill="#d0589a"/>
<circle cx="507.95" cy="314.12" r="0.72" fill="#b83a80"/>
<circle cx="505.75" cy="315.97" r="0.62" fill="#b83a80"/>
<circle cx="505.58" cy="315.09" r="0.83" fill="#b83a80"/>
<circle cx="500.87" cy="313.55" r="0.69" fill="#cc5096"/>
<circle cx="506.12" cy="312.19" r="0.75" fill="#d0589a"/>
<circle cx="504.79" cy="316.43" r="0.61" fill="#b83a80"/>
<circle cx="504.34" cy="319.95" r="0.85" fill="#b83a80"/>
<circle cx="502.46" cy="307.57" r="0.71" fill="#d0589a"/>
<circle cx="503.17" cy="319.97" r="1.01" fill="#cc5096"/>
<circle cx="501.57" cy="314.53" r="1.01" fill="#c8488f"/>
<circle cx="566.06" cy="296.84" r="0.9" fill="#cc5096"/>
<circle cx="557.59" cy="310.35" r="0.74" fill="#d0589a"/>
<circle cx="562.4" cy="306.18" r="0.8" fill="#b83a80"/>
<circle cx="560.44" cy="309.36" r="0.63" fill="#d0589a"/>
<circle cx="562.46" cy="308.51" r="0.8" fill="#c8488f"/>
<circle cx="555.62" cy="306.71" r="0.69" fill="#cc5096"/>
<circle cx="563.08" cy="310.63" r="0.69" fill="#b83a80"/>
<circle cx="559.41" cy="308.82" r="0.65" fill="#d0589a"/>
<circle cx="561.04" cy="306.58" r="1" fill="#d0589a"/>
<circle cx="559.69" cy="306.15" r="1.03" fill="#c8488f"/>
<circle cx="564.36" cy="306.76" r="0.73" fill="#b83a80"/>
<circle cx="557.66" cy="309.2" r="0.6" fill="#c8488f"/>
<circle cx="560.2" cy="309.68" r="0.77" fill="#c8488f"/>
<circle cx="567.36" cy="300.5" r="0.82" fill="#b83a80"/>
<circle cx="561.02" cy="308.11" r="1.05" fill="#cc5096"/>
<circle cx="559.5" cy="307.71" r="0.75" fill="#b83a80"/>
<circle cx="556.95" cy="305.15" r="1.04" fill="#c8488f"/>
<circle cx="559.77" cy="311.09" r="1.04" fill="#cc5096"/>
<circle cx="561.58" cy="310.87" r="0.84" fill="#cc5096"/>
<circle cx="559.45" cy="309.57" r="0.8" fill="#b83a80"/>
<circle cx="559.31" cy="306.72" r="0.76" fill="#d0589a"/>
<circle cx="564.18" cy="305" r="0.67" fill="#b83a80"/>
<circle cx="562.08" cy="304.29" r="0.65" fill="#d0589a"/>
<circle cx="564.59" cy="306.12" r="0.91" fill="#c8488f"/>
<circle cx="560.99" cy="304.59" r="0.8" fill="#b83a80"/>
<circle cx="560.06" cy="306.57" r="0.89" fill="#cc5096"/>
<circle cx="554.76" cy="306.3" r="0.83" fill="#cc5096"/>
<circle cx="560.45" cy="304.3" r="0.61" fill="#c8488f"/>
<circle cx="555.06" cy="305.15" r="0.8" fill="#c8488f"/>
<circle cx="560.99" cy="311.56" r="0.95" fill="#d0589a"/>
<circle cx="470.14" cy="312" r="0.67" fill="#b83a80"/>
<circle cx="465.39" cy="312.88" r="0.84" fill="#cc5096"/>
<circle cx="470.89" cy="309.79" r="0.92" fill="#b83a80"/>
<circle cx="460.08" cy="313.96" r="0.63" fill="#d0589a"/>
<circle cx="462.39" cy="310.75" r="0.95" fill="#d0589a"/>
<circle cx="466.13" cy="309.89" r="0.8" fill="#b83a80"/>
<circle cx="463.29" cy="311.35" r="0.69" fill="#b83a80"/>
<circle cx="470.2" cy="313.02" r="0.72" fill="#b83a80"/>
<circle cx="462.59" cy="309.98" r="0.83" fill="#c8488f"/>
<circle cx="458.98" cy="310.79" r="0.74" fill="#c8488f"/>
<circle cx="471.06" cy="311.95" r="0.72" fill="#d0589a"/>
<circle cx="466.69" cy="309.9" r="0.62" fill="#b83a80"/>
<circle cx="464.44" cy="309.25" r="0.84" fill="#d0589a"/>
<circle cx="468.19" cy="309.2" r="1.01" fill="#cc5096"/>
<circle cx="469.11" cy="309.42" r="1.01" fill="#cc5096"/>
<circle cx="470.58" cy="309.03" r="0.95" fill="#d0589a"/>
<circle cx="470.84" cy="310.01" r="0.74" fill="#d0589a"/>
<circle cx="455.45" cy="315.05" r="1.02" fill="#b83a80"/>
<circle cx="471.61" cy="311.5" r="0.91" fill="#d0589a"/>
<circle cx="467.68" cy="314.54" r="0.87" fill="#d0589a"/>
<circle cx="465.48" cy="315.22" r="0.68" fill="#b83a80"/>
<circle cx="463.36" cy="312.61" r="0.6" fill="#d0589a"/>
<circle cx="462.57" cy="314.91" r="0.92" fill="#cc5096"/>
<circle cx="468.69" cy="307.88" r="0.92" fill="#b83a80"/>
<circle cx="461.77" cy="308.72" r="0.61" fill="#d0589a"/>
<circle cx="466.16" cy="313.1" r="0.7" fill="#b83a80"/>
<circle cx="456.92" cy="316.36" r="1.04" fill="#c8488f"/>
<circle cx="460.82" cy="310.66" r="0.83" fill="#b83a80"/>
<circle cx="463.45" cy="309.51" r="0.91" fill="#c8488f"/>
<circle cx="461.51" cy="313.31" r="0.91" fill="#cc5096"/>
<circle cx="516.87" cy="323.8" r="0.67" fill="#b83a80"/>
<circle cx="514.75" cy="326.57" r="0.62" fill="#d0589a"/>
<circle cx="512.37" cy="322.2" r="0.98" fill="#d0589a"/>
<circle cx="516.34" cy="326.73" r="1" fill="#c8488f"/>
<circle cx="511.01" cy="326.1" r="0.66" fill="#c8488f"/>
<circle cx="509.28" cy="327.11" r="0.7" fill="#cc5096"/>
<circle cx="508.52" cy="323.8" r="1" fill="#d0589a"/>
<circle cx="508.67" cy="326.14" r="0.89" fill="#c8488f"/>
<circle cx="507.71" cy="326.15" r="0.98" fill="#d0589a"/>
<circle cx="504.89" cy="324.34" r="0.82" fill="#b83a80"/>
<circle cx="510.53" cy="325.7" r="0.83" fill="#b83a80"/>
<circle cx="509.75" cy="327.75" r="0.93" fill="#d0589a"/>
<circle cx="515.7" cy="320.71" r="0.69" fill="#c8488f"/>
<circle cx="504.61" cy="326.22" r="0.76" fill="#d0589a"/>
<circle cx="509.97" cy="326.14" r="0.78" fill="#c8488f"/>
<circle cx="512.89" cy="321.49" r="0.65" fill="#c8488f"/>
<circle cx="506.48" cy="328.09" r="0.61" fill="#d0589a"/>
<circle cx="511.54" cy="323.45" r="0.91" fill="#d0589a"/>
<circle cx="511.87" cy="326.17" r="0.75" fill="#c8488f"/>
<circle cx="512.88" cy="321.96" r="0.68" fill="#d0589a"/>
<circle cx="514.21" cy="323.7" r="0.67" fill="#d0589a"/>
<circle cx="510.03" cy="326.26" r="0.69" fill="#cc5096"/>
<circle cx="512.73" cy="328.1" r="0.9" fill="#cc5096"/>
<circle cx="510.29" cy="325.07" r="0.69" fill="#c8488f"/>
<circle cx="504.25" cy="324.52" r="0.65" fill="#b83a80"/>
<circle cx="508.88" cy="328.4" r="0.72" fill="#b83a80"/>
<circle cx="510.92" cy="321.69" r="0.73" fill="#cc5096"/>
<circle cx="510.26" cy="329.3" r="0.88" fill="#d0589a"/>
<circle cx="515.91" cy="329.25" r="0.64" fill="#c8488f"/>
<circle cx="508.69" cy="322.89" r="0.74" fill="#d0589a"/>
<circle cx="544.92" cy="324.54" r="0.98" fill="#d0589a"/>
<circle cx="548.36" cy="323.78" r="0.67" fill="#b83a80"/>
<circle cx="546.94" cy="325.76" r="0.63" fill="#d0589a"/>
<circle cx="549.01" cy="325.7" r="0.65" fill="#d0589a"/>
<circle cx="550.3" cy="325.8" r="0.7" fill="#b83a80"/>
<circle cx="546.7" cy="320.98" r="0.83" fill="#b83a80"/>
<circle cx="549.05" cy="323.79" r="0.93" fill="#cc5096"/>
<circle cx="551.35" cy="323.63" r="0.63" fill="#cc5096"/>
<circle cx="548.52" cy="325.19" r="1" fill="#c8488f"/>
<circle cx="543.03" cy="317.76" r="0.73" fill="#c8488f"/>
<circle cx="549.87" cy="323.24" r="1" fill="#cc5096"/>
<circle cx="545.89" cy="320.13" r="1" fill="#d0589a"/>
<circle cx="543.31" cy="322.15" r="0.87" fill="#b83a80"/>
<circle cx="548" cy="323.48" r="0.65" fill="#cc5096"/>
<circle cx="549.88" cy="321.82" r="0.83" fill="#c8488f"/>
<circle cx="552.96" cy="324.71" r="1.05" fill="#d0589a"/>
<circle cx="548.93" cy="321.98" r="0.93" fill="#d0589a"/>
<circle cx="548.17" cy="323.64" r="0.92" fill="#cc5096"/>
<circle cx="551.27" cy="321.67" r="0.84" fill="#b83a80"/>
<circle cx="548.06" cy="323.65" r="0.92" fill="#c8488f"/>
<circle cx="546.68" cy="323.24" r="0.73" fill="#c8488f"/>
<circle cx="546.79" cy="324.92" r="0.96" fill="#cc5096"/>
<circle cx="546.28" cy="324.35" r="0.66" fill="#b83a80"/>
<circle cx="551.57" cy="327.32" r="0.72" fill="#c8488f"/>
<circle cx="557.44" cy="326.31" r="0.71" fill="#d0589a"/>
<circle cx="543.97" cy="322.91" r="0.87" fill="#b83a80"/>
<circle cx="546.38" cy="321.34" r="0.78" fill="#d0589a"/>
<circle cx="547.21" cy="323.54" r="0.77" fill="#c8488f"/>
<circle cx="545.53" cy="323.36" r="0.92" fill="#c8488f"/>
<circle cx="542.29" cy="326.29" r="0.68" fill="#c8488f"/>
<circle cx="465.79" cy="351.07" r="0.75" fill="#cc5096"/>
<circle cx="463.14" cy="346.46" r="0.97" fill="#b83a80"/>
<circle cx="465.67" cy="349.3" r="0.77" fill="#cc5096"/>
<circle cx="467.64" cy="351.53" r="0.67" fill="#d0589a"/>
<circle cx="462.02" cy="352.44" r="0.61" fill="#c8488f"/>
<circle cx="466.89" cy="346.42" r="0.79" fill="#d0589a"/>
<circle cx="469.03" cy="353.18" r="0.67" fill="#d0589a"/>
<circle cx="471.18" cy="351.85" r="0.79" fill="#d0589a"/>
<circle cx="470.66" cy="342.92" r="0.86" fill="#c8488f"/>
<circle cx="470.77" cy="348.76" r="1" fill="#d0589a"/>
<circle cx="466.62" cy="344.78" r="0.94" fill="#b83a80"/>
<circle cx="468.8" cy="346.72" r="1.05" fill="#c8488f"/>
<circle cx="470.07" cy="347.17" r="1.05" fill="#d0589a"/>
<circle cx="474.1" cy="351.17" r="0.96" fill="#cc5096"/>
<circle cx="468.14" cy="350.14" r="0.72" fill="#c8488f"/>
<circle cx="470.02" cy="346.89" r="0.87" fill="#c8488f"/>
<circle cx="469.46" cy="350.73" r="0.67" fill="#b83a80"/>
<circle cx="464.62" cy="352.03" r="0.87" fill="#d0589a"/>
<circle cx="463.89" cy="353.07" r="1.02" fill="#b83a80"/>
<circle cx="469.55" cy="347.24" r="1.05" fill="#b83a80"/>
<circle cx="461.98" cy="353.15" r="0.61" fill="#cc5096"/>
<circle cx="458.44" cy="350.01" r="0.68" fill="#b83a80"/>
<circle cx="463.31" cy="349.8" r="0.98" fill="#d0589a"/>
<circle cx="467" cy="348.66" r="1.05" fill="#cc5096"/>
<circle cx="468.69" cy="353.8" r="0.69" fill="#b83a80"/>
<circle cx="470.99" cy="349.58" r="1.05" fill="#d0589a"/>
<circle cx="464.35" cy="352.25" r="0.93" fill="#b83a80"/>
<circle cx="463.69" cy="353.42" r="0.84" fill="#b83a80"/>
<circle cx="466.82" cy="353" r="1.03" fill="#c8488f"/>
<circle cx="467.06" cy="348.79" r="0.78" fill="#d0589a"/>
<circle cx="485.88" cy="364.6" r="0.85" fill="#cc5096"/>
<circle cx="485.61" cy="357.23" r="0.94" fill="#c8488f"/>
<circle cx="482.2" cy="360.34" r="0.65" fill="#cc5096"/>
<circle cx="487.76" cy="355.47" r="0.61" fill="#cc5096"/>
<circle cx="481.9" cy="358.4" r="0.71" fill="#c8488f"/>
<circle cx="480.85" cy="355.59" r="0.82" fill="#c8488f"/>
<circle cx="481.14" cy="354.47" r="0.98" fill="#c8488f"/>
<circle cx="483.31" cy="356.77" r="0.68" fill="#cc5096"/>
<circle cx="484.33" cy="366.11" r="0.71" fill="#d0589a"/>
<circle cx="477.52" cy="355.16" r="0.67" fill="#c8488f"/>
<circle cx="480.39" cy="356.39" r="0.76" fill="#b83a80"/>
<circle cx="484.71" cy="358.75" r="1.02" fill="#d0589a"/>
<circle cx="488.15" cy="362.15" r="0.73" fill="#d0589a"/>
<circle cx="481.13" cy="360.1" r="0.9" fill="#cc5096"/>
<circle cx="481.06" cy="360.5" r="0.95" fill="#d0589a"/>
<circle cx="480.45" cy="356.91" r="0.97" fill="#c8488f"/>
<circle cx="481.35" cy="357.79" r="0.91" fill="#c8488f"/>
<circle cx="484.13" cy="354.44" r="0.67" fill="#cc5096"/>
<circle cx="477.18" cy="357.53" r="1.02" fill="#c8488f"/>
<circle cx="488.44" cy="358.82" r="1.02" fill="#b83a80"/>
<circle cx="480.43" cy="354.73" r="0.98" fill="#cc5096"/>
<circle cx="485.1" cy="355.15" r="0.77" fill="#b83a80"/>
<circle cx="481.83" cy="353.55" r="0.91" fill="#d0589a"/>
<circle cx="481.66" cy="352.2" r="0.67" fill="#b83a80"/>
<circle cx="476.4" cy="360.76" r="1" fill="#c8488f"/>
<circle cx="488.03" cy="357.47" r="0.73" fill="#d0589a"/>
<circle cx="479.48" cy="354.87" r="0.71" fill="#cc5096"/>
<circle cx="482.37" cy="357.81" r="1" fill="#c8488f"/>
<circle cx="480.63" cy="356.52" r="0.75" fill="#c8488f"/>
<circle cx="488.4" cy="359.47" r="0.85" fill="#d0589a"/>
<circle cx="561.6" cy="349.57" r="0.93" fill="#b83a80"/>
<circle cx="555.71" cy="343.63" r="0.77" fill="#c8488f"/>
<circle cx="561.51" cy="350.17" r="0.78" fill="#c8488f"/>
<circle cx="561.68" cy="352.95" r="0.65" fill="#cc5096"/>
<circle cx="560.06" cy="350.43" r="0.7" fill="#cc5096"/>
<circle cx="561.36" cy="349.25" r="0.73" fill="#cc5096"/>
<circle cx="562.84" cy="349.52" r="0.81" fill="#c8488f"/>
<circle cx="557.95" cy="351.54" r="0.93" fill="#d0589a"/>
<circle cx="557.06" cy="346.35" r="0.9" fill="#cc5096"/>
<circle cx="560.94" cy="354.25" r="0.78" fill="#cc5096"/>
<circle cx="560.02" cy="348.76" r="0.74" fill="#d0589a"/>
<circle cx="562.31" cy="350.91" r="0.78" fill="#b83a80"/>
<circle cx="558.92" cy="348.97" r="0.68" fill="#d0589a"/>
<circle cx="562.26" cy="347.94" r="0.96" fill="#b83a80"/>
<circle cx="558.4" cy="348.89" r="0.95" fill="#c8488f"/>
<circle cx="559.36" cy="353.11" r="0.79" fill="#c8488f"/>
<circle cx="554.9" cy="349.92" r="0.99" fill="#b83a80"/>
<circle cx="567.66" cy="347.22" r="0.94" fill="#d0589a"/>
<circle cx="559.4" cy="350.84" r="0.89" fill="#d0589a"/>
<circle cx="556.3" cy="344.54" r="0.82" fill="#cc5096"/>
<circle cx="556.82" cy="352.69" r="0.89" fill="#c8488f"/>
<circle cx="559.81" cy="348" r="0.91" fill="#cc5096"/>
<circle cx="561.23" cy="351.25" r="1.04" fill="#b83a80"/>
<circle cx="559.06" cy="350.96" r="1.03" fill="#c8488f"/>
<circle cx="563.16" cy="350.75" r="0.8" fill="#b83a80"/>
<circle cx="560.18" cy="352.31" r="0.72" fill="#d0589a"/>
<circle cx="566.44" cy="351.51" r="0.66" fill="#cc5096"/>
<circle cx="561.95" cy="348.81" r="0.71" fill="#b83a80"/>
<circle cx="560.7" cy="347.28" r="0.65" fill="#b83a80"/>
<circle cx="562.27" cy="350.82" r="0.94" fill="#c8488f"/>
<circle cx="503.33" cy="302.78" r="0.9" fill="#cc5096"/>
<circle cx="506.45" cy="307.17" r="0.79" fill="#b83a80"/>
<circle cx="504.82" cy="306.26" r="1" fill="#d0589a"/>
<circle cx="506.71" cy="306.24" r="0.98" fill="#d0589a"/>
<circle cx="511.21" cy="302.68" r="0.79" fill="#cc5096"/>
<circle cx="511.37" cy="305.86" r="0.86" fill="#b83a80"/>
<circle cx="509.8" cy="307.42" r="0.84" fill="#b83a80"/>
<circle cx="509.16" cy="308.15" r="0.93" fill="#d0589a"/>
<circle cx="511.88" cy="307.42" r="0.72" fill="#c8488f"/>
<circle cx="507.2" cy="305.64" r="0.93" fill="#d0589a"/>
<circle cx="513.45" cy="309.23" r="0.93" fill="#c8488f"/>
<circle cx="510.45" cy="307.32" r="0.85" fill="#c8488f"/>
<circle cx="506.25" cy="303.89" r="0.61" fill="#cc5096"/>
<circle cx="509" cy="308.65" r="0.77" fill="#cc5096"/>
<circle cx="510.83" cy="306.45" r="1.02" fill="#c8488f"/>
<circle cx="508.35" cy="302.83" r="0.92" fill="#b83a80"/>
<circle cx="505.89" cy="309.01" r="0.86" fill="#b83a80"/>
<circle cx="509.86" cy="307.54" r="0.87" fill="#d0589a"/>
<circle cx="508.91" cy="308.55" r="1.02" fill="#b83a80"/>
<circle cx="508.75" cy="304.52" r="0.92" fill="#b83a80"/>
<circle cx="506.82" cy="308.89" r="0.62" fill="#c8488f"/>
<circle cx="509.81" cy="310.74" r="0.94" fill="#cc5096"/>
<circle cx="503.79" cy="308.38" r="0.76" fill="#cc5096"/>
<circle cx="503.08" cy="307.24" r="0.85" fill="#d0589a"/>
<circle cx="505.8" cy="302.87" r="1.03" fill="#b83a80"/>
<circle cx="511.72" cy="303.96" r="0.73" fill="#c8488f"/>
<circle cx="502.47" cy="306.54" r="0.68" fill="#d0589a"/>
<circle cx="504.26" cy="304.36" r="0.61" fill="#c8488f"/>
<circle cx="506.23" cy="306.92" r="0.98" fill="#c8488f"/>
<circle cx="509.27" cy="310.29" r="0.72" fill="#cc5096"/>
<circle cx="475.85" cy="323.63" r="0.82" fill="#d0589a"/>
<circle cx="472.72" cy="330.09" r="0.94" fill="#cc5096"/>
<circle cx="475.92" cy="331.7" r="0.72" fill="#d0589a"/>
<circle cx="477.57" cy="329.04" r="1" fill="#c8488f"/>
<circle cx="474.46" cy="328.74" r="0.61" fill="#c8488f"/>
<circle cx="474.97" cy="326.19" r="0.83" fill="#d0589a"/>
<circle cx="482.41" cy="326.47" r="0.93" fill="#c8488f"/>
<circle cx="470.13" cy="332.47" r="0.74" fill="#b83a80"/>
<circle cx="471.99" cy="333.57" r="0.95" fill="#cc5096"/>
<circle cx="475.61" cy="331.09" r="1.04" fill="#d0589a"/>
<circle cx="475.9" cy="332.9" r="0.92" fill="#b83a80"/>
<circle cx="472.08" cy="326.84" r="1.03" fill="#cc5096"/>
<circle cx="478.25" cy="332.42" r="0.71" fill="#c8488f"/>
<circle cx="471.54" cy="327.73" r="0.81" fill="#d0589a"/>
<circle cx="470.33" cy="335.71" r="0.6" fill="#b83a80"/>
<circle cx="471.1" cy="329.72" r="0.77" fill="#b83a80"/>
<circle cx="471.68" cy="328.49" r="0.97" fill="#b83a80"/>
<circle cx="481.54" cy="333.7" r="0.87" fill="#b83a80"/>
<circle cx="470.43" cy="329.15" r="0.68" fill="#cc5096"/>
<circle cx="480.65" cy="333.57" r="0.76" fill="#cc5096"/>
<circle cx="470.62" cy="332.35" r="0.69" fill="#d0589a"/>
<circle cx="477.69" cy="331.99" r="0.8" fill="#b83a80"/>
<circle cx="474.51" cy="334.18" r="1.01" fill="#d0589a"/>
<circle cx="476.09" cy="333.02" r="0.87" fill="#cc5096"/>
<circle cx="474.7" cy="334.41" r="0.86" fill="#b83a80"/>
<circle cx="474.2" cy="325.69" r="0.67" fill="#b83a80"/>
<circle cx="480.77" cy="331.51" r="0.85" fill="#c8488f"/>
<circle cx="472.17" cy="327.53" r="0.88" fill="#b83a80"/>
<circle cx="473.32" cy="335.77" r="0.76" fill="#d0589a"/>
<circle cx="474.37" cy="326.4" r="1" fill="#b83a80"/>
<circle cx="501.6" cy="333.69" r="0.86" fill="#cc5096"/>
<circle cx="499.58" cy="332.7" r="0.75" fill="#b83a80"/>
<circle cx="503.18" cy="335.2" r="0.62" fill="#cc5096"/>
<circle cx="501.05" cy="336.22" r="0.83" fill="#d0589a"/>
<circle cx="500.82" cy="334.7" r="0.86" fill="#c8488f"/>
<circle cx="491.7" cy="329.3" r="0.65" fill="#c8488f"/>
<circle cx="506.63" cy="336.8" r="0.76" fill="#cc5096"/>
<circle cx="501.78" cy="334.36" r="0.76" fill="#c8488f"/>
<circle cx="501.37" cy="328.68" r="0.77" fill="#c8488f"/>
<circle cx="495.68" cy="332.08" r="0.82" fill="#cc5096"/>
<circle cx="498.77" cy="333.27" r="1.03" fill="#c8488f"/>
<circle cx="496.87" cy="332.25" r="0.89" fill="#d0589a"/>
<circle cx="496.23" cy="336.96" r="1.01" fill="#c8488f"/>
<circle cx="503.51" cy="330.49" r="0.91" fill="#cc5096"/>
<circle cx="500.32" cy="333.2" r="0.63" fill="#cc5096"/>
<circle cx="490.47" cy="334.82" r="0.76" fill="#cc5096"/>
<circle cx="500.62" cy="331.67" r="0.73" fill="#b83a80"/>
<circle cx="498.13" cy="334.09" r="0.84" fill="#cc5096"/>
<circle cx="494.82" cy="334.9" r="0.75" fill="#cc5096"/>
<circle cx="497.6" cy="328.41" r="0.61" fill="#d0589a"/>
<circle cx="500.85" cy="336.2" r="0.93" fill="#cc5096"/>
<circle cx="499.73" cy="332.94" r="0.95" fill="#c8488f"/>
<circle cx="501.87" cy="330.23" r="1.04" fill="#cc5096"/>
<circle cx="493.33" cy="336.7" r="0.79" fill="#b83a80"/>
<circle cx="495.65" cy="336.96" r="0.99" fill="#b83a80"/>
<circle cx="496.01" cy="335.12" r="0.82" fill="#c8488f"/>
<circle cx="495.55" cy="335.11" r="0.84" fill="#cc5096"/>
<circle cx="497.74" cy="329.89" r="0.63" fill="#d0589a"/>
<circle cx="497.56" cy="329.31" r="0.78" fill="#c8488f"/>
<circle cx="496.64" cy="335.47" r="0.88" fill="#b83a80"/>
<circle cx="490.28" cy="355.99" r="0.75" fill="#d0589a"/>
<circle cx="484.85" cy="358.19" r="0.8" fill="#b83a80"/>
<circle cx="483.45" cy="352.18" r="0.76" fill="#d0589a"/>
<circle cx="487" cy="352.84" r="0.65" fill="#c8488f"/>
<circle cx="489.72" cy="355.15" r="0.98" fill="#d0589a"/>
<circle cx="483.18" cy="351.88" r="0.72" fill="#d0589a"/>
<circle cx="486.91" cy="355.64" r="0.97" fill="#c8488f"/>
<circle cx="486.11" cy="352.59" r="0.89" fill="#d0589a"/>
<circle cx="493.64" cy="353.41" r="0.9" fill="#cc5096"/>
<circle cx="479.89" cy="355.19" r="0.86" fill="#b83a80"/>
<circle cx="488.34" cy="353.8" r="0.91" fill="#b83a80"/>
<circle cx="490.81" cy="357.32" r="1.01" fill="#b83a80"/>
<circle cx="484.09" cy="348.84" r="0.88" fill="#b83a80"/>
<circle cx="485.14" cy="350.85" r="0.83" fill="#cc5096"/>
<circle cx="492.21" cy="353.38" r="0.81" fill="#c8488f"/>
<circle cx="493.35" cy="352.16" r="1.02" fill="#cc5096"/>
<circle cx="489.62" cy="353.17" r="0.74" fill="#cc5096"/>
<circle cx="488.7" cy="355.67" r="0.82" fill="#d0589a"/>
<circle cx="488.7" cy="354.49" r="0.66" fill="#cc5096"/>
<circle cx="490.4" cy="346.25" r="0.94" fill="#b83a80"/>
<circle cx="489.56" cy="352.2" r="0.97" fill="#b83a80"/>
<circle cx="490" cy="349.95" r="0.74" fill="#b83a80"/>
<circle cx="487.34" cy="353.48" r="1.03" fill="#c8488f"/>
<circle cx="487.19" cy="351.91" r="0.8" fill="#d0589a"/>
<circle cx="491.82" cy="355.04" r="0.96" fill="#d0589a"/>
<circle cx="486.85" cy="356.03" r="0.78" fill="#cc5096"/>
<circle cx="492.08" cy="356.46" r="0.98" fill="#d0589a"/>
<circle cx="490.69" cy="352.19" r="0.91" fill="#c8488f"/>
<circle cx="489.65" cy="350.24" r="0.71" fill="#b83a80"/>
<circle cx="492.38" cy="353.88" r="0.98" fill="#cc5096"/>
<circle cx="526.67" cy="355.54" r="0.97" fill="#d0589a"/>
<circle cx="520.53" cy="356.27" r="0.99" fill="#cc5096"/>
<circle cx="525.35" cy="351.94" r="0.95" fill="#c8488f"/>
<circle cx="522.61" cy="350.3" r="0.99" fill="#d0589a"/>
<circle cx="521.8" cy="354.4" r="1.03" fill="#c8488f"/>
<circle cx="526.35" cy="352.85" r="0.9" fill="#d0589a"/>
<circle cx="521.98" cy="356.9" r="0.76" fill="#cc5096"/>
<circle cx="515.57" cy="352.34" r="0.64" fill="#c8488f"/>
<circle cx="524.32" cy="348.59" r="0.93" fill="#c8488f"/>
<circle cx="522.53" cy="353.29" r="0.94" fill="#b83a80"/>
<circle cx="520.41" cy="356.47" r="0.84" fill="#c8488f"/>
<circle cx="524.9" cy="352.56" r="1.02" fill="#cc5096"/>
<circle cx="524.44" cy="350" r="1.02" fill="#cc5096"/>
<circle cx="523.03" cy="351.25" r="1.02" fill="#b83a80"/>
<circle cx="518.44" cy="355.12" r="1.01" fill="#b83a80"/>
<circle cx="524.94" cy="350.87" r="1.03" fill="#cc5096"/>
<circle cx="525.11" cy="354.68" r="0.61" fill="#cc5096"/>
<circle cx="519.13" cy="351.73" r="0.93" fill="#c8488f"/>
<circle cx="524.85" cy="354.04" r="0.7" fill="#cc5096"/>
<circle cx="526.78" cy="358.46" r="1.01" fill="#cc5096"/>
<circle cx="517.11" cy="354.96" r="0.69" fill="#c8488f"/>
<circle cx="523.91" cy="354.32" r="0.82" fill="#b83a80"/>
<circle cx="517.42" cy="353.7" r="0.84" fill="#cc5096"/>
<circle cx="527.19" cy="357.8" r="1.05" fill="#d0589a"/>
<circle cx="519.12" cy="356.96" r="0.89" fill="#d0589a"/>
<circle cx="527.88" cy="353.85" r="0.85" fill="#cc5096"/>
<circle cx="522.79" cy="356.81" r="0.65" fill="#d0589a"/>
<circle cx="522.62" cy="354.41" r="1.02" fill="#d0589a"/>
<circle cx="522.74" cy="350.55" r="1.03" fill="#cc5096"/>
<circle cx="522.5" cy="352.19" r="0.79" fill="#cc5096"/>
<ellipse cx="484.4" cy="322.7" rx="2.0" ry="1.5" fill="#4e2e92" transform="rotate(25 484.4 322.7)"/>
<ellipse cx="496.5" cy="334" rx="2.0" ry="1.5" fill="#4e2e92" transform="rotate(25 496.5 334)"/>
<ellipse cx="498.4" cy="338.6" rx="2.0" ry="1.5" fill="#4e2e92" transform="rotate(25 498.4 338.6)"/>
<ellipse cx="508.7" cy="342.4" rx="2.0" ry="1.5" fill="#4e2e92" transform="rotate(25 508.7 342.4)"/>
<ellipse cx="506" cy="348" rx="2.0" ry="1.5" fill="#4e2e92" transform="rotate(25 506 348)"/>
<ellipse cx="535.9" cy="328.4" rx="2.0" ry="1.5" fill="#4e2e92" transform="rotate(25 535.9 328.4)"/>
<ellipse cx="545.2" cy="333" rx="2.0" ry="1.5" fill="#4e2e92" transform="rotate(25 545.2 333)"/>
<ellipse cx="562" cy="344.3" rx="2.0" ry="1.5" fill="#4e2e92" transform="rotate(25 562 344.3)"/>
<ellipse cx="465.6" cy="332" rx="2.0" ry="1.5" fill="#4e2e92" transform="rotate(25 465.6 332)"/>
<ellipse cx="494.6" cy="311.5" rx="2.0" ry="1.5" fill="#4e2e92" transform="rotate(25 494.6 311.5)"/>
<ellipse cx="516.2" cy="343.3" rx="2.0" ry="1.5" fill="#4e2e92" transform="rotate(25 516.2 343.3)"/>
<ellipse cx="475" cy="318" rx="2.0" ry="1.5" fill="#4e2e92" transform="rotate(25 475 318)"/>
<ellipse cx="528" cy="309" rx="2.0" ry="1.5" fill="#4e2e92" transform="rotate(25 528 309)"/>
<ellipse cx="552" cy="352" rx="2.0" ry="1.5" fill="#4e2e92" transform="rotate(25 552 352)"/>
<ellipse cx="470" cy="352" rx="2.0" ry="1.5" fill="#4e2e92" transform="rotate(25 470 352)"/>
<ellipse cx="489" cy="346" rx="2.0" ry="1.5" fill="#4e2e92" transform="rotate(25 489 346)"/>
<polygon points="524.6,317.1 535,314.3 535,320.9" fill="#000"/>
<polygon points="483.4,337.7 491.8,343.3 485.3,348" fill="#000"/>
<polygon points="511.5,344.3 520.9,349.9 513.4,354.6" fill="#000"/>
<polygon points="556.4,332.1 564.9,337.7 557.4,342.4" fill="#000"/>
<rect x="528.4" y="346.7" width="30.9" height="2.4" fill="#000"/>
</g></g>
<rect x="461.2" y="305.6" width="104.4" height="50.5" fill="none" stroke="#6b6b6b" stroke-width="0.9"/>
<text x="458.5" y="222" font-size="7.3" text-anchor="middle" transform="rotate(-90 458.5 222)">Control</text>
<text x="458.5" y="276.2" font-size="7.3" text-anchor="middle" transform="rotate(-90 458.5 276.2)">d9 - low</text>
<text x="458.5" y="331.2" font-size="7.3" text-anchor="middle" transform="rotate(-90 458.5 331.2)">d9 - high</text>
<text x="-0.6" y="380.7" font-size="11" font-weight="bold" fill="#000">g</text>
<circle cx="59.4" cy="379.8" r="1.55" fill="#000"/>
<rect x="57.95" y="387.75" width="2.9" height="2.9" fill="#3d1a7d"/>
<text x="64" y="382.4" font-size="7.6">Control</text>
<text x="64" y="391.8" font-size="7.6">ICV leptin</text>
<line x1="53.5" y1="397.1" x2="53.5" y2="496.9" stroke="#7a7a7a" stroke-width="0.8"/>
<line x1="49.6" y1="396.9" x2="53.5" y2="396.9" stroke="#7a7a7a" stroke-width="0.8"/>
<text x="46.7" y="399.35" font-size="6.9" text-anchor="end" fill="#333">40,000</text>
<line x1="49.6" y1="421.9" x2="53.5" y2="421.9" stroke="#7a7a7a" stroke-width="0.8"/>
<text x="46.7" y="424.35" font-size="6.9" text-anchor="end" fill="#333">30,000</text>
<line x1="49.6" y1="446.9" x2="53.5" y2="446.9" stroke="#7a7a7a" stroke-width="0.8"/>
<text x="46.7" y="449.35" font-size="6.9" text-anchor="end" fill="#333">20,000</text>
<line x1="49.6" y1="471.9" x2="53.5" y2="471.9" stroke="#7a7a7a" stroke-width="0.8"/>
<text x="46.7" y="474.35" font-size="6.9" text-anchor="end" fill="#333">10,000</text>
<line x1="49.6" y1="496.9" x2="53.5" y2="496.9" stroke="#7a7a7a" stroke-width="0.8"/>
<text x="46.7" y="499.35" font-size="6.9" text-anchor="end" fill="#333">0</text>
<line x1="49.5" y1="496.9" x2="132.2" y2="496.9" stroke="#7a7a7a" stroke-width="0.8"/>
<text x="9" y="447" font-size="7.3" text-anchor="middle" transform="rotate(-90 9 447)">Adipocyte size (μm<tspan dy="-2.2" font-size="4.6">2</tspan>)</text>
<text x="17.6" y="447" font-size="7.3" text-anchor="middle" transform="rotate(-90 17.6 447)">(day 1)</text>
<rect x="56.9" y="466.9" width="7" height="30" fill="#bdbdbd" stroke="#2a2a2a" stroke-width="0.8"/>
<rect x="64.9" y="476.9" width="7" height="20" fill="#d9c8fa" stroke="#2a2a2a" stroke-width="0.8"/>
<line x1="60.4" y1="471.9" x2="60.4" y2="460.65" stroke="#222" stroke-width="0.7"/>
<line x1="58.6" y1="471.9" x2="62.2" y2="471.9" stroke="#222" stroke-width="0.7"/>
<line x1="58.6" y1="460.65" x2="62.2" y2="460.65" stroke="#222" stroke-width="0.7"/>
<line x1="68.4" y1="481.9" x2="68.4" y2="470.65" stroke="#222" stroke-width="0.7"/>
<line x1="66.6" y1="481.9" x2="70.2" y2="481.9" stroke="#222" stroke-width="0.7"/>
<line x1="66.6" y1="470.65" x2="70.2" y2="470.65" stroke="#222" stroke-width="0.7"/>
<circle cx="58.4" cy="458.15" r="1.45" fill="#000"/>
<circle cx="59.59" cy="459.4" r="1.45" fill="#000"/>
<circle cx="58.11" cy="460.65" r="1.45" fill="#000"/>
<circle cx="59.4" cy="461.9" r="1.45" fill="#000"/>
<circle cx="61.57" cy="464.4" r="1.45" fill="#000"/>
<circle cx="61.3" cy="466.9" r="1.45" fill="#000"/>
<circle cx="60.26" cy="468.15" r="1.45" fill="#000"/>
<circle cx="61.57" cy="470.65" r="1.45" fill="#000"/>
<circle cx="60.17" cy="473.15" r="1.45" fill="#000"/>
<circle cx="62.08" cy="475.65" r="1.45" fill="#000"/>
<rect x="68.17" y="451.7" width="2.9" height="2.9" fill="#3d1a7d"/>
<rect x="67.62" y="470.45" width="2.9" height="2.9" fill="#3d1a7d"/>
<rect x="66.53" y="472.95" width="2.9" height="2.9" fill="#3d1a7d"/>
<rect x="65.56" y="475.45" width="2.9" height="2.9" fill="#3d1a7d"/>
<rect x="67.77" y="477.95" width="2.9" height="2.9" fill="#3d1a7d"/>
<rect x="69.12" y="479.2" width="2.9" height="2.9" fill="#3d1a7d"/>
<rect x="66.62" y="480.45" width="2.9" height="2.9" fill="#3d1a7d"/>
<rect x="68.57" y="481.7" width="2.9" height="2.9" fill="#3d1a7d"/>
<rect x="64.81" y="482.95" width="2.9" height="2.9" fill="#3d1a7d"/>
<rect x="76.1" y="454.9" width="7" height="42" fill="#bdbdbd" stroke="#2a2a2a" stroke-width="0.8"/>
<rect x="84" y="473.15" width="7" height="23.75" fill="#d9c8fa" stroke="#2a2a2a" stroke-width="0.8"/>
<line x1="79.6" y1="465.65" x2="79.6" y2="444.4" stroke="#222" stroke-width="0.7"/>
<line x1="77.8" y1="465.65" x2="81.4" y2="465.65" stroke="#222" stroke-width="0.7"/>
<line x1="77.8" y1="444.4" x2="81.4" y2="444.4" stroke="#222" stroke-width="0.7"/>
<line x1="87.5" y1="478.15" x2="87.5" y2="468.15" stroke="#222" stroke-width="0.7"/>
<line x1="85.7" y1="478.15" x2="89.3" y2="478.15" stroke="#222" stroke-width="0.7"/>
<line x1="85.7" y1="468.15" x2="89.3" y2="468.15" stroke="#222" stroke-width="0.7"/>
<circle cx="77.71" cy="423.15" r="1.45" fill="#000"/>
<circle cx="81.18" cy="439.4" r="1.45" fill="#000"/>
<circle cx="80.06" cy="440.65" r="1.45" fill="#000"/>
<circle cx="78.27" cy="446.9" r="1.45" fill="#000"/>
<circle cx="80.89" cy="454.4" r="1.45" fill="#000"/>
<circle cx="80.04" cy="461.9" r="1.45" fill="#000"/>
<circle cx="81.12" cy="466.9" r="1.45" fill="#000"/>
<circle cx="80.12" cy="469.4" r="1.45" fill="#000"/>
<circle cx="80.63" cy="474.4" r="1.45" fill="#000"/>
<circle cx="80.87" cy="475.65" r="1.45" fill="#000"/>
<rect x="85.57" y="461.7" width="2.9" height="2.9" fill="#3d1a7d"/>
<rect x="84.13" y="462.95" width="2.9" height="2.9" fill="#3d1a7d"/>
<rect x="86.44" y="465.45" width="2.9" height="2.9" fill="#3d1a7d"/>
<rect x="84.35" y="467.95" width="2.9" height="2.9" fill="#3d1a7d"/>
<rect x="85.97" y="470.45" width="2.9" height="2.9" fill="#3d1a7d"/>
<rect x="85.27" y="472.95" width="2.9" height="2.9" fill="#3d1a7d"/>
<rect x="86.96" y="474.2" width="2.9" height="2.9" fill="#3d1a7d"/>
<rect x="84.47" y="476.7" width="2.9" height="2.9" fill="#3d1a7d"/>
<rect x="88.21" y="479.2" width="2.9" height="2.9" fill="#3d1a7d"/>
<rect x="95.1" y="474.4" width="7" height="22.5" fill="#bdbdbd" stroke="#2a2a2a" stroke-width="0.8"/>
<rect x="102.9" y="476.9" width="7" height="20" fill="#d9c8fa" stroke="#2a2a2a" stroke-width="0.8"/>
<line x1="98.6" y1="477.4" x2="98.6" y2="471.4" stroke="#222" stroke-width="0.7"/>
<line x1="96.8" y1="477.4" x2="100.4" y2="477.4" stroke="#222" stroke-width="0.7"/>
<line x1="96.8" y1="471.4" x2="100.4" y2="471.4" stroke="#222" stroke-width="0.7"/>
<line x1="106.4" y1="479.4" x2="106.4" y2="474.4" stroke="#222" stroke-width="0.7"/>
<line x1="104.6" y1="479.4" x2="108.2" y2="479.4" stroke="#222" stroke-width="0.7"/>
<line x1="104.6" y1="474.4" x2="108.2" y2="474.4" stroke="#222" stroke-width="0.7"/>
<circle cx="98.3" cy="468.15" r="1.45" fill="#000"/>
<circle cx="99.64" cy="470.65" r="1.45" fill="#000"/>
<circle cx="98.77" cy="471.9" r="1.45" fill="#000"/>
<circle cx="98.59" cy="473.15" r="1.45" fill="#000"/>
<circle cx="100.12" cy="474.4" r="1.45" fill="#000"/>
<circle cx="97.33" cy="475.65" r="1.45" fill="#000"/>
<circle cx="100.8" cy="476.9" r="1.45" fill="#000"/>
<circle cx="98.68" cy="478.15" r="1.45" fill="#000"/>
<rect x="102.68" y="469.2" width="2.9" height="2.9" fill="#3d1a7d"/>
<rect x="104.05" y="472.95" width="2.9" height="2.9" fill="#3d1a7d"/>
<rect x="106.04" y="474.2" width="2.9" height="2.9" fill="#3d1a7d"/>
<rect x="106.53" y="475.45" width="2.9" height="2.9" fill="#3d1a7d"/>
<rect x="106.78" y="476.7" width="2.9" height="2.9" fill="#3d1a7d"/>
<rect x="107.13" y="477.45" width="2.9" height="2.9" fill="#3d1a7d"/>
<rect x="103.49" y="477.95" width="2.9" height="2.9" fill="#3d1a7d"/>
<rect x="114.3" y="444.4" width="7" height="52.5" fill="#bdbdbd" stroke="#2a2a2a" stroke-width="0.8"/>
<rect x="122" y="446.4" width="7" height="50.5" fill="#d9c8fa" stroke="#2a2a2a" stroke-width="0.8"/>
<line x1="117.8" y1="450.65" x2="117.8" y2="438.15" stroke="#222" stroke-width="0.7"/>
<line x1="116" y1="450.65" x2="119.6" y2="450.65" stroke="#222" stroke-width="0.7"/>
<line x1="116" y1="438.15" x2="119.6" y2="438.15" stroke="#222" stroke-width="0.7"/>
<line x1="125.5" y1="449.4" x2="125.5" y2="443.15" stroke="#222" stroke-width="0.7"/>
<line x1="123.7" y1="449.4" x2="127.3" y2="449.4" stroke="#222" stroke-width="0.7"/>
<line x1="123.7" y1="443.15" x2="127.3" y2="443.15" stroke="#222" stroke-width="0.7"/>
<circle cx="117.83" cy="430.65" r="1.45" fill="#000"/>
<circle cx="118.58" cy="436.9" r="1.45" fill="#000"/>
<circle cx="119.43" cy="438.15" r="1.45" fill="#000"/>
<circle cx="116.51" cy="440.65" r="1.45" fill="#000"/>
<circle cx="116.23" cy="443.15" r="1.45" fill="#000"/>
<circle cx="118.6" cy="444.4" r="1.45" fill="#000"/>
<circle cx="117.09" cy="446.9" r="1.45" fill="#000"/>
<circle cx="118.7" cy="449.4" r="1.45" fill="#000"/>
<circle cx="119.41" cy="466.9" r="1.45" fill="#000"/>
<circle cx="115.76" cy="469.4" r="1.45" fill="#000"/>
<rect x="123.03" y="437.95" width="2.9" height="2.9" fill="#3d1a7d"/>
<rect x="125.35" y="440.45" width="2.9" height="2.9" fill="#3d1a7d"/>
<rect x="122" y="441.7" width="2.9" height="2.9" fill="#3d1a7d"/>
<rect x="125.42" y="442.95" width="2.9" height="2.9" fill="#3d1a7d"/>
<rect x="122.92" y="444.2" width="2.9" height="2.9" fill="#3d1a7d"/>
<rect x="124.35" y="445.45" width="2.9" height="2.9" fill="#3d1a7d"/>
<rect x="125.57" y="446.7" width="2.9" height="2.9" fill="#3d1a7d"/>
<rect x="122.93" y="447.95" width="2.9" height="2.9" fill="#3d1a7d"/>
<line x1="60.1" y1="449.1" x2="67.6" y2="449.1" stroke="#8e8e8e" stroke-width="0.9"/>
<text x="63.85" y="449.1" font-size="9" text-anchor="middle" font-weight="bold" letter-spacing="0.5">*</text>
<line x1="79.2" y1="418.7" x2="87.1" y2="418.7" stroke="#8e8e8e" stroke-width="0.9"/>
<text x="83.15" y="418.7" font-size="9" text-anchor="middle" font-weight="bold" letter-spacing="0.5">*</text>
<line x1="63.5" y1="496.9" x2="63.5" y2="499.4" stroke="#7a7a7a" stroke-width="0.8"/>
<line x1="82.9" y1="496.9" x2="82.9" y2="499.4" stroke="#7a7a7a" stroke-width="0.8"/>
<line x1="102.2" y1="496.9" x2="102.2" y2="499.4" stroke="#7a7a7a" stroke-width="0.8"/>
<line x1="121.6" y1="496.9" x2="121.6" y2="499.4" stroke="#7a7a7a" stroke-width="0.8"/>
<text x="67.7" y="506.8" font-size="7.4" text-anchor="end" transform="rotate(-45 67.7 506.8)">iWAT</text>
<text x="87.1" y="506.8" font-size="7.4" text-anchor="end" transform="rotate(-45 87.1 506.8)">gWAT</text>
<text x="106.4" y="506.8" font-size="7.4" text-anchor="end" transform="rotate(-45 106.4 506.8)">rBMAT</text>
<text x="125.8" y="506.8" font-size="7.4" text-anchor="end" transform="rotate(-45 125.8 506.8)">cBMAT</text>
<text x="145.6" y="380.9" font-size="11" font-weight="bold" fill="#000">h</text>
<circle cx="210.5" cy="379.8" r="1.55" fill="#000"/>
<rect x="209.05" y="387.75" width="2.9" height="2.9" fill="#3d1a7d"/>
<text x="215.1" y="382.4" font-size="7.6">Control</text>
<text x="215.1" y="391.8" font-size="7.6">ICV leptin</text>
<line x1="204.9" y1="397.1" x2="204.9" y2="442.7" stroke="#7a7a7a" stroke-width="0.8"/>
<line x1="201.4" y1="397.04" x2="204.9" y2="397.04" stroke="#7a7a7a" stroke-width="0.8"/>
<text x="197.3" y="399.49" font-size="6.9" text-anchor="end" fill="#333" letter-spacing="0.12">8,000,000</text>
<line x1="201.4" y1="409.18" x2="204.9" y2="409.18" stroke="#7a7a7a" stroke-width="0.8"/>
<text x="197.3" y="411.63" font-size="6.9" text-anchor="end" fill="#333" letter-spacing="0.12">6,000,000</text>
<line x1="201.4" y1="421.32" x2="204.9" y2="421.32" stroke="#7a7a7a" stroke-width="0.8"/>
<text x="197.3" y="423.77" font-size="6.9" text-anchor="end" fill="#333" letter-spacing="0.12">4,000,000</text>
<line x1="201.4" y1="433.46" x2="204.9" y2="433.46" stroke="#7a7a7a" stroke-width="0.8"/>
<text x="197.3" y="435.91" font-size="6.9" text-anchor="end" fill="#333" letter-spacing="0.12">2,000,000</text>
<line x1="201.4" y1="442.7" x2="206.4" y2="442.7" stroke="#7a7a7a" stroke-width="0.8"/>
<line x1="204.9" y1="450.3" x2="204.9" y2="496.1" stroke="#7a7a7a" stroke-width="0.8"/>
<line x1="201.4" y1="450.3" x2="206.4" y2="450.3" stroke="#7a7a7a" stroke-width="0.8"/>
<line x1="201.4" y1="450.3" x2="204.9" y2="450.3" stroke="#7a7a7a" stroke-width="0.8"/>
<text x="197.3" y="452.75" font-size="6.9" text-anchor="end" fill="#333" letter-spacing="0.12">200,000</text>
<line x1="201.4" y1="461.75" x2="204.9" y2="461.75" stroke="#7a7a7a" stroke-width="0.8"/>
<text x="197.3" y="464.2" font-size="6.9" text-anchor="end" fill="#333" letter-spacing="0.12">150,000</text>
<line x1="201.4" y1="473.2" x2="204.9" y2="473.2" stroke="#7a7a7a" stroke-width="0.8"/>
<text x="197.3" y="475.65" font-size="6.9" text-anchor="end" fill="#333" letter-spacing="0.12">100,000</text>
<line x1="201.4" y1="484.65" x2="204.9" y2="484.65" stroke="#7a7a7a" stroke-width="0.8"/>
<text x="197.3" y="487.1" font-size="6.9" text-anchor="end" fill="#333" letter-spacing="0.12">50,000</text>
<line x1="201.4" y1="496.1" x2="204.9" y2="496.1" stroke="#7a7a7a" stroke-width="0.8"/>
<text x="197.3" y="498.55" font-size="6.9" text-anchor="end" fill="#333" letter-spacing="0.12">0</text>
<line x1="200.6" y1="496.1" x2="282.2" y2="496.1" stroke="#7a7a7a" stroke-width="0.8"/>
<text x="148.6" y="446" font-size="7.3" text-anchor="middle" transform="rotate(-90 148.6 446)">Estimated cell number</text>
<text x="158.2" y="446" font-size="7.3" text-anchor="middle" transform="rotate(-90 158.2 446)">(day 1)</text>
<rect x="208.25" y="425.57" width="6" height="70.53" fill="#bdbdbd" stroke="#2a2a2a" stroke-width="0.8"/>
<rect x="215.9" y="423.75" width="6" height="72.35" fill="#d9c8fa" stroke="#2a2a2a" stroke-width="0.8"/>
<rect x="207.25" y="443.1" width="22" height="6.9" fill="#fff"/>
<line x1="211.25" y1="428" x2="211.25" y2="423.14" stroke="#222" stroke-width="0.7"/>
<line x1="209.45" y1="428" x2="213.05" y2="428" stroke="#222" stroke-width="0.7"/>
<line x1="209.45" y1="423.14" x2="213.05" y2="423.14" stroke="#222" stroke-width="0.7"/>
<line x1="218.9" y1="426.78" x2="218.9" y2="420.71" stroke="#222" stroke-width="0.7"/>
<line x1="217.1" y1="426.78" x2="220.7" y2="426.78" stroke="#222" stroke-width="0.7"/>
<line x1="217.1" y1="420.71" x2="220.7" y2="420.71" stroke="#222" stroke-width="0.7"/>
<circle cx="210.85" cy="417.07" r="1.45" fill="#000"/>
<circle cx="212.44" cy="419.5" r="1.45" fill="#000"/>
<circle cx="211.22" cy="421.93" r="1.45" fill="#000"/>
<circle cx="211.09" cy="423.75" r="1.45" fill="#000"/>
<circle cx="210.2" cy="424.96" r="1.45" fill="#000"/>
<circle cx="211.92" cy="426.18" r="1.45" fill="#000"/>
<circle cx="210.28" cy="427.39" r="1.45" fill="#000"/>
<circle cx="213.12" cy="428.6" r="1.45" fill="#000"/>
<circle cx="210.23" cy="429.82" r="1.45" fill="#000"/>
<rect x="219.29" y="407.73" width="2.9" height="2.9" fill="#3d1a7d"/>
<rect x="217.6" y="413.8" width="2.9" height="2.9" fill="#3d1a7d"/>
<rect x="217.66" y="416.84" width="2.9" height="2.9" fill="#3d1a7d"/>
<rect x="217.35" y="419.87" width="2.9" height="2.9" fill="#3d1a7d"/>
<rect x="216.22" y="422.3" width="2.9" height="2.9" fill="#3d1a7d"/>
<rect x="215.62" y="424.12" width="2.9" height="2.9" fill="#3d1a7d"/>
<rect x="217.04" y="425.94" width="2.9" height="2.9" fill="#3d1a7d"/>
<rect x="217.46" y="428.98" width="2.9" height="2.9" fill="#3d1a7d"/>
<rect x="218.54" y="433.83" width="2.9" height="2.9" fill="#3d1a7d"/>
<rect x="227" y="437.71" width="6" height="58.39" fill="#bdbdbd" stroke="#2a2a2a" stroke-width="0.8"/>
<rect x="235.2" y="437.1" width="6" height="59" fill="#d9c8fa" stroke="#2a2a2a" stroke-width="0.8"/>
<rect x="226" y="443.1" width="22" height="6.9" fill="#fff"/>
<line x1="230" y1="440.14" x2="230" y2="435.28" stroke="#222" stroke-width="0.7"/>
<line x1="228.2" y1="440.14" x2="231.8" y2="440.14" stroke="#222" stroke-width="0.7"/>
<line x1="228.2" y1="435.28" x2="231.8" y2="435.28" stroke="#222" stroke-width="0.7"/>
<line x1="238.2" y1="440.14" x2="238.2" y2="434.07" stroke="#222" stroke-width="0.7"/>
<line x1="236.4" y1="440.14" x2="240" y2="440.14" stroke="#222" stroke-width="0.7"/>
<line x1="236.4" y1="434.07" x2="240" y2="434.07" stroke="#222" stroke-width="0.7"/>
<circle cx="228.15" cy="429.82" r="1.45" fill="#000"/>
<circle cx="231.86" cy="432.85" r="1.45" fill="#000"/>
<circle cx="228.79" cy="434.67" r="1.45" fill="#000"/>
<circle cx="231.96" cy="436.5" r="1.45" fill="#000"/>
<circle cx="231.77" cy="437.71" r="1.45" fill="#000"/>
<circle cx="229.04" cy="438.92" r="1.45" fill="#000"/>
<circle cx="230.06" cy="439.53" r="1.45" fill="#000"/>
<circle cx="229.6" cy="440.14" r="1.45" fill="#000"/>
<circle cx="229.64" cy="440.74" r="1.45" fill="#000"/>
<rect x="235.3" y="424.12" width="2.9" height="2.9" fill="#3d1a7d"/>
<rect x="236.46" y="430.8" width="2.9" height="2.9" fill="#3d1a7d"/>
<rect x="238.14" y="433.22" width="2.9" height="2.9" fill="#3d1a7d"/>
<rect x="236.56" y="435.05" width="2.9" height="2.9" fill="#3d1a7d"/>
<rect x="235.69" y="436.26" width="2.9" height="2.9" fill="#3d1a7d"/>
<rect x="237.42" y="437.47" width="2.9" height="2.9" fill="#3d1a7d"/>
<rect x="235.98" y="438.69" width="2.9" height="2.9" fill="#3d1a7d"/>
<rect x="237.08" y="439.29" width="2.9" height="2.9" fill="#3d1a7d"/>
<rect x="246.3" y="474.35" width="6" height="21.75" fill="#bdbdbd" stroke="#2a2a2a" stroke-width="0.8"/>
<rect x="254.3" y="476.64" width="6" height="19.46" fill="#d9c8fa" stroke="#2a2a2a" stroke-width="0.8"/>
<line x1="249.3" y1="477.32" x2="249.3" y2="471.37" stroke="#222" stroke-width="0.7"/>
<line x1="247.5" y1="477.32" x2="251.1" y2="477.32" stroke="#222" stroke-width="0.7"/>
<line x1="247.5" y1="471.37" x2="251.1" y2="471.37" stroke="#222" stroke-width="0.7"/>
<line x1="257.3" y1="481.22" x2="257.3" y2="473.2" stroke="#222" stroke-width="0.7"/>
<line x1="255.5" y1="481.22" x2="259.1" y2="481.22" stroke="#222" stroke-width="0.7"/>
<line x1="255.5" y1="473.2" x2="259.1" y2="473.2" stroke="#222" stroke-width="0.7"/>
<circle cx="248.04" cy="460.61" r="1.45" fill="#000"/>
<circle cx="249.56" cy="466.33" r="1.45" fill="#000"/>
<circle cx="249.82" cy="467.48" r="1.45" fill="#000"/>
<circle cx="248.44" cy="469.77" r="1.45" fill="#000"/>
<circle cx="248.01" cy="472.06" r="1.45" fill="#000"/>
<circle cx="250.39" cy="474.35" r="1.45" fill="#000"/>
<circle cx="249.76" cy="475.49" r="1.45" fill="#000"/>
<circle cx="248.05" cy="476.64" r="1.45" fill="#000"/>
<circle cx="249.56" cy="477.78" r="1.45" fill="#000"/>
<circle cx="250.06" cy="478.93" r="1.45" fill="#000"/>
<rect x="255.57" y="460.3" width="2.9" height="2.9" fill="#3d1a7d"/>
<rect x="255.95" y="467.17" width="2.9" height="2.9" fill="#3d1a7d"/>
<rect x="254.62" y="469.46" width="2.9" height="2.9" fill="#3d1a7d"/>
<rect x="256.89" y="471.75" width="2.9" height="2.9" fill="#3d1a7d"/>
<rect x="254.7" y="474.04" width="2.9" height="2.9" fill="#3d1a7d"/>
<rect x="256.74" y="476.33" width="2.9" height="2.9" fill="#3d1a7d"/>
<rect x="255.37" y="478.62" width="2.9" height="2.9" fill="#3d1a7d"/>
<rect x="256.54" y="482.06" width="2.9" height="2.9" fill="#3d1a7d"/>
<rect x="256.96" y="487.78" width="2.9" height="2.9" fill="#3d1a7d"/>
<rect x="265.3" y="485.8" width="6" height="10.31" fill="#bdbdbd" stroke="#2a2a2a" stroke-width="0.8"/>
<rect x="273.6" y="485.8" width="6" height="10.31" fill="#d9c8fa" stroke="#2a2a2a" stroke-width="0.8"/>
<line x1="268.3" y1="487.4" x2="268.3" y2="483.5" stroke="#222" stroke-width="0.7"/>
<line x1="266.5" y1="487.4" x2="270.1" y2="487.4" stroke="#222" stroke-width="0.7"/>
<line x1="266.5" y1="483.5" x2="270.1" y2="483.5" stroke="#222" stroke-width="0.7"/>
<line x1="276.6" y1="486.94" x2="276.6" y2="484.19" stroke="#222" stroke-width="0.7"/>
<line x1="274.8" y1="486.94" x2="278.4" y2="486.94" stroke="#222" stroke-width="0.7"/>
<line x1="274.8" y1="484.19" x2="278.4" y2="484.19" stroke="#222" stroke-width="0.7"/>
<circle cx="268.85" cy="477.78" r="1.45" fill="#000"/>
<circle cx="267.51" cy="482.36" r="1.45" fill="#000"/>
<circle cx="269.06" cy="483.5" r="1.45" fill="#000"/>
<circle cx="268.38" cy="484.65" r="1.45" fill="#000"/>
<circle cx="268.01" cy="485.8" r="1.45" fill="#000"/>
<circle cx="266.4" cy="486.48" r="1.45" fill="#000"/>
<circle cx="267.86" cy="486.94" r="1.45" fill="#000"/>
<circle cx="268.8" cy="487.4" r="1.45" fill="#000"/>
<rect x="273.91" y="482.06" width="2.9" height="2.9" fill="#3d1a7d"/>
<rect x="277" y="482.74" width="2.9" height="2.9" fill="#3d1a7d"/>
<rect x="274.58" y="483.2" width="2.9" height="2.9" fill="#3d1a7d"/>
<rect x="276.34" y="483.66" width="2.9" height="2.9" fill="#3d1a7d"/>
<rect x="274.23" y="484.35" width="2.9" height="2.9" fill="#3d1a7d"/>
<rect x="274.9" y="485.03" width="2.9" height="2.9" fill="#3d1a7d"/>
<rect x="276.58" y="485.49" width="2.9" height="2.9" fill="#3d1a7d"/>
<line x1="214.7" y1="496.1" x2="214.7" y2="498.6" stroke="#7a7a7a" stroke-width="0.8"/>
<line x1="234.2" y1="496.1" x2="234.2" y2="498.6" stroke="#7a7a7a" stroke-width="0.8"/>
<line x1="253.1" y1="496.1" x2="253.1" y2="498.6" stroke="#7a7a7a" stroke-width="0.8"/>
<line x1="272.3" y1="496.1" x2="272.3" y2="498.6" stroke="#7a7a7a" stroke-width="0.8"/>
<text x="218.7" y="506" font-size="7.4" text-anchor="end" transform="rotate(-45 218.7 506)">iWAT</text>
<text x="238.2" y="506" font-size="7.4" text-anchor="end" transform="rotate(-45 238.2 506)">gWAT</text>
<text x="257.1" y="506" font-size="7.4" text-anchor="end" transform="rotate(-45 257.1 506)">rBMAT</text>
<text x="276.3" y="506" font-size="7.4" text-anchor="end" transform="rotate(-45 276.3 506)">cBMAT</text>
<text x="298.8" y="380.9" font-size="11" font-weight="bold" fill="#000">i</text>
<line x1="330.7" y1="381.5" x2="340.7" y2="381.5" stroke="#000" stroke-width="0.9"/>
<line x1="330.7" y1="390.9" x2="340.7" y2="390.9" stroke="#f59a55" stroke-width="0.9"/>
<circle cx="335.7" cy="381.5" r="1.9" fill="#000"/>
<polygon points="335.7,392.85 337.57,389.62 333.83,389.62" fill="#f59a55"/>
<text x="345.2" y="384.1" font-size="7.6">Control</text>
<text x="345.2" y="393.5" font-size="7.6">Leptin 100 ng h<tspan dy="-2.2" font-size="4.6">−1</tspan></text>
<line x1="328.4" y1="397.1" x2="328.4" y2="496.1" stroke="#7a7a7a" stroke-width="0.8"/>
<line x1="324.5" y1="397.1" x2="328.4" y2="397.1" stroke="#7a7a7a" stroke-width="0.8"/>
<text x="321.6" y="399.55" font-size="6.9" text-anchor="end" fill="#333">2.0</text>
<line x1="324.5" y1="421.85" x2="328.4" y2="421.85" stroke="#7a7a7a" stroke-width="0.8"/>
<text x="321.6" y="424.3" font-size="6.9" text-anchor="end" fill="#333">1.5</text>
<line x1="324.5" y1="446.6" x2="328.4" y2="446.6" stroke="#7a7a7a" stroke-width="0.8"/>
<text x="321.6" y="449.05" font-size="6.9" text-anchor="end" fill="#333">1.0</text>
<line x1="324.5" y1="471.35" x2="328.4" y2="471.35" stroke="#7a7a7a" stroke-width="0.8"/>
<text x="321.6" y="473.8" font-size="6.9" text-anchor="end" fill="#333">0.5</text>
<line x1="324.5" y1="496.1" x2="328.4" y2="496.1" stroke="#7a7a7a" stroke-width="0.8"/>
<text x="321.6" y="498.55" font-size="6.9" text-anchor="end" fill="#333">0</text>
<line x1="328.4" y1="496.1" x2="416.7" y2="496.1" stroke="#7a7a7a" stroke-width="0.8"/>
<line x1="337" y1="496.1" x2="337" y2="498.7" stroke="#7a7a7a" stroke-width="0.8"/>
<line x1="354.9" y1="496.1" x2="354.9" y2="498.7" stroke="#7a7a7a" stroke-width="0.8"/>
<line x1="372.4" y1="496.1" x2="372.4" y2="498.7" stroke="#7a7a7a" stroke-width="0.8"/>
<line x1="390" y1="496.1" x2="390" y2="498.7" stroke="#7a7a7a" stroke-width="0.8"/>
<line x1="407.6" y1="496.1" x2="407.6" y2="498.7" stroke="#7a7a7a" stroke-width="0.8"/>
<line x1="337" y1="475.31" x2="337" y2="466.4" stroke="#f0a070" stroke-width="0.7"/>
<line x1="335.2" y1="475.31" x2="338.8" y2="475.31" stroke="#f0a070" stroke-width="0.7"/>
<line x1="335.2" y1="466.4" x2="338.8" y2="466.4" stroke="#f0a070" stroke-width="0.7"/>
<line x1="337" y1="475.31" x2="337" y2="462.44" stroke="#333" stroke-width="0.7"/>
<line x1="335.2" y1="475.31" x2="338.8" y2="475.31" stroke="#333" stroke-width="0.7"/>
<line x1="335.2" y1="462.44" x2="338.8" y2="462.44" stroke="#333" stroke-width="0.7"/>
<line x1="354.9" y1="460.46" x2="354.9" y2="422.84" stroke="#f0a070" stroke-width="0.7"/>
<line x1="353.1" y1="460.46" x2="356.7" y2="460.46" stroke="#f0a070" stroke-width="0.7"/>
<line x1="353.1" y1="422.84" x2="356.7" y2="422.84" stroke="#f0a070" stroke-width="0.7"/>
<line x1="354.9" y1="471.35" x2="354.9" y2="451.55" stroke="#333" stroke-width="0.7"/>
<line x1="353.1" y1="471.35" x2="356.7" y2="471.35" stroke="#333" stroke-width="0.7"/>
<line x1="353.1" y1="451.55" x2="356.7" y2="451.55" stroke="#333" stroke-width="0.7"/>
<line x1="372.4" y1="479.27" x2="372.4" y2="473.33" stroke="#f0a070" stroke-width="0.7"/>
<line x1="370.6" y1="479.27" x2="374.2" y2="479.27" stroke="#f0a070" stroke-width="0.7"/>
<line x1="370.6" y1="473.33" x2="374.2" y2="473.33" stroke="#f0a070" stroke-width="0.7"/>
<line x1="372.4" y1="481.25" x2="372.4" y2="460.96" stroke="#333" stroke-width="0.7"/>
<line x1="370.6" y1="481.25" x2="374.2" y2="481.25" stroke="#333" stroke-width="0.7"/>
<line x1="370.6" y1="460.96" x2="374.2" y2="460.96" stroke="#333" stroke-width="0.7"/>
<line x1="390" y1="479.27" x2="390" y2="473.83" stroke="#f0a070" stroke-width="0.7"/>
<line x1="388.2" y1="479.27" x2="391.8" y2="479.27" stroke="#f0a070" stroke-width="0.7"/>
<line x1="388.2" y1="473.83" x2="391.8" y2="473.83" stroke="#f0a070" stroke-width="0.7"/>
<line x1="390" y1="478.28" x2="390" y2="463.43" stroke="#333" stroke-width="0.7"/>
<line x1="388.2" y1="478.28" x2="391.8" y2="478.28" stroke="#333" stroke-width="0.7"/>
<line x1="388.2" y1="463.43" x2="391.8" y2="463.43" stroke="#333" stroke-width="0.7"/>
<line x1="407.6" y1="484.22" x2="407.6" y2="477.29" stroke="#f0a070" stroke-width="0.7"/>
<line x1="405.8" y1="484.22" x2="409.4" y2="484.22" stroke="#f0a070" stroke-width="0.7"/>
<line x1="405.8" y1="477.29" x2="409.4" y2="477.29" stroke="#f0a070" stroke-width="0.7"/>
<line x1="407.6" y1="481.25" x2="407.6" y2="465.41" stroke="#333" stroke-width="0.7"/>
<line x1="405.8" y1="481.25" x2="409.4" y2="481.25" stroke="#333" stroke-width="0.7"/>
<line x1="405.8" y1="465.41" x2="409.4" y2="465.41" stroke="#333" stroke-width="0.7"/>
<polyline points="337,468.88 354.9,441.65 372.4,476.3 390,476.3 407.6,480.26" fill="none" stroke="#f59a55" stroke-width="0.8" stroke-linejoin="round"/>
<polyline points="337,468.88 354.9,461.45 372.4,471.35 390,470.36 407.6,472.84" fill="none" stroke="#222" stroke-width="0.8" stroke-linejoin="round"/>
<polygon points="337,470.94 338.98,467.52 335.02,467.52" fill="#f59a55"/>
<polygon points="354.9,443.72 356.88,440.3 352.92,440.3" fill="#f59a55"/>
<polygon points="372.4,478.37 374.38,474.95 370.42,474.95" fill="#f59a55"/>
<polygon points="390,478.37 391.98,474.95 388.02,474.95" fill="#f59a55"/>
<polygon points="407.6,482.33 409.58,478.91 405.62,478.91" fill="#f59a55"/>
<circle cx="337" cy="468.88" r="2.2" fill="#000"/>
<circle cx="354.9" cy="461.45" r="2.2" fill="#000"/>
<circle cx="372.4" cy="471.35" r="2.2" fill="#000"/>
<circle cx="390" cy="470.36" r="2.2" fill="#000"/>
<circle cx="407.6" cy="472.84" r="2.2" fill="#000"/>
<text x="305" y="446.6" font-size="7.3" text-anchor="middle" transform="rotate(-90 305 446.6)">Blood ketones (mmol l<tspan dy="-2.2" font-size="4.6">−1</tspan>)</text>
<text x="355.3" y="418.6" font-size="6.4" text-anchor="middle"><tspan font-style="italic">P</tspan> = 0.052</text>
<text x="390.3" y="460.6" font-size="6.4"><tspan font-style="italic">P</tspan> = 0.064</text>
<text x="330.5" y="485.3" font-size="6.4">Two-way ANOVA</text>
<text x="330.5" y="494.2" font-size="6.2">Time × leptin <tspan font-style="italic">P</tspan> = 0.022</text>
<text x="341.4" y="504.4" font-size="7.4" text-anchor="end" transform="rotate(-45 341.4 504.4)">Pre-sx</text>
<text x="359.3" y="504.4" font-size="7.4" text-anchor="end" transform="rotate(-45 359.3 504.4)">d1</text>
<text x="376.8" y="504.4" font-size="7.4" text-anchor="end" transform="rotate(-45 376.8 504.4)">d3</text>
<text x="394.4" y="504.4" font-size="7.4" text-anchor="end" transform="rotate(-45 394.4 504.4)">d6</text>
<text x="412" y="504.4" font-size="7.4" text-anchor="end" transform="rotate(-45 412 504.4)">d9</text>
<text x="445.8" y="380.9" font-size="11" font-weight="bold" fill="#000">j</text>
<line x1="477.9" y1="381.5" x2="487.9" y2="381.5" stroke="#000" stroke-width="0.9"/>
<line x1="477.9" y1="390.9" x2="487.9" y2="390.9" stroke="#f59a55" stroke-width="0.9"/>
<circle cx="482.9" cy="381.5" r="1.9" fill="#000"/>
<polygon points="482.9,392.85 484.77,389.62 481.03,389.62" fill="#f59a55"/>
<text x="492.4" y="384.1" font-size="7.6">Control</text>
<text x="492.4" y="393.5" font-size="7.6">Leptin 100 ng h<tspan dy="-2.2" font-size="4.6">−1</tspan></text>
<line x1="475" y1="397.1" x2="475" y2="496.1" stroke="#7a7a7a" stroke-width="0.8"/>
<line x1="471.1" y1="397.1" x2="475" y2="397.1" stroke="#7a7a7a" stroke-width="0.8"/>
<text x="468.2" y="399.55" font-size="6.9" text-anchor="end" fill="#333">2.0</text>
<line x1="471.1" y1="421.85" x2="475" y2="421.85" stroke="#7a7a7a" stroke-width="0.8"/>
<text x="468.2" y="424.3" font-size="6.9" text-anchor="end" fill="#333">1.5</text>
<line x1="471.1" y1="446.6" x2="475" y2="446.6" stroke="#7a7a7a" stroke-width="0.8"/>
<text x="468.2" y="449.05" font-size="6.9" text-anchor="end" fill="#333">1.0</text>
<line x1="471.1" y1="471.35" x2="475" y2="471.35" stroke="#7a7a7a" stroke-width="0.8"/>
<text x="468.2" y="473.8" font-size="6.9" text-anchor="end" fill="#333">0.5</text>
<line x1="471.1" y1="496.1" x2="475" y2="496.1" stroke="#7a7a7a" stroke-width="0.8"/>
<text x="468.2" y="498.55" font-size="6.9" text-anchor="end" fill="#333">0</text>
<line x1="475" y1="496.1" x2="563.4" y2="496.1" stroke="#7a7a7a" stroke-width="0.8"/>
<line x1="484.2" y1="496.1" x2="484.2" y2="498.7" stroke="#7a7a7a" stroke-width="0.8"/>
<line x1="502" y1="496.1" x2="502" y2="498.7" stroke="#7a7a7a" stroke-width="0.8"/>
<line x1="519.6" y1="496.1" x2="519.6" y2="498.7" stroke="#7a7a7a" stroke-width="0.8"/>
<line x1="537.1" y1="496.1" x2="537.1" y2="498.7" stroke="#7a7a7a" stroke-width="0.8"/>
<line x1="554.7" y1="496.1" x2="554.7" y2="498.7" stroke="#7a7a7a" stroke-width="0.8"/>
<line x1="484.2" y1="441.65" x2="484.2" y2="433.24" stroke="#f0a070" stroke-width="0.7"/>
<line x1="482.4" y1="441.65" x2="486" y2="441.65" stroke="#f0a070" stroke-width="0.7"/>
<line x1="482.4" y1="433.24" x2="486" y2="433.24" stroke="#f0a070" stroke-width="0.7"/>
<line x1="484.2" y1="440.66" x2="484.2" y2="427.79" stroke="#333" stroke-width="0.7"/>
<line x1="482.4" y1="440.66" x2="486" y2="440.66" stroke="#333" stroke-width="0.7"/>
<line x1="482.4" y1="427.79" x2="486" y2="427.79" stroke="#333" stroke-width="0.7"/>
<line x1="502" y1="444.12" x2="502" y2="436.7" stroke="#f0a070" stroke-width="0.7"/>
<line x1="500.2" y1="444.12" x2="503.8" y2="444.12" stroke="#f0a070" stroke-width="0.7"/>
<line x1="500.2" y1="436.7" x2="503.8" y2="436.7" stroke="#f0a070" stroke-width="0.7"/>
<line x1="502" y1="443.13" x2="502" y2="436.21" stroke="#333" stroke-width="0.7"/>
<line x1="500.2" y1="443.13" x2="503.8" y2="443.13" stroke="#333" stroke-width="0.7"/>
<line x1="500.2" y1="436.21" x2="503.8" y2="436.21" stroke="#333" stroke-width="0.7"/>
<line x1="519.6" y1="460.46" x2="519.6" y2="436.7" stroke="#f0a070" stroke-width="0.7"/>
<line x1="517.8" y1="460.46" x2="521.4" y2="460.46" stroke="#f0a070" stroke-width="0.7"/>
<line x1="517.8" y1="436.7" x2="521.4" y2="436.7" stroke="#f0a070" stroke-width="0.7"/>
<line x1="519.6" y1="453.53" x2="519.6" y2="417.89" stroke="#333" stroke-width="0.7"/>
<line x1="517.8" y1="453.53" x2="521.4" y2="453.53" stroke="#333" stroke-width="0.7"/>
<line x1="517.8" y1="417.89" x2="521.4" y2="417.89" stroke="#333" stroke-width="0.7"/>
<line x1="537.1" y1="461.45" x2="537.1" y2="441.65" stroke="#f0a070" stroke-width="0.7"/>
<line x1="535.3" y1="461.45" x2="538.9" y2="461.45" stroke="#f0a070" stroke-width="0.7"/>
<line x1="535.3" y1="441.65" x2="538.9" y2="441.65" stroke="#f0a070" stroke-width="0.7"/>
<line x1="537.1" y1="455.02" x2="537.1" y2="428.78" stroke="#333" stroke-width="0.7"/>
<line x1="535.3" y1="455.02" x2="538.9" y2="455.02" stroke="#333" stroke-width="0.7"/>
<line x1="535.3" y1="428.78" x2="538.9" y2="428.78" stroke="#333" stroke-width="0.7"/>
<line x1="554.7" y1="475.31" x2="554.7" y2="463.43" stroke="#f0a070" stroke-width="0.7"/>
<line x1="552.9" y1="475.31" x2="556.5" y2="475.31" stroke="#f0a070" stroke-width="0.7"/>
<line x1="552.9" y1="463.43" x2="556.5" y2="463.43" stroke="#f0a070" stroke-width="0.7"/>
<line x1="554.7" y1="450.56" x2="554.7" y2="432.74" stroke="#333" stroke-width="0.7"/>
<line x1="552.9" y1="450.56" x2="556.5" y2="450.56" stroke="#333" stroke-width="0.7"/>
<line x1="552.9" y1="432.74" x2="556.5" y2="432.74" stroke="#333" stroke-width="0.7"/>
<polyline points="484.2,437.2 502,439.67 519.6,449.08 537.1,451.06 554.7,469.37" fill="none" stroke="#f59a55" stroke-width="0.8" stroke-linejoin="round"/>
<polyline points="484.2,434.23 502,439.67 519.6,435.71 537.1,442.15 554.7,441.65" fill="none" stroke="#222" stroke-width="0.8" stroke-linejoin="round"/>
<polygon points="484.2,439.27 486.18,435.85 482.22,435.85" fill="#f59a55"/>
<polygon points="502,441.74 503.98,438.32 500.02,438.32" fill="#f59a55"/>
<polygon points="519.6,451.15 521.58,447.73 517.62,447.73" fill="#f59a55"/>
<polygon points="537.1,453.12 539.08,449.7 535.12,449.7" fill="#f59a55"/>
<polygon points="554.7,471.44 556.68,468.02 552.72,468.02" fill="#f59a55"/>
<circle cx="484.2" cy="434.23" r="2.2" fill="#000"/>
<circle cx="502" cy="439.67" r="2.2" fill="#000"/>
<circle cx="519.6" cy="435.71" r="2.2" fill="#000"/>
<circle cx="537.1" cy="442.15" r="2.2" fill="#000"/>
<circle cx="554.7" cy="441.65" r="2.2" fill="#000"/>
<text x="453" y="446.6" font-size="7.3" text-anchor="middle" transform="rotate(-90 453 446.6)">Plasma FFA (mmol l<tspan dy="-2.2" font-size="4.6">−1</tspan>)</text>
<text x="554.95" y="431" font-size="9" text-anchor="middle" font-weight="bold" letter-spacing="0.5">***</text>
<text x="477.2" y="485.3" font-size="6.4">Two-way ANOVA</text>
<text x="477.2" y="494.2" font-size="6.2">Time × leptin P = 0.002</text>
<text x="488.6" y="504.4" font-size="7.4" text-anchor="end" transform="rotate(-45 488.6 504.4)">Pre-sx</text>
<text x="506.4" y="504.4" font-size="7.4" text-anchor="end" transform="rotate(-45 506.4 504.4)">d1</text>
<text x="524" y="504.4" font-size="7.4" text-anchor="end" transform="rotate(-45 524 504.4)">d3</text>
<text x="541.5" y="504.4" font-size="7.4" text-anchor="end" transform="rotate(-45 541.5 504.4)">d6</text>
<text x="559.1" y="504.4" font-size="7.4" text-anchor="end" transform="rotate(-45 559.1 504.4)">d9</text>
<text x="-0.6" y="540.3" font-size="11" font-weight="bold" fill="#000">k</text>
<circle cx="45.6" cy="536.9" r="1.55" fill="#000"/>
<polygon points="45.6,547.87 47.2,545.11 44.01,545.11" fill="#f59a55"/>
<text x="50.2" y="539.5" font-size="7.6">Control</text>
<text x="50.2" y="548.8" font-size="7.6">Leptin 100 ng h<tspan dy="-2.2" font-size="4.6">−1</tspan></text>
<line x1="41.1" y1="558.1" x2="41.1" y2="613.5" stroke="#7a7a7a" stroke-width="0.8"/>
<line x1="37.6" y1="558.2" x2="41.1" y2="558.2" stroke="#7a7a7a" stroke-width="0.8"/>
<text x="34.5" y="560.5" font-size="6.4" text-anchor="end" fill="#333">50</text>
<line x1="37.6" y1="573.9" x2="41.1" y2="573.9" stroke="#7a7a7a" stroke-width="0.8"/>
<text x="34.5" y="576.2" font-size="6.4" text-anchor="end" fill="#333">40</text>
<line x1="37.6" y1="589.6" x2="41.1" y2="589.6" stroke="#7a7a7a" stroke-width="0.8"/>
<text x="34.5" y="591.9" font-size="6.4" text-anchor="end" fill="#333">30</text>
<line x1="37.6" y1="605.3" x2="41.1" y2="605.3" stroke="#7a7a7a" stroke-width="0.8"/>
<text x="34.5" y="607.6" font-size="6.4" text-anchor="end" fill="#333">20</text>
<line x1="37.6" y1="613.5" x2="42.6" y2="613.5" stroke="#7a7a7a" stroke-width="0.8"/>
<line x1="41.1" y1="620.4" x2="41.1" y2="657.8" stroke="#7a7a7a" stroke-width="0.8"/>
<line x1="37.6" y1="620.4" x2="42.6" y2="620.4" stroke="#7a7a7a" stroke-width="0.8"/>
<line x1="37.6" y1="620.4" x2="41.1" y2="620.4" stroke="#7a7a7a" stroke-width="0.8"/>
<text x="34.5" y="622.7" font-size="6.4" text-anchor="end" fill="#333">5</text>
<line x1="37.6" y1="627.88" x2="41.1" y2="627.88" stroke="#7a7a7a" stroke-width="0.8"/>
<text x="34.5" y="630.18" font-size="6.4" text-anchor="end" fill="#333">4</text>
<line x1="37.6" y1="635.36" x2="41.1" y2="635.36" stroke="#7a7a7a" stroke-width="0.8"/>
<text x="34.5" y="637.66" font-size="6.4" text-anchor="end" fill="#333">3</text>
<line x1="37.6" y1="642.84" x2="41.1" y2="642.84" stroke="#7a7a7a" stroke-width="0.8"/>
<text x="34.5" y="645.14" font-size="6.4" text-anchor="end" fill="#333">2</text>
<line x1="37.6" y1="650.32" x2="41.1" y2="650.32" stroke="#7a7a7a" stroke-width="0.8"/>
<text x="34.5" y="652.62" font-size="6.4" text-anchor="end" fill="#333">1</text>
<line x1="37.6" y1="657.8" x2="41.1" y2="657.8" stroke="#7a7a7a" stroke-width="0.8"/>
<text x="34.5" y="660.1" font-size="6.4" text-anchor="end" fill="#333">0</text>
<line x1="41.1" y1="657.8" x2="129.9" y2="657.8" stroke="#7a7a7a" stroke-width="0.8"/>
<text x="9.6" y="608.5" font-size="8.0" text-anchor="middle" transform="rotate(-90 9.6 608.5)">EchoMRI (g)</text>
<text x="21" y="608.5" font-size="7.3" text-anchor="middle" transform="rotate(-90 21 608.5)">(day 7)</text>
<rect x="45.5" y="595.88" width="7" height="61.92" fill="#bdbdbd" stroke="#2a2a2a" stroke-width="0.8"/>
<rect x="54.4" y="599.8" width="7" height="58" fill="#fdd9c2" stroke="#2a2a2a" stroke-width="0.8"/>
<rect x="44.5" y="613.9" width="17.9" height="6.3" fill="#fff"/>
<circle cx="48.99" cy="594.62" r="1.6" fill="#000"/>
<circle cx="48.7" cy="595.09" r="1.6" fill="#000"/>
<circle cx="50.36" cy="595.88" r="1.6" fill="#000"/>
<circle cx="50.24" cy="596.51" r="1.6" fill="#000"/>
<circle cx="50.23" cy="594" r="1.6" fill="#000"/>
<circle cx="48.55" cy="597.14" r="1.6" fill="#000"/>
<circle cx="50.91" cy="595.41" r="1.6" fill="#000"/>
<polygon points="59.25,600.75 60.9,597.89 57.6,597.89" fill="#f59a55"/>
<polygon points="56.21,601.22 57.86,598.37 54.56,598.37" fill="#f59a55"/>
<polygon points="58.5,601.53 60.15,598.68 56.85,598.68" fill="#f59a55"/>
<polygon points="57.5,602 59.15,599.15 55.85,599.15" fill="#f59a55"/>
<polygon points="58.11,600.9 59.76,598.05 56.46,598.05" fill="#f59a55"/>
<rect x="66.7" y="600.59" width="7" height="57.21" fill="#bdbdbd" stroke="#2a2a2a" stroke-width="0.8"/>
<rect x="75.6" y="604.51" width="7" height="53.28" fill="#fdd9c2" stroke="#2a2a2a" stroke-width="0.8"/>
<rect x="65.7" y="613.9" width="17.9" height="6.3" fill="#fff"/>
<circle cx="69.15" cy="599.33" r="1.6" fill="#000"/>
<circle cx="69.54" cy="599.8" r="1.6" fill="#000"/>
<circle cx="71.39" cy="600.59" r="1.6" fill="#000"/>
<circle cx="71.87" cy="601.22" r="1.6" fill="#000"/>
<circle cx="72.26" cy="598.71" r="1.6" fill="#000"/>
<circle cx="71.18" cy="601.85" r="1.6" fill="#000"/>
<circle cx="70.11" cy="600.12" r="1.6" fill="#000"/>
<polygon points="77.37,605.45 79.02,602.6 75.72,602.6" fill="#f59a55"/>
<polygon points="78.7,605.93 80.35,603.08 77.05,603.08" fill="#f59a55"/>
<polygon points="77.01,606.24 78.66,603.39 75.36,603.39" fill="#f59a55"/>
<polygon points="77.39,606.71 79.04,603.86 75.74,603.86" fill="#f59a55"/>
<polygon points="79.51,605.61 81.16,602.76 77.86,602.76" fill="#f59a55"/>
<rect x="108.9" y="607.65" width="7" height="50.14" fill="#bdbdbd" stroke="#2a2a2a" stroke-width="0.8"/>
<rect x="118" y="609.22" width="7" height="48.58" fill="#fdd9c2" stroke="#2a2a2a" stroke-width="0.8"/>
<rect x="107.9" y="613.9" width="18.1" height="6.3" fill="#fff"/>
<circle cx="113.06" cy="606.4" r="1.6" fill="#000"/>
<circle cx="110.74" cy="606.87" r="1.6" fill="#000"/>
<circle cx="113.74" cy="607.65" r="1.6" fill="#000"/>
<circle cx="112.58" cy="608.28" r="1.6" fill="#000"/>
<circle cx="111.84" cy="605.77" r="1.6" fill="#000"/>
<circle cx="113.44" cy="608.91" r="1.6" fill="#000"/>
<circle cx="113.16" cy="607.18" r="1.6" fill="#000"/>
<polygon points="122.75,610.16 124.4,607.31 121.1,607.31" fill="#f59a55"/>
<polygon points="121.25,610.64 122.9,607.79 119.6,607.79" fill="#f59a55"/>
<polygon points="123.36,610.95 125.01,608.1 121.71,608.1" fill="#f59a55"/>
<polygon points="120.39,611.42 122.04,608.57 118.74,608.57" fill="#f59a55"/>
<polygon points="121.8,610.32 123.45,607.47 120.15,607.47" fill="#f59a55"/>
<rect x="87.7" y="639.85" width="7" height="17.95" fill="#bdbdbd" stroke="#2a2a2a" stroke-width="0.8"/>
<rect x="96.8" y="645.08" width="7" height="12.72" fill="#fdd9c2" stroke="#2a2a2a" stroke-width="0.8"/>
<circle cx="89.28" cy="638.35" r="1.6" fill="#000"/>
<circle cx="93.16" cy="639.1" r="1.6" fill="#000"/>
<circle cx="92.13" cy="639.85" r="1.6" fill="#000"/>
<circle cx="92.6" cy="640.6" r="1.6" fill="#000"/>
<circle cx="92.63" cy="641.34" r="1.6" fill="#000"/>
<circle cx="91.67" cy="639.47" r="1.6" fill="#000"/>
<polygon points="99.97,646.18 101.73,643.14 98.21,643.14" fill="#f59a55"/>
<polygon points="99.95,646.55 101.71,643.51 98.19,643.51" fill="#f59a55"/>
<polygon points="99.86,646.92 101.62,643.88 98.1,643.88" fill="#f59a55"/>
<polygon points="99.47,647.3 101.23,644.26 97.71,644.26" fill="#f59a55"/>
<polygon points="98.68,647.67 100.44,644.63 96.92,644.63" fill="#f59a55"/>
<polyline points="48.5,593.4 48.5,581.2 57.5,581.2 57.5,597.5" fill="none" stroke="#9a9a9a" stroke-width="0.8" stroke-linejoin="round"/>
<text x="53" y="581.2" font-size="9" text-anchor="middle" font-weight="bold" letter-spacing="0.5">*</text>
<text x="53" y="568.2" font-size="5.8" text-anchor="middle">−11.2%</text>
<polyline points="70.2,598 70.2,581.2 79.5,581.2 79.5,602" fill="none" stroke="#9a9a9a" stroke-width="0.8" stroke-linejoin="round"/>
<text x="74.85" y="581.2" font-size="9" text-anchor="middle" font-weight="bold" letter-spacing="0.5">*</text>
<text x="74.85" y="568.6" font-size="5.8" text-anchor="middle">−10.6%</text>
<polyline points="113.4,605 113.4,581.2 122.4,581.2 122.4,606.5" fill="none" stroke="#9a9a9a" stroke-width="0.8" stroke-linejoin="round"/>
<text x="117.9" y="581.2" font-size="9" text-anchor="middle" font-weight="bold" letter-spacing="0.5">*</text>
<text x="117.9" y="568.2" font-size="5.8" text-anchor="middle">−9.4%</text>
<polyline points="91.4,637 91.4,629.7 100.7,629.7 100.7,642.5" fill="none" stroke="#9a9a9a" stroke-width="0.8" stroke-linejoin="round"/>
<text x="96.05" y="629.4" font-size="9" text-anchor="middle" font-weight="bold" letter-spacing="0.5">*</text>
<text x="96.05" y="609.3" font-size="5.8" text-anchor="middle">−31.1%</text>
<line x1="53.3" y1="657.8" x2="53.3" y2="660.3" stroke="#7a7a7a" stroke-width="0.8"/>
<line x1="74.6" y1="657.8" x2="74.6" y2="660.3" stroke="#7a7a7a" stroke-width="0.8"/>
<line x1="96.2" y1="657.8" x2="96.2" y2="660.3" stroke="#7a7a7a" stroke-width="0.8"/>
<line x1="116.8" y1="657.8" x2="116.8" y2="660.3" stroke="#7a7a7a" stroke-width="0.8"/>
<text x="56.9" y="668.5" font-size="6.8" text-anchor="end" transform="rotate(-45 56.9 668.5)">Body</text>
<text x="78.2" y="668.5" font-size="6.8" text-anchor="end" transform="rotate(-45 78.2 668.5)">Lean</text>
<text x="99.8" y="668.5" font-size="6.8" text-anchor="end" transform="rotate(-45 99.8 668.5)">Fat</text>
<text x="120.4" y="668.5" font-size="6.8" text-anchor="end" transform="rotate(-45 120.4 668.5)">Fluid</text>
<circle cx="192.2" cy="536.9" r="1.55" fill="#000"/>
<polygon points="192.2,547.87 193.79,545.11 190.6,545.11" fill="#f59a55"/>
<text x="196.8" y="539.5" font-size="7.6">Control</text>
<text x="196.8" y="548.8" font-size="7.6">Leptin 100 ng h<tspan dy="-2.2" font-size="4.6">−1</tspan></text>
<line x1="187.2" y1="558.7" x2="187.2" y2="658.1" stroke="#7a7a7a" stroke-width="0.8"/>
<line x1="183.3" y1="558.4" x2="187.2" y2="558.4" stroke="#7a7a7a" stroke-width="0.8"/>
<text x="180.4" y="560.85" font-size="6.9" text-anchor="end" fill="#333">100</text>
<line x1="183.3" y1="578.34" x2="187.2" y2="578.34" stroke="#7a7a7a" stroke-width="0.8"/>
<text x="180.4" y="580.79" font-size="6.9" text-anchor="end" fill="#333">80</text>
<line x1="183.3" y1="598.28" x2="187.2" y2="598.28" stroke="#7a7a7a" stroke-width="0.8"/>
<text x="180.4" y="600.73" font-size="6.9" text-anchor="end" fill="#333">60</text>
<line x1="183.3" y1="618.22" x2="187.2" y2="618.22" stroke="#7a7a7a" stroke-width="0.8"/>
<text x="180.4" y="620.67" font-size="6.9" text-anchor="end" fill="#333">40</text>
<line x1="183.3" y1="638.16" x2="187.2" y2="638.16" stroke="#7a7a7a" stroke-width="0.8"/>
<text x="180.4" y="640.61" font-size="6.9" text-anchor="end" fill="#333">20</text>
<line x1="183.3" y1="658.1" x2="187.2" y2="658.1" stroke="#7a7a7a" stroke-width="0.8"/>
<text x="180.4" y="660.55" font-size="6.9" text-anchor="end" fill="#333">0</text>
<line x1="187.2" y1="658.1" x2="275.2" y2="658.1" stroke="#7a7a7a" stroke-width="0.8"/>
<text x="154.8" y="607.2" font-size="7.0" text-anchor="middle" transform="rotate(-90 154.8 607.2)">EchoMRI (% body mass)</text>
<text x="164.4" y="607.2" font-size="7.0" text-anchor="middle" transform="rotate(-90 164.4 607.2)">(day 7)</text>
<rect x="192.3" y="570.86" width="9.2" height="87.24" fill="#bdbdbd" stroke="#2a2a2a" stroke-width="0.8"/>
<rect x="203.7" y="570.86" width="9.2" height="87.24" fill="#fdd9c2" stroke="#2a2a2a" stroke-width="0.8"/>
<circle cx="197.62" cy="569.87" r="1.7" fill="#000"/>
<circle cx="197.56" cy="570.36" r="1.7" fill="#000"/>
<circle cx="195.57" cy="570.86" r="1.7" fill="#000"/>
<circle cx="198.48" cy="571.36" r="1.7" fill="#000"/>
<circle cx="196.06" cy="571.86" r="1.7" fill="#000"/>
<circle cx="196.2" cy="570.16" r="1.7" fill="#000"/>
<circle cx="198.02" cy="571.16" r="1.7" fill="#000"/>
<polygon points="208.33,571.82 210.2,568.59 206.46,568.59" fill="#f59a55"/>
<polygon points="206.59,572.32 208.46,569.09 204.72,569.09" fill="#f59a55"/>
<polygon points="207.54,572.82 209.41,569.59 205.67,569.59" fill="#f59a55"/>
<polygon points="209.88,573.32 211.75,570.09 208.01,570.09" fill="#f59a55"/>
<polygon points="209.32,571.52 211.19,568.29 207.45,568.29" fill="#f59a55"/>
<rect x="220.2" y="649.13" width="9.2" height="8.97" fill="#bdbdbd" stroke="#2a2a2a" stroke-width="0.8"/>
<rect x="232" y="651.12" width="9.2" height="6.98" fill="#fdd9c2" stroke="#2a2a2a" stroke-width="0.8"/>
<circle cx="223.1" cy="648.33" r="1.7" fill="#000"/>
<circle cx="224.05" cy="648.73" r="1.7" fill="#000"/>
<circle cx="223.21" cy="649.13" r="1.7" fill="#000"/>
<circle cx="223.83" cy="649.53" r="1.7" fill="#000"/>
<circle cx="226.83" cy="648.93" r="1.7" fill="#000"/>
<polygon points="236.41,652.48 238.28,649.25 234.54,649.25" fill="#f59a55"/>
<polygon points="236.97,652.88 238.84,649.65 235.1,649.65" fill="#f59a55"/>
<polygon points="238.17,653.08 240.04,649.85 236.3,649.85" fill="#f59a55"/>
<polygon points="237.9,653.28 239.77,650.05 236.03,650.05" fill="#f59a55"/>
<rect x="248.7" y="586.81" width="9.2" height="71.29" fill="#bdbdbd" stroke="#2a2a2a" stroke-width="0.8"/>
<rect x="260.1" y="585.32" width="9.2" height="72.78" fill="#fdd9c2" stroke="#2a2a2a" stroke-width="0.8"/>
<circle cx="251.49" cy="584.32" r="1.7" fill="#000"/>
<circle cx="255.07" cy="585.32" r="1.7" fill="#000"/>
<circle cx="252.17" cy="585.82" r="1.7" fill="#000"/>
<circle cx="254.34" cy="586.32" r="1.7" fill="#000"/>
<circle cx="252.24" cy="586.81" r="1.7" fill="#000"/>
<circle cx="254.82" cy="587.31" r="1.7" fill="#000"/>
<circle cx="254.04" cy="588.31" r="1.7" fill="#000"/>
<circle cx="251.04" cy="588.81" r="1.7" fill="#000"/>
<circle cx="255.67" cy="585.52" r="1.7" fill="#000"/>
<polygon points="266.03,585.28 267.9,582.05 264.16,582.05" fill="#f59a55"/>
<polygon points="264.65,586.28 266.52,583.05 262.78,583.05" fill="#f59a55"/>
<polygon points="264.1,586.78 265.97,583.55 262.23,583.55" fill="#f59a55"/>
<polygon points="264.26,587.27 266.13,584.04 262.39,584.04" fill="#f59a55"/>
<polygon points="263.51,587.77 265.38,584.54 261.64,584.54" fill="#f59a55"/>
<polygon points="263.34,588.27 265.21,585.04 261.47,585.04" fill="#f59a55"/>
<polyline points="225.3,644.3 225.3,632.3 236.7,632.3 236.7,646.5" fill="none" stroke="#9a9a9a" stroke-width="0.8" stroke-linejoin="round"/>
<text x="231" y="630" font-size="9" text-anchor="middle" font-weight="bold" letter-spacing="0.5">*</text>
<text x="231" y="619.3" font-size="5.8" text-anchor="middle">−22.4%</text>
<line x1="202.6" y1="658.1" x2="202.6" y2="660.6" stroke="#7a7a7a" stroke-width="0.8"/>
<line x1="230.7" y1="658.1" x2="230.7" y2="660.6" stroke="#7a7a7a" stroke-width="0.8"/>
<line x1="259" y1="658.1" x2="259" y2="660.6" stroke="#7a7a7a" stroke-width="0.8"/>
<text x="206.2" y="668.7" font-size="6.8" text-anchor="end" transform="rotate(-45 206.2 668.7)">Lean</text>
<text x="234.3" y="668.7" font-size="6.8" text-anchor="end" transform="rotate(-45 234.3 668.7)">Fat</text>
<text x="262.6" y="668.7" font-size="6.8" text-anchor="end" transform="rotate(-45 262.6 668.7)">Fluid</text>
<text x="287.2" y="540.3" font-size="10.5" font-weight="bold" fill="#000">l</text>
<circle cx="330.6" cy="537.5" r="1.55" fill="#000"/>
<polygon points="330.6,549.17 332.2,546.41 329,546.41" fill="#f59a55"/>
<text x="335.2" y="540.1" font-size="7.6">Control</text>
<text x="335.2" y="550.1" font-size="7.6">Leptin 100 ng h<tspan dy="-2.2" font-size="4.6">−1</tspan></text>
<line x1="324.8" y1="558.7" x2="324.8" y2="658" stroke="#7a7a7a" stroke-width="0.8"/>
<line x1="320.9" y1="558.7" x2="324.8" y2="558.7" stroke="#7a7a7a" stroke-width="0.8"/>
<text x="318" y="561.15" font-size="6.9" text-anchor="end" fill="#333">0.3</text>
<line x1="320.9" y1="591.8" x2="324.8" y2="591.8" stroke="#7a7a7a" stroke-width="0.8"/>
<text x="318" y="594.25" font-size="6.9" text-anchor="end" fill="#333">0.2</text>
<line x1="320.9" y1="624.9" x2="324.8" y2="624.9" stroke="#7a7a7a" stroke-width="0.8"/>
<text x="318" y="627.35" font-size="6.9" text-anchor="end" fill="#333">0.1</text>
<line x1="320.9" y1="658" x2="324.8" y2="658" stroke="#7a7a7a" stroke-width="0.8"/>
<text x="318" y="660.45" font-size="6.9" text-anchor="end" fill="#333">0</text>
<line x1="324.8" y1="658" x2="412.7" y2="658" stroke="#7a7a7a" stroke-width="0.8"/>
<text x="293.6" y="612.5" font-size="7.3" text-anchor="middle" transform="rotate(-90 293.6 612.5)">Muscle mass (g)</text>
<text x="303.2" y="612.5" font-size="7.3" text-anchor="middle" transform="rotate(-90 303.2 612.5)">(day 9)</text>
<rect x="329" y="646.41" width="7.4" height="11.59" fill="#bdbdbd" stroke="#2a2a2a" stroke-width="0.8"/>
<rect x="337.6" y="646.41" width="7.4" height="11.59" fill="#fdd9c2" stroke="#2a2a2a" stroke-width="0.8"/>
<circle cx="331.34" cy="644.76" r="1.5" fill="#000"/>
<circle cx="333" cy="645.42" r="1.5" fill="#000"/>
<circle cx="333.74" cy="646.08" r="1.5" fill="#000"/>
<circle cx="330.96" cy="646.41" r="1.5" fill="#000"/>
<circle cx="333.72" cy="646.75" r="1.5" fill="#000"/>
<circle cx="332.69" cy="647.41" r="1.5" fill="#000"/>
<circle cx="334.33" cy="645.75" r="1.5" fill="#000"/>
<polygon points="340.86,645.82 342.51,642.97 339.21,642.97" fill="#f59a55"/>
<polygon points="340.57,647.15 342.22,644.3 338.92,644.3" fill="#f59a55"/>
<polygon points="342.35,648.14 344,645.29 340.7,645.29" fill="#f59a55"/>
<polygon points="341.13,648.8 342.78,645.95 339.48,645.95" fill="#f59a55"/>
<polygon points="341.75,649.46 343.4,646.61 340.1,646.61" fill="#f59a55"/>
<rect x="349.8" y="591.8" width="7.4" height="66.2" fill="#bdbdbd" stroke="#2a2a2a" stroke-width="0.8"/>
<rect x="358.5" y="596.76" width="7.4" height="61.24" fill="#fdd9c2" stroke="#2a2a2a" stroke-width="0.8"/>
<line x1="353.5" y1="598.42" x2="353.5" y2="585.18" stroke="#222" stroke-width="0.7"/>
<line x1="351.7" y1="598.42" x2="355.3" y2="598.42" stroke="#222" stroke-width="0.7"/>
<line x1="351.7" y1="585.18" x2="355.3" y2="585.18" stroke="#222" stroke-width="0.7"/>
<line x1="362.2" y1="601.73" x2="362.2" y2="591.8" stroke="#222" stroke-width="0.7"/>
<line x1="360.4" y1="601.73" x2="364" y2="601.73" stroke="#222" stroke-width="0.7"/>
<line x1="360.4" y1="591.8" x2="364" y2="591.8" stroke="#222" stroke-width="0.7"/>
<circle cx="352.01" cy="576.9" r="1.5" fill="#000"/>
<circle cx="353.81" cy="583.52" r="1.5" fill="#000"/>
<circle cx="353.26" cy="586.84" r="1.5" fill="#000"/>
<circle cx="353.85" cy="588.49" r="1.5" fill="#000"/>
<circle cx="353.59" cy="591.8" r="1.5" fill="#000"/>
<circle cx="351.49" cy="593.46" r="1.5" fill="#000"/>
<circle cx="351.63" cy="595.11" r="1.5" fill="#000"/>
<circle cx="351.55" cy="598.42" r="1.5" fill="#000"/>
<circle cx="354.27" cy="601.73" r="1.5" fill="#000"/>
<circle cx="353.35" cy="606.7" r="1.5" fill="#000"/>
<polygon points="360.26,585.25 361.91,582.4 358.61,582.4" fill="#f59a55"/>
<polygon points="364.03,591.87 365.68,589.02 362.38,589.02" fill="#f59a55"/>
<polygon points="363.4,595.18 365.05,592.33 361.75,592.33" fill="#f59a55"/>
<polygon points="361.61,598.49 363.26,595.64 359.96,595.64" fill="#f59a55"/>
<polygon points="363.03,601.8 364.68,598.95 361.38,598.95" fill="#f59a55"/>
<polygon points="362.52,605.11 364.17,602.26 360.87,602.26" fill="#f59a55"/>
<polygon points="363.25,606.76 364.9,603.91 361.6,603.91" fill="#f59a55"/>
<rect x="371.1" y="619.27" width="7.4" height="38.73" fill="#bdbdbd" stroke="#2a2a2a" stroke-width="0.8"/>
<rect x="380.3" y="622.25" width="7.4" height="35.75" fill="#fdd9c2" stroke="#2a2a2a" stroke-width="0.8"/>
<circle cx="373.34" cy="616.62" r="1.5" fill="#000"/>
<circle cx="375.13" cy="617.62" r="1.5" fill="#000"/>
<circle cx="374.51" cy="618.28" r="1.5" fill="#000"/>
<circle cx="374.78" cy="618.94" r="1.5" fill="#000"/>
<circle cx="372.85" cy="619.93" r="1.5" fill="#000"/>
<circle cx="373.65" cy="620.93" r="1.5" fill="#000"/>
<circle cx="375.3" cy="621.59" r="1.5" fill="#000"/>
<polygon points="385.04,621.66 386.69,618.81 383.39,618.81" fill="#f59a55"/>
<polygon points="382.03,622.65 383.68,619.8 380.38,619.8" fill="#f59a55"/>
<polygon points="384.74,623.32 386.39,620.47 383.09,620.47" fill="#f59a55"/>
<polygon points="384.71,623.98 386.36,621.13 383.06,621.13" fill="#f59a55"/>
<polygon points="382.37,624.97 384.02,622.12 380.72,622.12" fill="#f59a55"/>
<rect x="392.6" y="655.68" width="7.4" height="2.32" fill="#bdbdbd" stroke="#2a2a2a" stroke-width="0.8"/>
<rect x="401.5" y="655.68" width="7.4" height="2.32" fill="#fdd9c2" stroke="#2a2a2a" stroke-width="0.8"/>
<circle cx="397.18" cy="655.35" r="1.5" fill="#000"/>
<circle cx="398.42" cy="655.68" r="1.5" fill="#000"/>
<circle cx="394.57" cy="655.52" r="1.5" fill="#000"/>
<circle cx="395.47" cy="655.85" r="1.5" fill="#000"/>
<polygon points="403.56,657.08 405.21,654.23 401.91,654.23" fill="#f59a55"/>
<polygon points="406.91,657.41 408.56,654.56 405.26,654.56" fill="#f59a55"/>
<polygon points="406.12,657.34 407.77,654.49 404.47,654.49" fill="#f59a55"/>
<polyline points="374.3,615.1 374.3,591.3 383.9,591.3 383.9,618.5" fill="none" stroke="#9a9a9a" stroke-width="0.8" stroke-linejoin="round"/>
<text x="379.1" y="591" font-size="9" text-anchor="middle" font-weight="bold" letter-spacing="0.5">*</text>
<text x="379.1" y="576.1" font-size="5.8" text-anchor="middle">−8.2%</text>
<polyline points="396.3,653 396.3,591.3 405.6,591.3 405.6,653.5" fill="none" stroke="#9a9a9a" stroke-width="0.8" stroke-linejoin="round"/>
<text x="400.95" y="591" font-size="9" text-anchor="middle" font-weight="bold" letter-spacing="0.5">*</text>
<text x="400.95" y="576.1" font-size="5.8" text-anchor="middle">−15.2%</text>
<line x1="337" y1="658" x2="337" y2="660.5" stroke="#7a7a7a" stroke-width="0.8"/>
<line x1="357.9" y1="658" x2="357.9" y2="660.5" stroke="#7a7a7a" stroke-width="0.8"/>
<line x1="379.4" y1="658" x2="379.4" y2="660.5" stroke="#7a7a7a" stroke-width="0.8"/>
<line x1="400.8" y1="658" x2="400.8" y2="660.5" stroke="#7a7a7a" stroke-width="0.8"/>
<text x="336.7" y="671.2" font-size="7" text-anchor="middle">TA</text>
<text x="357.9" y="671.2" font-size="7" text-anchor="middle">Quad</text>
<text x="379.6" y="671.2" font-size="7" text-anchor="middle">Gas</text>
<text x="401.1" y="671.2" font-size="7" text-anchor="middle">Sol</text>
<circle cx="480.9" cy="538.3" r="1.55" fill="#000"/>
<polygon points="480.9,549.17 482.5,546.41 479.3,546.41" fill="#f59a55"/>
<text x="485.5" y="540.9" font-size="7.6">Control</text>
<text x="485.5" y="550.1" font-size="7.6">Leptin 100 ng h<tspan dy="-2.2" font-size="4.6">−1</tspan></text>
<line x1="474.8" y1="558.7" x2="474.8" y2="658" stroke="#7a7a7a" stroke-width="0.8"/>
<line x1="470.9" y1="558.7" x2="474.8" y2="558.7" stroke="#7a7a7a" stroke-width="0.8"/>
<text x="468" y="561.15" font-size="6.9" text-anchor="end" fill="#333">3,000</text>
<line x1="470.9" y1="591.8" x2="474.8" y2="591.8" stroke="#7a7a7a" stroke-width="0.8"/>
<text x="468" y="594.25" font-size="6.9" text-anchor="end" fill="#333">2,000</text>
<line x1="470.9" y1="624.9" x2="474.8" y2="624.9" stroke="#7a7a7a" stroke-width="0.8"/>
<text x="468" y="627.35" font-size="6.9" text-anchor="end" fill="#333">1,000</text>
<line x1="470.9" y1="658" x2="474.8" y2="658" stroke="#7a7a7a" stroke-width="0.8"/>
<text x="468" y="660.45" font-size="6.9" text-anchor="end" fill="#333">0</text>
<line x1="474.8" y1="658" x2="562.3" y2="658" stroke="#7a7a7a" stroke-width="0.8"/>
<text x="436.2" y="608.5" font-size="7.3" text-anchor="middle" transform="rotate(-90 436.2 608.5)">Muscle fiber CSA (μm<tspan dy="-2.2" font-size="4.6">2</tspan>)</text>
<text x="445.6" y="608.5" font-size="7.3" text-anchor="middle" transform="rotate(-90 445.6 608.5)">(day 9)</text>
<rect x="479.1" y="633.17" width="7.2" height="24.83" fill="#bdbdbd" stroke="#2a2a2a" stroke-width="0.8"/>
<rect x="488" y="631.52" width="7.2" height="26.48" fill="#fdd9c2" stroke="#2a2a2a" stroke-width="0.8"/>
<line x1="482.7" y1="638.14" x2="482.7" y2="628.21" stroke="#222" stroke-width="0.7"/>
<line x1="480.9" y1="638.14" x2="484.5" y2="638.14" stroke="#222" stroke-width="0.7"/>
<line x1="480.9" y1="628.21" x2="484.5" y2="628.21" stroke="#222" stroke-width="0.7"/>
<line x1="491.6" y1="638.14" x2="491.6" y2="624.9" stroke="#222" stroke-width="0.7"/>
<line x1="489.8" y1="638.14" x2="493.4" y2="638.14" stroke="#222" stroke-width="0.7"/>
<line x1="489.8" y1="624.9" x2="493.4" y2="624.9" stroke="#222" stroke-width="0.7"/>
<circle cx="483.87" cy="622.25" r="1.5" fill="#000"/>
<circle cx="482.7" cy="628.21" r="1.5" fill="#000"/>
<circle cx="480.85" cy="630.86" r="1.5" fill="#000"/>
<circle cx="482.94" cy="632.18" r="1.5" fill="#000"/>
<circle cx="481.47" cy="633.17" r="1.5" fill="#000"/>
<circle cx="482.86" cy="634.83" r="1.5" fill="#000"/>
<circle cx="485.06" cy="636.49" r="1.5" fill="#000"/>
<circle cx="482.88" cy="638.14" r="1.5" fill="#000"/>
<circle cx="480.52" cy="643.11" r="1.5" fill="#000"/>
<polygon points="492.86,623.32 494.51,620.47 491.21,620.47" fill="#f59a55"/>
<polygon points="492.99,626.62 494.64,623.77 491.34,623.77" fill="#f59a55"/>
<polygon points="489.87,629.94 491.52,627.09 488.22,627.09" fill="#f59a55"/>
<polygon points="493.47,631.59 495.12,628.74 491.82,628.74" fill="#f59a55"/>
<polygon points="493.18,633.25 494.83,630.39 491.53,630.39" fill="#f59a55"/>
<polygon points="493.16,636.56 494.81,633.71 491.51,633.71" fill="#f59a55"/>
<polygon points="492.59,638.21 494.24,635.36 490.94,635.36" fill="#f59a55"/>
<polygon points="493.82,641.52 495.47,638.67 492.17,638.67" fill="#f59a55"/>
<rect x="500.3" y="637.48" width="7.2" height="20.52" fill="#bdbdbd" stroke="#2a2a2a" stroke-width="0.8"/>
<rect x="509.2" y="641.45" width="7.2" height="16.55" fill="#fdd9c2" stroke="#2a2a2a" stroke-width="0.8"/>
<line x1="503.9" y1="642.11" x2="503.9" y2="632.84" stroke="#222" stroke-width="0.7"/>
<line x1="502.1" y1="642.11" x2="505.7" y2="642.11" stroke="#222" stroke-width="0.7"/>
<line x1="502.1" y1="632.84" x2="505.7" y2="632.84" stroke="#222" stroke-width="0.7"/>
<line x1="512.8" y1="644.1" x2="512.8" y2="638.8" stroke="#222" stroke-width="0.7"/>
<line x1="511" y1="644.1" x2="514.6" y2="644.1" stroke="#222" stroke-width="0.7"/>
<line x1="511" y1="638.8" x2="514.6" y2="638.8" stroke="#222" stroke-width="0.7"/>
<circle cx="501.76" cy="628.21" r="1.5" fill="#000"/>
<circle cx="502.26" cy="629.87" r="1.5" fill="#000"/>
<circle cx="506.14" cy="633.17" r="1.5" fill="#000"/>
<circle cx="502.71" cy="634.83" r="1.5" fill="#000"/>
<circle cx="501.89" cy="636.49" r="1.5" fill="#000"/>
<circle cx="502.01" cy="638.14" r="1.5" fill="#000"/>
<circle cx="504.03" cy="639.79" r="1.5" fill="#000"/>
<circle cx="503.4" cy="643.11" r="1.5" fill="#000"/>
<circle cx="504.96" cy="644.76" r="1.5" fill="#000"/>
<polygon points="514.42,638.21 516.07,635.36 512.77,635.36" fill="#f59a55"/>
<polygon points="512.2,639.87 513.85,637.01 510.55,637.01" fill="#f59a55"/>
<polygon points="513.94,641.52 515.59,638.67 512.29,638.67" fill="#f59a55"/>
<polygon points="511.87,643.18 513.52,640.33 510.22,640.33" fill="#f59a55"/>
<polygon points="512.25,644.83 513.9,641.98 510.6,641.98" fill="#f59a55"/>
<polygon points="514.65,646.49 516.3,643.63 513,643.63" fill="#f59a55"/>
<polygon points="511.96,647.15 513.61,644.3 510.31,644.3" fill="#f59a55"/>
<rect x="522" y="605.04" width="7.2" height="52.96" fill="#bdbdbd" stroke="#2a2a2a" stroke-width="0.8"/>
<rect x="530.8" y="614.97" width="7.2" height="43.03" fill="#fdd9c2" stroke="#2a2a2a" stroke-width="0.8"/>
<line x1="525.6" y1="611.66" x2="525.6" y2="598.42" stroke="#222" stroke-width="0.7"/>
<line x1="523.8" y1="611.66" x2="527.4" y2="611.66" stroke="#222" stroke-width="0.7"/>
<line x1="523.8" y1="598.42" x2="527.4" y2="598.42" stroke="#222" stroke-width="0.7"/>
<line x1="534.4" y1="619.93" x2="534.4" y2="610" stroke="#222" stroke-width="0.7"/>
<line x1="532.6" y1="619.93" x2="536.2" y2="619.93" stroke="#222" stroke-width="0.7"/>
<line x1="532.6" y1="610" x2="536.2" y2="610" stroke="#222" stroke-width="0.7"/>
<circle cx="526.93" cy="590.14" r="1.5" fill="#000"/>
<circle cx="523.26" cy="595.11" r="1.5" fill="#000"/>
<circle cx="524.69" cy="596.76" r="1.5" fill="#000"/>
<circle cx="525.28" cy="600.08" r="1.5" fill="#000"/>
<circle cx="524.65" cy="603.38" r="1.5" fill="#000"/>
<circle cx="527.86" cy="605.04" r="1.5" fill="#000"/>
<circle cx="526.64" cy="608.35" r="1.5" fill="#000"/>
<circle cx="526.96" cy="611.66" r="1.5" fill="#000"/>
<circle cx="527.21" cy="614.97" r="1.5" fill="#000"/>
<circle cx="525.16" cy="616.62" r="1.5" fill="#000"/>
<polygon points="534.99,608.42 536.64,605.57 533.34,605.57" fill="#f59a55"/>
<polygon points="536.23,610.08 537.88,607.23 534.58,607.23" fill="#f59a55"/>
<polygon points="533.28,611.73 534.93,608.88 531.63,608.88" fill="#f59a55"/>
<polygon points="535.2,613.38 536.85,610.53 533.55,610.53" fill="#f59a55"/>
<polygon points="534.41,616.7 536.06,613.85 532.76,613.85" fill="#f59a55"/>
<polygon points="534.64,618.35 536.29,615.5 532.99,615.5" fill="#f59a55"/>
<polygon points="532.61,620 534.26,617.15 530.96,617.15" fill="#f59a55"/>
<polygon points="534.64,621.66 536.29,618.81 532.99,618.81" fill="#f59a55"/>
<polygon points="534.02,624.97 535.67,622.12 532.37,622.12" fill="#f59a55"/>
<rect x="543.6" y="628.87" width="7.2" height="29.13" fill="#bdbdbd" stroke="#2a2a2a" stroke-width="0.8"/>
<rect x="552.4" y="634.17" width="7.2" height="23.83" fill="#fdd9c2" stroke="#2a2a2a" stroke-width="0.8"/>
<line x1="547.2" y1="634.83" x2="547.2" y2="623.25" stroke="#222" stroke-width="0.7"/>
<line x1="545.4" y1="634.83" x2="549" y2="634.83" stroke="#222" stroke-width="0.7"/>
<line x1="545.4" y1="623.25" x2="549" y2="623.25" stroke="#222" stroke-width="0.7"/>
<line x1="556" y1="637.48" x2="556" y2="630.86" stroke="#222" stroke-width="0.7"/>
<line x1="554.2" y1="637.48" x2="557.8" y2="637.48" stroke="#222" stroke-width="0.7"/>
<line x1="554.2" y1="630.86" x2="557.8" y2="630.86" stroke="#222" stroke-width="0.7"/>
<circle cx="544.91" cy="616.62" r="1.5" fill="#000"/>
<circle cx="547.83" cy="621.59" r="1.5" fill="#000"/>
<circle cx="546.42" cy="624.9" r="1.5" fill="#000"/>
<circle cx="548.38" cy="626.55" r="1.5" fill="#000"/>
<circle cx="547.03" cy="628.21" r="1.5" fill="#000"/>
<circle cx="544.83" cy="629.87" r="1.5" fill="#000"/>
<circle cx="549.03" cy="633.17" r="1.5" fill="#000"/>
<circle cx="547.33" cy="636.49" r="1.5" fill="#000"/>
<circle cx="548.8" cy="639.79" r="1.5" fill="#000"/>
<polygon points="554.22,628.28 555.87,625.43 552.57,625.43" fill="#f59a55"/>
<polygon points="557.63,629.94 559.28,627.09 555.98,627.09" fill="#f59a55"/>
<polygon points="557.58,631.59 559.23,628.74 555.93,628.74" fill="#f59a55"/>
<polygon points="556.69,633.25 558.34,630.39 555.04,630.39" fill="#f59a55"/>
<polygon points="555.01,634.9 556.66,632.05 553.36,632.05" fill="#f59a55"/>
<polygon points="555.3,636.56 556.95,633.71 553.65,633.71" fill="#f59a55"/>
<polygon points="558,638.21 559.65,635.36 556.35,635.36" fill="#f59a55"/>
<polygon points="556.46,639.87 558.11,637.01 554.81,637.01" fill="#f59a55"/>
<polyline points="525.2,601.9 525.2,578 534.5,578 534.5,610" fill="none" stroke="#9a9a9a" stroke-width="0.8" stroke-linejoin="round"/>
<text x="529.85" y="578.5" font-size="9" text-anchor="middle" font-weight="bold" letter-spacing="0.5">*</text>
<text x="529.85" y="565" font-size="5.8" text-anchor="middle">−18.3%</text>
<polyline points="504,627 504,604.5 514.6,604.5 514.6,634.5" fill="none" stroke="#9a9a9a" stroke-width="0.8" stroke-linejoin="round"/>
<text x="509.3" y="592.2" font-size="5.9" text-anchor="middle">−20.5%</text>
<text x="509.3" y="601.4" font-size="5.9" text-anchor="middle"><tspan font-style="italic">P</tspan> = 0.083</text>
<line x1="487.2" y1="658" x2="487.2" y2="660.5" stroke="#7a7a7a" stroke-width="0.8"/>
<line x1="508.3" y1="658" x2="508.3" y2="660.5" stroke="#7a7a7a" stroke-width="0.8"/>
<line x1="530" y1="658" x2="530" y2="660.5" stroke="#7a7a7a" stroke-width="0.8"/>
<line x1="551.6" y1="658" x2="551.6" y2="660.5" stroke="#7a7a7a" stroke-width="0.8"/>
<text x="490.8" y="668.5" font-size="6.8" text-anchor="end" transform="rotate(-45 490.8 668.5)">Type I</text>
<text x="511.9" y="668.5" font-size="6.8" text-anchor="end" transform="rotate(-45 511.9 668.5)">Type IIa</text>
<text x="533.6" y="668.5" font-size="6.8" text-anchor="end" transform="rotate(-45 533.6 668.5)">Type IIb</text>
<text x="555.2" y="668.5" font-size="6.8" text-anchor="end" transform="rotate(-45 555.2 668.5)">Type IIx</text>
</svg></body></html>
